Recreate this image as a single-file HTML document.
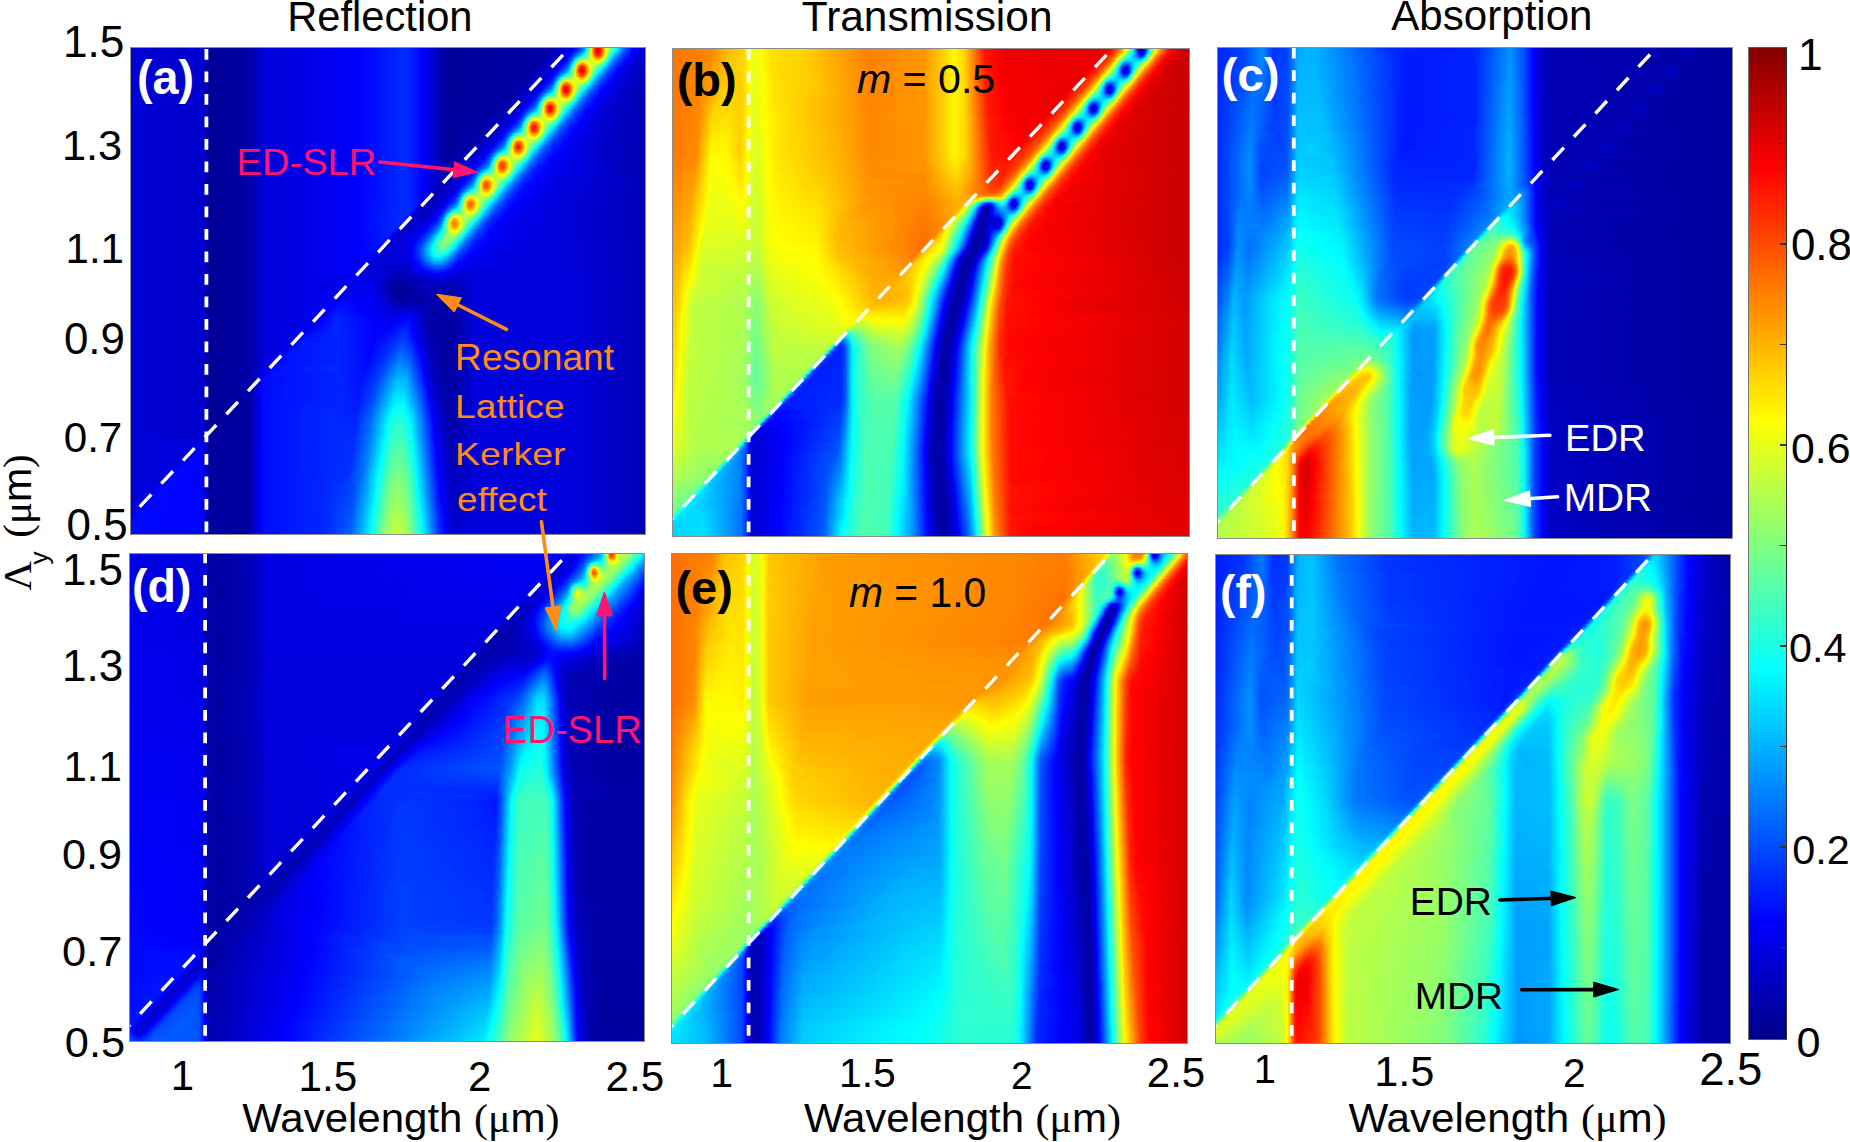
<!DOCTYPE html><html><head><meta charset="utf-8"><style>
html,body{margin:0;padding:0;background:#fff;width:1850px;height:1142px;overflow:hidden}
.p{position:absolute;border:1px solid #8c8c8c;overflow:hidden}
.q{position:absolute;left:0;top:-4px;width:100%;filter:url(#jet)}
.q i{position:absolute;left:0;width:100%;display:block}
svg{position:absolute;left:0;top:0}
text{font-family:"Liberation Sans",Arial,sans-serif}
</style></head><body>
<svg width="0" height="0" style="position:absolute"><filter id="jet" x="0" y="0" width="100%" height="100%" color-interpolation-filters="sRGB"><feGaussianBlur stdDeviation="0.4 1.2"/><feComponentTransfer><feFuncR type="table" tableValues="0 0 0 0 .5 1 1 1 .5"/><feFuncG type="table" tableValues="0 0 .5 1 1 1 .5 0 0"/><feFuncB type="table" tableValues=".5 1 1 1 .5 0 0 0 0"/></feComponentTransfer></filter></svg>
<div class="p" style="left:130px;top:47px;width:514px;height:486px"><div class="q" style="height:494px">
<i style="top:0px;height:5px;background:linear-gradient(90deg,#161616 0px,#141414 70px,#060606 80px,#0b0b0b 119px,#171717 134px,#1e1e1e 217px,#2b2b2b 275px,#242424 287px,#070707 316px,#0a0a0a 419px,#151515 436px,#242424 446px,#3a3a3a 452px,#505050 455px,#787878 458px,#c8c8c8 463px,#dcdcdc 465px,#e3e3e3 467px,#dbdbdb 469px,#969696 476px,#3c3c3c 493px,#232323 501px,#151515 513px)"></i>
<i style="top:5px;height:4px;background:linear-gradient(90deg,#161616 0px,#141414 70px,#060606 80px,#0b0b0b 119px,#171717 134px,#1e1e1e 217px,#2b2b2b 275px,#242424 287px,#070707 316px,#0a0a0a 417px,#151515 434px,#242424 444px,#3d3d3d 451px,#505050 454px,#717171 457px,#ccc 463px,#e0e0e0 465px,#e7e7e7 467px,#dfdfdf 469px,#949494 476px,#6a6a6a 482px,#393939 492px,#212121 501px,#141414 513px)"></i>
<i style="top:9px;height:4px;background:linear-gradient(90deg,#161616 0px,#141414 70px,#060606 80px,#0b0b0b 119px,#171717 134px,#1e1e1e 217px,#2b2b2b 275px,#242424 287px,#070707 316px,#0a0a0a 414px,#151515 431px,#232323 440px,#484848 448px,#6c6c6c 455px,#878787 458px,#ccc 464px,#d8d8d8 466px,#d7d7d7 468px,#c1c1c1 471px,#757575 478px,#525252 483px,#323232 491px,#1c1c1c 502px,#131313 513px)"></i>
<i style="top:13px;height:4px;background:linear-gradient(90deg,#161616 0px,#141414 70px,#060606 80px,#0b0b0b 119px,#171717 134px,#1e1e1e 217px,#2b2b2b 275px,#242424 287px,#070707 316px,#0a0a0a 411px,#161616 428px,#212121 436px,#363636 441px,#777 449px,#838383 452px,#8d8d8d 458px,#b4b4b4 465px,#b6b6b6 468px,#a4a4a4 471px,#5a5a5a 479px,#3e3e3e 484px,#252525 493px,#151515 507px,#121212 513px)"></i>
<i style="top:17px;height:4px;background:linear-gradient(90deg,#161616 0px,#141414 70px,#060606 80px,#0b0b0b 119px,#171717 134px,#1e1e1e 217px,#2b2b2b 275px,#242424 287px,#070707 316px,#0a0a0a 408px,#161616 425px,#232323 434px,#333 438px,#4c4c4c 441px,#a4a4a4 448px,#b1b1b1 450px,#b3b3b3 452px,#969696 459px,#949494 467px,#818181 471px,#484848 479px,#303030 485px,#1c1c1c 496px,#111 513px)"></i>
<i style="top:21px;height:4px;background:linear-gradient(90deg,#161616 0px,#141414 70px,#060606 80px,#0b0b0b 119px,#171717 134px,#1e1e1e 217px,#2b2b2b 275px,#242424 287px,#070707 316px,#0a0a0a 405px,#181818 424px,#292929 433px,#3b3b3b 437px,#565656 440px,#808080 443px,#bfbfbf 447px,#d4d4d4 449px,#dbdbdb 451px,#d4d4d4 453px,#9d9d9d 459px,#848484 464px,#636363 471px,#393939 479px,#222 488px,#141414 503px,#111 513px)"></i>
<i style="top:25px;height:4px;background:linear-gradient(90deg,#161616 0px,#141414 70px,#060606 80px,#0b0b0b 119px,#171717 134px,#1e1e1e 217px,#2b2b2b 275px,#242424 287px,#070707 316px,#0a0a0a 402px,#191919 422px,#2d2d2d 430px,#4c4c4c 437px,#666 440px,#9f9f9f 444px,#cbcbcb 447px,#dfdfdf 449px,#e7e7e7 451px,#dfdfdf 453px,#8a8a8a 461px,#626262 467px,#383838 476px,#212121 486px,#121212 503px,#101010 513px)"></i>
<i style="top:29px;height:4px;background:linear-gradient(90deg,#161616 0px,#141414 70px,#060606 80px,#0b0b0b 119px,#171717 134px,#1e1e1e 217px,#2b2b2b 275px,#242424 287px,#070707 316px,#0a0a0a 399px,#191919 419px,#292929 425px,#767676 440px,#9c9c9c 444px,#c6c6c6 448px,#d1d1d1 450px,#d1d1d1 452px,#bcbcbc 455px,#737373 462px,#505050 467px,#313131 475px,#1c1c1c 486px,#101010 507px,#0f0f0f 513px)"></i>
<i style="top:33px;height:4px;background:linear-gradient(90deg,#161616 0px,#141414 70px,#060606 80px,#0b0b0b 119px,#171717 134px,#1e1e1e 217px,#2b2b2b 275px,#242424 287px,#070707 316px,#0a0a0a 396px,#191919 416px,#292929 422px,#424242 426px,#7b7b7b 432px,#8b8b8b 435px,#8f8f8f 442px,#afafaf 450px,#a9a9a9 453px,#8c8c8c 457px,#575757 463px,#3d3d3d 468px,#252525 477px,#151515 492px,#0f0f0f 513px)"></i>
<i style="top:37px;height:4px;background:linear-gradient(90deg,#161616 0px,#141414 70px,#060606 80px,#0b0b0b 119px,#171717 134px,#1e1e1e 217px,#2b2b2b 275px,#242424 287px,#070707 316px,#0a0a0a 393px,#1a1a1a 413px,#2c2c2c 420px,#3d3d3d 423px,#5d5d5d 426px,#a3a3a3 431px,#b7b7b7 433px,#bebebe 435px,#b5b5b5 438px,#989898 443px,#8b8b8b 452px,#6d6d6d 457px,#464646 463px,#2d2d2d 470px,#1a1a1a 482px,#0f0f0f 507px,#0f0f0f 513px)"></i>
<i style="top:41px;height:4px;background:linear-gradient(90deg,#161616 0px,#141414 70px,#060606 80px,#0b0b0b 119px,#171717 134px,#1e1e1e 217px,#2b2b2b 275px,#242424 287px,#070707 316px,#0a0a0a 389px,#1b1b1b 410px,#333 419px,#454545 422px,#656565 425px,#c4c4c4 431px,#d9d9d9 433px,#e0e0e0 435px,#d9d9d9 437px,#979797 444px,#3c3c3c 462px,#242424 471px,#151515 487px,#0f0f0f 513px)"></i>
<i style="top:45px;height:4px;background:linear-gradient(90deg,#161616 0px,#141414 70px,#060606 80px,#0b0b0b 119px,#171717 134px,#1e1e1e 217px,#2b2b2b 275px,#242424 287px,#070707 316px,#0a0a0a 386px,#191919 406px,#303030 414px,#4f4f4f 421px,#686868 424px,#d4d4d4 432px,#e3e3e3 434px,#e2e2e2 436px,#d4d4d4 438px,#898989 445px,#5f5f5f 451px,#3a3a3a 459px,#222 469px,#141414 487px,#0e0e0e 513px)"></i>
<i style="top:49px;height:4px;background:linear-gradient(90deg,#161616 0px,#141414 70px,#060606 80px,#0b0b0b 119px,#171717 134px,#1e1e1e 217px,#2b2b2b 275px,#242424 287px,#070707 316px,#0b0b0b 384px,#1a1a1a 403px,#2c2c2c 409px,#656565 419px,#797979 424px,#9a9a9a 428px,#bfbfbf 432px,#cacaca 434px,#c9c9c9 436px,#b6b6b6 439px,#707070 446px,#4e4e4e 451px,#303030 459px,#1c1c1c 471px,#0f0f0f 499px,#0e0e0e 513px)"></i>
<i style="top:53px;height:4px;background:linear-gradient(90deg,#161616 0px,#141414 70px,#060606 80px,#0b0b0b 119px,#171717 134px,#1e1e1e 217px,#2b2b2b 275px,#242424 287px,#070707 316px,#0b0b0b 381px,#1a1a1a 400px,#2b2b2b 406px,#464646 410px,#858585 416px,#959595 419px,#929292 427px,#a7a7a7 434px,#a2a2a2 437px,#868686 441px,#555 447px,#383838 453px,#222 463px,#141414 481px,#0e0e0e 513px)"></i>
<i style="top:57px;height:4px;background:linear-gradient(90deg,#161616 0px,#141414 70px,#060606 80px,#0b0b0b 119px,#171717 134px,#1e1e1e 217px,#2b2b2b 275px,#242424 287px,#070707 316px,#0b0b0b 378px,#191919 396px,#2e2e2e 404px,#404040 407px,#606060 410px,#aaa 415px,#bebebe 417px,#c5c5c5 419px,#c1c1c1 421px,#999 427px,#848484 436px,#616161 442px,#3f3f3f 448px,#292929 456px,#181818 471px,#0e0e0e 509px,#0e0e0e 513px)"></i>
<i style="top:61px;height:4px;background:linear-gradient(90deg,#161616 0px,#141414 70px,#060606 80px,#0b0b0b 119px,#171717 134px,#1e1e1e 217px,#2b2b2b 275px,#242424 287px,#070707 316px,#0b0b0b 375px,#181818 392px,#313131 402px,#474747 406px,#676767 409px,#c4c4c4 415px,#dadada 417px,#e2e2e2 419px,#dadada 421px,#969696 428px,#565656 440px,#373737 447px,#222 457px,#141414 477px,#0e0e0e 513px)"></i>
<i style="top:65px;height:4px;background:linear-gradient(90deg,#161616 0px,#141414 70px,#060606 80px,#0b0b0b 119px,#171717 134px,#1e1e1e 217px,#2b2b2b 275px,#242424 287px,#070707 316px,#0b0b0b 372px,#191919 389px,#303030 397px,#595959 406px,#747474 409px,#cecece 416px,#dcdcdc 418px,#dcdcdc 420px,#cfcfcf 422px,#868686 429px,#5c5c5c 435px,#3a3a3a 443px,#232323 453px,#151515 472px,#0e0e0e 513px)"></i>
<i style="top:69px;height:4px;background:linear-gradient(90deg,#161616 0px,#141414 70px,#060606 80px,#0b0b0b 119px,#171717 134px,#1e1e1e 217px,#2b2b2b 275px,#242424 287px,#070707 316px,#0b0b0b 369px,#181818 385px,#2a2a2a 392px,#4f4f4f 398px,#6c6c6c 403px,#818181 409px,#bcbcbc 417px,#bfbfbf 420px,#aeaeae 423px,#656565 431px,#474747 436px,#2e2e2e 444px,#1c1c1c 457px,#0f0f0f 491px,#0e0e0e 513px)"></i>
<i style="top:73px;height:4px;background:linear-gradient(90deg,#161616 0px,#141414 70px,#060606 80px,#0b0b0b 119px,#171717 134px,#1e1e1e 217px,#2b2b2b 275px,#242424 287px,#070707 316px,#0c0c0c 366px,#191919 382px,#292929 389px,#414141 393px,#8c8c8c 400px,#9d9d9d 403px,#9b9b9b 406px,#929292 411px,#9f9f9f 418px,#999 421px,#7f7f7f 425px,#525252 431px,#383838 437px,#222 448px,#141414 471px,#0e0e0e 513px)"></i>
<i style="top:77px;height:4px;background:linear-gradient(90deg,#161616 0px,#141414 70px,#060606 80px,#0b0b0b 119px,#171717 134px,#1e1e1e 217px,#2b2b2b 275px,#242424 287px,#070707 316px,#0c0c0c 363px,#191919 379px,#2c2c2c 387px,#424242 391px,#636363 394px,#adadad 399px,#c2c2c2 401px,#cacaca 403px,#c5c5c5 405px,#9a9a9a 411px,#7a7a7a 421px,#424242 431px,#2b2b2b 439px,#1a1a1a 454px,#0e0e0e 498px,#0e0e0e 513px)"></i>
<i style="top:81px;height:4px;background:linear-gradient(90deg,#161616 0px,#141414 70px,#060606 80px,#0b0b0b 119px,#171717 134px,#1e1e1e 217px,#2b2b2b 275px,#242424 287px,#070707 316px,#0c0c0c 360px,#191919 375px,#313131 385px,#424242 389px,#5b5b5b 392px,#848484 395px,#c2c2c2 399px,#d7d7d7 401px,#dfdfdf 403px,#d8d8d8 405px,#959595 412px,#676767 420px,#3d3d3d 429px,#272727 438px,#181818 456px,#0e0e0e 508px,#0e0e0e 513px)"></i>
<i style="top:85px;height:4px;background:linear-gradient(90deg,#161616 0px,#141414 70px,#060606 80px,#0b0b0b 119px,#171717 134px,#1e1e1e 217px,#2b2b2b 275px,#242424 287px,#070707 316px,#0c0c0c 357px,#191919 372px,#2f2f2f 380px,#5c5c5c 390px,#747474 393px,#c6c6c6 400px,#d3d3d3 402px,#d3d3d3 404px,#bfbfbf 407px,#838383 413px,#5a5a5a 419px,#393939 427px,#232323 438px,#151515 463px,#0e0e0e 513px)"></i>
<i style="top:89px;height:4px;background:linear-gradient(90deg,#161616 0px,#141414 70px,#060606 80px,#0b0b0b 119px,#171717 134px,#1e1e1e 217px,#2b2b2b 275px,#242424 287px,#070707 316px,#0c0c0c 353px,#181818 368px,#292929 375px,#454545 380px,#6f6f6f 386px,#878787 394px,#b2b2b2 401px,#b5b5b5 404px,#a5a5a5 407px,#616161 415px,#424242 421px,#2a2a2a 430px,#1b1b1b 446px,#0e0e0e 497px,#0e0e0e 513px)"></i>
<i style="top:93px;height:4px;background:linear-gradient(90deg,#161616 0px,#141414 70px,#060606 80px,#0b0b0b 119px,#171717 134px,#1e1e1e 217px,#2b2b2b 275px,#242424 287px,#070707 316px,#0c0c0c 350px,#191919 365px,#2b2b2b 373px,#444 377px,#939393 384px,#a4a4a4 387px,#a1a1a1 390px,#929292 395px,#969696 403px,#868686 407px,#4f4f4f 415px,#373737 421px,#232323 432px,#151515 459px,#0e0e0e 513px)"></i>
<i style="top:97px;height:4px;background:linear-gradient(90deg,#161616 0px,#141414 70px,#060606 80px,#0b0b0b 119px,#171717 134px,#1e1e1e 217px,#2b2b2b 275px,#242424 287px,#070707 316px,#0d0d0d 347px,#181818 361px,#2e2e2e 371px,#444 375px,#646464 378px,#afafaf 383px,#c4c4c4 385px,#cdcdcd 387px,#c8c8c8 389px,#9a9a9a 395px,#707070 406px,#404040 415px,#2b2b2b 423px,#1c1c1c 439px,#0f0f0f 494px,#0e0e0e 513px)"></i>
<i style="top:101px;height:4px;background:linear-gradient(90deg,#161616 0px,#141414 70px,#060606 80px,#0b0b0b 119px,#171717 134px,#1e1e1e 217px,#2b2b2b 275px,#242424 287px,#070707 316px,#0d0d0d 344px,#191919 358px,#303030 368px,#454545 373px,#5c5c5c 376px,#828282 379px,#bebebe 383px,#d3d3d3 385px,#dbdbdb 387px,#d5d5d5 389px,#939393 396px,#646464 404px,#3b3b3b 413px,#272727 422px,#191919 443px,#0e0e0e 506px,#0e0e0e 513px)"></i>
<i style="top:105px;height:4px;background:linear-gradient(90deg,#161616 0px,#141414 70px,#060606 80px,#0b0b0b 119px,#171717 134px,#1e1e1e 217px,#2b2b2b 275px,#242424 287px,#070707 316px,#0e0e0e 341px,#1a1a1a 355px,#2a2a2a 362px,#656565 375px,#878787 379px,#bdbdbd 384px,#c9c9c9 386px,#cacaca 388px,#b7b7b7 391px,#787878 398px,#525252 404px,#353535 412px,#232323 423px,#131313 462px,#0e0e0e 513px)"></i>
<i style="top:109px;height:4px;background:linear-gradient(90deg,#161616 0px,#141414 70px,#060606 80px,#0b0b0b 119px,#171717 134px,#1e1e1e 217px,#2b2b2b 275px,#242424 287px,#070707 315px,#0e0e0e 338px,#1a1a1a 352px,#2b2b2b 359px,#424242 363px,#717171 369px,#7e7e7e 373px,#878787 378px,#a9a9a9 385px,#ababab 388px,#9d9d9d 391px,#585858 400px,#3c3c3c 406px,#272727 416px,#1a1a1a 438px,#0e0e0e 507px,#0e0e0e 513px)"></i>
<i style="top:113px;height:4px;background:linear-gradient(90deg,#161616 0px,#141414 70px,#060606 80px,#0b0b0b 119px,#171717 134px,#1e1e1e 217px,#2b2b2b 275px,#242424 287px,#080808 315px,#101010 339px,#242424 354px,#383838 359px,#515151 362px,#989898 368px,#a7a7a7 370px,#ababab 372px,#939393 379px,#8f8f8f 387px,#7f7f7f 391px,#484848 400px,#313131 407px,#202020 419px,#101010 482px,#0e0e0e 513px)"></i>
<i style="top:117px;height:4px;background:linear-gradient(90deg,#161616 0px,#141414 70px,#060606 80px,#0b0b0b 119px,#171717 134px,#1e1e1e 217px,#2b2b2b 275px,#242424 287px,#080808 315px,#111 337px,#272727 352px,#383838 357px,#4e4e4e 360px,#737373 363px,#afafaf 367px,#c5c5c5 369px,#cecece 371px,#c9c9c9 373px,#949494 380px,#6b6b6b 390px,#3e3e3e 399px,#292929 408px,#1d1d1d 424px,#0e0e0e 503px,#0e0e0e 513px)"></i>
<i style="top:121px;height:4px;background:linear-gradient(90deg,#161616 0px,#141414 70px,#060606 80px,#0b0b0b 119px,#171717 134px,#1e1e1e 217px,#2b2b2b 275px,#242424 287px,#090909 315px,#121212 335px,#272727 348px,#474747 357px,#5d5d5d 360px,#808080 363px,#c4c4c4 368px,#d2d2d2 370px,#d4d4d4 372px,#bfbfbf 375px,#919191 380px,#616161 388px,#3a3a3a 397px,#252525 407px,#1b1b1b 426px,#0e0e0e 507px,#0e0e0e 513px)"></i>
<i style="top:125px;height:4px;background:linear-gradient(90deg,#161616 0px,#141414 70px,#060606 80px,#0b0b0b 119px,#171717 134px,#1e1e1e 217px,#2b2b2b 275px,#242424 287px,#090909 315px,#121212 332px,#262626 344px,#454545 351px,#6e6e6e 360px,#8f8f8f 364px,#b4b4b4 368px,#c0c0c0 371px,#b6b6b6 374px,#676767 384px,#434343 391px,#2b2b2b 400px,#1e1e1e 414px,#0e0e0e 506px,#0e0e0e 513px)"></i>
<i style="top:129px;height:4px;background:linear-gradient(90deg,#161616 0px,#141414 70px,#060606 80px,#0b0b0b 119px,#171717 134px,#1e1e1e 217px,#2b2b2b 275px,#242424 287px,#0a0a0a 314px,#121212 329px,#262626 341px,#373737 345px,#777 353px,#838383 356px,#8a8a8a 363px,#a2a2a2 370px,#9e9e9e 373px,#878787 377px,#555 384px,#383838 391px,#252525 401px,#1b1b1b 421px,#0e0e0e 513px)"></i>
<i style="top:133px;height:4px;background:linear-gradient(90deg,#161616 0px,#141414 70px,#060606 80px,#0b0b0b 119px,#171717 134px,#1e1e1e 217px,#2b2b2b 275px,#232323 288px,#0b0b0b 314px,#141414 328px,#2b2b2b 340px,#404040 344px,#5e5e5e 347px,#9c9c9c 352px,#ababab 354px,#afafaf 356px,#919191 364px,#878787 372px,#676767 378px,#414141 385px,#2a2a2a 394px,#1d1d1d 409px,#0e0e0e 512px,#0e0e0e 513px)"></i>
<i style="top:137px;height:4px;background:linear-gradient(90deg,#161616 0px,#141414 70px,#060606 80px,#0b0b0b 119px,#171717 134px,#1e1e1e 217px,#2b2b2b 275px,#232323 288px,#0b0b0b 314px,#181818 328px,#323232 339px,#474747 343px,#666 346px,#bababa 352px,#cacaca 354px,#ccc 356px,#bababa 359px,#939393 364px,#5c5c5c 376px,#393939 384px,#252525 394px,#1b1b1b 413px,#0e0e0e 513px)"></i>
<i style="top:141px;height:4px;background:linear-gradient(90deg,#161616 0px,#141414 70px,#060606 80px,#0b0b0b 119px,#171717 134px,#1e1e1e 217px,#2b2b2b 275px,#232323 288px,#0c0c0c 311px,#171717 325px,#2f2f2f 334px,#4f4f4f 342px,#676767 345px,#bcbcbc 352px,#cbcbcb 354px,#ccc 356px,#bababa 359px,#878787 365px,#4f4f4f 375px,#333 383px,#222 394px,#1a1a1a 421px,#0e0e0e 513px)"></i>
<i style="top:145px;height:4px;background:linear-gradient(90deg,#161616 0px,#141414 70px,#060606 80px,#0b0b0b 119px,#171717 134px,#1e1e1e 217px,#2b2b2b 275px,#232323 288px,#0c0c0c 308px,#191919 323px,#292929 329px,#606060 340px,#757575 345px,#b1b1b1 353px,#b5b5b5 356px,#a7a7a7 359px,#646464 368px,#414141 375px,#2a2a2a 384px,#1d1d1d 398px,#0e0e0e 513px)"></i>
<i style="top:149px;height:4px;background:linear-gradient(90deg,#161616 0px,#141414 70px,#060606 80px,#0b0b0b 119px,#171717 134px,#1e1e1e 217px,#2b2b2b 275px,#232323 288px,#141414 299px,#0c0c0c 305px,#1b1b1b 321px,#2c2c2c 327px,#474747 331px,#7d7d7d 337px,#898989 340px,#8a8a8a 347px,#9b9b9b 354px,#969696 357px,#7a7a7a 362px,#4d4d4d 369px,#343434 376px,#222 387px,#1a1a1a 412px,#0e0e0e 513px)"></i>
<i style="top:153px;height:4px;background:linear-gradient(90deg,#161616 0px,#141414 70px,#060606 80px,#0b0b0b 119px,#171717 134px,#1e1e1e 217px,#2b2b2b 274px,#242424 287px,#181818 295px,#0d0d0d 300px,#171717 315px,#292929 324px,#404040 328px,#5f5f5f 331px,#9f9f9f 336px,#aeaeae 338px,#b2b2b2 340px,#919191 348px,#818181 356px,#5d5d5d 363px,#3c3c3c 370px,#262626 380px,#1b1b1b 397px,#0e0e0e 513px)"></i>
<i style="top:157px;height:4px;background:linear-gradient(90deg,#161616 0px,#141414 70px,#060606 80px,#0b0b0b 119px,#171717 134px,#1e1e1e 217px,#2b2b2b 274px,#252525 286px,#181818 292px,#0d0d0d 297px,#171717 312px,#2d2d2d 322px,#3f3f3f 326px,#595959 329px,#b7b7b7 336px,#c6c6c6 338px,#c9c9c9 340px,#b8b8b8 343px,#929292 348px,#3f3f3f 366px,#282828 375px,#1c1c1c 390px,#0e0e0e 513px)"></i>
<i style="top:161px;height:4px;background:linear-gradient(90deg,#161616 0px,#141414 70px,#060606 80px,#0b0b0b 119px,#171717 134px,#1e1e1e 217px,#2b2b2b 274px,#272727 284px,#0e0e0e 292px,#131313 305px,#212121 314px,#4b4b4b 325px,#666 329px,#b4b4b4 336px,#c2c2c2 338px,#c4c4c4 340px,#b3b3b3 343px,#7e7e7e 350px,#4d4d4d 359px,#323232 367px,#202020 379px,#191919 410px,#0e0e0e 513px)"></i>
<i style="top:165px;height:4px;background:linear-gradient(90deg,#161616 0px,#141414 70px,#060606 80px,#0b0b0b 119px,#171717 134px,#1e1e1e 217px,#2b2b2b 274px,#262626 282px,#101010 288px,#101010 297px,#1d1d1d 309px,#2e2e2e 314px,#616161 323px,#7b7b7b 330px,#a8a8a8 337px,#acacac 340px,#a0a0a0 343px,#5b5b5b 353px,#3c3c3c 360px,#262626 370px,#1b1b1b 387px,#0e0e0e 513px)"></i>
<i style="top:169px;height:4px;background:linear-gradient(90deg,#161616 0px,#141414 70px,#060606 80px,#0b0b0b 119px,#171717 134px,#1e1e1e 217px,#2b2b2b 274px,#262626 279px,#0f0f0f 285px,#151515 300px,#252525 309px,#383838 313px,#828282 321px,#8e8e8e 324px,#8c8c8c 332px,#949494 338px,#8c8c8c 342px,#474747 354px,#2e2e2e 362px,#1e1e1e 375px,#191919 418px,#0e0e0e 513px)"></i>
<i style="top:173px;height:4px;background:linear-gradient(90deg,#161616 0px,#141414 70px,#060606 80px,#0b0b0b 119px,#171717 134px,#1e1e1e 217px,#2b2b2b 272px,#242424 276px,#111 281px,#131313 293px,#222 305px,#333 310px,#494949 313px,#7a7a7a 317px,#a0a0a0 320px,#b0b0b0 322px,#b4b4b4 324px,#a8a8a8 327px,#909090 332px,#7d7d7d 340px,#3e3e3e 353px,#282828 362px,#1c1c1c 377px,#141414 458px,#0e0e0e 513px)"></i>
<i style="top:177px;height:4px;background:linear-gradient(90deg,#161616 0px,#141414 70px,#060606 80px,#0b0b0b 119px,#171717 134px,#1e1e1e 217px,#2a2a2a 269px,#212121 273px,#101010 278px,#191919 296px,#2c2c2c 306px,#3e3e3e 310px,#585858 313px,#b2b2b2 320px,#c1c1c1 322px,#c4c4c4 324px,#b4b4b4 327px,#909090 332px,#404040 349px,#292929 358px,#1c1c1c 373px,#141414 456px,#0e0e0e 513px)"></i>
<i style="top:181px;height:4px;background:linear-gradient(90deg,#161616 0px,#141414 70px,#060606 80px,#0b0b0b 119px,#171717 134px,#1e1e1e 217px,#2a2a2a 266px,#111 274px,#191919 292px,#2d2d2d 303px,#454545 309px,#636363 313px,#acacac 320px,#bbb 323px,#b3b3b3 326px,#6f6f6f 336px,#434343 345px,#2a2a2a 354px,#1d1d1d 368px,#141414 457px,#0e0e0e 513px)"></i>
<i style="top:185px;height:4px;background:linear-gradient(90deg,#161616 0px,#141414 70px,#060606 80px,#0b0b0b 119px,#171717 134px,#1e1e1e 217px,#282828 263px,#121212 270px,#171717 286px,#282828 298px,#434343 306px,#6d6d6d 313px,#9c9c9c 320px,#a3a3a3 323px,#9d9d9d 326px,#4e4e4e 339px,#323232 347px,#212121 358px,#191919 384px,#161616 447px,#0e0e0e 513px)"></i>
<i style="top:189px;height:4px;background:linear-gradient(90deg,#161616 0px,#141414 70px,#060606 80px,#0b0b0b 119px,#171717 134px,#1e1e1e 217px,#282828 259px,#121212 267px,#1c1c1c 287px,#2f2f2f 297px,#4e4e4e 305px,#808080 315px,#8f8f8f 321px,#898989 325px,#6a6a6a 331px,#454545 338px,#2b2b2b 347px,#1d1d1d 361px,#191919 417px,#0e0e0e 513px)"></i>
<i style="top:193px;height:4px;background:linear-gradient(90deg,#161616 0px,#141414 70px,#060606 80px,#0b0b0b 119px,#171717 134px,#1e1e1e 217px,#262626 256px,#121212 263px,#1b1b1b 283px,#2f2f2f 294px,#494949 301px,#7b7b7b 311px,#858585 317px,#7f7f7f 322px,#666 328px,#3f3f3f 336px,#292929 345px,#1c1c1c 360px,#151515 451px,#0e0e0e 513px)"></i>
<i style="top:197px;height:4px;background:linear-gradient(90deg,#161616 0px,#141414 70px,#060606 80px,#0b0b0b 119px,#171717 134px,#1e1e1e 217px,#252525 252px,#121212 260px,#1d1d1d 282px,#323232 292px,#555 301px,#7c7c7c 309px,#848484 314px,#787878 320px,#3b3b3b 334px,#252525 344px,#1b1b1b 361px,#161616 448px,#0e0e0e 513px)"></i>
<i style="top:201px;height:4px;background:linear-gradient(90deg,#161616 0px,#141414 70px,#060606 80px,#0b0b0b 119px,#171717 134px,#1e1e1e 217px,#232323 249px,#131313 256px,#1c1c1c 280px,#2e2e2e 289px,#7b7b7b 309px,#7e7e7e 314px,#6a6a6a 320px,#3c3c3c 330px,#282828 339px,#1b1b1b 355px,#161616 448px,#0e0e0e 513px)"></i>
<i style="top:205px;height:4px;background:linear-gradient(90deg,#161616 0px,#141414 70px,#060606 80px,#0b0b0b 119px,#171717 134px,#1e1e1e 217px,#232323 245px,#131313 253px,#1c1c1c 279px,#2d2d2d 288px,#686868 304px,#727272 311px,#6a6a6a 316px,#373737 328px,#252525 337px,#1a1a1a 356px,#161616 446px,#0e0e0e 513px)"></i>
<i style="top:209px;height:4px;background:linear-gradient(90deg,#161616 0px,#141414 70px,#060606 80px,#0b0b0b 119px,#171717 134px,#1e1e1e 217px,#212121 242px,#141414 249px,#1a1a1a 278px,#2a2a2a 287px,#616161 303px,#666 309px,#575757 316px,#2e2e2e 328px,#202020 338px,#181818 367px,#171717 444px,#0e0e0e 513px)"></i>
<i style="top:213px;height:4px;background:linear-gradient(90deg,#161616 0px,#141414 70px,#060606 80px,#0b0b0b 119px,#171717 134px,#1e1e1e 217px,#202020 238px,#151515 246px,#191919 277px,#272727 287px,#565656 303px,#585858 309px,#454545 317px,#282828 327px,#1d1d1d 338px,#181818 383px,#161616 445px,#0e0e0e 513px)"></i>
<i style="top:217px;height:4px;background:linear-gradient(90deg,#161616 0px,#141414 70px,#060606 80px,#0b0b0b 119px,#171717 134px,#1e1e1e 217px,#1f1f1f 235px,#151515 242px,#161616 276px,#252525 288px,#474747 303px,#474747 310px,#212121 327px,#1a1a1a 344px,#161616 446px,#0e0e0e 513px)"></i>
<i style="top:221px;height:4px;background:linear-gradient(90deg,#161616 0px,#141414 70px,#060606 80px,#0b0b0b 119px,#171717 134px,#1e1e1e 217px,#1e1e1e 231px,#161616 239px,#131313 274px,#232323 290px,#383838 304px,#343434 313px,#1b1b1b 328px,#161616 446px,#0e0e0e 513px)"></i>
<i style="top:225px;height:4px;background:linear-gradient(90deg,#161616 0px,#141414 70px,#060606 80px,#0b0b0b 119px,#171717 134px,#1e1e1e 217px,#1d1d1d 228px,#181818 236px,#151515 253px,#0f0f0f 271px,#212121 294px,#2a2a2a 307px,#171717 330px,#171717 442px,#0e0e0e 513px)"></i>
<i style="top:229px;height:4px;background:linear-gradient(90deg,#161616 0px,#141414 70px,#060606 80px,#0b0b0b 119px,#171717 134px,#1e1e1e 217px,#191919 235px,#151515 251px,#0c0c0c 268px,#1f1f1f 307px,#151515 330px,#181818 356px,#171717 443px,#0e0e0e 513px)"></i>
<i style="top:233px;height:4px;background:linear-gradient(90deg,#161616 0px,#141414 70px,#060606 80px,#0b0b0b 119px,#171717 134px,#1b1b1b 222px,#181818 247px,#090909 267px,#171717 304px,#131313 329px,#181818 348px,#171717 443px,#0e0e0e 513px)"></i>
<i style="top:237px;height:4px;background:linear-gradient(90deg,#161616 0px,#141414 70px,#060606 80px,#0b0b0b 119px,#171717 134px,#1c1c1c 241px,#060606 267px,#121212 299px,#111 328px,#181818 345px,#171717 443px,#0e0e0e 513px)"></i>
<i style="top:241px;height:7px;background:linear-gradient(90deg,#161616 0px,#141414 70px,#060606 80px,#0b0b0b 119px,#171717 134px,#1c1c1c 241px,#050505 266px,#0f0f0f 297px,#0e0e0e 327px,#181818 344px,#171717 442px,#0e0e0e 513px)"></i>
<i style="top:248px;height:6px;background:linear-gradient(90deg,#161616 0px,#141414 70px,#060606 80px,#0b0b0b 119px,#171717 134px,#1c1c1c 206px,#1e1e1e 239px,#060606 267px,#0d0d0d 297px,#0c0c0c 326px,#171717 343px,#171717 442px,#0e0e0e 513px)"></i>
<i style="top:254px;height:4px;background:linear-gradient(90deg,#161616 0px,#141414 70px,#060606 80px,#0b0b0b 119px,#171717 134px,#1c1c1c 201px,#212121 218px,#1b1b1b 245px,#090909 267px,#0b0b0b 299px,#0b0b0b 326px,#171717 343px,#171717 442px,#0e0e0e 513px)"></i>
<i style="top:258px;height:4px;background:linear-gradient(90deg,#161616 0px,#141414 70px,#060606 80px,#0b0b0b 119px,#171717 134px,#1c1c1c 198px,#232323 211px,#1c1c1c 246px,#0d0d0d 267px,#0c0c0c 294px,#0a0a0a 324px,#171717 343px,#171717 442px,#0e0e0e 513px)"></i>
<i style="top:262px;height:4px;background:linear-gradient(90deg,#161616 0px,#141414 70px,#060606 80px,#0b0b0b 119px,#171717 134px,#1c1c1c 194px,#252525 208px,#1b1b1b 249px,#121212 267px,#131313 282px,#080808 312px,#0d0d0d 328px,#171717 343px,#171717 442px,#0e0e0e 513px)"></i>
<i style="top:266px;height:4px;background:linear-gradient(90deg,#161616 0px,#141414 70px,#060606 80px,#0b0b0b 119px,#171717 134px,#1c1c1c 191px,#262626 207px,#191919 253px,#171717 267px,#1a1a1a 279px,#0a0a0a 300px,#0b0b0b 326px,#171717 343px,#171717 442px,#0e0e0e 513px)"></i>
<i style="top:270px;height:4px;background:linear-gradient(90deg,#161616 0px,#141414 70px,#060606 80px,#0b0b0b 119px,#171717 134px,#1c1c1c 187px,#282828 206px,#191919 264px,#1f1f1f 277px,#0b0b0b 298px,#0a0a0a 325px,#171717 343px,#171717 442px,#0e0e0e 513px)"></i>
<i style="top:274px;height:4px;background:linear-gradient(90deg,#161616 0px,#141414 70px,#060606 80px,#0b0b0b 119px,#171717 134px,#1b1b1b 183px,#292929 206px,#1c1c1c 262px,#232323 276px,#0b0b0b 297px,#080808 323px,#171717 343px,#171717 442px,#0e0e0e 513px)"></i>
<i style="top:278px;height:4px;background:linear-gradient(90deg,#161616 0px,#141414 70px,#060606 80px,#0b0b0b 119px,#171717 134px,#1b1b1b 179px,#292929 206px,#1d1d1d 258px,#262626 275px,#0c0c0c 297px,#080808 322px,#171717 343px,#171717 442px,#0e0e0e 513px)"></i>
<i style="top:282px;height:4px;background:linear-gradient(90deg,#161616 0px,#141414 70px,#060606 80px,#0b0b0b 119px,#171717 134px,#1b1b1b 175px,#2a2a2a 203px,#1e1e1e 254px,#292929 275px,#0c0c0c 297px,#080808 321px,#171717 343px,#171717 442px,#0e0e0e 513px)"></i>
<i style="top:286px;height:4px;background:linear-gradient(90deg,#161616 0px,#141414 70px,#060606 80px,#0b0b0b 119px,#171717 134px,#1b1b1b 171px,#232323 181px,#292929 207px,#1f1f1f 247px,#242424 262px,#2c2c2c 274px,#191919 287px,#090909 302px,#0a0a0a 326px,#171717 343px,#171717 442px,#0e0e0e 513px)"></i>
<i style="top:290px;height:4px;background:linear-gradient(90deg,#161616 0px,#141414 70px,#060606 80px,#0b0b0b 119px,#171717 134px,#1b1b1b 167px,#242424 176px,#292929 208px,#202020 246px,#262626 261px,#2e2e2e 273px,#202020 284px,#0c0c0c 298px,#080808 320px,#171717 344px,#171717 442px,#0e0e0e 513px)"></i>
<i style="top:294px;height:4px;background:linear-gradient(90deg,#161616 0px,#141414 70px,#060606 80px,#0b0b0b 119px,#171717 134px,#1b1b1b 163px,#242424 171px,#292929 208px,#202020 244px,#272727 260px,#303030 272px,#252525 282px,#0d0d0d 297px,#080808 315px,#0d0d0d 329px,#171717 343px,#171717 442px,#0e0e0e 513px)"></i>
<i style="top:298px;height:4px;background:linear-gradient(90deg,#161616 0px,#141414 70px,#060606 80px,#0b0b0b 119px,#171717 134px,#1b1b1b 159px,#252525 167px,#292929 208px,#212121 242px,#292929 259px,#333 272px,#272727 282px,#0d0d0d 298px,#080808 316px,#0d0d0d 329px,#171717 343px,#171717 442px,#0e0e0e 513px)"></i>
<i style="top:302px;height:4px;background:linear-gradient(90deg,#161616 0px,#141414 70px,#060606 80px,#0b0b0b 119px,#171717 134px,#1a1a1a 155px,#252525 163px,#292929 208px,#212121 241px,#2a2a2a 258px,#363636 271px,#2b2b2b 281px,#0f0f0f 297px,#080808 312px,#0b0b0b 327px,#171717 343px,#171717 442px,#0e0e0e 513px)"></i>
<i style="top:306px;height:4px;background:linear-gradient(90deg,#161616 0px,#141414 70px,#060606 80px,#0b0b0b 119px,#171717 134px,#1b1b1b 152px,#252525 160px,#292929 208px,#212121 239px,#2b2b2b 256px,#393939 270px,#323232 279px,#101010 297px,#080808 311px,#0b0b0b 327px,#171717 343px,#171717 442px,#0e0e0e 513px)"></i>
<i style="top:310px;height:4px;background:linear-gradient(90deg,#161616 0px,#141414 70px,#060606 80px,#0b0b0b 119px,#171717 134px,#1b1b1b 148px,#252525 156px,#292929 209px,#222 239px,#2c2c2c 255px,#3d3d3d 270px,#353535 279px,#101010 298px,#080808 312px,#0b0b0b 327px,#171717 343px,#171717 442px,#0e0e0e 513px)"></i>
<i style="top:314px;height:4px;background:linear-gradient(90deg,#161616 0px,#141414 70px,#060606 80px,#0b0b0b 119px,#171717 134px,#1c1c1c 145px,#242424 152px,#292929 209px,#222 238px,#2d2d2d 254px,#404040 269px,#393939 278px,#111 298px,#080808 312px,#0b0b0b 327px,#171717 343px,#171717 442px,#0e0e0e 513px)"></i>
<i style="top:318px;height:4px;background:linear-gradient(90deg,#161616 0px,#141414 70px,#060606 80px,#0b0b0b 119px,#171717 135px,#1d1d1d 142px,#242424 149px,#292929 209px,#222 236px,#2d2d2d 252px,#434343 269px,#3c3c3c 278px,#111 299px,#080808 313px,#0b0b0b 327px,#171717 343px,#171717 442px,#0e0e0e 513px)"></i>
<i style="top:322px;height:4px;background:linear-gradient(90deg,#161616 0px,#141414 70px,#060606 80px,#0b0b0b 119px,#1e1e1e 139px,#242424 147px,#2a2a2a 200px,#232323 236px,#2f2f2f 251px,#464646 268px,#414141 277px,#121212 299px,#090909 312px,#0b0b0b 327px,#171717 343px,#171717 442px,#0e0e0e 513px)"></i>
<i style="top:326px;height:4px;background:linear-gradient(90deg,#161616 0px,#141414 70px,#060606 80px,#0b0b0b 119px,#242424 141px,#292929 209px,#232323 234px,#2e2e2e 249px,#494949 267px,#464646 276px,#121212 300px,#090909 313px,#0b0b0b 327px,#171717 343px,#171717 442px,#0e0e0e 513px)"></i>
<i style="top:330px;height:4px;background:linear-gradient(90deg,#161616 0px,#141414 70px,#060606 80px,#0b0b0b 119px,#191919 130px,#232323 136px,#292929 209px,#242424 233px,#2f2f2f 248px,#4c4c4c 267px,#494949 276px,#131313 300px,#090909 313px,#0b0b0b 327px,#171717 343px,#171717 442px,#0e0e0e 513px)"></i>
<i style="top:334px;height:4px;background:linear-gradient(90deg,#161616 0px,#141414 70px,#060606 80px,#0b0b0b 119px,#171717 127px,#232323 133px,#292929 209px,#242424 231px,#2f2f2f 246px,#4f4f4f 266px,#4d4d4d 275px,#2f2f2f 288px,#111 302px,#080808 317px,#0d0d0d 329px,#171717 343px,#171717 442px,#0e0e0e 513px)"></i>
<i style="top:338px;height:5px;background:linear-gradient(90deg,#161616 0px,#141414 70px,#060606 80px,#0b0b0b 119px,#232323 132px,#292929 209px,#242424 230px,#303030 245px,#525252 266px,#505050 275px,#323232 288px,#121212 302px,#090909 317px,#0d0d0d 329px,#171717 343px,#171717 442px,#0e0e0e 513px)"></i>
<i style="top:343px;height:5px;background:linear-gradient(90deg,#161616 0px,#141414 70px,#060606 80px,#0b0b0b 119px,#232323 132px,#292929 209px,#252525 229px,#313131 244px,#555 265px,#545454 274px,#3d3d3d 285px,#161616 301px,#0a0a0a 314px,#0b0b0b 327px,#171717 343px,#171717 442px,#0e0e0e 513px)"></i>
<i style="top:348px;height:5px;background:linear-gradient(90deg,#161616 0px,#141414 70px,#060606 80px,#0a0a0a 119px,#232323 132px,#292929 209px,#262626 229px,#323232 243px,#585858 265px,#575757 274px,#404040 285px,#171717 301px,#0a0a0a 314px,#0c0c0c 327px,#171717 343px,#171717 442px,#0e0e0e 513px)"></i>
<i style="top:353px;height:5px;background:linear-gradient(90deg,#161616 0px,#141414 70px,#060606 80px,#0a0a0a 119px,#232323 132px,#292929 209px,#262626 228px,#333 242px,#5b5b5b 264px,#5b5b5b 273px,#454545 284px,#171717 302px,#0a0a0a 315px,#0c0c0c 327px,#171717 343px,#171717 442px,#0e0e0e 513px)"></i>
<i style="top:358px;height:5px;background:linear-gradient(90deg,#161616 0px,#141414 70px,#060606 80px,#0a0a0a 119px,#232323 132px,#292929 209px,#272727 227px,#363636 242px,#5e5e5e 264px,#5e5e5e 273px,#484848 284px,#191919 302px,#0b0b0b 315px,#0c0c0c 327px,#171717 343px,#171717 442px,#0e0e0e 513px)"></i>
<i style="top:363px;height:5px;background:linear-gradient(90deg,#161616 0px,#141414 70px,#060606 80px,#0a0a0a 119px,#232323 132px,#2a2a2a 200px,#272727 226px,#373737 241px,#616161 263px,#626262 272px,#505050 282px,#1b1b1b 302px,#0c0c0c 315px,#0c0c0c 327px,#171717 343px,#171717 442px,#0e0e0e 513px)"></i>
<i style="top:368px;height:5px;background:linear-gradient(90deg,#161616 0px,#141414 70px,#060606 80px,#0a0a0a 119px,#232323 132px,#2a2a2a 199px,#282828 225px,#383838 240px,#636363 262px,#666 271px,#565656 281px,#1b1b1b 303px,#0b0b0b 317px,#0d0d0d 328px,#171717 343px,#171717 442px,#0e0e0e 513px)"></i>
<i style="top:373px;height:7px;background:linear-gradient(90deg,#161616 0px,#141414 70px,#060606 80px,#0a0a0a 119px,#232323 132px,#2a2a2a 199px,#292929 225px,#3b3b3b 240px,#676767 262px,#6a6a6a 271px,#595959 281px,#1d1d1d 303px,#0d0d0d 316px,#0c0c0c 327px,#171717 343px,#171717 442px,#0e0e0e 513px)"></i>
<i style="top:380px;height:10px;background:linear-gradient(90deg,#161616 0px,#141414 70px,#060606 80px,#0a0a0a 119px,#232323 132px,#2a2a2a 199px,#2a2a2a 224px,#3c3c3c 239px,#6a6a6a 261px,#6e6e6e 270px,#5f5f5f 280px,#1d1d1d 304px,#0c0c0c 318px,#0e0e0e 329px,#171717 344px,#171717 442px,#0e0e0e 513px)"></i>
<i style="top:390px;height:4px;background:linear-gradient(90deg,#161616 0px,#141414 71px,#070707 82px,#0a0a0a 119px,#232323 132px,#2a2a2a 199px,#2b2b2b 224px,#3f3f3f 239px,#6c6c6c 261px,#707070 270px,#616161 280px,#1e1e1e 304px,#0d0d0d 318px,#0e0e0e 329px,#171717 344px,#171717 442px,#0e0e0e 513px)"></i>
<i style="top:394px;height:4px;background:linear-gradient(90deg,#161616 0px,#161616 73px,#070707 80px,#0a0a0a 119px,#232323 132px,#2a2a2a 199px,#2b2b2b 223px,#3e3e3e 238px,#6e6e6e 261px,#727272 270px,#636363 280px,#1f1f1f 304px,#0d0d0d 318px,#0f0f0f 329px,#171717 344px,#171717 442px,#0e0e0e 513px)"></i>
<i style="top:398px;height:4px;background:linear-gradient(90deg,#161616 0px,#181818 65px,#1e1e1e 70px,#080808 79px,#090909 118px,#232323 132px,#2a2a2a 198px,#2b2b2b 223px,#3f3f3f 238px,#6e6e6e 260px,#737373 270px,#646464 280px,#1e1e1e 305px,#0d0d0d 319px,#101010 330px,#171717 345px,#171717 442px,#0e0e0e 513px)"></i>
<i style="top:402px;height:4px;background:linear-gradient(90deg,#161616 0px,#181818 61px,#212121 68px,#181818 73px,#080808 79px,#090909 118px,#232323 132px,#2a2a2a 198px,#2c2c2c 223px,#404040 238px,#707070 260px,#757575 270px,#656565 280px,#1f1f1f 305px,#0d0d0d 319px,#101010 330px,#171717 345px,#171717 442px,#0e0e0e 513px)"></i>
<i style="top:406px;height:4px;background:linear-gradient(90deg,#161616 0px,#171717 57px,#222 66px,#1b1b1b 72px,#080808 79px,#090909 118px,#232323 132px,#2c2c2c 223px,#424242 238px,#717171 260px,#767676 270px,#676767 280px,#202020 305px,#0e0e0e 319px,#101010 330px,#171717 345px,#171717 442px,#0e0e0e 513px)"></i>
<i style="top:410px;height:4px;background:linear-gradient(90deg,#161616 0px,#181818 54px,#222 62px,#202020 70px,#080808 79px,#090909 118px,#232323 132px,#2c2c2c 222px,#414141 237px,#737373 260px,#787878 270px,#686868 280px,#212121 305px,#0e0e0e 319px,#101010 330px,#171717 345px,#171717 442px,#0e0e0e 513px)"></i>
<i style="top:414px;height:4px;background:linear-gradient(90deg,#161616 0px,#181818 50px,#222 58px,#202020 70px,#080808 79px,#090909 118px,#232323 132px,#2c2c2c 221px,#404040 236px,#757575 260px,#797979 270px,#6a6a6a 280px,#212121 305px,#0f0f0f 319px,#101010 330px,#171717 345px,#171717 442px,#0e0e0e 513px)"></i>
<i style="top:418px;height:4px;background:linear-gradient(90deg,#161616 0px,#181818 46px,#222 55px,#202020 70px,#080808 79px,#090909 118px,#232323 132px,#2c2c2c 220px,#3f3f3f 235px,#767676 260px,#7b7b7b 270px,#6b6b6b 280px,#222 305px,#0f0f0f 319px,#0f0f0f 329px,#171717 345px,#171717 442px,#0e0e0e 513px)"></i>
<i style="top:422px;height:4px;background:linear-gradient(90deg,#161616 0px,#171717 42px,#222 51px,#202020 70px,#080808 79px,#090909 118px,#232323 132px,#2c2c2c 219px,#3e3e3e 234px,#767676 259px,#7d7d7d 269px,#6f6f6f 279px,#212121 306px,#0f0f0f 320px,#111 331px,#171717 346px,#171717 442px,#0e0e0e 513px)"></i>
<i style="top:426px;height:4px;background:linear-gradient(90deg,#161616 0px,#181818 39px,#222 47px,#202020 70px,#080808 79px,#090909 118px,#232323 132px,#2c2c2c 218px,#3c3c3c 232px,#787878 259px,#7e7e7e 269px,#707070 279px,#222 306px,#0f0f0f 320px,#111 331px,#171717 346px,#171717 442px,#0e0e0e 513px)"></i>
<i style="top:430px;height:4px;background:linear-gradient(90deg,#161616 0px,#181818 35px,#222 43px,#202020 70px,#080808 79px,#090909 118px,#232323 132px,#2c2c2c 217px,#3b3b3b 231px,#797979 259px,#808080 269px,#727272 279px,#232323 306px,#0f0f0f 320px,#111 331px,#171717 346px,#171717 442px,#0e0e0e 513px)"></i>
<i style="top:434px;height:4px;background:linear-gradient(90deg,#161616 0px,#181818 31px,#222 40px,#202020 70px,#080808 79px,#090909 118px,#232323 132px,#2c2c2c 215px,#393939 229px,#616161 247px,#7e7e7e 261px,#818181 270px,#717171 280px,#242424 306px,#101010 320px,#121212 331px,#171717 346px,#171717 442px,#0e0e0e 513px)"></i>
<i style="top:438px;height:4px;background:linear-gradient(90deg,#161616 0px,#191919 28px,#222 36px,#202020 70px,#080808 79px,#090909 118px,#232323 132px,#2a2a2a 197px,#313131 222px,#4a4a4a 237px,#7b7b7b 258px,#838383 268px,#777 278px,#444 295px,#212121 308px,#0f0f0f 322px,#171717 347px,#171717 442px,#0e0e0e 513px)"></i>
<i style="top:442px;height:4px;background:linear-gradient(90deg,#161616 0px,#181818 24px,#222 32px,#202020 70px,#080808 79px,#090909 118px,#232323 132px,#2a2a2a 197px,#313131 222px,#4b4b4b 237px,#7c7c7c 258px,#848484 268px,#787878 278px,#494949 294px,#212121 308px,#0f0f0f 322px,#171717 348px,#171717 442px,#0e0e0e 513px)"></i>
<i style="top:446px;height:4px;background:linear-gradient(90deg,#161616 0px,#181818 20px,#222 28px,#202020 70px,#080808 79px,#090909 118px,#232323 132px,#2a2a2a 197px,#313131 221px,#4a4a4a 236px,#7e7e7e 258px,#858585 268px,#797979 278px,#4a4a4a 294px,#222 308px,#101010 322px,#171717 348px,#171717 442px,#0e0e0e 513px)"></i>
<i style="top:450px;height:4px;background:linear-gradient(90deg,#161616 0px,#191919 17px,#222 25px,#212121 69px,#080808 79px,#090909 118px,#232323 132px,#2a2a2a 196px,#323232 221px,#4b4b4b 236px,#7f7f7f 258px,#868686 268px,#7a7a7a 278px,#4b4b4b 294px,#232323 308px,#101010 322px,#181818 348px,#171717 442px,#0e0e0e 513px)"></i>
<i style="top:454px;height:4px;background:linear-gradient(90deg,#161616 0px,#191919 13px,#222 21px,#212121 69px,#080808 79px,#090909 118px,#232323 132px,#2a2a2a 196px,#333 221px,#4d4d4d 236px,#7f7f7f 257px,#888 267px,#7d7d7d 277px,#565656 291px,#262626 307px,#111 321px,#141414 333px,#181818 352px,#171717 442px,#0e0e0e 513px)"></i>
<i style="top:458px;height:4px;background:linear-gradient(90deg,#161616 0px,#1a1a1a 10px,#222 17px,#212121 69px,#080808 79px,#090909 118px,#232323 132px,#2a2a2a 196px,#333 221px,#4e4e4e 236px,#808080 257px,#898989 267px,#7f7f7f 277px,#575757 291px,#272727 307px,#121212 321px,#141414 333px,#181818 353px,#171717 442px,#0e0e0e 513px)"></i>
<i style="top:462px;height:4px;background:linear-gradient(90deg,#161616 0px,#1b1b1b 7px,#222 15px,#212121 69px,#080808 79px,#090909 118px,#232323 132px,#2a2a2a 196px,#343434 221px,#4f4f4f 236px,#818181 257px,#8a8a8a 267px,#808080 277px,#595959 291px,#282828 307px,#121212 321px,#141414 333px,#181818 353px,#171717 442px,#0e0e0e 513px)"></i>
<i style="top:466px;height:4px;background:linear-gradient(90deg,#171717 0px,#222 10px,#212121 69px,#080808 79px,#090909 118px,#232323 132px,#2a2a2a 196px,#353535 221px,#515151 236px,#838383 257px,#8b8b8b 267px,#818181 277px,#5a5a5a 291px,#292929 307px,#131313 321px,#141414 333px,#181818 354px,#171717 442px,#0e0e0e 513px)"></i>
<i style="top:470px;height:4px;background:linear-gradient(90deg,#1d1d1d 0px,#222 10px,#212121 69px,#080808 79px,#090909 118px,#232323 132px,#2a2a2a 195px,#363636 221px,#525252 236px,#848484 257px,#8d8d8d 267px,#828282 277px,#5b5b5b 291px,#282828 308px,#121212 322px,#181818 352px,#171717 443px,#0e0e0e 513px)"></i>
<i style="top:474px;height:10px;background:linear-gradient(90deg,#222 0px,#212121 69px,#080808 79px,#090909 118px,#232323 132px,#2a2a2a 195px,#363636 220px,#525252 235px,#858585 256px,#8f8f8f 266px,#868686 276px,#646464 289px,#2c2c2c 307px,#141414 321px,#151515 333px,#181818 357px,#171717 443px,#0e0e0e 513px)"></i>
<i style="top:484px;height:10px;background:linear-gradient(90deg,#222 0px,#212121 69px,#080808 79px,#090909 118px,#232323 132px,#2a2a2a 194px,#383838 220px,#575757 236px,#888 256px,#919191 266px,#898989 276px,#666 289px,#2c2c2c 308px,#141414 322px,#181818 337px,#171717 442px,#0e0e0e 513px)"></i>
</div></div>
<div class="p" style="left:672px;top:48px;width:516px;height:487px"><div class="q" style="height:495px">
<i style="top:0px;height:5px;background:linear-gradient(90deg,#c2c2c2 0px,#bebebe 38px,#b1b1b1 54px,#aaa 70px,#9a9a9a 81px,#a7a7a7 100px,#aaa 130px,#bfbfbf 195px,#b9b9b9 251px,#acacac 269px,#a1a1a1 281px,#a9a9a9 291px,#dadada 312px,#e3e3e3 334px,#e6e6e6 432px,#dadada 440px,#c0c0c0 448px,#9b9b9b 454px,#6f6f6f 459px,#191919 466px,#0e0e0e 468px,#121212 470px,#313131 473px,#6d6d6d 478px,#a0a0a0 484px,#c4c4c4 490px,#dfdfdf 498px,#ebebeb 508px,#ededed 515px)"></i>
<i style="top:5px;height:4px;background:linear-gradient(90deg,#c2c2c2 0px,#bebebe 38px,#b0b0b0 54px,#aaa 70px,#9a9a9a 81px,#a7a7a7 100px,#aaa 130px,#bfbfbf 195px,#b9b9b9 251px,#acacac 269px,#a1a1a1 281px,#a9a9a9 291px,#dadada 312px,#e3e3e3 334px,#e5e5e5 431px,#d5d5d5 440px,#bcbcbc 447px,#8e8e8e 454px,#5c5c5c 460px,#191919 466px,#0e0e0e 468px,#131313 470px,#272727 472px,#787878 478px,#9e9e9e 482px,#c3c3c3 488px,#ddd 496px,#ebebeb 507px,#ededed 515px)"></i>
<i style="top:9px;height:4px;background:linear-gradient(90deg,#c2c2c2 0px,#bebebe 37px,#b0b0b0 54px,#aaa 70px,#9a9a9a 81px,#a7a7a7 100px,#ababab 131px,#bfbfbf 195px,#b9b9b9 251px,#acacac 269px,#a1a1a1 281px,#a9a9a9 291px,#dadada 312px,#e3e3e3 333px,#e5e5e5 427px,#d6d6d6 436px,#bfbfbf 443px,#989898 449px,#6a6a6a 456px,#434343 463px,#292929 467px,#292929 469px,#363636 471px,#929292 478px,#b4b4b4 482px,#d0d0d0 488px,#e5e5e5 497px,#ededed 513px,#ededed 515px)"></i>
<i style="top:13px;height:4px;background:linear-gradient(90deg,#c2c2c2 0px,#bdbdbd 36px,#afafaf 54px,#aaa 70px,#9a9a9a 81px,#a7a7a7 100px,#ababab 132px,#bfbfbf 196px,#b9b9b9 251px,#acacac 269px,#a1a1a1 281px,#a9a9a9 291px,#d9d9d9 312px,#e3e3e3 332px,#e5e5e5 424px,#d3d3d3 434px,#bdbdbd 440px,#9b9b9b 445px,#666 451px,#595959 454px,#515151 467px,#5d5d5d 470px,#acacac 478px,#cacaca 483px,#e0e0e0 491px,#ebebeb 503px,#ededed 515px)"></i>
<i style="top:17px;height:4px;background:linear-gradient(90deg,#c2c2c2 0px,#bdbdbd 34px,#afafaf 54px,#aaa 70px,#9a9a9a 81px,#a7a7a7 100px,#ababab 133px,#bfbfbf 196px,#b9b9b9 251px,#acacac 269px,#a1a1a1 281px,#a9a9a9 291px,#d9d9d9 312px,#e2e2e2 331px,#e4e4e4 421px,#cfcfcf 432px,#b7b7b7 438px,#9a9a9a 442px,#434343 450px,#383838 452px,#3a3a3a 455px,#7a7a7a 468px,#bcbcbc 477px,#d5d5d5 483px,#e7e7e7 493px,#ededed 515px)"></i>
<i style="top:21px;height:4px;background:linear-gradient(90deg,#c2c2c2 0px,#bdbdbd 32px,#aeaeae 54px,#aaa 70px,#9a9a9a 81px,#a7a7a7 100px,#acacac 135px,#bebebe 196px,#b9b9b9 251px,#acacac 269px,#a1a1a1 281px,#a9a9a9 291px,#d9d9d9 312px,#e2e2e2 331px,#e4e4e4 417px,#d1d1d1 428px,#bababa 434px,#939393 440px,#6b6b6b 444px,#202020 450px,#151515 452px,#181818 454px,#343434 457px,#686868 462px,#acacac 471px,#cbcbcb 477px,#e1e1e1 485px,#ebebeb 498px,#ededed 515px)"></i>
<i style="top:25px;height:4px;background:linear-gradient(90deg,#c2c2c2 0px,#bebebe 30px,#adadad 54px,#ababab 69px,#9a9a9a 81px,#a7a7a7 100px,#acacac 136px,#bebebe 196px,#b9b9b9 251px,#acacac 269px,#a1a1a1 281px,#a9a9a9 291px,#d8d8d8 312px,#e2e2e2 330px,#e4e4e4 413px,#d2d2d2 424px,#bdbdbd 430px,#919191 437px,#5b5b5b 444px,#1c1c1c 450px,#111 452px,#161616 454px,#292929 456px,#7b7b7b 462px,#a1a1a1 466px,#c5c5c5 472px,#ddd 480px,#eaeaea 492px,#ededed 515px)"></i>
<i style="top:29px;height:4px;background:linear-gradient(90deg,#c2c2c2 0px,#bebebe 29px,#adadad 53px,#ababab 69px,#999 81px,#a7a7a7 100px,#acacac 138px,#bebebe 196px,#b9b9b9 251px,#acacac 269px,#a1a1a1 281px,#a9a9a9 291px,#d9d9d9 313px,#e2e2e2 333px,#e4e4e4 409px,#d1d1d1 421px,#bbb 427px,#939393 433px,#6b6b6b 439px,#474747 447px,#323232 451px,#333 453px,#3f3f3f 455px,#969696 462px,#b6b6b6 466px,#d1d1d1 472px,#e4e4e4 481px,#ececec 499px,#ededed 515px)"></i>
<i style="top:33px;height:4px;background:linear-gradient(90deg,#c2c2c2 0px,#bdbdbd 29px,#acacac 53px,#ababab 69px,#999 81px,#a6a6a6 100px,#adadad 141px,#bebebe 196px,#b9b9b9 251px,#acacac 269px,#a1a1a1 281px,#a8a8a8 291px,#d9d9d9 313px,#e2e2e2 332px,#e3e3e3 406px,#cdcdcd 419px,#b4b4b4 425px,#959595 429px,#656565 434px,#555 437px,#535353 441px,#585858 451px,#676767 454px,#b0b0b0 462px,#cbcbcb 467px,#e0e0e0 475px,#eaeaea 488px,#ededed 515px)"></i>
<i style="top:37px;height:4px;background:linear-gradient(90deg,#c2c2c2 0px,#bebebe 28px,#acacac 52px,#ababab 69px,#999 81px,#a6a6a6 101px,#aeaeae 145px,#bebebe 196px,#b9b9b9 251px,#acacac 269px,#a1a1a1 281px,#a8a8a8 291px,#d8d8d8 313px,#e1e1e1 331px,#e3e3e3 402px,#cfcfcf 415px,#b8b8b8 421px,#9e9e9e 425px,#757575 429px,#434343 433px,#333 435px,#2e2e2e 437px,#393939 440px,#636363 447px,#8e8e8e 454px,#bebebe 461px,#d8d8d8 468px,#e7e7e7 478px,#ededed 515px)"></i>
<i style="top:41px;height:4px;background:linear-gradient(90deg,#c2c2c2 0px,#bdbdbd 28px,#ababab 52px,#ababab 69px,#999 81px,#a6a6a6 101px,#afafaf 149px,#bebebe 196px,#b9b9b9 251px,#acacac 269px,#a1a1a1 281px,#a8a8a8 291px,#d8d8d8 313px,#e1e1e1 330px,#e4e4e4 398px,#cdcdcd 412px,#b7b7b7 418px,#8f8f8f 424px,#676767 428px,#1c1c1c 434px,#101010 436px,#141414 438px,#313131 441px,#6a6a6a 446px,#a2a2a2 453px,#c5c5c5 459px,#ddd 467px,#e9e9e9 479px,#ededed 515px)"></i>
<i style="top:45px;height:4px;background:linear-gradient(90deg,#c2c2c2 0px,#bebebe 27px,#aaa 51px,#ababab 69px,#999 81px,#a6a6a6 101px,#b0b0b0 153px,#bebebe 196px,#b9b9b9 251px,#acacac 269px,#a1a1a1 281px,#a8a8a8 291px,#d9d9d9 314px,#e1e1e1 333px,#e3e3e3 395px,#ccc 409px,#b4b4b4 415px,#626262 427px,#202020 434px,#161616 436px,#1b1b1b 438px,#2e2e2e 440px,#7f7f7f 446px,#a4a4a4 450px,#c6c6c6 456px,#ddd 464px,#e9e9e9 476px,#ededed 515px)"></i>
<i style="top:49px;height:4px;background:linear-gradient(90deg,#c2c2c2 0px,#bdbdbd 27px,#aaa 49px,#ababab 69px,#999 81px,#a6a6a6 101px,#b1b1b1 156px,#bebebe 196px,#b9b9b9 251px,#acacac 269px,#a1a1a1 281px,#a8a8a8 291px,#d9d9d9 314px,#e1e1e1 333px,#e4e4e4 391px,#cbcbcb 406px,#b1b1b1 412px,#707070 421px,#3b3b3b 435px,#3c3c3c 437px,#494949 439px,#9a9a9a 446px,#b9b9b9 450px,#d2d2d2 456px,#e4e4e4 466px,#ebebeb 493px,#ededed 515px)"></i>
<i style="top:53px;height:4px;background:linear-gradient(90deg,#c2c2c2 0px,#bdbdbd 27px,#aaa 47px,#ababab 69px,#989898 81px,#a6a6a6 101px,#b2b2b2 158px,#bebebe 196px,#b9b9b9 251px,#acacac 269px,#a1a1a1 281px,#a8a8a8 291px,#d8d8d8 314px,#e1e1e1 332px,#e3e3e3 388px,#cacaca 403px,#b0b0b0 409px,#8f8f8f 413px,#5d5d5d 418px,#4d4d4d 421px,#4f4f4f 425px,#5f5f5f 435px,#6f6f6f 438px,#b3b3b3 446px,#ccc 451px,#e1e1e1 460px,#eaeaea 476px,#ededed 515px)"></i>
<i style="top:57px;height:4px;background:linear-gradient(90deg,#c2c2c2 0px,#bebebe 26px,#ababab 44px,#aaa 58px,#ababab 69px,#989898 81px,#a6a6a6 101px,#b3b3b3 161px,#bebebe 196px,#b9b9b9 251px,#acacac 269px,#a1a1a1 281px,#a8a8a8 291px,#d9d9d9 315px,#e1e1e1 336px,#e4e4e4 384px,#cbcbcb 399px,#b4b4b4 405px,#9a9a9a 409px,#6f6f6f 413px,#3c3c3c 417px,#2a2a2a 419px,#252525 421px,#333 424px,#656565 431px,#c0c0c0 445px,#d8d8d8 452px,#e6e6e6 463px,#ededed 515px)"></i>
<i style="top:61px;height:4px;background:linear-gradient(90deg,#c2c2c2 0px,#bdbdbd 26px,#ababab 42px,#a9a9a9 56px,#acacac 68px,#989898 81px,#a0a0a0 91px,#a6a6a6 105px,#b5b5b5 168px,#bebebe 198px,#b9b9b9 251px,#acacac 269px,#a1a1a1 281px,#a8a8a8 291px,#d9d9d9 315px,#e1e1e1 336px,#e3e3e3 381px,#cacaca 396px,#b3b3b3 402px,#8b8b8b 408px,#646464 412px,#1a1a1a 418px,#0e0e0e 420px,#121212 422px,#303030 425px,#6d6d6d 430px,#9f9f9f 436px,#c2c2c2 442px,#dbdbdb 450px,#e7e7e7 462px,#ededed 515px)"></i>
<i style="top:65px;height:4px;background:linear-gradient(90deg,#c2c2c2 0px,#bdbdbd 26px,#aaa 41px,#a8a8a8 56px,#acacac 68px,#989898 81px,#a0a0a0 91px,#a6a6a6 105px,#b5b5b5 168px,#bebebe 198px,#b9b9b9 251px,#acacac 269px,#a1a1a1 281px,#a8a8a8 291px,#d9d9d9 315px,#e1e1e1 335px,#e3e3e3 377px,#ccc 392px,#b5b5b5 398px,#525252 413px,#252525 418px,#1c1c1c 420px,#212121 422px,#333 424px,#838383 430px,#a7a7a7 434px,#c7c7c7 440px,#ddd 448px,#e8e8e8 461px,#ededed 515px)"></i>
<i style="top:69px;height:4px;background:linear-gradient(90deg,#c2c2c2 0px,#bdbdbd 26px,#aaa 40px,#a7a7a7 55px,#acacac 68px,#989898 81px,#9f9f9f 91px,#a6a6a6 105px,#b5b5b5 168px,#bdbdbd 198px,#b9b9b9 251px,#acacac 269px,#a1a1a1 281px,#a9a9a9 292px,#d8d8d8 315px,#e0e0e0 334px,#e3e3e3 374px,#cbcbcb 389px,#b3b3b3 395px,#6a6a6a 405px,#595959 411px,#434343 419px,#4b4b4b 422px,#676767 425px,#9e9e9e 430px,#bbb 434px,#d5d5d5 441px,#e4e4e4 451px,#ededed 509px,#ededed 515px)"></i>
<i style="top:73px;height:4px;background:linear-gradient(90deg,#c2c2c2 0px,#bdbdbd 25px,#a9a9a9 40px,#a6a6a6 55px,#acacac 68px,#989898 81px,#9f9f9f 91px,#a6a6a6 105px,#b5b5b5 167px,#bdbdbd 198px,#b9b9b9 251px,#acacac 269px,#a1a1a1 281px,#a9a9a9 292px,#d9d9d9 316px,#e1e1e1 342px,#e3e3e3 370px,#cacaca 386px,#b2b2b2 392px,#939393 396px,#535353 402px,#444 405px,#474747 408px,#6a6a6a 420px,#8f8f8f 425px,#b6b6b6 430px,#d0d0d0 436px,#e3e3e3 446px,#e9e9e9 472px,#ededed 515px)"></i>
<i style="top:77px;height:4px;background:linear-gradient(90deg,#c2c2c2 0px,#bdbdbd 25px,#a8a8a8 39px,#a6a6a6 55px,#acacac 68px,#979797 81px,#9f9f9f 91px,#a6a6a6 105px,#b4b4b4 167px,#bdbdbd 198px,#bababa 250px,#acacac 269px,#a1a1a1 281px,#a9a9a9 292px,#d9d9d9 316px,#e1e1e1 341px,#e2e2e2 367px,#c9c9c9 383px,#b1b1b1 389px,#969696 393px,#6a6a6a 397px,#353535 401px,#222 403px,#1d1d1d 405px,#262626 407px,#616161 414px,#b8b8b8 427px,#d0d0d0 433px,#e3e3e3 443px,#e9e9e9 472px,#ededed 515px)"></i>
<i style="top:81px;height:4px;background:linear-gradient(90deg,#c2c2c2 0px,#bdbdbd 25px,#a7a7a7 39px,#a5a5a5 55px,#acacac 68px,#979797 81px,#9f9f9f 91px,#a6a6a6 105px,#b4b4b4 167px,#bdbdbd 198px,#bababa 250px,#acacac 269px,#a1a1a1 281px,#a9a9a9 292px,#d9d9d9 316px,#e1e1e1 340px,#e2e2e2 363px,#cacaca 379px,#b4b4b4 385px,#8e8e8e 391px,#626262 396px,#1a1a1a 402px,#0e0e0e 404px,#121212 406px,#242424 408px,#6f6f6f 414px,#9b9b9b 419px,#bfbfbf 425px,#d6d6d6 432px,#e5e5e5 443px,#ededed 515px)"></i>
<i style="top:85px;height:4px;background:linear-gradient(90deg,#c2c2c2 0px,#bdbdbd 25px,#a6a6a6 39px,#a5a5a5 55px,#acacac 68px,#979797 81px,#9f9f9f 91px,#a6a6a6 105px,#b4b4b4 167px,#bdbdbd 198px,#bababa 250px,#acacac 269px,#a1a1a1 281px,#a9a9a9 292px,#dadada 317px,#e3e3e3 356px,#d0d0d0 373px,#bbb 380px,#989898 386px,#434343 399px,#272727 403px,#252525 405px,#303030 407px,#626262 411px,#929292 415px,#b0b0b0 419px,#ccc 425px,#dfdfdf 434px,#e7e7e7 451px,#ededed 515px)"></i>
<i style="top:89px;height:4px;background:linear-gradient(90deg,#c2c2c2 0px,#bdbdbd 25px,#a6a6a6 38px,#a3a3a3 54px,#ababab 68px,#979797 81px,#9d9d9d 90px,#a5a5a5 103px,#b3b3b3 166px,#bdbdbd 197px,#bababa 250px,#acacac 269px,#a1a1a1 281px,#a9a9a9 292px,#d9d9d9 317px,#e2e2e2 353px,#cdcdcd 371px,#bababa 377px,#999 382px,#686868 388px,#5b5b5b 392px,#4b4b4b 403px,#555 406px,#7a7a7a 410px,#aaa 415px,#c5c5c5 420px,#dbdbdb 428px,#e6e6e6 441px,#ededed 515px)"></i>
<i style="top:93px;height:4px;background:linear-gradient(90deg,#c2c2c2 0px,#bcbcbc 25px,#a4a4a4 38px,#a3a3a3 54px,#ababab 68px,#979797 81px,#9d9d9d 90px,#a5a5a5 103px,#b3b3b3 166px,#bdbdbd 197px,#bababa 250px,#acacac 269px,#a1a1a1 281px,#a9a9a9 292px,#d9d9d9 317px,#e2e2e2 350px,#ccc 368px,#b9b9b9 374px,#a1a1a1 378px,#777 382px,#4a4a4a 386px,#3d3d3d 388px,#3d3d3d 391px,#717171 404px,#b8b8b8 414px,#d0d0d0 420px,#e2e2e2 430px,#e9e9e9 462px,#ededed 515px)"></i>
<i style="top:97px;height:4px;background:linear-gradient(90deg,#c2c2c2 0px,#bdbdbd 24px,#a3a3a3 38px,#a2a2a2 54px,#acacac 67px,#a0a0a0 75px,#969696 82px,#a5a5a5 101px,#b3b3b3 166px,#bdbdbd 197px,#bababa 250px,#acacac 269px,#a1a1a1 281px,#a9a9a9 292px,#dadada 318px,#e0e0e0 348px,#cdcdcd 364px,#b8b8b8 371px,#9a9a9a 376px,#737373 380px,#242424 386px,#171717 388px,#1a1a1a 390px,#333 393px,#626262 398px,#b5b5b5 410px,#d1d1d1 417px,#e2e2e2 427px,#e9e9e9 463px,#ededed 515px)"></i>
<i style="top:101px;height:4px;background:linear-gradient(90deg,#c2c2c2 0px,#bdbdbd 24px,#a2a2a2 38px,#a2a2a2 54px,#acacac 67px,#a0a0a0 75px,#969696 82px,#a5a5a5 101px,#b3b3b3 166px,#bdbdbd 197px,#bababa 250px,#acacac 269px,#a1a1a1 281px,#a9a9a9 292px,#dadada 318px,#dfdfdf 345px,#cdcdcd 361px,#b6b6b6 368px,#8b8b8b 375px,#606060 380px,#1c1c1c 386px,#101010 388px,#141414 390px,#262626 392px,#737373 398px,#9e9e9e 403px,#c0c0c0 409px,#d8d8d8 417px,#e5e5e5 429px,#ededed 515px)"></i>
<i style="top:105px;height:4px;background:linear-gradient(90deg,#c2c2c2 0px,#bdbdbd 24px,#a1a1a1 38px,#a2a2a2 55px,#acacac 67px,#9f9f9f 75px,#969696 82px,#a5a5a5 101px,#b3b3b3 166px,#bdbdbd 197px,#bababa 250px,#adadad 269px,#a2a2a2 281px,#a9a9a9 292px,#d9d9d9 318px,#dedede 341px,#cecece 357px,#b8b8b8 364px,#8c8c8c 371px,#636363 378px,#2f2f2f 387px,#2e2e2e 389px,#393939 391px,#959595 399px,#b3b3b3 403px,#ccc 409px,#e0e0e0 419px,#e7e7e7 440px,#ededed 515px)"></i>
<i style="top:109px;height:4px;background:linear-gradient(90deg,#c1c1c1 0px,#bcbcbc 24px,#a0a0a0 38px,#a1a1a1 55px,#ababab 67px,#9f9f9f 75px,#969696 82px,#a4a4a4 101px,#b2b2b2 165px,#bdbdbd 197px,#bababa 250px,#adadad 269px,#a2a2a2 281px,#a9a9a9 292px,#d9d9d9 318px,#ddd 338px,#cfcfcf 353px,#bcbcbc 360px,#a4a4a4 364px,#666 371px,#585858 374px,#525252 387px,#5e5e5e 390px,#adadad 399px,#c6c6c6 404px,#dcdcdc 413px,#e5e5e5 428px,#ededed 515px)"></i>
<i style="top:113px;height:4px;background:linear-gradient(90deg,#c1c1c1 0px,#bbb 24px,#9f9f9f 38px,#a1a1a1 55px,#aaa 67px,#9f9f9f 75px,#959595 82px,#a4a4a4 101px,#b2b2b2 164px,#bcbcbc 197px,#bababa 250px,#aeaeae 269px,#a3a3a3 282px,#adadad 294px,#d8d8d8 318px,#dbdbdb 336px,#d0d0d0 349px,#bbb 357px,#a4a4a4 361px,#898989 364px,#414141 370px,#343434 372px,#333 374px,#636363 384px,#838383 390px,#b5b5b5 397px,#cdcdcd 403px,#dfdfdf 413px,#e7e7e7 439px,#ededed 515px)"></i>
<i style="top:117px;height:4px;background:linear-gradient(90deg,#c1c1c1 0px,#bbb 23px,#9f9f9f 38px,#a0a0a0 55px,#a9a9a9 68px,#959595 81px,#9d9d9d 91px,#a5a5a5 106px,#b1b1b1 163px,#bcbcbc 198px,#bababa 251px,#adadad 270px,#a5a5a5 282px,#aeaeae 294px,#d7d7d7 318px,#dadada 335px,#cecece 347px,#b9b9b9 354px,#9e9e9e 359px,#7a7a7a 363px,#1f1f1f 370px,#121212 372px,#151515 374px,#303030 377px,#646464 382px,#acacac 392px,#c8c8c8 398px,#dcdcdc 407px,#e5e5e5 423px,#ededed 515px)"></i>
<i style="top:121px;height:4px;background:linear-gradient(90deg,#c0c0c0 0px,#bababa 23px,#9e9e9e 38px,#a0a0a0 55px,#a8a8a8 68px,#959595 82px,#a4a4a4 101px,#b0b0b0 160px,#bcbcbc 198px,#bbb 251px,#a6a6a6 283px,#b2b2b2 296px,#d7d7d7 318px,#d8d8d8 335px,#cbcbcb 345px,#b3b3b3 352px,#7f7f7f 360px,#555 365px,#1f1f1f 370px,#141414 372px,#181818 374px,#292929 376px,#767676 382px,#a1a1a1 387px,#c2c2c2 393px,#d8d8d8 401px,#e3e3e3 414px,#ededed 515px)"></i>
<i style="top:125px;height:4px;background:linear-gradient(90deg,#c0c0c0 0px,#b9b9b9 22px,#9e9e9e 38px,#a0a0a0 56px,#a8a8a8 68px,#959595 82px,#a3a3a3 101px,#afafaf 158px,#bcbcbc 198px,#bbb 251px,#a8a8a8 283px,#b4b4b4 297px,#d6d6d6 318px,#d7d7d7 333px,#c8c8c8 343px,#b0b0b0 349px,#737373 358px,#373737 371px,#373737 373px,#424242 375px,#999 383px,#bababa 388px,#d2d2d2 395px,#e1e1e1 406px,#ededed 515px)"></i>
<i style="top:129px;height:4px;background:linear-gradient(90deg,#bfbfbf 0px,#b8b8b8 22px,#9d9d9d 38px,#9f9f9f 56px,#a7a7a7 68px,#949494 82px,#a3a3a3 101px,#aeaeae 155px,#bcbcbc 198px,#bcbcbc 251px,#a9a9a9 283px,#b5b5b5 297px,#d4d4d4 318px,#d6d6d6 331px,#c7c7c7 340px,#b4b4b4 345px,#979797 349px,#5d5d5d 355px,#515151 358px,#595959 371px,#666 374px,#b0b0b0 383px,#cacaca 389px,#dedede 399px,#e5e5e5 422px,#ededed 515px)"></i>
<i style="top:133px;height:4px;background:linear-gradient(90deg,#bfbfbf 0px,#b8b8b8 21px,#9d9d9d 38px,#9f9f9f 56px,#a6a6a6 68px,#949494 82px,#a3a3a3 101px,#adadad 153px,#bbb 198px,#bcbcbc 251px,#ababab 283px,#b7b7b7 298px,#d1d1d1 317px,#d6d6d6 328px,#c7c7c7 337px,#aeaeae 343px,#8f8f8f 347px,#383838 354px,#2a2a2a 356px,#2a2a2a 358px,#606060 367px,#898989 374px,#b7b7b7 381px,#d1d1d1 388px,#e0e0e0 399px,#ededed 515px)"></i>
<i style="top:137px;height:4px;background:linear-gradient(90deg,#bebebe 0px,#b7b7b7 21px,#9c9c9c 38px,#9e9e9e 56px,#a5a5a5 68px,#949494 82px,#a3a3a3 101px,#acacac 152px,#bbb 198px,#bcbcbc 252px,#b0b0b0 273px,#adadad 287px,#d2d2d2 320px,#d2d2d2 328px,#bfbfbf 336px,#a1a1a1 342px,#818181 346px,#515151 350px,#1c1c1c 354px,#0f0f0f 356px,#121212 358px,#2e2e2e 361px,#666 366px,#a3a3a3 374px,#c2c2c2 380px,#d7d7d7 388px,#e2e2e2 401px,#ededed 515px)"></i>
<i style="top:141px;height:4px;background:linear-gradient(90deg,#bebebe 0px,#b7b7b7 20px,#9c9c9c 38px,#9e9e9e 57px,#a4a4a4 69px,#949494 81px,#a2a2a2 101px,#ababab 150px,#bbb 198px,#bdbdbd 252px,#aeaeae 284px,#bdbdbd 302px,#d1d1d1 321px,#ccc 328px,#bababa 334px,#919191 341px,#555 349px,#242424 354px,#1a1a1a 356px,#1d1d1d 358px,#2e2e2e 360px,#7a7a7a 366px,#9e9e9e 370px,#bfbfbf 376px,#d6d6d6 384px,#e2e2e2 396px,#ededed 515px)"></i>
<i style="top:145px;height:4px;background:linear-gradient(90deg,#bdbdbd 0px,#b6b6b6 20px,#9b9b9b 38px,#9e9e9e 57px,#a3a3a3 69px,#949494 81px,#a2a2a2 101px,#aaa 149px,#bbb 198px,#bdbdbd 252px,#afafaf 284px,#bfbfbf 303px,#cecece 319px,#c8c8c8 326px,#b8b8b8 331px,#979797 336px,#727272 341px,#5b5b5b 347px,#3f3f3f 355px,#444 358px,#5e5e5e 361px,#949494 366px,#b2b2b2 370px,#cbcbcb 376px,#ddd 386px,#e4e4e4 411px,#ededed 515px)"></i>
<i style="top:149px;height:4px;background:linear-gradient(90deg,#bdbdbd 0px,#b6b6b6 19px,#9b9b9b 38px,#9d9d9d 57px,#a2a2a2 69px,#939393 81px,#a2a2a2 101px,#aaa 149px,#bababa 198px,#bebebe 252px,#b1b1b1 284px,#bebebe 311px,#bababa 325px,#aeaeae 329px,#9a9a9a 332px,#545454 339px,#494949 342px,#5f5f5f 355px,#757575 359px,#adadad 366px,#c9c9c9 372px,#dbdbdb 381px,#e3e3e3 399px,#ededed 515px)"></i>
<i style="top:153px;height:4px;background:linear-gradient(90deg,#bdbdbd 0px,#b5b5b5 19px,#9b9b9b 37px,#9c9c9c 57px,#a1a1a1 69px,#939393 82px,#a1a1a1 100px,#a9a9a9 148px,#bababa 198px,#bebebe 252px,#b2b2b2 285px,#b6b6b6 296px,#a2a2a2 304px,#767676 314px,#737373 318px,#898989 327px,#838383 330px,#6c6c6c 333px,#2f2f2f 338px,#212121 340px,#222 342px,#626262 351px,#bababa 365px,#d1d1d1 372px,#e0e0e0 383px,#ededed 515px)"></i>
<i style="top:157px;height:4px;background:linear-gradient(90deg,#bcbcbc 0px,#b5b5b5 18px,#9a9a9a 37px,#9c9c9c 58px,#9f9f9f 70px,#939393 81px,#a1a1a1 101px,#a8a8a8 147px,#b9b9b9 193px,#bfbfbf 252px,#b4b4b4 285px,#b2b2b2 292px,#888 300px,#575757 306px,#2f2f2f 311px,#232323 314px,#252525 317px,#3b3b3b 321px,#5b5b5b 326px,#616161 329px,#575757 332px,#3c3c3c 335px,#121212 339px,#0d0d0d 341px,#181818 343px,#686868 350px,#999 356px,#bbb 362px,#d4d4d4 370px,#e1e1e1 382px,#ededed 515px)"></i>
<i style="top:161px;height:4px;background:linear-gradient(90deg,#bcbcbc 0px,#b4b4b4 18px,#9a9a9a 37px,#9c9c9c 58px,#9f9f9f 70px,#929292 81px,#a1a1a1 101px,#a7a7a7 147px,#b8b8b8 188px,#bfbfbf 252px,#b2b2b2 288px,#818181 297px,#595959 302px,#191919 309px,#0b0b0b 312px,#0a0a0a 315px,#1d1d1d 319px,#444 325px,#4f4f4f 329px,#484848 333px,#232323 339px,#202020 341px,#2a2a2a 343px,#888 351px,#aeaeae 356px,#c8c8c8 362px,#dbdbdb 371px,#e3e3e3 389px,#ededed 515px)"></i>
<i style="top:165px;height:4px;background:linear-gradient(90deg,#bbb 0px,#b4b4b4 18px,#9a9a9a 36px,#9b9b9b 58px,#9e9e9e 70px,#929292 82px,#a1a1a1 100px,#a7a7a7 147px,#b6b6b6 182px,#c0c0c0 252px,#b3b3b3 284px,#777 296px,#464646 302px,#161616 308px,#0a0a0a 311px,#0a0a0a 314px,#252525 320px,#3f3f3f 327px,#494949 333px,#444 340px,#535353 343px,#a1a1a1 351px,#bebebe 356px,#d5d5d5 364px,#e0e0e0 376px,#ededed 515px)"></i>
<i style="top:169px;height:4px;background:linear-gradient(90deg,#bbb 0px,#b4b4b4 17px,#9a9a9a 35px,#9a9a9a 58px,#9d9d9d 70px,#929292 82px,#a0a0a0 100px,#a6a6a6 146px,#b4b4b4 174px,#c0c0c0 251px,#b7b7b7 279px,#acacac 282px,#909090 287px,#797979 293px,#505050 299px,#191919 306px,#090909 310px,#0d0d0d 314px,#222 321px,#292929 326px,#525252 335px,#6b6b6b 341px,#afafaf 350px,#c9c9c9 356px,#dcdcdc 366px,#e3e3e3 391px,#ededed 515px)"></i>
<i style="top:173px;height:4px;background:linear-gradient(90deg,#bababa 0px,#b3b3b3 17px,#9a9a9a 34px,#999 57px,#9c9c9c 70px,#929292 82px,#a0a0a0 100px,#a6a6a6 146px,#b2b2b2 171px,#c1c1c1 251px,#b9b9b9 275px,#afafaf 278px,#929292 283px,#767676 291px,#505050 297px,#161616 305px,#090909 309px,#0d0d0d 313px,#1a1a1a 318px,#111 325px,#1f1f1f 328px,#636363 336px,#b1b1b1 347px,#cacaca 353px,#dcdcdc 363px,#e3e3e3 390px,#ededed 515px)"></i>
<i style="top:177px;height:4px;background:linear-gradient(90deg,#bababa 0px,#b2b2b2 17px,#9a9a9a 33px,#999 57px,#9b9b9b 70px,#929292 82px,#a0a0a0 100px,#a5a5a5 146px,#b1b1b1 168px,#c1c1c1 252px,#bbb 272px,#aeaeae 275px,#959595 279px,#737373 289px,#494949 296px,#191919 303px,#0a0a0a 307px,#0a0a0a 311px,#191919 318px,#0c0c0c 325px,#141414 327px,#313131 330px,#757575 336px,#a5a5a5 342px,#c4c4c4 348px,#d8d8d8 357px,#e1e1e1 373px,#ededed 515px)"></i>
<i style="top:181px;height:4px;background:linear-gradient(90deg,#b9b9b9 0px,#b2b2b2 17px,#9a9a9a 32px,#989898 56px,#9a9a9a 70px,#919191 82px,#9f9f9f 99px,#a4a4a4 145px,#b1b1b1 166px,#c2c2c2 252px,#bcbcbc 269px,#919191 278px,#6d6d6d 288px,#3d3d3d 296px,#121212 303px,#080808 307px,#0e0e0e 312px,#1e1e1e 319px,#1d1d1d 325px,#2f2f2f 328px,#8b8b8b 336px,#b1b1b1 341px,#cacaca 347px,#dbdbdb 356px,#e2e2e2 380px,#ededed 515px)"></i>
<i style="top:185px;height:4px;background:linear-gradient(90deg,#b9b9b9 0px,#b2b2b2 16px,#999 32px,#989898 58px,#999 71px,#919191 82px,#9f9f9f 99px,#a4a4a4 145px,#b0b0b0 165px,#c2c2c2 253px,#bebebe 265px,#646464 288px,#151515 301px,#090909 305px,#0d0d0d 311px,#393939 325px,#4f4f4f 328px,#989898 335px,#bababa 340px,#d1d1d1 347px,#dedede 358px,#ededed 515px)"></i>
<i style="top:189px;height:4px;background:linear-gradient(90deg,#b8b8b8 0px,#b1b1b1 16px,#989898 31px,#979797 58px,#989898 71px,#919191 82px,#9f9f9f 99px,#a3a3a3 145px,#b0b0b0 164px,#c3c3c3 253px,#bebebe 262px,#a6a6a6 269px,#929292 275px,#5b5b5b 288px,#131313 300px,#090909 304px,#0c0c0c 311px,#222 317px,#4b4b4b 324px,#aaa 335px,#c5c5c5 340px,#d8d8d8 348px,#e0e0e0 364px,#ededed 515px)"></i>
<i style="top:193px;height:4px;background:linear-gradient(90deg,#b8b8b8 0px,#b1b1b1 16px,#989898 30px,#969696 58px,#969696 72px,#919191 82px,#9f9f9f 99px,#a3a3a3 145px,#b0b0b0 163px,#c3c3c3 254px,#bcbcbc 259px,#aaa 264px,#9e9e9e 271px,#525252 288px,#161616 298px,#090909 302px,#0a0a0a 311px,#1a1a1a 315px,#4c4c4c 322px,#a4a4a4 332px,#c1c1c1 337px,#d6d6d6 344px,#dfdfdf 357px,#ededed 515px)"></i>
<i style="top:197px;height:4px;background:linear-gradient(90deg,#b8b8b8 0px,#b0b0b0 16px,#979797 30px,#979797 62px,#959595 73px,#919191 83px,#9e9e9e 99px,#a1a1a1 144px,#afafaf 163px,#c3c3c3 252px,#bababa 256px,#ababab 260px,#9d9d9d 270px,#4f4f4f 287px,#141414 297px,#080808 302px,#0b0b0b 311px,#181818 314px,#494949 320px,#a1a1a1 330px,#c5c5c5 336px,#d6d6d6 342px,#dfdfdf 355px,#ededed 515px)"></i>
<i style="top:201px;height:4px;background:linear-gradient(90deg,#b7b7b7 0px,#afafaf 16px,#979797 29px,#969696 62px,#939393 74px,#909090 83px,#9e9e9e 99px,#a1a1a1 144px,#afafaf 163px,#c3c3c3 249px,#aaa 257px,#9c9c9c 269px,#888 274px,#454545 287px,#1a1a1a 294px,#0a0a0a 299px,#0a0a0a 306px,#131313 311px,#2a2a2a 315px,#a4a4a4 329px,#c7c7c7 335px,#d8d8d8 341px,#dfdfdf 356px,#ededed 515px)"></i>
<i style="top:205px;height:4px;background:linear-gradient(90deg,#b7b7b7 0px,#adadad 16px,#969696 29px,#949494 72px,#8f8f8f 82px,#9d9d9d 99px,#a0a0a0 144px,#aeaeae 163px,#c1c1c1 246px,#ababab 253px,#9b9b9b 267px,#8a8a8a 272px,#424242 285px,#1b1b1b 291px,#0c0c0c 296px,#0a0a0a 303px,#171717 309px,#343434 314px,#adadad 329px,#ccc 335px,#dadada 341px,#e0e0e0 367px,#ededed 515px)"></i>
<i style="top:209px;height:4px;background:linear-gradient(90deg,#b6b6b6 0px,#acacac 16px,#959595 29px,#939393 72px,#8f8f8f 83px,#9d9d9d 99px,#a0a0a0 145px,#aeaeae 164px,#c0c0c0 242px,#aaa 250px,#969696 265px,#828282 271px,#2e2e2e 285px,#111 290px,#080808 296px,#0e0e0e 303px,#252525 309px,#797979 321px,#b5b5b5 329px,#d0d0d0 335px,#dcdcdc 342px,#ededed 515px)"></i>
<i style="top:213px;height:4px;background:linear-gradient(90deg,#b6b6b6 0px,#aaa 16px,#959595 29px,#939393 72px,#8e8e8e 83px,#9c9c9c 99px,#a0a0a0 145px,#adadad 167px,#bdbdbd 239px,#aaa 246px,#9a9a9a 259px,#828282 268px,#616161 274px,#101010 288px,#080808 293px,#0c0c0c 300px,#1d1d1d 305px,#7b7b7b 320px,#b6b6b6 328px,#d0d0d0 334px,#dcdcdc 341px,#ececec 515px)"></i>
<i style="top:217px;height:4px;background:linear-gradient(90deg,#b5b5b5 0px,#a9a9a9 15px,#949494 29px,#929292 72px,#8c8c8c 83px,#9b9b9b 99px,#a0a0a0 146px,#afafaf 175px,#bcbcbc 235px,#aaa 243px,#9d9d9d 255px,#808080 266px,#5d5d5d 273px,#1e1e1e 284px,#0b0b0b 289px,#090909 297px,#171717 302px,#737373 318px,#bbb 328px,#d2d2d2 334px,#ddd 342px,#ececec 515px)"></i>
<i style="top:221px;height:4px;background:linear-gradient(90deg,#b5b5b5 0px,#a7a7a7 15px,#939393 29px,#919191 72px,#8b8b8b 83px,#9a9a9a 99px,#9f9f9f 146px,#b2b2b2 186px,#b9b9b9 232px,#ababab 240px,#9d9d9d 253px,#7b7b7b 265px,#5a5a5a 272px,#272727 281px,#0c0c0c 288px,#080808 294px,#111 299px,#383838 307px,#7f7f7f 319px,#b8b8b8 327px,#d1d1d1 333px,#dcdcdc 340px,#ececec 515px)"></i>
<i style="top:225px;height:4px;background:linear-gradient(90deg,#b4b4b4 0px,#a6a6a6 14px,#939393 29px,#909090 72px,#8a8a8a 83px,#9a9a9a 99px,#9f9f9f 147px,#b5b5b5 198px,#b8b8b8 228px,#adadad 237px,#9d9d9d 251px,#7b7b7b 263px,#575757 271px,#212121 281px,#0b0b0b 288px,#0a0a0a 294px,#1a1a1a 300px,#656565 314px,#bbb 327px,#d2d2d2 333px,#ddd 341px,#ececec 515px)"></i>
<i style="top:229px;height:4px;background:linear-gradient(90deg,#b4b4b4 0px,#a6a6a6 13px,#939393 28px,#8f8f8f 72px,#898989 83px,#999 99px,#9e9e9e 148px,#b5b5b5 201px,#b6b6b6 225px,#aeaeae 234px,#a0a0a0 248px,#828282 259px,#545454 270px,#1f1f1f 280px,#0b0b0b 287px,#0a0a0a 293px,#1a1a1a 299px,#4d4d4d 309px,#919191 320px,#bebebe 327px,#d6d6d6 334px,#dedede 344px,#ececec 515px)"></i>
<i style="top:233px;height:4px;background:linear-gradient(90deg,#b3b3b3 0px,#a6a6a6 12px,#939393 27px,#8f8f8f 72px,#888 83px,#989898 99px,#9e9e9e 149px,#b5b5b5 202px,#b5b5b5 222px,#a7a7a7 242px,#909090 253px,#5a5a5a 267px,#1a1a1a 280px,#090909 287px,#0b0b0b 293px,#212121 300px,#575757 310px,#bbb 326px,#d4d4d4 333px,#ddd 342px,#ebebeb 515px)"></i>
<i style="top:237px;height:4px;background:linear-gradient(90deg,#b3b3b3 0px,#a6a6a6 11px,#939393 25px,#8e8e8e 72px,#868686 83px,#979797 99px,#9e9e9e 151px,#b4b4b4 203px,#b3b3b3 220px,#ababab 239px,#929292 251px,#5b5b5b 265px,#191919 279px,#090909 286px,#0b0b0b 292px,#202020 299px,#505050 308px,#bdbdbd 326px,#d5d5d5 333px,#dedede 343px,#ebebeb 515px)"></i>
<i style="top:241px;height:4px;background:linear-gradient(90deg,#b2b2b2 0px,#a6a6a6 10px,#949494 22px,#909090 52px,#8d8d8d 72px,#858585 83px,#969696 98px,#9e9e9e 154px,#b4b4b4 202px,#afafaf 235px,#9c9c9c 246px,#7a7a7a 256px,#181818 278px,#090909 285px,#0b0b0b 291px,#242424 299px,#4e4e4e 307px,#b6b6b6 324px,#d1d1d1 331px,#ddd 339px,#ebebeb 515px)"></i>
<i style="top:245px;height:4px;background:linear-gradient(90deg,#b2b2b2 0px,#a5a5a5 10px,#939393 21px,#8d8d8d 71px,#848484 83px,#959595 98px,#9d9d9d 157px,#b3b3b3 200px,#afafaf 235px,#9c9c9c 245px,#787878 255px,#171717 277px,#090909 284px,#0d0d0d 291px,#282828 299px,#535353 307px,#b4b4b4 323px,#d2d2d2 331px,#ddd 339px,#ebebeb 515px)"></i>
<i style="top:249px;height:4px;background:linear-gradient(90deg,#b1b1b1 0px,#a6a6a6 9px,#929292 20px,#8d8d8d 71px,#838383 83px,#959595 98px,#9d9d9d 159px,#b1b1b1 198px,#b3b3b3 225px,#acacac 237px,#8f8f8f 248px,#171717 276px,#090909 283px,#0d0d0d 290px,#272727 298px,#515151 306px,#aeaeae 321px,#cecece 329px,#dbdbdb 336px,#e8e8e8 466px,#ebebeb 515px)"></i>
<i style="top:253px;height:4px;background:linear-gradient(90deg,#b1b1b1 0px,#a5a5a5 9px,#929292 19px,#8c8c8c 71px,#828282 83px,#949494 98px,#9c9c9c 160px,#b0b0b0 197px,#b4b4b4 216px,#adadad 236px,#939393 246px,#606060 258px,#1a1a1a 274px,#0a0a0a 281px,#0b0b0b 288px,#232323 296px,#494949 304px,#a7a7a7 319px,#cacaca 327px,#dadada 334px,#e1e1e1 372px,#ebebeb 515px)"></i>
<i style="top:257px;height:4px;background:linear-gradient(90deg,#b0b0b0 0px,#a4a4a4 9px,#919191 19px,#8c8c8c 71px,#818181 83px,#949494 99px,#9c9c9c 161px,#b2b2b2 203px,#acacac 234px,#9d9d9d 242px,#787878 252px,#222 271px,#0b0b0b 279px,#0a0a0a 286px,#1e1e1e 294px,#474747 303px,#a5a5a5 318px,#c8c8c8 326px,#dbdbdb 334px,#e3e3e3 392px,#eaeaea 515px)"></i>
<i style="top:261px;height:4px;background:linear-gradient(90deg,#b0b0b0 0px,#a3a3a3 9px,#919191 19px,#8b8b8b 71px,#818181 83px,#939393 99px,#9b9b9b 161px,#adadad 198px,#a9a9a9 233px,#9c9c9c 241px,#797979 251px,#222 270px,#0b0b0b 278px,#0a0a0a 285px,#1b1b1b 292px,#464646 302px,#a8a8a8 318px,#cacaca 326px,#dbdbdb 334px,#e6e6e6 432px,#eaeaea 515px)"></i>
<i style="top:265px;height:4px;background:linear-gradient(90deg,#afafaf 0px,#a0a0a0 10px,#919191 19px,#8b8b8b 71px,#808080 83px,#939393 99px,#9a9a9a 161px,#a8a8a8 191px,#a7a7a7 231px,#9a9a9a 240px,#797979 250px,#1f1f1f 270px,#0a0a0a 278px,#0b0b0b 285px,#222 293px,#505050 303px,#a6a6a6 317px,#c8c8c8 325px,#dadada 333px,#e2e2e2 380px,#eaeaea 515px)"></i>
<i style="top:269px;height:4px;background:linear-gradient(90deg,#afafaf 0px,#9f9f9f 10px,#909090 19px,#8b8b8b 71px,#808080 83px,#929292 99px,#9a9a9a 162px,#a4a4a4 187px,#a2a2a2 195px,#a4a4a4 230px,#999 239px,#7a7a7a 249px,#1c1c1c 270px,#0a0a0a 277px,#0b0b0b 284px,#222 292px,#545454 303px,#a8a8a8 317px,#ccc 326px,#dcdcdc 334px,#eaeaea 515px)"></i>
<i style="top:273px;height:4px;background:linear-gradient(90deg,#aeaeae 0px,#9f9f9f 10px,#909090 19px,#8c8c8c 70px,#7f7f7f 82px,#929292 100px,#999 162px,#a2a2a2 182px,#989898 189px,#a1a1a1 209px,#9f9f9f 231px,#929292 240px,#717171 250px,#1c1c1c 269px,#0a0a0a 276px,#0b0b0b 283px,#212121 291px,#585858 303px,#ababab 317px,#cecece 326px,#dcdcdc 334px,#eaeaea 515px)"></i>
<i style="top:277px;height:4px;background:linear-gradient(90deg,#aeaeae 0px,#9c9c9c 11px,#909090 20px,#8c8c8c 70px,#7e7e7e 82px,#929292 100px,#999 163px,#9f9f9f 178px,#8f8f8f 185px,#9b9b9b 204px,#9c9c9c 230px,#8e8e8e 240px,#6d6d6d 250px,#1c1c1c 268px,#0a0a0a 275px,#0b0b0b 282px,#212121 290px,#5d5d5d 303px,#adadad 317px,#cfcfcf 326px,#dcdcdc 334px,#eaeaea 515px)"></i>
<i style="top:281px;height:4px;background:linear-gradient(90deg,#adadad 0px,#909090 19px,#8b8b8b 70px,#7e7e7e 82px,#919191 100px,#989898 163px,#9b9b9b 174px,#858585 180px,#8d8d8d 190px,#979797 205px,#999 229px,#8c8c8c 239px,#6d6d6d 249px,#191919 268px,#090909 275px,#0c0c0c 282px,#252525 290px,#616161 303px,#aaa 316px,#cdcdcd 325px,#dcdcdc 333px,#eaeaea 515px)"></i>
<i style="top:285px;height:4px;background:linear-gradient(90deg,#adadad 0px,#909090 19px,#8b8b8b 70px,#7d7d7d 82px,#878787 91px,#919191 101px,#979797 164px,#989898 170px,#888 173px,#747474 176px,#787878 180px,#909090 199px,#969696 228px,#888 239px,#696969 249px,#191919 267px,#090909 274px,#0c0c0c 281px,#252525 289px,#6a6a6a 304px,#acacac 316px,#d1d1d1 326px,#ddd 334px,#eaeaea 515px)"></i>
<i style="top:289px;height:4px;background:linear-gradient(90deg,#adadad 0px,#909090 18px,#8b8b8b 70px,#7d7d7d 82px,#878787 91px,#909090 101px,#959595 166px,#8c8c8c 168px,#5e5e5e 172px,#585858 174px,#737373 181px,#8b8b8b 199px,#929292 227px,#858585 238px,#686868 248px,#161616 267px,#080808 274px,#0e0e0e 281px,#2d2d2d 290px,#6e6e6e 304px,#afafaf 316px,#d2d2d2 326px,#ddd 334px,#eaeaea 515px)"></i>
<i style="top:293px;height:4px;background:linear-gradient(90deg,#acacac 0px,#909090 18px,#8b8b8b 70px,#7c7c7c 82px,#868686 91px,#909090 101px,#939393 162px,#8a8a8a 164px,#717171 166px,#515151 168px,#464646 169px,#3f3f3f 171px,#4a4a4a 174px,#696969 180px,#858585 197px,#8f8f8f 226px,#838383 237px,#676767 247px,#171717 266px,#080808 273px,#0e0e0e 280px,#282828 288px,#717171 304px,#b0b0b0 316px,#d6d6d6 327px,#dedede 336px,#eaeaea 515px)"></i>
<i style="top:297px;height:4px;background:linear-gradient(90deg,#acacac 0px,#909090 18px,#8b8b8b 70px,#7c7c7c 82px,#868686 91px,#909090 101px,#919191 158px,#8a8a8a 160px,#717171 162px,#3e3e3e 165px,#303030 167px,#303030 170px,#424242 174px,#5f5f5f 179px,#707070 186px,#838383 200px,#8c8c8c 226px,#7e7e7e 237px,#626262 247px,#171717 265px,#090909 272px,#0e0e0e 279px,#282828 287px,#7a7a7a 305px,#b6b6b6 317px,#d6d6d6 327px,#dedede 336px,#eaeaea 515px)"></i>
<i style="top:301px;height:4px;background:linear-gradient(90deg,#ababab 0px,#919191 17px,#8b8b8b 70px,#7b7b7b 82px,#858585 91px,#8f8f8f 101px,#909090 154px,#8a8a8a 156px,#818181 157px,#616161 159px,#3e3e3e 161px,#2c2c2c 163px,#282828 167px,#2e2e2e 171px,#616161 180px,#7c7c7c 195px,#8a8a8a 224px,#7f7f7f 235px,#626262 246px,#151515 265px,#080808 272px,#0f0f0f 279px,#2f2f2f 288px,#777 304px,#b3b3b3 316px,#d6d6d6 327px,#dedede 336px,#eaeaea 515px)"></i>
<i style="top:305px;height:4px;background:linear-gradient(90deg,#ababab 0px,#909090 17px,#8a8a8a 70px,#7b7b7b 82px,#848484 91px,#8f8f8f 101px,#8e8e8e 151px,#838383 153px,#656565 155px,#414141 157px,#2d2d2d 159px,#272727 163px,#2b2b2b 170px,#3d3d3d 174px,#5c5c5c 179px,#6d6d6d 186px,#808080 200px,#878787 226px,#767676 238px,#585858 248px,#171717 264px,#080808 271px,#0d0d0d 278px,#2c2c2c 287px,#787878 304px,#b4b4b4 316px,#d6d6d6 327px,#dedede 337px,#eaeaea 515px)"></i>
<i style="top:309px;height:4px;background:linear-gradient(90deg,#aaa 0px,#909090 17px,#8a8a8a 70px,#7a7a7a 82px,#848484 91px,#8e8e8e 101px,#8e8e8e 147px,#848484 149px,#696969 151px,#454545 153px,#2e2e2e 155px,#272727 158px,#292929 169px,#373737 173px,#5c5c5c 179px,#6d6d6d 186px,#7f7f7f 200px,#868686 225px,#767676 237px,#555 248px,#151515 264px,#080808 271px,#0e0e0e 278px,#2d2d2d 287px,#737373 303px,#b0b0b0 315px,#d3d3d3 326px,#ddd 335px,#eaeaea 515px)"></i>
<i style="top:313px;height:4px;background:linear-gradient(90deg,#aaa 0px,#919191 16px,#8a8a8a 70px,#7a7a7a 82px,#838383 91px,#8e8e8e 101px,#8e8e8e 143px,#868686 145px,#6d6d6d 147px,#3a3a3a 150px,#2b2b2b 152px,#272727 160px,#2b2b2b 170px,#3d3d3d 174px,#5c5c5c 179px,#6d6d6d 186px,#7e7e7e 200px,#848484 225px,#737373 237px,#525252 248px,#141414 264px,#080808 271px,#0f0f0f 278px,#323232 288px,#747474 303px,#b1b1b1 315px,#d0d0d0 325px,#ddd 334px,#eaeaea 515px)"></i>
<i style="top:317px;height:4px;background:linear-gradient(90deg,#a9a9a9 0px,#909090 16px,#8a8a8a 70px,#797979 82px,#828282 91px,#8d8d8d 101px,#8d8d8d 139px,#878787 141px,#717171 143px,#3d3d3d 146px,#2c2c2c 148px,#272727 153px,#292929 169px,#373737 173px,#5c5c5c 179px,#6d6d6d 186px,#7d7d7d 200px,#838383 224px,#737373 236px,#535353 247px,#151515 263px,#080808 270px,#0e0e0e 277px,#2b2b2b 286px,#6f6f6f 302px,#adadad 314px,#cecece 324px,#dcdcdc 333px,#eaeaea 515px)"></i>
<i style="top:321px;height:4px;background:linear-gradient(90deg,#a9a9a9 0px,#909090 16px,#8a8a8a 70px,#797979 82px,#828282 91px,#8d8d8d 101px,#8c8c8c 136px,#808080 138px,#646464 140px,#414141 142px,#2d2d2d 144px,#272727 148px,#292929 169px,#383838 173px,#5c5c5c 179px,#6d6d6d 186px,#7c7c7c 200px,#818181 224px,#707070 236px,#505050 247px,#141414 263px,#080808 270px,#0f0f0f 277px,#303030 287px,#707070 302px,#a9a9a9 313px,#c8c8c8 322px,#dbdbdb 332px,#e1e1e1 375px,#eaeaea 515px)"></i>
<i style="top:325px;height:4px;background:linear-gradient(90deg,#a8a8a8 0px,#909090 15px,#8a8a8a 70px,#787878 82px,#818181 91px,#8c8c8c 101px,#8c8c8c 132px,#828282 134px,#686868 136px,#444 138px,#2e2e2e 140px,#272727 143px,#2a2a2a 169px,#383838 173px,#5c5c5c 179px,#6c6c6c 186px,#7b7b7b 200px,#7f7f7f 224px,#6d6d6d 236px,#4e4e4e 247px,#121212 263px,#080808 270px,#0f0f0f 277px,#313131 287px,#6b6b6b 301px,#a5a5a5 312px,#c6c6c6 321px,#d9d9d9 331px,#dfdfdf 351px,#eaeaea 515px)"></i>
<i style="top:329px;height:4px;background:linear-gradient(90deg,#a8a8a8 0px,#909090 15px,#898989 70px,#787878 82px,#818181 91px,#8c8c8c 101px,#8b8b8b 128px,#848484 130px,#6c6c6c 132px,#3a3a3a 135px,#2b2b2b 137px,#272727 145px,#2a2a2a 169px,#383838 173px,#5c5c5c 179px,#6c6c6c 186px,#7a7a7a 200px,#7e7e7e 223px,#6d6d6d 235px,#4b4b4b 247px,#131313 262px,#080808 269px,#0e0e0e 276px,#2e2e2e 286px,#6b6b6b 301px,#a6a6a6 312px,#c6c6c6 321px,#dadada 332px,#e0e0e0 355px,#eaeaea 515px)"></i>
<i style="top:333px;height:4px;background:linear-gradient(90deg,#a7a7a7 0px,#909090 15px,#898989 70px,#787878 82px,#808080 91px,#8c8c8c 101px,#8b8b8b 124px,#858585 126px,#6f6f6f 128px,#3d3d3d 131px,#2c2c2c 133px,#272727 138px,#2a2a2a 169px,#383838 173px,#5c5c5c 179px,#6c6c6c 186px,#797979 200px,#7c7c7c 223px,#6b6b6b 235px,#484848 247px,#121212 262px,#080808 269px,#0f0f0f 276px,#333 287px,#6b6b6b 301px,#a2a2a2 311px,#c3c3c3 320px,#d9d9d9 332px,#dfdfdf 351px,#eaeaea 515px)"></i>
<i style="top:337px;height:4px;background:linear-gradient(90deg,#a7a7a7 0px,#909090 15px,#898989 70px,#797979 82px,#818181 91px,#8c8c8c 102px,#8a8a8a 121px,#7f7f7f 123px,#636363 125px,#404040 127px,#2d2d2d 129px,#272727 133px,#2a2a2a 169px,#383838 173px,#5c5c5c 179px,#6c6c6c 186px,#787878 200px,#7b7b7b 223px,#686868 235px,#454545 247px,#131313 261px,#080808 268px,#0e0e0e 275px,#2d2d2d 285px,#666 300px,#a2a2a2 311px,#c3c3c3 320px,#dadada 333px,#e0e0e0 356px,#eaeaea 515px)"></i>
<i style="top:341px;height:4px;background:linear-gradient(90deg,#a6a6a6 0px,#909090 15px,#8a8a8a 70px,#7a7a7a 82px,#838383 92px,#8c8c8c 103px,#8a8a8a 117px,#818181 119px,#676767 121px,#444 123px,#2e2e2e 125px,#272727 128px,#2a2a2a 169px,#383838 173px,#5c5c5c 179px,#6c6c6c 186px,#787878 200px,#7a7a7a 222px,#686868 234px,#434343 247px,#121212 261px,#080808 268px,#0e0e0e 275px,#313131 286px,#666 300px,#9e9e9e 310px,#c1c1c1 319px,#d8d8d8 332px,#dfdfdf 347px,#eaeaea 515px)"></i>
<i style="top:345px;height:4px;background:linear-gradient(90deg,#a5a5a5 0px,#909090 15px,#8a8a8a 70px,#7b7b7b 83px,#8c8c8c 102px,#8b8b8b 113px,#838383 115px,#6b6b6b 117px,#3a3a3a 120px,#2a2a2a 122px,#272727 130px,#2a2a2a 169px,#383838 173px,#5c5c5c 179px,#6c6c6c 186px,#777 200px,#787878 222px,#656565 234px,#404040 247px,#111 261px,#080808 268px,#0f0f0f 275px,#363636 287px,#666 300px,#9f9f9f 310px,#c1c1c1 319px,#dadada 334px,#e0e0e0 364px,#eaeaea 515px)"></i>
<i style="top:349px;height:4px;background:linear-gradient(90deg,#a4a4a4 0px,#8f8f8f 15px,#8a8a8a 70px,#7c7c7c 83px,#8c8c8c 103px,#898989 110px,#7c7c7c 112px,#5e5e5e 114px,#3c3c3c 116px,#2b2b2b 118px,#272727 123px,#2b2b2b 169px,#393939 173px,#5c5c5c 179px,#6b6b6b 186px,#757575 199px,#777 222px,#636363 234px,#3d3d3d 247px,#121212 260px,#080808 268px,#121212 276px,#616161 299px,#9f9f9f 310px,#c1c1c1 319px,#dbdbdb 335px,#e8e8e8 469px,#eaeaea 515px)"></i>
<i style="top:353px;height:4px;background:linear-gradient(90deg,#a3a3a3 0px,#8f8f8f 16px,#898989 71px,#7d7d7d 83px,#8c8c8c 103px,#868686 107px,#727272 109px,#3f3f3f 112px,#2b2b2b 114px,#262626 118px,#2b2b2b 169px,#393939 173px,#5c5c5c 179px,#6b6b6b 186px,#757575 199px,#757575 222px,#5e5e5e 235px,#343434 249px,#0f0f0f 261px,#080808 268px,#131313 276px,#616161 299px,#a0a0a0 310px,#c1c1c1 319px,#dcdcdc 336px,#eaeaea 515px)"></i>
<i style="top:357px;height:4px;background:linear-gradient(90deg,#a2a2a2 0px,#8f8f8f 16px,#898989 71px,#7e7e7e 83px,#8b8b8b 101px,#878787 103px,#757575 105px,#414141 108px,#343434 109px,#272727 111px,#2b2b2b 168px,#353535 172px,#5c5c5c 179px,#6b6b6b 186px,#757575 199px,#757575 222px,#5d5d5d 235px,#333 249px,#101010 260px,#080808 268px,#141414 276px,#616161 299px,#a0a0a0 310px,#c1c1c1 319px,#ddd 337px,#eaeaea 515px)"></i>
<i style="top:361px;height:4px;background:linear-gradient(90deg,#a1a1a1 0px,#8f8f8f 16px,#8a8a8a 71px,#808080 84px,#898989 98px,#828282 100px,#787878 101px,#353535 105px,#262626 107px,#252525 114px,#2c2c2c 168px,#373737 172px,#5d5d5d 179px,#6d6d6d 187px,#757575 201px,#747474 222px,#5c5c5c 235px,#323232 249px,#101010 260px,#080808 268px,#141414 276px,#626262 299px,#a0a0a0 310px,#c3c3c3 320px,#ddd 337px,#eaeaea 515px)"></i>
<i style="top:365px;height:4px;background:linear-gradient(90deg,#a0a0a0 0px,#8e8e8e 17px,#8a8a8a 71px,#818181 84px,#868686 95px,#7a7a7a 97px,#5a5a5a 99px,#373737 101px,#252525 103px,#212121 107px,#2e2e2e 168px,#3e3e3e 173px,#5d5d5d 179px,#6e6e6e 188px,#767676 205px,#747474 222px,#5c5c5c 235px,#2d2d2d 250px,#0d0d0d 261px,#080808 268px,#151515 276px,#626262 299px,#9c9c9c 309px,#c0c0c0 319px,#ddd 337px,#eaeaea 515px)"></i>
<i style="top:369px;height:4px;background:linear-gradient(90deg,#9f9f9f 0px,#8e8e8e 17px,#898989 72px,#828282 85px,#848484 91px,#7a7a7a 93px,#5d5d5d 95px,#393939 97px,#2c2c2c 98px,#212121 100px,#2e2e2e 167px,#3b3b3b 172px,#5e5e5e 179px,#6f6f6f 189px,#767676 212px,#717171 224px,#505050 239px,#111 259px,#080808 267px,#131313 275px,#626262 299px,#9c9c9c 309px,#c0c0c0 319px,#ddd 337px,#eaeaea 515px)"></i>
<i style="top:373px;height:4px;background:linear-gradient(90deg,#9e9e9e 0px,#8e8e8e 18px,#8a8a8a 72px,#808080 88px,#6f6f6f 90px,#2d2d2d 94px,#202020 96px,#222 109px,#2f2f2f 167px,#3d3d3d 172px,#5e5e5e 179px,#707070 190px,#757575 218px,#696969 228px,#434343 243px,#101010 259px,#080808 267px,#131313 275px,#636363 299px,#9c9c9c 309px,#c0c0c0 319px,#ddd 337px,#e9e9e9 515px)"></i>
<i style="top:377px;height:4px;background:linear-gradient(90deg,#9d9d9d 0px,#8e8e8e 18px,#898989 73px,#818181 84px,#717171 86px,#2f2f2f 90px,#1f1f1f 92px,#1d1d1d 98px,#2b2b2b 153px,#303030 167px,#3f3f3f 172px,#5e5e5e 179px,#717171 191px,#757575 219px,#656565 230px,#3f3f3f 244px,#121212 258px,#080808 266px,#111 274px,#636363 299px,#9c9c9c 309px,#c0c0c0 319px,#ddd 337px,#e9e9e9 515px)"></i>
<i style="top:381px;height:4px;background:linear-gradient(90deg,#9c9c9c 0px,#8d8d8d 19px,#898989 74px,#838383 80px,#747474 82px,#535353 84px,#303030 86px,#242424 87px,#1b1b1b 89px,#303030 166px,#414141 172px,#5f5f5f 179px,#727272 192px,#747474 219px,#646464 230px,#3e3e3e 244px,#111 258px,#080808 266px,#121212 274px,#636363 299px,#9c9c9c 309px,#c0c0c0 319px,#ddd 337px,#e9e9e9 510px,#e9e9e9 515px)"></i>
<i style="top:385px;height:4px;background:linear-gradient(90deg,#9b9b9b 0px,#8d8d8d 20px,#8a8a8a 74px,#828282 77px,#7a7a7a 78px,#595959 80px,#323232 82px,#242424 83px,#191919 85px,#313131 166px,#424242 172px,#5f5f5f 179px,#727272 193px,#747474 219px,#636363 230px,#3d3d3d 244px,#111 258px,#080808 266px,#121212 274px,#636363 299px,#9c9c9c 309px,#c0c0c0 319px,#ddd 337px,#e8e8e8 504px,#e9e9e9 515px)"></i>
<i style="top:389px;height:4px;background:linear-gradient(90deg,#9b9b9b 0px,#8d8d8d 21px,#8a8a8a 72px,#808080 74px,#757575 75px,#292929 79px,#1e1e1e 80px,#151515 82px,#2a2a2a 141px,#323232 166px,#444 172px,#606060 179px,#727272 193px,#737373 219px,#626262 230px,#3c3c3c 244px,#101010 258px,#080808 266px,#131313 274px,#646464 299px,#9c9c9c 309px,#c0c0c0 319px,#ddd 337px,#e8e8e8 499px,#e9e9e9 515px)"></i>
<i style="top:393px;height:4px;background:linear-gradient(90deg,#9a9a9a 0px,#8d8d8d 22px,#8b8b8b 68px,#858585 70px,#6f6f6f 72px,#3a3a3a 75px,#222 77px,#151515 80px,#2f2f2f 158px,#353535 167px,#606060 179px,#727272 193px,#737373 219px,#616161 230px,#3b3b3b 244px,#0f0f0f 258px,#080808 266px,#131313 274px,#646464 299px,#9c9c9c 309px,#bfbfbf 319px,#ddd 337px,#e8e8e8 494px,#e8e8e8 515px)"></i>
<i style="top:397px;height:4px;background:linear-gradient(90deg,#999 0px,#8c8c8c 23px,#8a8a8a 65px,#818181 67px,#696969 69px,#3e3e3e 72px,#282828 75px,#171717 79px,#161616 85px,#353535 166px,#4c4c4c 173px,#626262 180px,#737373 194px,#737373 219px,#616161 230px,#3a3a3a 244px,#111 257px,#080808 265px,#121212 273px,#646464 299px,#9c9c9c 309px,#bfbfbf 319px,#ddd 337px,#e8e8e8 490px,#e8e8e8 515px)"></i>
<i style="top:401px;height:4px;background:linear-gradient(90deg,#989898 0px,#8c8c8c 24px,#8b8b8b 61px,#838383 63px,#6f6f6f 65px,#4a4a4a 68px,#353535 72px,#171717 79px,#161616 85px,#343434 165px,#464646 171px,#616161 179px,#737373 194px,#727272 219px,#606060 230px,#393939 244px,#101010 257px,#080808 265px,#121212 273px,#646464 299px,#9c9c9c 309px,#bfbfbf 319px,#ddd 337px,#e7e7e7 487px,#e8e8e8 515px)"></i>
<i style="top:405px;height:4px;background:linear-gradient(90deg,#969696 0px,#8b8b8b 24px,#8a8a8a 57px,#848484 59px,#737373 61px,#515151 64px,#424242 67px,#2c2c2c 74px,#171717 79px,#161616 85px,#353535 165px,#4b4b4b 172px,#616161 179px,#737373 194px,#727272 219px,#5f5f5f 230px,#383838 244px,#101010 257px,#080808 265px,#121212 273px,#646464 299px,#9c9c9c 309px,#bfbfbf 319px,#dcdcdc 337px,#e7e7e7 485px,#e8e8e8 515px)"></i>
<i style="top:409px;height:4px;background:linear-gradient(90deg,#959595 0px,#8a8a8a 25px,#888 54px,#7f7f7f 56px,#545454 60px,#494949 62px,#383838 71px,#171717 79px,#161616 85px,#363636 164px,#454545 170px,#606060 178px,#737373 193px,#727272 218px,#616161 229px,#383838 244px,#111 257px,#080808 265px,#111 273px,#636363 299px,#9f9f9f 310px,#c1c1c1 320px,#dcdcdc 337px,#e7e7e7 485px,#e8e8e8 515px)"></i>
<i style="top:413px;height:4px;background:linear-gradient(90deg,#939393 0px,#898989 26px,#888 50px,#808080 52px,#4f4f4f 57px,#474747 60px,#3d3d3d 69px,#272727 75px,#171717 79px,#161616 85px,#373737 163px,#434343 169px,#606060 178px,#737373 193px,#727272 218px,#616161 229px,#393939 244px,#0f0f0f 258px,#080808 266px,#131313 274px,#616161 299px,#9e9e9e 310px,#c0c0c0 320px,#dcdcdc 337px,#e7e7e7 485px,#e8e8e8 515px)"></i>
<i style="top:417px;height:4px;background:linear-gradient(90deg,#919191 0px,#888 26px,#878787 46px,#818181 48px,#646464 51px,#525252 53px,#484848 56px,#3f3f3f 68px,#2c2c2c 74px,#171717 79px,#161616 85px,#353535 159px,#3f3f3f 167px,#636363 179px,#737373 194px,#717171 218px,#5e5e5e 230px,#393939 244px,#101010 258px,#080808 266px,#121212 274px,#606060 299px,#9d9d9d 310px,#c0c0c0 320px,#dcdcdc 337px,#e7e7e7 485px,#e8e8e8 515px)"></i>
<i style="top:421px;height:4px;background:linear-gradient(90deg,#909090 0px,#878787 27px,#848484 43px,#7b7b7b 45px,#555 49px,#4a4a4a 52px,#3f3f3f 68px,#2c2c2c 74px,#171717 79px,#161616 85px,#353535 157px,#414141 167px,#646464 179px,#737373 194px,#727272 217px,#606060 229px,#393939 244px,#101010 258px,#080808 266px,#111 274px,#5a5a5a 298px,#a0a0a0 311px,#c2c2c2 321px,#ddd 338px,#e7e7e7 498px,#e7e7e7 515px)"></i>
<i style="top:425px;height:4px;background:linear-gradient(90deg,#8e8e8e 0px,#868686 28px,#848484 39px,#7c7c7c 41px,#515151 46px,#4a4a4a 51px,#414141 67px,#303030 73px,#171717 79px,#161616 85px,#343434 155px,#434343 167px,#646464 179px,#737373 194px,#717171 217px,#5f5f5f 229px,#393939 244px,#101010 258px,#080808 266px,#101010 274px,#555 297px,#737373 303px,#9b9b9b 310px,#bfbfbf 320px,#dcdcdc 337px,#e7e7e7 485px,#e7e7e7 515px)"></i>
<i style="top:429px;height:4px;background:linear-gradient(90deg,#8c8c8c 0px,#858585 29px,#818181 36px,#6d6d6d 39px,#545454 42px,#4c4c4c 46px,#414141 67px,#303030 73px,#171717 79px,#161616 85px,#343434 154px,#444 167px,#656565 179px,#737373 194px,#717171 217px,#5d5d5d 230px,#363636 245px,#0f0f0f 259px,#080808 267px,#141414 276px,#5c5c5c 299px,#9e9e9e 311px,#c1c1c1 321px,#ddd 338px,#e7e7e7 499px,#e7e7e7 515px)"></i>
<i style="top:433px;height:4px;background:linear-gradient(90deg,#8b8b8b 0px,#818181 32px,#707070 35px,#575757 38px,#4e4e4e 42px,#404040 67px,#303030 73px,#171717 79px,#161616 85px,#343434 153px,#464646 167px,#656565 179px,#747474 194px,#717171 217px,#5b5b5b 231px,#333 246px,#0f0f0f 259px,#080808 267px,#131313 276px,#565656 298px,#9d9d9d 311px,#c0c0c0 321px,#ddd 338px,#e7e7e7 500px,#e7e7e7 515px)"></i>
<i style="top:437px;height:4px;background:linear-gradient(90deg,#898989 0px,#808080 28px,#727272 31px,#5a5a5a 34px,#515151 37px,#404040 67px,#303030 73px,#171717 79px,#161616 85px,#343434 153px,#4a4a4a 168px,#666 179px,#747474 194px,#717171 216px,#5c5c5c 230px,#373737 245px,#101010 259px,#080808 267px,#121212 276px,#545454 298px,#7c7c7c 305px,#a1a1a1 312px,#c0c0c0 321px,#dcdcdc 338px,#e7e7e7 500px,#e7e7e7 515px)"></i>
<i style="top:441px;height:4px;background:linear-gradient(90deg,#878787 0px,#7e7e7e 25px,#6c6c6c 28px,#585858 31px,#505050 38px,#404040 67px,#303030 73px,#171717 79px,#161616 85px,#343434 152px,#4c4c4c 168px,#686868 180px,#747474 195px,#717171 216px,#5a5a5a 231px,#343434 246px,#0e0e0e 260px,#080808 269px,#161616 278px,#535353 298px,#7a7a7a 305px,#a0a0a0 312px,#bfbfbf 321px,#dbdbdb 337px,#e6e6e6 484px,#e7e7e7 515px)"></i>
<i style="top:445px;height:4px;background:linear-gradient(90deg,#868686 0px,#7d7d7d 21px,#6e6e6e 24px,#5b5b5b 27px,#535353 33px,#404040 67px,#303030 73px,#171717 79px,#161616 85px,#343434 152px,#505050 169px,#686868 180px,#747474 195px,#717171 216px,#565656 233px,#2b2b2b 249px,#0d0d0d 261px,#090909 270px,#1a1a1a 280px,#565656 299px,#9a9a9a 311px,#bfbfbf 321px,#dbdbdb 337px,#e6e6e6 481px,#e7e7e7 515px)"></i>
<i style="top:449px;height:4px;background:linear-gradient(90deg,#848484 0px,#7d7d7d 17px,#6f6f6f 20px,#5c5c5c 23px,#565656 28px,#404040 67px,#303030 73px,#171717 79px,#161616 85px,#2d2d2d 139px,#363636 153px,#545454 170px,#6a6a6a 181px,#747474 195px,#717171 216px,#535353 234px,#0f0f0f 260px,#080808 269px,#141414 278px,#505050 298px,#777 305px,#9d9d9d 312px,#bebebe 321px,#dbdbdb 337px,#e5e5e5 462px,#e7e7e7 515px)"></i>
<i style="top:453px;height:4px;background:linear-gradient(90deg,#828282 0px,#7d7d7d 13px,#717171 16px,#5a5a5a 20px,#3f3f3f 67px,#303030 73px,#171717 79px,#161616 85px,#2d2d2d 137px,#353535 152px,#5b5b5b 172px,#6e6e6e 184px,#747474 200px,#6f6f6f 217px,#4a4a4a 238px,#0f0f0f 260px,#080808 269px,#131313 278px,#4f4f4f 298px,#757575 305px,#9c9c9c 312px,#bdbdbd 321px,#dbdbdb 337px,#e4e4e4 440px,#e7e7e7 515px)"></i>
<i style="top:457px;height:4px;background:linear-gradient(90deg,#818181 0px,#7b7b7b 10px,#5b5b5b 16px,#3f3f3f 67px,#303030 73px,#171717 79px,#161616 85px,#2d2d2d 136px,#363636 152px,#6b6b6b 181px,#747474 195px,#707070 216px,#4c4c4c 237px,#101010 260px,#080808 269px,#131313 278px,#494949 297px,#676767 303px,#969696 311px,#bdbdbd 321px,#dbdbdb 337px,#e3e3e3 416px,#e6e6e6 515px)"></i>
<i style="top:461px;height:4px;background:linear-gradient(90deg,#7f7f7f 0px,#7b7b7b 6px,#6d6d6d 9px,#5c5c5c 12px,#575757 18px,#525252 37px,#3e3e3e 68px,#2c2c2c 74px,#171717 79px,#161616 85px,#2d2d2d 135px,#353535 151px,#6c6c6c 181px,#747474 195px,#717171 215px,#4c4c4c 237px,#101010 260px,#080808 269px,#121212 278px,#444 296px,#5f5f5f 302px,#959595 311px,#bcbcbc 321px,#dbdbdb 337px,#e2e2e2 393px,#e6e6e6 515px)"></i>
<i style="top:465px;height:4px;background:linear-gradient(90deg,#7d7d7d 0px,#787878 3px,#5c5c5c 8px,#575757 13px,#555 33px,#3d3d3d 68px,#2c2c2c 74px,#171717 79px,#161616 85px,#2d2d2d 134px,#353535 151px,#6b6b6b 180px,#747474 194px,#717171 215px,#4a4a4a 238px,#0f0f0f 261px,#080808 270px,#151515 280px,#4a4a4a 298px,#6a6a6a 304px,#999 312px,#bebebe 322px,#dcdcdc 338px,#e6e6e6 497px,#e6e6e6 515px)"></i>
<i style="top:469px;height:4px;background:linear-gradient(90deg,#737373 0px,#595959 5px,#555 33px,#3d3d3d 68px,#2c2c2c 74px,#171717 79px,#161616 85px,#2d2d2d 133px,#363636 151px,#696969 178px,#747474 192px,#707070 215px,#474747 239px,#0f0f0f 261px,#080808 270px,#151515 280px,#454545 297px,#626262 303px,#979797 312px,#bdbdbd 322px,#dbdbdb 338px,#e6e6e6 496px,#e6e6e6 515px)"></i>
<i style="top:473px;height:4px;background:linear-gradient(90deg,#5b5b5b 0px,#565656 6px,#575757 31px,#3d3d3d 68px,#2b2b2b 74px,#171717 79px,#161616 85px,#2c2c2c 132px,#353535 150px,#666 175px,#747474 190px,#717171 214px,#474747 239px,#0f0f0f 261px,#080808 270px,#141414 280px,#444 297px,#606060 303px,#969696 312px,#bdbdbd 322px,#dbdbdb 338px,#e5e5e5 480px,#e6e6e6 515px)"></i>
<i style="top:477px;height:8px;background:linear-gradient(90deg,#555 0px,#585858 30px,#3d3d3d 68px,#2b2b2b 74px,#171717 79px,#161616 85px,#2d2d2d 131px,#353535 150px,#626262 171px,#747474 189px,#717171 214px,#454545 240px,#101010 261px,#080808 270px,#131313 280px,#3e3e3e 296px,#5e5e5e 303px,#949494 312px,#bcbcbc 322px,#dadada 337px,#dfdfdf 362px,#e6e6e6 515px)"></i>
<i style="top:485px;height:10px;background:linear-gradient(90deg,#555 0px,#595959 30px,#3d3d3d 68px,#2b2b2b 74px,#171717 79px,#161616 85px,#2c2c2c 129px,#363636 150px,#616161 169px,#757575 189px,#717171 214px,#454545 240px,#0f0f0f 262px,#080808 271px,#131313 281px,#3f3f3f 297px,#5b5b5b 303px,#929292 312px,#bababa 322px,#d9d9d9 337px,#dfdfdf 358px,#e6e6e6 515px)"></i>
</div></div>
<div class="p" style="left:1217px;top:47px;width:514px;height:490px"><div class="q" style="height:498px">
<i style="top:0px;height:10px;background:linear-gradient(90deg,#292929 0px,#303030 25px,#444 44px,#2d2d2d 55px,#303030 69px,#4b4b4b 80px,#4d4d4d 97px,#292929 176px,#262626 234px,#2a2a2a 259px,#454545 292px,#353535 305px,#171717 320px,#0d0d0d 331px,#0b0b0b 461px,#121212 468px,#090909 479px,#080808 513px)"></i>
<i style="top:10px;height:4px;background:linear-gradient(90deg,#292929 0px,#303030 25px,#434343 44px,#2d2d2d 55px,#303030 69px,#4b4b4b 80px,#4d4d4d 97px,#262626 188px,#292929 257px,#454545 292px,#353535 305px,#171717 320px,#0d0d0d 331px,#0c0c0c 462px,#0e0e0e 470px,#080808 484px,#080808 513px)"></i>
<i style="top:14px;height:5px;background:linear-gradient(90deg,#292929 0px,#313131 25px,#434343 44px,#2d2d2d 55px,#303030 69px,#4c4c4c 80px,#4d4d4d 98px,#262626 188px,#292929 257px,#454545 292px,#353535 305px,#171717 320px,#0d0d0d 331px,#080808 513px)"></i>
<i style="top:19px;height:4px;background:linear-gradient(90deg,#292929 0px,#313131 25px,#424242 44px,#2e2e2e 55px,#303030 69px,#4c4c4c 80px,#4e4e4e 98px,#262626 188px,#292929 257px,#464646 292px,#353535 305px,#171717 320px,#0d0d0d 331px,#0c0c0c 446px,#0e0e0e 454px,#090909 471px,#080808 513px)"></i>
<i style="top:23px;height:7px;background:linear-gradient(90deg,#292929 0px,#323232 25px,#414141 44px,#2e2e2e 55px,#323232 70px,#4d4d4d 80px,#4e4e4e 98px,#262626 188px,#292929 257px,#464646 292px,#353535 305px,#151515 321px,#0d0d0d 332px,#0c0c0c 445px,#121212 452px,#090909 463px,#080808 513px)"></i>
<i style="top:30px;height:4px;background:linear-gradient(90deg,#292929 0px,#333 25px,#404040 43px,#373737 49px,#2d2d2d 56px,#323232 70px,#4d4d4d 80px,#4e4e4e 98px,#262626 188px,#292929 257px,#464646 292px,#353535 305px,#151515 321px,#0d0d0d 332px,#0c0c0c 447px,#0d0d0d 455px,#080808 490px,#080808 513px)"></i>
<i style="top:34px;height:5px;background:linear-gradient(90deg,#292929 0px,#333 25px,#3f3f3f 42px,#393939 48px,#2e2e2e 55px,#323232 70px,#4d4d4d 80px,#4e4e4e 99px,#262626 188px,#292929 257px,#474747 292px,#353535 305px,#161616 321px,#0d0d0d 332px,#080808 513px)"></i>
<i style="top:39px;height:4px;background:linear-gradient(90deg,#292929 0px,#343434 25px,#3c3c3c 37px,#3d3d3d 46px,#2e2e2e 55px,#333 70px,#4e4e4e 80px,#4f4f4f 99px,#262626 188px,#292929 257px,#474747 291px,#393939 303px,#161616 321px,#0d0d0d 332px,#0c0c0c 430px,#0f0f0f 438px,#0a0a0a 452px,#080808 513px)"></i>
<i style="top:43px;height:6px;background:linear-gradient(90deg,#292929 0px,#343434 25px,#3c3c3c 36px,#3c3c3c 46px,#2e2e2e 55px,#333 70px,#4e4e4e 80px,#4f4f4f 99px,#262626 187px,#292929 257px,#484848 291px,#393939 303px,#141414 322px,#0d0d0d 333px,#0c0c0c 429px,#131313 436px,#0a0a0a 447px,#080808 513px)"></i>
<i style="top:49px;height:4px;background:linear-gradient(90deg,#2a2a2a 0px,#353535 25px,#3d3d3d 35px,#393939 47px,#2e2e2e 56px,#333 70px,#4e4e4e 80px,#4f4f4f 100px,#262626 187px,#292929 257px,#484848 291px,#393939 303px,#141414 322px,#0d0d0d 333px,#0d0d0d 431px,#0d0d0d 439px,#090909 473px,#080808 513px)"></i>
<i style="top:53px;height:5px;background:linear-gradient(90deg,#2a2a2a 0px,#373737 26px,#3d3d3d 35px,#393939 47px,#2e2e2e 56px,#333 70px,#4f4f4f 80px,#4f4f4f 100px,#262626 187px,#292929 257px,#484848 291px,#393939 303px,#141414 322px,#0d0d0d 333px,#080808 513px)"></i>
<i style="top:58px;height:4px;background:linear-gradient(90deg,#2a2a2a 0px,#373737 26px,#3d3d3d 35px,#373737 48px,#2e2e2e 57px,#343434 70px,#4f4f4f 80px,#4f4f4f 101px,#262626 187px,#292929 257px,#494949 291px,#393939 303px,#141414 322px,#0d0d0d 333px,#0d0d0d 414px,#0f0f0f 422px,#0a0a0a 436px,#080808 513px)"></i>
<i style="top:62px;height:7px;background:linear-gradient(90deg,#2a2a2a 0px,#383838 26px,#3e3e3e 34px,#353535 49px,#2f2f2f 58px,#343434 70px,#4f4f4f 80px,#505050 101px,#262626 187px,#292929 257px,#494949 291px,#393939 303px,#141414 322px,#0d0d0d 333px,#0c0c0c 413px,#121212 421px,#0a0a0a 432px,#080808 513px)"></i>
<i style="top:69px;height:4px;background:linear-gradient(90deg,#2a2a2a 0px,#393939 26px,#3e3e3e 34px,#2f2f2f 58px,#343434 70px,#505050 80px,#505050 102px,#262626 187px,#282828 256px,#494949 291px,#393939 303px,#131313 323px,#0d0d0d 335px,#0c0c0c 424px,#080808 513px)"></i>
<i style="top:73px;height:4px;background:linear-gradient(90deg,#2a2a2a 0px,#393939 26px,#3e3e3e 34px,#2f2f2f 58px,#343434 70px,#505050 80px,#505050 103px,#262626 187px,#282828 256px,#4a4a4a 291px,#3a3a3a 303px,#131313 323px,#0d0d0d 335px,#080808 513px)"></i>
<i style="top:77px;height:4px;background:linear-gradient(90deg,#2a2a2a 0px,#3a3a3a 26px,#3f3f3f 34px,#2f2f2f 57px,#343434 70px,#515151 80px,#505050 104px,#262626 186px,#282828 256px,#4a4a4a 291px,#3a3a3a 303px,#131313 323px,#0d0d0d 335px,#0d0d0d 398px,#0f0f0f 406px,#0a0a0a 421px,#080808 513px)"></i>
<i style="top:81px;height:7px;background:linear-gradient(90deg,#2a2a2a 0px,#3a3a3a 26px,#404040 33px,#2f2f2f 54px,#333 69px,#515151 80px,#505050 105px,#262626 186px,#292929 256px,#4a4a4a 291px,#3a3a3a 303px,#131313 323px,#0d0d0d 335px,#0d0d0d 397px,#121212 405px,#0a0a0a 416px,#080808 513px)"></i>
<i style="top:88px;height:4px;background:linear-gradient(90deg,#2a2a2a 0px,#3b3b3b 26px,#404040 33px,#363636 44px,#303030 60px,#353535 70px,#515151 80px,#515151 106px,#262626 186px,#292929 256px,#4b4b4b 291px,#3a3a3a 303px,#131313 323px,#0d0d0d 335px,#0d0d0d 408px,#080808 513px)"></i>
<i style="top:92px;height:4px;background:linear-gradient(90deg,#2a2a2a 0px,#3c3c3c 26px,#414141 33px,#353535 44px,#303030 61px,#353535 70px,#525252 80px,#515151 108px,#262626 186px,#292929 256px,#4b4b4b 291px,#3c3c3c 302px,#131313 323px,#0d0d0d 335px,#080808 513px)"></i>
<i style="top:96px;height:4px;background:linear-gradient(90deg,#2a2a2a 0px,#3d3d3d 27px,#414141 33px,#343434 43px,#303030 62px,#353535 70px,#525252 80px,#515151 109px,#262626 185px,#292929 256px,#4b4b4b 291px,#3c3c3c 302px,#121212 324px,#0c0c0c 338px,#0e0e0e 383px,#101010 390px,#0b0b0b 406px,#080808 513px)"></i>
<i style="top:100px;height:7px;background:linear-gradient(90deg,#2a2a2a 0px,#3e3e3e 27px,#414141 33px,#333 43px,#313131 64px,#383838 71px,#515151 79px,#545454 93px,#4c4c4c 120px,#262626 184px,#292929 256px,#4c4c4c 291px,#3c3c3c 302px,#121212 324px,#0c0c0c 338px,#0e0e0e 382px,#131313 389px,#0b0b0b 400px,#080808 513px)"></i>
<i style="top:107px;height:4px;background:linear-gradient(90deg,#2a2a2a 0px,#434343 32px,#323232 43px,#323232 67px,#3e3e3e 73px,#515151 79px,#555 93px,#4d4d4d 119px,#272727 183px,#292929 256px,#4c4c4c 291px,#3c3c3c 302px,#121212 324px,#0c0c0c 338px,#0e0e0e 384px,#080808 513px)"></i>
<i style="top:111px;height:4px;background:linear-gradient(90deg,#2a2a2a 0px,#434343 32px,#323232 43px,#333 68px,#424242 74px,#535353 80px,#515151 113px,#272727 182px,#292929 256px,#4d4d4d 291px,#3c3c3c 302px,#121212 324px,#0c0c0c 338px,#080808 513px)"></i>
<i style="top:115px;height:4px;background:linear-gradient(90deg,#2a2a2a 0px,#444 32px,#313131 43px,#333 68px,#424242 74px,#535353 80px,#525252 113px,#272727 181px,#292929 256px,#4d4d4d 291px,#3c3c3c 302px,#121212 324px,#0d0d0d 338px,#0f0f0f 367px,#0f0f0f 375px,#0b0b0b 401px,#080808 513px)"></i>
<i style="top:119px;height:7px;background:linear-gradient(90deg,#2a2a2a 0px,#444 32px,#303030 43px,#353535 69px,#545454 80px,#525252 114px,#282828 179px,#292929 256px,#4d4d4d 291px,#3c3c3c 302px,#121212 324px,#0c0c0c 341px,#0f0f0f 366px,#131313 373px,#0b0b0b 384px,#080808 513px)"></i>
<i style="top:126px;height:4px;background:linear-gradient(90deg,#2a2a2a 0px,#444 32px,#303030 43px,#363636 69px,#555 80px,#525252 115px,#292929 178px,#292929 255px,#4d4d4d 291px,#3c3c3c 302px,#141414 324px,#0d0d0d 336px,#0d0d0d 376px,#080808 513px)"></i>
<i style="top:130px;height:5px;background:linear-gradient(90deg,#2a2a2a 0px,#444 32px,#313131 43px,#373737 69px,#555 80px,#535353 115px,#292929 178px,#292929 254px,#4c4c4c 291px,#3b3b3b 303px,#121212 326px,#0c0c0c 340px,#080808 513px)"></i>
<i style="top:135px;height:5px;background:linear-gradient(90deg,#2a2a2a 0px,#434343 32px,#323232 43px,#393939 69px,#565656 80px,#545454 115px,#292929 179px,#2a2a2a 253px,#4c4c4c 291px,#373737 305px,#121212 326px,#0c0c0c 340px,#111 358px,#0c0c0c 371px,#080808 513px)"></i>
<i style="top:140px;height:4px;background:linear-gradient(90deg,#2a2a2a 0px,#434343 32px,#333 43px,#3b3b3b 69px,#575757 80px,#545454 116px,#2a2a2a 179px,#2b2b2b 249px,#3a3a3a 270px,#4b4b4b 291px,#2e2e2e 312px,#191919 321px,#0d0d0d 333px,#0f0f0f 350px,#131313 357px,#0c0c0c 368px,#080808 513px)"></i>
<i style="top:144px;height:4px;background:linear-gradient(90deg,#2a2a2a 0px,#434343 31px,#343434 44px,#3c3c3c 69px,#585858 80px,#555 116px,#2a2a2a 179px,#2b2b2b 243px,#323232 261px,#4a4a4a 291px,#3c3c3c 306px,#333 311px,#1c1c1c 319px,#0d0d0d 332px,#0f0f0f 352px,#0e0e0e 361px,#080808 513px)"></i>
<i style="top:148px;height:4px;background:linear-gradient(90deg,#2a2a2a 0px,#414141 29px,#3d3d3d 36px,#353535 44px,#3e3e3e 69px,#595959 80px,#555 117px,#2b2b2b 179px,#2b2b2b 239px,#333 261px,#494949 291px,#404040 307px,#1c1c1c 319px,#0d0d0d 332px,#080808 513px)"></i>
<i style="top:152px;height:4px;background:linear-gradient(90deg,#2a2a2a 0px,#373737 15px,#414141 30px,#363636 45px,#404040 70px,#5a5a5a 80px,#565656 117px,#2c2c2c 179px,#2c2c2c 236px,#343434 261px,#494949 292px,#494949 303px,#1c1c1c 319px,#0e0e0e 331px,#0f0f0f 343px,#080808 513px)"></i>
<i style="top:156px;height:4px;background:linear-gradient(90deg,#2a2a2a 0px,#363636 14px,#3e3e3e 23px,#3f3f3f 35px,#373737 44px,#424242 70px,#5b5b5b 80px,#565656 118px,#2c2c2c 179px,#2c2c2c 234px,#363636 262px,#4e4e4e 295px,#4f4f4f 300px,#3a3a3a 309px,#1c1c1c 319px,#0e0e0e 331px,#131313 341px,#0c0c0c 352px,#080808 513px)"></i>
<i style="top:160px;height:4px;background:linear-gradient(90deg,#2a2a2a 0px,#363636 14px,#3f3f3f 23px,#3f3f3f 35px,#383838 45px,#434343 70px,#5b5b5b 80px,#575757 118px,#2d2d2d 178px,#2c2c2c 232px,#383838 264px,#4a4a4a 289px,#565656 295px,#434343 306px,#1c1c1c 319px,#0e0e0e 331px,#131313 341px,#0c0c0c 353px,#080808 513px)"></i>
<i style="top:164px;height:4px;background:linear-gradient(90deg,#2a2a2a 0px,#353535 13px,#3f3f3f 22px,#3e3e3e 36px,#3a3a3a 46px,#454545 70px,#5c5c5c 80px,#585858 119px,#2d2d2d 178px,#2c2c2c 231px,#3a3a3a 266px,#484848 285px,#5a5a5a 291px,#4e4e4e 301px,#333 311px,#1c1c1c 319px,#0e0e0e 332px,#0f0f0f 343px,#080808 512px,#080808 513px)"></i>
<i style="top:168px;height:4px;background:linear-gradient(90deg,#2a2a2a 0px,#353535 13px,#404040 21px,#3c3c3c 48px,#464646 70px,#5d5d5d 80px,#585858 120px,#2e2e2e 177px,#2d2d2d 230px,#3d3d3d 271px,#464646 281px,#5d5d5d 287px,#555 297px,#3d3d3d 308px,#1e1e1e 318px,#0d0d0d 332px,#080808 513px)"></i>
<i style="top:172px;height:4px;background:linear-gradient(90deg,#2a2a2a 0px,#333 12px,#404040 21px,#3d3d3d 48px,#484848 70px,#5e5e5e 80px,#595959 120px,#2f2f2f 177px,#2d2d2d 229px,#404040 274px,#484848 278px,#616161 283px,#606060 289px,#4d4d4d 302px,#1d1d1d 319px,#0d0d0d 334px,#080808 513px)"></i>
<i style="top:176px;height:4px;background:linear-gradient(90deg,#2a2a2a 0px,#333 12px,#414141 21px,#3d3d3d 47px,#494949 70px,#5f5f5f 80px,#595959 121px,#2f2f2f 176px,#2d2d2d 228px,#414141 272px,#4c4c4c 275px,#646464 279px,#676767 283px,#555 299px,#383838 310px,#1f1f1f 318px,#0d0d0d 334px,#080808 513px)"></i>
<i style="top:180px;height:4px;background:linear-gradient(90deg,#2a2a2a 0px,#333 12px,#414141 20px,#3f3f3f 47px,#4a4a4a 70px,#5f5f5f 80px,#5a5a5a 121px,#303030 176px,#2e2e2e 228px,#404040 268px,#4a4a4a 271px,#666 275px,#6d6d6d 278px,#5b5b5b 297px,#404040 308px,#202020 318px,#0d0d0d 334px,#080808 513px)"></i>
<i style="top:184px;height:4px;background:linear-gradient(90deg,#2a2a2a 0px,#333 12px,#424242 20px,#3d3d3d 40px,#4c4c4c 70px,#606060 80px,#5b5b5b 122px,#303030 176px,#2e2e2e 228px,#414141 265px,#505050 268px,#6c6c6c 272px,#717171 276px,#626262 296px,#454545 307px,#1f1f1f 319px,#0d0d0d 333px,#080808 513px)"></i>
<i style="top:188px;height:4px;background:linear-gradient(90deg,#2a2a2a 0px,#333 12px,#424242 20px,#3e3e3e 33px,#4b4b4b 68px,#626262 81px,#5b5b5b 123px,#313131 176px,#2f2f2f 227px,#404040 261px,#4e4e4e 264px,#6e6e6e 268px,#747474 271px,#6e6e6e 294px,#5d5d5d 301px,#363636 312px,#1c1c1c 321px,#0e0e0e 332px,#080808 513px)"></i>
<i style="top:192px;height:4px;background:linear-gradient(90deg,#2a2a2a 0px,#313131 11px,#434343 20px,#3d3d3d 32px,#4f4f4f 70px,#626262 80px,#5c5c5c 123px,#313131 175px,#2f2f2f 227px,#3f3f3f 257px,#4c4c4c 260px,#6e6e6e 264px,#777 267px,#7c7c7c 283px,#848484 292px,#7b7b7b 297px,#606060 302px,#414141 307px,#141414 326px,#0d0d0d 337px,#080808 513px)"></i>
<i style="top:196px;height:4px;background:linear-gradient(90deg,#2a2a2a 0px,#313131 11px,#434343 20px,#3d3d3d 32px,#505050 70px,#636363 80px,#5c5c5c 124px,#323232 175px,#2f2f2f 226px,#404040 254px,#515151 257px,#747474 261px,#7a7a7a 265px,#7d7d7d 278px,#9e9e9e 291px,#9b9b9b 295px,#888 299px,#464646 306px,#3b3b3b 309px,#323232 315px,#151515 326px,#0d0d0d 336px,#080808 513px)"></i>
<i style="top:200px;height:4px;background:linear-gradient(90deg,#2a2a2a 0px,#313131 11px,#444 20px,#3c3c3c 31px,#515151 70px,#636363 80px,#5d5d5d 124px,#323232 175px,#303030 226px,#3e3e3e 250px,#4d4d4d 253px,#727272 257px,#7b7b7b 260px,#7e7e7e 275px,#8d8d8d 281px,#afafaf 289px,#b2b2b2 294px,#a4a4a4 298px,#8a8a8a 301px,#545454 306px,#464646 309px,#323232 316px,#161616 326px,#0d0d0d 336px,#080808 513px)"></i>
<i style="top:204px;height:4px;background:linear-gradient(90deg,#2a2a2a 0px,#323232 11px,#454545 20px,#3c3c3c 31px,#545454 71px,#646464 80px,#5e5e5e 124px,#333 175px,#303030 226px,#3c3c3c 246px,#494949 249px,#6f6f6f 253px,#7b7b7b 256px,#818181 275px,#8f8f8f 280px,#b4b4b4 288px,#bababa 293px,#b2b2b2 297px,#a0a0a0 300px,#606060 307px,#313131 317px,#151515 327px,#0d0d0d 338px,#080808 513px)"></i>
<i style="top:208px;height:4px;background:linear-gradient(90deg,#2b2b2b 0px,#333 11px,#454545 19px,#3d3d3d 31px,#555 71px,#656565 80px,#5e5e5e 125px,#333 174px,#303030 226px,#3b3b3b 243px,#4d4d4d 246px,#717171 250px,#7b7b7b 254px,#828282 274px,#909090 279px,#b5b5b5 287px,#bcbcbc 292px,#b3b3b3 297px,#9a9a9a 301px,#626262 308px,#323232 317px,#171717 326px,#0e0e0e 335px,#080808 513px)"></i>
<i style="top:212px;height:4px;background:linear-gradient(90deg,#2b2b2b 0px,#343434 11px,#454545 19px,#3e3e3e 31px,#565656 71px,#666 80px,#5f5f5f 125px,#333 174px,#303030 227px,#383838 239px,#484848 242px,#6e6e6e 246px,#787878 249px,#7f7f7f 264px,#838383 273px,#929292 278px,#bababa 286px,#c2c2c2 291px,#bababa 296px,#a3a3a3 300px,#5c5c5c 309px,#323232 317px,#171717 326px,#0e0e0e 335px,#080808 513px)"></i>
<i style="top:216px;height:4px;background:linear-gradient(90deg,#2c2c2c 0px,#363636 11px,#464646 19px,#3f3f3f 31px,#575757 71px,#676767 81px,#5f5f5f 126px,#464646 152px,#323232 176px,#303030 227px,#373737 236px,#4d4d4d 239px,#6a6a6a 242px,#757575 245px,#808080 263px,#858585 272px,#979797 277px,#c3c3c3 285px,#ccc 290px,#c5c5c5 295px,#afafaf 299px,#616161 308px,#343434 316px,#191919 325px,#0e0e0e 334px,#080808 513px)"></i>
<i style="top:220px;height:4px;background:linear-gradient(90deg,#2d2d2d 0px,#383838 11px,#474747 19px,#404040 31px,#585858 71px,#686868 81px,#606060 126px,#4c4c4c 148px,#353535 170px,#2e2e2e 219px,#353535 232px,#484848 235px,#666 238px,#727272 241px,#818181 264px,#878787 271px,#9b9b9b 276px,#c8c8c8 283px,#d5d5d5 288px,#d1d1d1 294px,#bebebe 298px,#8f8f8f 303px,#606060 308px,#373737 315px,#1d1d1d 323px,#0f0f0f 332px,#080808 513px)"></i>
<i style="top:224px;height:4px;background:linear-gradient(90deg,#2e2e2e 0px,#373737 10px,#474747 18px,#414141 31px,#595959 71px,#696969 81px,#616161 126px,#4e4e4e 147px,#383838 166px,#303030 190px,#313131 227px,#3b3b3b 230px,#696969 235px,#727272 238px,#878787 270px,#969696 274px,#ccc 282px,#d9d9d9 286px,#d9d9d9 293px,#cbcbcb 297px,#b2b2b2 300px,#686868 307px,#454545 312px,#262626 319px,#101010 330px,#0b0b0b 402px,#080808 513px)"></i>
<i style="top:228px;height:4px;background:linear-gradient(90deg,#2f2f2f 0px,#393939 10px,#484848 18px,#424242 30px,#5a5a5a 71px,#6a6a6a 81px,#616161 127px,#505050 146px,#3a3a3a 163px,#303030 186px,#303030 224px,#3f3f3f 227px,#656565 231px,#707070 234px,#888 269px,#9b9b9b 274px,#d0d0d0 282px,#dbdbdb 287px,#d9d9d9 293px,#c9c9c9 297px,#a5a5a5 301px,#656565 307px,#434343 312px,#252525 319px,#101010 330px,#0a0a0a 432px,#080808 513px)"></i>
<i style="top:232px;height:4px;background:linear-gradient(90deg,#303030 0px,#3a3a3a 10px,#494949 18px,#434343 30px,#5b5b5b 71px,#6a6a6a 81px,#616161 128px,#535353 145px,#3b3b3b 162px,#303030 186px,#2f2f2f 220px,#3b3b3b 223px,#606060 227px,#6d6d6d 230px,#888 268px,#9a9a9a 273px,#cecece 281px,#dadada 285px,#d9d9d9 291px,#cdcdcd 295px,#afafaf 299px,#686868 306px,#414141 312px,#242424 319px,#101010 330px,#090909 477px,#080808 513px)"></i>
<i style="top:236px;height:4px;background:linear-gradient(90deg,#313131 0px,#3c3c3c 10px,#494949 17px,#444 30px,#545454 58px,#5e5e5e 72px,#6b6b6b 81px,#626262 128px,#555 144px,#3b3b3b 161px,#2f2f2f 186px,#303030 217px,#3f3f3f 220px,#626262 224px,#6b6b6b 228px,#898989 267px,#9a9a9a 272px,#d0d0d0 281px,#dadada 286px,#d6d6d6 291px,#c3c3c3 295px,#8d8d8d 301px,#626262 306px,#363636 314px,#1f1f1f 321px,#0e0e0e 332px,#080808 513px)"></i>
<i style="top:240px;height:4px;background:linear-gradient(90deg,#323232 0px,#3d3d3d 10px,#4b4b4b 17px,#444 29px,#555 56px,#5f5f5f 72px,#6c6c6c 81px,#626262 130px,#565656 144px,#3c3c3c 160px,#2f2f2f 186px,#303030 213px,#3c3c3c 216px,#5c5c5c 220px,#676767 224px,#898989 266px,#9b9b9b 271px,#cfcfcf 280px,#d9d9d9 285px,#d4d4d4 290px,#bfbfbf 294px,#6b6b6b 304px,#3e3e3e 312px,#232323 319px,#0f0f0f 331px,#080808 513px)"></i>
<i style="top:244px;height:4px;background:linear-gradient(90deg,#333 0px,#3f3f3f 10px,#4c4c4c 17px,#454545 28px,#555 54px,#5e5e5e 71px,#6d6d6d 81px,#626262 131px,#575757 144px,#3c3c3c 160px,#2f2f2f 187px,#313131 210px,#404040 213px,#5b5b5b 217px,#666 225px,#888 264px,#989898 269px,#ccc 278px,#d8d8d8 283px,#d5d5d5 288px,#c5c5c5 292px,#6c6c6c 303px,#383838 313px,#202020 320px,#0e0e0e 332px,#080808 513px)"></i>
<i style="top:248px;height:4px;background:linear-gradient(90deg,#343434 0px,#404040 10px,#4d4d4d 17px,#464646 28px,#565656 52px,#5f5f5f 71px,#6e6e6e 81px,#636363 133px,#595959 144px,#3d3d3d 159px,#2e2e2e 186px,#303030 206px,#3c3c3c 209px,#575757 213px,#636363 223px,#797979 248px,#898989 263px,#9c9c9c 268px,#c9c9c9 276px,#d5d5d5 281px,#d4d4d4 287px,#c5c5c5 291px,#6f6f6f 302px,#373737 313px,#202020 320px,#0e0e0e 332px,#080808 513px)"></i>
<i style="top:252px;height:4px;background:linear-gradient(90deg,#353535 0px,#3f3f3f 9px,#4e4e4e 16px,#464646 27px,#575757 51px,#606060 71px,#6e6e6e 81px,#636363 135px,#585858 145px,#3d3d3d 159px,#2f2f2f 187px,#323232 203px,#414141 206px,#535353 209px,#5a5a5a 214px,#777 246px,#878787 261px,#999 266px,#c8c8c8 274px,#d3d3d3 279px,#d2d2d2 287px,#c2c2c2 291px,#717171 301px,#373737 313px,#202020 320px,#0e0e0e 332px,#080808 513px)"></i>
<i style="top:256px;height:4px;background:linear-gradient(90deg,#353535 0px,#404040 9px,#4f4f4f 16px,#474747 27px,#575757 51px,#616161 71px,#6f6f6f 81px,#636363 137px,#555 147px,#3f3f3f 159px,#323232 187px,#343434 199px,#3f3f3f 202px,#535353 206px,#616161 224px,#767676 243px,#878787 260px,#9a9a9a 265px,#c7c7c7 272px,#d1d1d1 276px,#d0d0d0 287px,#c5c5c5 290px,#a6a6a6 294px,#757575 300px,#444 310px,#252525 318px,#0f0f0f 331px,#080808 513px)"></i>
<i style="top:260px;height:4px;background:linear-gradient(90deg,#363636 0px,#444 10px,#4f4f4f 16px,#474747 27px,#585858 51px,#616161 71px,#6f6f6f 81px,#646464 139px,#4e4e4e 152px,#404040 163px,#363636 189px,#393939 196px,#525252 203px,#5a5a5a 220px,#757575 242px,#868686 259px,#999 264px,#c5c5c5 271px,#d0d0d0 275px,#d0d0d0 286px,#c2c2c2 290px,#787878 299px,#505050 307px,#272727 317px,#101010 330px,#0b0b0b 407px,#080808 513px)"></i>
<i style="top:264px;height:4px;background:linear-gradient(90deg,#373737 0px,#454545 10px,#505050 16px,#474747 27px,#585858 52px,#616161 71px,#707070 81px,#656565 140px,#474747 160px,#3c3c3c 189px,#414141 194px,#505050 199px,#555 218px,#757575 241px,#868686 258px,#969696 263px,#c6c6c6 271px,#d0d0d0 276px,#cecece 285px,#c0c0c0 289px,#7a7a7a 298px,#505050 307px,#252525 318px,#0e0e0e 332px,#080808 513px)"></i>
<i style="top:268px;height:4px;background:linear-gradient(90deg,#383838 0px,#464646 10px,#505050 16px,#474747 27px,#585858 52px,#626262 71px,#707070 81px,#666 141px,#4b4b4b 160px,#414141 187px,#4f4f4f 197px,#525252 217px,#757575 241px,#858585 257px,#999 263px,#c5c5c5 271px,#cecece 276px,#c8c8c8 284px,#b9b9b9 288px,#7b7b7b 297px,#272727 317px,#0f0f0f 331px,#080808 513px)"></i>
<i style="top:272px;height:4px;background:linear-gradient(90deg,#393939 0px,#515151 16px,#484848 27px,#595959 53px,#626262 71px,#717171 81px,#676767 142px,#4f4f4f 161px,#484848 185px,#4f4f4f 192px,#4f4f4f 216px,#757575 241px,#858585 256px,#999 262px,#c2c2c2 270px,#c9c9c9 275px,#c2c2c2 282px,#afafaf 287px,#7a7a7a 296px,#252525 318px,#0e0e0e 332px,#080808 513px)"></i>
<i style="top:276px;height:4px;background:linear-gradient(90deg,#3a3a3a 0px,#515151 16px,#484848 27px,#5a5a5a 54px,#626262 71px,#717171 81px,#686868 143px,#545454 161px,#4f4f4f 182px,#525252 188px,#4a4a4a 199px,#4d4d4d 217px,#757575 240px,#858585 255px,#999 261px,#c1c1c1 269px,#c5c5c5 274px,#b3b3b3 283px,#747474 297px,#252525 318px,#0e0e0e 332px,#080808 513px)"></i>
<i style="top:280px;height:4px;background:linear-gradient(90deg,#3a3a3a 0px,#525252 16px,#484848 27px,#5a5a5a 54px,#626262 71px,#717171 81px,#6b6b6b 143px,#585858 162px,#555 179px,#565656 185px,#484848 196px,#4a4a4a 216px,#757575 240px,#858585 254px,#9b9b9b 260px,#bebebe 267px,#c4c4c4 271px,#b1b1b1 280px,#979797 288px,#6d6d6d 299px,#252525 318px,#0e0e0e 332px,#080808 513px)"></i>
<i style="top:284px;height:4px;background:linear-gradient(90deg,#3b3b3b 0px,#525252 16px,#494949 27px,#5a5a5a 55px,#626262 71px,#727272 81px,#6c6c6c 144px,#5c5c5c 163px,#5c5c5c 176px,#5b5b5b 182px,#474747 195px,#484848 216px,#767676 240px,#858585 253px,#9d9d9d 259px,#bfbfbf 266px,#c4c4c4 270px,#b4b4b4 277px,#909090 289px,#434343 310px,#252525 318px,#0e0e0e 332px,#080808 513px)"></i>
<i style="top:288px;height:4px;background:linear-gradient(90deg,#3c3c3c 0px,#535353 15px,#494949 28px,#5a5a5a 54px,#636363 71px,#727272 81px,#6e6e6e 145px,#616161 165px,#626262 177px,#464646 195px,#484848 216px,#767676 240px,#848484 251px,#9b9b9b 257px,#bdbdbd 264px,#c3c3c3 269px,#b4b4b4 276px,#8a8a8a 290px,#484848 309px,#252525 318px,#0e0e0e 332px,#080808 513px)"></i>
<i style="top:292px;height:4px;background:linear-gradient(90deg,#3d3d3d 0px,#535353 15px,#494949 28px,#5b5b5b 55px,#636363 71px,#727272 81px,#707070 146px,#666 166px,#676767 174px,#464646 195px,#484848 216px,#777 240px,#848484 250px,#999 255px,#b9b9b9 261px,#c1c1c1 266px,#b7b7b7 274px,#848484 291px,#4c4c4c 308px,#252525 318px,#0e0e0e 332px,#080808 513px)"></i>
<i style="top:296px;height:4px;background:linear-gradient(90deg,#3e3e3e 0px,#545454 15px,#494949 28px,#5b5b5b 55px,#636363 71px,#737373 81px,#727272 147px,#6c6c6c 165px,#6a6a6a 173px,#464646 195px,#484848 216px,#787878 240px,#858585 249px,#9a9a9a 254px,#bababa 260px,#bfbfbf 265px,#b4b4b4 274px,#626262 302px,#252525 318px,#0e0e0e 332px,#080808 513px)"></i>
<i style="top:300px;height:4px;background:linear-gradient(90deg,#3f3f3f 0px,#555 15px,#4a4a4a 28px,#5b5b5b 55px,#636363 71px,#737373 81px,#747474 149px,#6b6b6b 172px,#464646 195px,#484848 216px,#787878 240px,#878787 249px,#9f9f9f 254px,#bababa 259px,#bfbfbf 264px,#b2b2b2 274px,#585858 305px,#252525 318px,#0e0e0e 332px,#080808 513px)"></i>
<i style="top:304px;height:4px;background:linear-gradient(90deg,#3f3f3f 0px,#555 14px,#4a4a4a 28px,#5c5c5c 56px,#636363 71px,#747474 81px,#777 134px,#757575 155px,#6c6c6c 172px,#464646 195px,#484848 216px,#7a7a7a 241px,#888 249px,#a6a6a6 255px,#b9b9b9 259px,#bebebe 264px,#b5b5b5 272px,#585858 305px,#252525 318px,#0e0e0e 332px,#080808 513px)"></i>
<i style="top:308px;height:4px;background:linear-gradient(90deg,#404040 0px,#565656 14px,#4a4a4a 28px,#5c5c5c 56px,#646464 71px,#747474 81px,#777 132px,#797979 153px,#6d6d6d 172px,#464646 195px,#484848 216px,#7b7b7b 241px,#8a8a8a 249px,#b8b8b8 259px,#bcbcbc 265px,#b0b0b0 272px,#999 281px,#626262 302px,#252525 318px,#0e0e0e 332px,#080808 513px)"></i>
<i style="top:312px;height:4px;background:linear-gradient(90deg,#414141 0px,#575757 14px,#4b4b4b 29px,#5c5c5c 56px,#646464 71px,#747474 81px,#797979 131px,#7d7d7d 153px,#6d6d6d 172px,#474747 194px,#484848 216px,#686868 231px,#7d7d7d 241px,#8d8d8d 249px,#b6b6b6 258px,#bcbcbc 263px,#b3b3b3 269px,#9a9a9a 278px,#888 288px,#585858 305px,#252525 318px,#0e0e0e 332px,#080808 513px)"></i>
<i style="top:316px;height:4px;background:linear-gradient(90deg,#424242 0px,#575757 14px,#4b4b4b 29px,#5c5c5c 56px,#646464 71px,#757575 81px,#7b7b7b 132px,#828282 145px,#878787 151px,#6c6c6c 173px,#474747 194px,#474747 215px,#636363 229px,#7c7c7c 240px,#8e8e8e 248px,#b6b6b6 257px,#bcbcbc 262px,#b2b2b2 268px,#9b9b9b 275px,#8c8c8c 286px,#585858 305px,#252525 318px,#0e0e0e 332px,#080808 513px)"></i>
<i style="top:320px;height:4px;background:linear-gradient(90deg,#434343 0px,#585858 14px,#4b4b4b 29px,#5d5d5d 58px,#646464 71px,#757575 81px,#7d7d7d 135px,#848484 141px,#969696 147px,#8f8f8f 155px,#474747 194px,#474747 215px,#636363 229px,#7f7f7f 241px,#939393 248px,#b6b6b6 256px,#bcbcbc 261px,#b4b4b4 266px,#9a9a9a 274px,#8e8e8e 285px,#585858 305px,#252525 318px,#0e0e0e 332px,#080808 513px)"></i>
<i style="top:324px;height:4px;background:linear-gradient(90deg,#434343 0px,#585858 14px,#4c4c4c 29px,#5d5d5d 59px,#646464 71px,#767676 81px,#808080 135px,#8d8d8d 139px,#9e9e9e 143px,#a3a3a3 150px,#929292 158px,#5d5d5d 181px,#464646 195px,#484848 216px,#676767 230px,#8f8f8f 246px,#b7b7b7 255px,#bcbcbc 260px,#b4b4b4 265px,#999 273px,#8f8f8f 284px,#5c5c5c 304px,#252525 318px,#0e0e0e 332px,#080808 513px)"></i>
<i style="top:328px;height:4px;background:linear-gradient(90deg,#444 0px,#585858 14px,#4d4d4d 30px,#5e5e5e 60px,#646464 71px,#777 81px,#828282 132px,#a5a5a5 140px,#adadad 150px,#a0a0a0 156px,#7b7b7b 168px,#4a4a4a 191px,#454545 202px,#484848 216px,#686868 230px,#909090 245px,#b7b7b7 254px,#bbb 260px,#b0b0b0 265px,#989898 272px,#8f8f8f 284px,#5c5c5c 304px,#252525 318px,#0e0e0e 332px,#080808 513px)"></i>
<i style="top:332px;height:4px;background:linear-gradient(90deg,#454545 0px,#595959 14px,#4d4d4d 31px,#5e5e5e 60px,#646464 71px,#777 81px,#838383 128px,#8e8e8e 131px,#a5a5a5 135px,#afafaf 143px,#adadad 151px,#969696 159px,#666 177px,#474747 194px,#474747 215px,#636363 228px,#929292 244px,#b4b4b4 252px,#bababa 258px,#b3b3b3 263px,#979797 271px,#909090 283px,#5d5d5d 304px,#252525 318px,#0e0e0e 332px,#080808 513px)"></i>
<i style="top:336px;height:4px;background:linear-gradient(90deg,#454545 0px,#595959 14px,#4d4d4d 31px,#5e5e5e 61px,#646464 71px,#787878 81px,#848484 124px,#8e8e8e 127px,#a7a7a7 131px,#b0b0b0 137px,#aeaeae 147px,#8f8f8f 160px,#4f4f4f 188px,#454545 197px,#494949 216px,#6a6a6a 230px,#909090 242px,#aeaeae 249px,#b6b6b6 257px,#b1b1b1 262px,#969696 270px,#909090 283px,#5d5d5d 304px,#262626 318px,#0e0e0e 332px,#080808 513px)"></i>
<i style="top:340px;height:4px;background:linear-gradient(90deg,#464646 0px,#5a5a5a 14px,#4e4e4e 32px,#5e5e5e 62px,#676767 72px,#797979 81px,#878787 121px,#959595 124px,#adadad 128px,#b3b3b3 139px,#a9a9a9 147px,#838383 163px,#474747 193px,#474747 214px,#5d5d5d 225px,#8d8d8d 240px,#acacac 247px,#b2b2b2 257px,#aeaeae 262px,#949494 270px,#919191 282px,#616161 303px,#262626 318px,#0f0f0f 332px,#080808 513px)"></i>
<i style="top:344px;height:4px;background:linear-gradient(90deg,#474747 0px,#5a5a5a 14px,#4e4e4e 32px,#5e5e5e 62px,#656565 71px,#797979 81px,#878787 117px,#969696 120px,#aeaeae 124px,#b4b4b4 133px,#aeaeae 142px,#878787 158px,#6f6f6f 173px,#474747 193px,#474747 214px,#5b5b5b 224px,#8c8c8c 239px,#acacac 246px,#b0b0b0 255px,#adadad 261px,#939393 269px,#909090 282px,#626262 303px,#272727 318px,#0f0f0f 332px,#080808 513px)"></i>
<i style="top:348px;height:4px;background:linear-gradient(90deg,#474747 0px,#5a5a5a 14px,#4f4f4f 33px,#5e5e5e 62px,#656565 71px,#7a7a7a 81px,#888 113px,#959595 116px,#b0b0b0 120px,#b5b5b5 126px,#b0b0b0 138px,#858585 156px,#737373 171px,#484848 193px,#474747 213px,#575757 222px,#8a8a8a 238px,#ababab 246px,#afafaf 257px,#a6a6a6 262px,#939393 268px,#909090 282px,#626262 303px,#272727 318px,#0f0f0f 332px,#080808 513px)"></i>
<i style="top:352px;height:4px;background:linear-gradient(90deg,#484848 0px,#5b5b5b 14px,#4f4f4f 33px,#5f5f5f 62px,#656565 71px,#7b7b7b 81px,#888 109px,#959595 112px,#b2b2b2 116px,#b7b7b7 120px,#b0b0b0 135px,#9a9a9a 145px,#848484 154px,#757575 170px,#484848 193px,#474747 213px,#585858 222px,#8f8f8f 239px,#aaa 246px,#aeaeae 254px,#a6a6a6 260px,#919191 267px,#919191 281px,#636363 303px,#282828 318px,#0f0f0f 332px,#080808 513px)"></i>
<i style="top:356px;height:4px;background:linear-gradient(90deg,#494949 0px,#5b5b5b 14px,#505050 34px,#5f5f5f 62px,#656565 71px,#7b7b7b 81px,#898989 106px,#9b9b9b 109px,#b2b2b2 112px,#b9b9b9 115px,#b1b1b1 132px,#9b9b9b 143px,#848484 153px,#747474 170px,#484848 193px,#474747 213px,#565656 221px,#8d8d8d 238px,#aaa 246px,#adadad 253px,#9e9e9e 260px,#8f8f8f 267px,#919191 280px,#676767 302px,#282828 318px,#0f0f0f 332px,#080808 513px)"></i>
<i style="top:360px;height:4px;background:linear-gradient(90deg,#4a4a4a 0px,#5c5c5c 15px,#515151 34px,#606060 63px,#686868 72px,#7b7b7b 81px,#878787 102px,#989898 105px,#b2b2b2 108px,#bababa 111px,#b1b1b1 130px,#989898 143px,#838383 153px,#767676 169px,#484848 193px,#474747 212px,#545454 220px,#898989 236px,#a9a9a9 245px,#acacac 252px,#8e8e8e 265px,#919191 280px,#676767 302px,#292929 318px,#101010 332px,#080808 513px)"></i>
<i style="top:364px;height:4px;background:linear-gradient(90deg,#4c4c4c 0px,#5c5c5c 15px,#525252 34px,#616161 65px,#6b6b6b 73px,#7b7b7b 81px,#858585 98px,#959595 101px,#b1b1b1 104px,#bbb 107px,#b2b2b2 128px,#969696 143px,#828282 153px,#767676 169px,#484848 193px,#484848 212px,#555 220px,#848484 234px,#a6a6a6 243px,#acacac 249px,#a4a4a4 255px,#8f8f8f 263px,#8f8f8f 271px,#909090 280px,#686868 302px,#444 311px,#292929 318px,#101010 332px,#080808 513px)"></i>
<i style="top:368px;height:4px;background:linear-gradient(90deg,#4d4d4d 0px,#5c5c5c 15px,#535353 34px,#676767 71px,#7c7c7c 81px,#838383 94px,#939393 97px,#b7b7b7 101px,#bdbdbd 104px,#b4b4b4 126px,#959595 143px,#828282 153px,#767676 169px,#484848 193px,#474747 211px,#545454 219px,#7f7f7f 232px,#a2a2a2 241px,#aaa 248px,#a3a3a3 254px,#8f8f8f 262px,#8f8f8f 271px,#909090 280px,#696969 302px,#444 311px,#2a2a2a 318px,#101010 332px,#080808 513px)"></i>
<i style="top:372px;height:4px;background:linear-gradient(90deg,#4e4e4e 0px,#5d5d5d 15px,#545454 34px,#676767 71px,#7c7c7c 81px,#848484 91px,#909090 93px,#b8b8b8 97px,#bfbfbf 100px,#b7b7b7 124px,#939393 144px,#828282 154px,#767676 169px,#484848 193px,#484848 211px,#555 219px,#7e7e7e 231px,#9c9c9c 238px,#a4a4a4 245px,#a4a4a4 252px,#8e8e8e 262px,#909090 272px,#909090 280px,#6a6a6a 302px,#454545 311px,#2a2a2a 318px,#101010 332px,#080808 513px)"></i>
<i style="top:376px;height:4px;background:linear-gradient(90deg,#4f4f4f 0px,#5d5d5d 15px,#565656 35px,#676767 71px,#7c7c7c 81px,#828282 87px,#8d8d8d 89px,#b9b9b9 93px,#c1c1c1 95px,#bdbdbd 108px,#bbb 121px,#979797 142px,#838383 153px,#767676 169px,#484848 193px,#484848 210px,#545454 218px,#7d7d7d 230px,#9c9c9c 237px,#a1a1a1 250px,#999 256px,#8d8d8d 263px,#909090 279px,#767676 296px,#676767 303px,#2e2e2e 317px,#111 332px,#080808 513px)"></i>
<i style="top:380px;height:4px;background:linear-gradient(90deg,#505050 0px,#5d5d5d 16px,#575757 35px,#686868 71px,#848484 84px,#949494 86px,#b8b8b8 89px,#c3c3c3 91px,#bebebe 103px,#c0c0c0 117px,#ababab 132px,#838383 153px,#767676 169px,#484848 193px,#484848 209px,#525252 217px,#7b7b7b 229px,#9a9a9a 236px,#9e9e9e 242px,#9d9d9d 253px,#8d8d8d 262px,#909090 279px,#777 295px,#6b6b6b 302px,#464646 311px,#2c2c2c 318px,#111 332px,#080808 513px)"></i>
<i style="top:384px;height:4px;background:linear-gradient(90deg,#525252 0px,#5e5e5e 16px,#585858 35px,#686868 71px,#808080 80px,#8f8f8f 82px,#b5b5b5 85px,#c3c3c3 87px,#c0c0c0 100px,#c5c5c5 114px,#b3b3b3 128px,#838383 153px,#767676 169px,#484848 193px,#494949 209px,#545454 217px,#818181 230px,#999 236px,#9d9d9d 244px,#9b9b9b 253px,#8d8d8d 262px,#909090 279px,#787878 295px,#6c6c6c 302px,#464646 311px,#2c2c2c 318px,#111 332px,#080808 513px)"></i>
<i style="top:388px;height:4px;background:linear-gradient(90deg,#535353 0px,#5e5e5e 16px,#595959 36px,#696969 71px,#787878 76px,#878787 78px,#b9b9b9 82px,#c3c3c3 84px,#c2c2c2 96px,#c9c9c9 110px,#bababa 124px,#848484 153px,#767676 169px,#484848 193px,#494949 208px,#535353 216px,#868686 231px,#9a9a9a 237px,#9c9c9c 249px,#8c8c8c 263px,#8d8d8d 279px,#777 296px,#696969 303px,#2f2f2f 317px,#111 332px,#080808 513px)"></i>
<i style="top:392px;height:4px;background:linear-gradient(90deg,#545454 0px,#5e5e5e 17px,#5a5a5a 36px,#686868 70px,#737373 73px,#868686 75px,#afafaf 78px,#bebebe 80px,#c0c0c0 86px,#cecece 106px,#bfbfbf 121px,#848484 153px,#757575 170px,#484848 193px,#494949 208px,#545454 216px,#979797 236px,#9c9c9c 244px,#898989 266px,#868686 281px,#717171 300px,#555 308px,#323232 316px,#111 332px,#080808 513px)"></i>
<i style="top:396px;height:4px;background:linear-gradient(90deg,#555 0px,#5f5f5f 17px,#5c5c5c 37px,#686868 68px,#717171 70px,#878787 72px,#aeaeae 75px,#bababa 77px,#d2d2d2 100px,#c9c9c9 114px,#a1a1a1 138px,#848484 153px,#757575 170px,#484848 193px,#494949 208px,#545454 216px,#898989 231px,#9a9a9a 237px,#9a9a9a 246px,#878787 268px,#757575 298px,#626262 305px,#323232 316px,#111 332px,#080808 513px)"></i>
<i style="top:400px;height:4px;background:linear-gradient(90deg,#575757 0px,#5f5f5f 18px,#5d5d5d 38px,#686868 65px,#727272 67px,#acacac 72px,#b9b9b9 75px,#cacaca 87px,#d7d7d7 96px,#cecece 110px,#a9a9a9 134px,#848484 153px,#757575 170px,#494949 193px,#494949 208px,#565656 217px,#808080 229px,#989898 236px,#9b9b9b 244px,#838383 272px,#747474 299px,#5a5a5a 307px,#323232 316px,#111 332px,#080808 513px)"></i>
<i style="top:404px;height:4px;background:linear-gradient(90deg,#585858 0px,#606060 18px,#5e5e5e 39px,#676767 61px,#6e6e6e 63px,#8b8b8b 66px,#a7a7a7 69px,#bababa 75px,#dbdbdb 92px,#d7d7d7 102px,#b0b0b0 130px,#848484 153px,#757575 170px,#494949 193px,#4a4a4a 209px,#555 217px,#7d7d7d 229px,#969696 236px,#9a9a9a 243px,#808080 278px,#747474 299px,#5f5f5f 306px,#323232 316px,#111 332px,#080808 513px)"></i>
<i style="top:408px;height:4px;background:linear-gradient(90deg,#595959 0px,#606060 19px,#606060 41px,#686868 58px,#7a7a7a 61px,#9e9e9e 65px,#dbdbdb 87px,#e1e1e1 94px,#b4b4b4 128px,#848484 153px,#757575 170px,#494949 193px,#4a4a4a 210px,#555 218px,#7e7e7e 231px,#929292 238px,#929292 247px,#747474 299px,#5f5f5f 306px,#323232 316px,#111 332px,#080808 513px)"></i>
<i style="top:412px;height:4px;background:linear-gradient(90deg,#5a5a5a 0px,#606060 21px,#636363 47px,#676767 54px,#767676 57px,#999 61px,#a3a3a3 65px,#b1b1b1 72px,#dbdbdb 83px,#e5e5e5 91px,#bdbdbd 122px,#949494 144px,#838383 154px,#757575 170px,#494949 193px,#4a4a4a 211px,#555 219px,#898989 238px,#8d8d8d 252px,#747474 299px,#5f5f5f 306px,#323232 316px,#111 332px,#080808 513px)"></i>
<i style="top:416px;height:4px;background:linear-gradient(90deg,#5c5c5c 0px,#606060 23px,#656565 49px,#6c6c6c 52px,#959595 57px,#9f9f9f 60px,#aaa 70px,#c3c3c3 76px,#dedede 82px,#e8e8e8 88px,#e0e0e0 97px,#a9a9a9 134px,#858585 152px,#757575 170px,#494949 194px,#4b4b4b 214px,#676767 227px,#848484 239px,#8c8c8c 255px,#747474 299px,#5f5f5f 306px,#323232 316px,#111 332px,#080808 513px)"></i>
<i style="top:420px;height:4px;background:linear-gradient(90deg,#5d5d5d 0px,#616161 28px,#676767 47px,#787878 50px,#979797 54px,#9f9f9f 59px,#a7a7a7 69px,#b9b9b9 74px,#e2e2e2 82px,#eaeaea 88px,#dbdbdb 100px,#a9a9a9 134px,#858585 152px,#757575 170px,#494949 194px,#4b4b4b 215px,#6c6c6c 230px,#828282 240px,#8b8b8b 255px,#757575 299px,#606060 306px,#323232 316px,#111 332px,#080808 513px)"></i>
<i style="top:424px;height:4px;background:linear-gradient(90deg,#5e5e5e 0px,#666 43px,#747474 46px,#949494 50px,#9c9c9c 54px,#a7a7a7 69px,#bababa 74px,#e3e3e3 82px,#eaeaea 88px,#d8d8d8 102px,#a9a9a9 134px,#858585 152px,#757575 170px,#494949 194px,#4b4b4b 215px,#6a6a6a 230px,#828282 241px,#8b8b8b 255px,#757575 299px,#606060 306px,#323232 316px,#111 332px,#080808 513px)"></i>
<i style="top:428px;height:4px;background:linear-gradient(90deg,#5f5f5f 0px,#666 39px,#727272 42px,#919191 46px,#9a9a9a 50px,#a5a5a5 68px,#b5b5b5 73px,#e3e3e3 82px,#eaeaea 88px,#b6b6b6 127px,#848484 153px,#757575 170px,#4a4a4a 194px,#4a4a4a 215px,#686868 230px,#818181 241px,#8a8a8a 255px,#757575 299px,#606060 306px,#323232 316px,#111 332px,#080808 513px)"></i>
<i style="top:432px;height:4px;background:linear-gradient(90deg,#616161 0px,#676767 36px,#777 39px,#939393 43px,#999 49px,#a5a5a5 68px,#b5b5b5 73px,#e3e3e3 82px,#eaeaea 88px,#b3b3b3 129px,#858585 152px,#757575 170px,#4a4a4a 194px,#4b4b4b 216px,#6a6a6a 231px,#818181 241px,#8a8a8a 255px,#757575 299px,#606060 306px,#323232 316px,#111 332px,#080808 513px)"></i>
<i style="top:436px;height:4px;background:linear-gradient(90deg,#626262 0px,#676767 32px,#757575 35px,#919191 39px,#989898 44px,#a4a4a4 67px,#b5b5b5 73px,#dfdfdf 81px,#e9e9e9 86px,#e2e2e2 95px,#aaa 134px,#858585 152px,#757575 170px,#4a4a4a 194px,#4b4b4b 216px,#6a6a6a 231px,#818181 242px,#8a8a8a 256px,#757575 299px,#616161 306px,#323232 316px,#111 332px,#080808 513px)"></i>
<i style="top:440px;height:4px;background:linear-gradient(90deg,#636363 0px,#676767 28px,#737373 31px,#8e8e8e 35px,#969696 39px,#a2a2a2 66px,#b1b1b1 72px,#e2e2e2 82px,#e9e9e9 88px,#aeaeae 132px,#858585 152px,#757575 170px,#4a4a4a 194px,#4b4b4b 216px,#696969 231px,#818181 242px,#8a8a8a 256px,#767676 299px,#616161 306px,#323232 316px,#111 332px,#080808 513px)"></i>
<i style="top:444px;height:4px;background:linear-gradient(90deg,#646464 0px,#696969 25px,#777 28px,#909090 32px,#969696 41px,#a2a2a2 66px,#b1b1b1 72px,#dfdfdf 81px,#e8e8e8 86px,#e0e0e0 96px,#aaa 134px,#858585 152px,#757575 170px,#4b4b4b 194px,#4c4c4c 216px,#696969 231px,#818181 242px,#8a8a8a 256px,#777 298px,#656565 305px,#323232 316px,#111 332px,#080808 513px)"></i>
<i style="top:448px;height:4px;background:linear-gradient(90deg,#656565 0px,#696969 21px,#757575 24px,#8e8e8e 28px,#949494 34px,#a0a0a0 64px,#aeaeae 71px,#e2e2e2 82px,#e8e8e8 88px,#acacac 133px,#858585 152px,#757575 170px,#4b4b4b 194px,#4c4c4c 216px,#6c6c6c 232px,#828282 243px,#8a8a8a 257px,#787878 298px,#656565 305px,#323232 316px,#121212 331px,#0d0d0d 390px,#080808 513px)"></i>
<i style="top:452px;height:4px;background:linear-gradient(90deg,#676767 0px,#696969 17px,#747474 20px,#8c8c8c 24px,#939393 29px,#9f9f9f 63px,#aaa 70px,#c6c6c6 76px,#e2e2e2 82px,#e7e7e7 88px,#acacac 133px,#858585 152px,#757575 170px,#4b4b4b 194px,#4c4c4c 216px,#6c6c6c 232px,#828282 243px,#8a8a8a 257px,#787878 298px,#656565 305px,#323232 316px,#121212 331px,#0d0d0d 390px,#080808 513px)"></i>
<i style="top:456px;height:4px;background:linear-gradient(90deg,#686868 0px,#6b6b6b 14px,#787878 17px,#8e8e8e 21px,#949494 37px,#9f9f9f 64px,#aeaeae 71px,#dfdfdf 81px,#e7e7e7 86px,#ddd 97px,#ababab 134px,#858585 152px,#757575 170px,#4b4b4b 194px,#4c4c4c 216px,#6c6c6c 232px,#828282 243px,#8a8a8a 257px,#787878 298px,#666 305px,#323232 316px,#121212 331px,#0d0d0d 390px,#080808 513px)"></i>
<i style="top:460px;height:4px;background:linear-gradient(90deg,#696969 0px,#6b6b6b 10px,#777 13px,#8c8c8c 17px,#929292 27px,#9d9d9d 62px,#a8a8a8 69px,#c1c1c1 75px,#dfdfdf 81px,#e6e6e6 86px,#ddd 97px,#ababab 134px,#858585 152px,#757575 170px,#4c4c4c 194px,#4d4d4d 216px,#6c6c6c 232px,#838383 244px,#8a8a8a 258px,#787878 298px,#666 305px,#323232 316px,#121212 331px,#0d0d0d 390px,#080808 513px)"></i>
<i style="top:464px;height:4px;background:linear-gradient(90deg,#6a6a6a 0px,#6e6e6e 7px,#8d8d8d 14px,#9d9d9d 62px,#a8a8a8 69px,#c1c1c1 75px,#dfdfdf 81px,#e6e6e6 86px,#dbdbdb 98px,#ababab 134px,#858585 152px,#757575 170px,#4c4c4c 194px,#4d4d4d 216px,#6b6b6b 232px,#828282 244px,#8a8a8a 258px,#787878 298px,#666 305px,#323232 316px,#121212 331px,#0d0d0d 390px,#080808 513px)"></i>
<i style="top:468px;height:4px;background:linear-gradient(90deg,#6b6b6b 0px,#707070 4px,#8c8c8c 10px,#9c9c9c 61px,#a8a8a8 69px,#c1c1c1 75px,#dedede 81px,#e6e6e6 86px,#d9d9d9 99px,#ababab 134px,#858585 152px,#757575 170px,#4c4c4c 194px,#4d4d4d 216px,#6e6e6e 233px,#838383 245px,#8a8a8a 258px,#797979 298px,#666 305px,#323232 316px,#121212 331px,#0d0d0d 390px,#080808 513px)"></i>
<i style="top:472px;height:4px;background:linear-gradient(90deg,#717171 0px,#8a8a8a 6px,#919191 27px,#9b9b9b 60px,#a5a5a5 68px,#bcbcbc 74px,#dedede 81px,#e5e5e5 86px,#d9d9d9 99px,#adadad 133px,#858585 152px,#757575 170px,#4d4d4d 194px,#4d4d4d 216px,#6e6e6e 233px,#838383 245px,#8a8a8a 259px,#797979 298px,#676767 305px,#323232 316px,#121212 331px,#0d0d0d 390px,#080808 513px)"></i>
<i style="top:476px;height:4px;background:linear-gradient(90deg,#848484 0px,#8d8d8d 5px,#9a9a9a 58px,#a5a5a5 68px,#bcbcbc 74px,#dedede 81px,#e5e5e5 86px,#d7d7d7 100px,#adadad 133px,#858585 152px,#757575 170px,#4d4d4d 194px,#4e4e4e 216px,#6d6d6d 233px,#838383 245px,#8a8a8a 259px,#7a7a7a 297px,#6a6a6a 304px,#4a4a4a 311px,#2f2f2f 317px,#111 332px,#080808 513px)"></i>
<i style="top:480px;height:10px;background:linear-gradient(90deg,#8c8c8c 0px,#989898 57px,#a3a3a3 67px,#bdbdbd 74px,#dedede 81px,#e4e4e4 86px,#d4d4d4 102px,#aeaeae 133px,#858585 152px,#747474 171px,#4d4d4d 194px,#4e4e4e 216px,#707070 234px,#848484 246px,#8b8b8b 259px,#7b7b7b 297px,#6b6b6b 304px,#4a4a4a 311px,#2f2f2f 317px,#111 332px,#080808 513px)"></i>
<i style="top:490px;height:8px;background:linear-gradient(90deg,#8d8d8d 0px,#989898 57px,#a3a3a3 67px,#bdbdbd 74px,#dedede 81px,#e3e3e3 87px,#b0b0b0 132px,#858585 152px,#747474 171px,#4e4e4e 194px,#4f4f4f 216px,#717171 235px,#858585 247px,#8b8b8b 260px,#7c7c7c 296px,#6e6e6e 303px,#505050 310px,#323232 316px,#121212 331px,#0d0d0d 390px,#080808 513px)"></i>
</div></div>
<div class="p" style="left:129px;top:553px;width:514px;height:487px"><div class="q" style="height:495px">
<i style="top:0px;height:5px;background:linear-gradient(90deg,#1a1a1a 0px,#171717 71px,#090909 82px,#0e0e0e 118px,#191919 137px,#202020 428px,#1e1e1e 435px,#161616 440px,#313131 460px,#474747 470px,#5a5a5a 473px,#747474 475px,#c2c2c2 479px,#d0d0d0 480px,#d7d7d7 481px,#d7d7d7 482px,#d1d1d1 483px,#9c9c9c 487px,#8e8e8e 489px,#8b8b8b 494px,#838383 501px,#5c5c5c 513px)"></i>
<i style="top:5px;height:4px;background:linear-gradient(90deg,#1a1a1a 0px,#171717 71px,#090909 82px,#0e0e0e 118px,#191919 137px,#1e1e1e 432px,#151515 439px,#292929 454px,#4b4b4b 470px,#5e5e5e 473px,#757575 475px,#bababa 479px,#c6c6c6 480px,#cdcdcd 481px,#cecece 482px,#bebebe 484px,#9c9c9c 487px,#8e8e8e 490px,#838383 499px,#565656 513px)"></i>
<i style="top:9px;height:4px;background:linear-gradient(90deg,#1a1a1a 0px,#171717 71px,#090909 82px,#0e0e0e 118px,#191919 137px,#1e1e1e 428px,#131313 435px,#1d1d1d 446px,#373737 457px,#515151 464px,#5b5b5b 471px,#6b6b6b 474px,#a4a4a4 480px,#ababab 482px,#909090 489px,#797979 499px,#4c4c4c 513px)"></i>
<i style="top:13px;height:4px;background:linear-gradient(90deg,#1a1a1a 0px,#171717 71px,#090909 82px,#0d0d0d 118px,#191919 137px,#1d1d1d 425px,#121212 432px,#1c1c1c 444px,#363636 454px,#4e4e4e 458px,#797979 463px,#7d7d7d 465px,#6d6d6d 470px,#6f6f6f 473px,#919191 481px,#909090 486px,#737373 497px,#444 512px,#434343 513px)"></i>
<i style="top:17px;height:4px;background:linear-gradient(90deg,#1a1a1a 0px,#171717 71px,#090909 82px,#0d0d0d 118px,#191919 137px,#1d1d1d 421px,#111 428px,#1c1c1c 441px,#363636 452px,#464646 455px,#595959 457px,#888 460px,#aaa 462px,#b5b5b5 463px,#b9b9b9 464px,#b8b8b8 465px,#a5a5a5 467px,#868686 470px,#7e7e7e 472px,#858585 477px,#8c8c8c 483px,#7e7e7e 490px,#464646 508px,#3a3a3a 513px)"></i>
<i style="top:21px;height:4px;background:linear-gradient(90deg,#1a1a1a 0px,#171717 71px,#090909 82px,#0d0d0d 118px,#191919 137px,#1e1e1e 417px,#111 425px,#1d1d1d 438px,#3a3a3a 451px,#4f4f4f 455px,#656565 457px,#878787 459px,#c0c0c0 462px,#ccc 463px,#d1d1d1 464px,#cecece 465px,#b9b9b9 467px,#949494 470px,#8a8a8a 472px,#878787 482px,#6b6b6b 492px,#3b3b3b 509px,#333 513px)"></i>
<i style="top:25px;height:4px;background:linear-gradient(90deg,#1a1a1a 0px,#171717 71px,#090909 82px,#0d0d0d 118px,#191919 137px,#1c1c1c 414px,#121212 421px,#1c1c1c 434px,#404040 450px,#565656 455px,#737373 458px,#a8a8a8 462px,#b5b5b5 464px,#b0b0b0 466px,#959595 470px,#8b8b8b 475px,#7c7c7c 483px,#4c4c4c 499px,#2d2d2d 513px)"></i>
<i style="top:29px;height:4px;background:linear-gradient(90deg,#1a1a1a 0px,#171717 71px,#090909 82px,#0d0d0d 118px,#191919 137px,#1d1d1d 410px,#121212 417px,#1b1b1b 430px,#313131 440px,#4d4d4d 449px,#5f5f5f 455px,#929292 463px,#969696 466px,#7d7d7d 479px,#4a4a4a 496px,#272727 513px)"></i>
<i style="top:33px;height:4px;background:linear-gradient(90deg,#1a1a1a 0px,#171717 71px,#090909 82px,#0d0d0d 118px,#191919 137px,#1d1d1d 406px,#121212 414px,#1b1b1b 427px,#313131 437px,#4b4b4b 442px,#636363 446px,#6a6a6a 454px,#8a8a8a 463px,#8c8c8c 468px,#787878 477px,#4b4b4b 492px,#222 513px)"></i>
<i style="top:37px;height:4px;background:linear-gradient(90deg,#1a1a1a 0px,#171717 71px,#090909 82px,#0d0d0d 118px,#191919 137px,#1c1c1c 403px,#121212 410px,#1b1b1b 423px,#333 435px,#464646 439px,#636363 442px,#868686 445px,#8f8f8f 447px,#7b7b7b 452px,#7e7e7e 456px,#8a8a8a 463px,#848484 469px,#4a4a4a 489px,#1e1e1e 513px)"></i>
<i style="top:41px;height:4px;background:linear-gradient(90deg,#1a1a1a 0px,#181818 71px,#090909 82px,#0d0d0d 118px,#191919 137px,#1c1c1c 399px,#121212 406px,#1a1a1a 419px,#363636 433px,#4b4b4b 438px,#656565 441px,#989898 445px,#9f9f9f 446px,#9f9f9f 448px,#8a8a8a 452px,#898989 457px,#868686 464px,#474747 487px,#1b1b1b 513px)"></i>
<i style="top:45px;height:4px;background:linear-gradient(90deg,#1a1a1a 0px,#181818 71px,#090909 82px,#0d0d0d 118px,#191919 137px,#1c1c1c 395px,#111 403px,#1b1b1b 416px,#393939 431px,#555 438px,#929292 446px,#939393 449px,#828282 462px,#4a4a4a 482px,#252525 504px,#181818 513px)"></i>
<i style="top:49px;height:4px;background:linear-gradient(90deg,#1a1a1a 0px,#191919 70px,#090909 82px,#0d0d0d 118px,#191919 137px,#1c1c1c 391px,#111 399px,#1b1b1b 412px,#3d3d3d 429px,#5c5c5c 437px,#898989 446px,#8d8d8d 451px,#808080 459px,#484848 479px,#2c2c2c 496px,#161616 513px)"></i>
<i style="top:53px;height:4px;background:linear-gradient(90deg,#1b1b1b 0px,#191919 70px,#090909 82px,#0d0d0d 118px,#191919 138px,#1a1a1a 388px,#101010 395px,#191919 408px,#434343 428px,#636363 436px,#838383 443px,#8b8b8b 448px,#818181 455px,#494949 475px,#2c2c2c 492px,#141414 513px)"></i>
<i style="top:57px;height:4px;background:linear-gradient(90deg,#1b1b1b 0px,#191919 70px,#090909 82px,#0d0d0d 118px,#191919 138px,#1a1a1a 384px,#0f0f0f 392px,#191919 405px,#4b4b4b 428px,#6e6e6e 437px,#868686 443px,#878787 448px,#676767 460px,#3e3e3e 477px,#272727 493px,#121212 513px)"></i>
<i style="top:61px;height:4px;background:linear-gradient(90deg,#1b1b1b 0px,#191919 70px,#090909 82px,#0d0d0d 118px,#191919 138px,#1a1a1a 380px,#0e0e0e 388px,#161616 401px,#373737 417px,#6a6a6a 436px,#7e7e7e 443px,#7e7e7e 448px,#444 470px,#292929 487px,#111 513px)"></i>
<i style="top:65px;height:4px;background:linear-gradient(90deg,#1b1b1b 0px,#191919 70px,#090909 82px,#0d0d0d 118px,#191919 138px,#1a1a1a 376px,#0d0d0d 384px,#131313 397px,#2e2e2e 412px,#646464 434px,#737373 444px,#6b6b6b 451px,#3b3b3b 471px,#252525 487px,#141414 509px,#101010 513px)"></i>
<i style="top:69px;height:4px;background:linear-gradient(90deg,#1b1b1b 0px,#191919 70px,#090909 82px,#0d0d0d 118px,#191919 138px,#1a1a1a 372px,#0c0c0c 381px,#121212 395px,#2b2b2b 410px,#616161 431px,#696969 442px,#5f5f5f 451px,#313131 473px,#202020 490px,#141414 508px,#0f0f0f 513px)"></i>
<i style="top:73px;height:4px;background:linear-gradient(90deg,#1b1b1b 0px,#191919 70px,#090909 82px,#0d0d0d 118px,#191919 138px,#191919 369px,#0c0c0c 377px,#101010 392px,#272727 408px,#5f5f5f 431px,#656565 440px,#565656 451px,#2d2d2d 472px,#1e1e1e 490px,#141414 507px,#0f0f0f 513px)"></i>
<i style="top:77px;height:4px;background:linear-gradient(90deg,#1b1b1b 0px,#191919 70px,#090909 82px,#0d0d0d 118px,#191919 138px,#191919 365px,#0b0b0b 373px,#0f0f0f 390px,#242424 407px,#5b5b5b 431px,#5f5f5f 440px,#4b4b4b 452px,#2a2a2a 470px,#1c1c1c 489px,#141414 506px,#0e0e0e 513px)"></i>
<i style="top:81px;height:4px;background:linear-gradient(90deg,#1b1b1b 0px,#191919 70px,#090909 82px,#0d0d0d 118px,#191919 138px,#191919 361px,#0b0b0b 369px,#0e0e0e 387px,#1e1e1e 405px,#545454 431px,#575757 440px,#464646 451px,#292929 467px,#1b1b1b 487px,#141414 505px,#0e0e0e 513px)"></i>
<i style="top:85px;height:4px;background:linear-gradient(90deg,#1b1b1b 0px,#191919 70px,#090909 82px,#0d0d0d 118px,#191919 138px,#191919 357px,#0a0a0a 366px,#0e0e0e 387px,#1c1c1c 405px,#4a4a4a 431px,#4c4c4c 441px,#242424 467px,#191919 491px,#111 507px,#0d0d0d 513px)"></i>
<i style="top:89px;height:4px;background:linear-gradient(90deg,#1b1b1b 0px,#191919 70px,#090909 82px,#0d0d0d 118px,#191919 138px,#181818 354px,#0a0a0a 362px,#0e0e0e 386px,#191919 405px,#404040 431px,#404040 442px,#202020 467px,#171717 495px,#0d0d0d 513px)"></i>
<i style="top:93px;height:4px;background:linear-gradient(90deg,#1b1b1b 0px,#191919 70px,#090909 82px,#0d0d0d 118px,#191919 138px,#191919 350px,#0b0b0b 358px,#0d0d0d 379px,#151515 404px,#333 428px,#353535 441px,#1a1a1a 469px,#0f0f0f 508px,#0c0c0c 513px)"></i>
<i style="top:97px;height:4px;background:linear-gradient(90deg,#1b1b1b 0px,#1a1a1a 70px,#090909 82px,#0d0d0d 118px,#181818 138px,#191919 346px,#0b0b0b 355px,#0d0d0d 374px,#131313 405px,#292929 424px,#2b2b2b 441px,#151515 473px,#0c0c0c 511px,#0c0c0c 513px)"></i>
<i style="top:101px;height:4px;background:linear-gradient(90deg,#1c1c1c 0px,#1a1a1a 70px,#090909 82px,#0d0d0d 118px,#181818 138px,#181818 343px,#0b0b0b 351px,#0c0c0c 368px,#0f0f0f 390px,#131313 406px,#242424 421px,#202020 445px,#101010 479px,#0b0b0b 513px)"></i>
<i style="top:105px;height:4px;background:linear-gradient(90deg,#1c1c1c 0px,#1a1a1a 70px,#090909 82px,#0d0d0d 118px,#181818 139px,#181818 339px,#0b0b0b 348px,#0d0d0d 364px,#121212 384px,#121212 403px,#232323 418px,#0d0d0d 484px,#0b0b0b 513px)"></i>
<i style="top:109px;height:4px;background:linear-gradient(90deg,#1c1c1c 0px,#1a1a1a 70px,#090909 82px,#0d0d0d 118px,#181818 139px,#191919 335px,#0b0b0b 344px,#0c0c0c 359px,#141414 379px,#151515 402px,#262626 417px,#181818 434px,#0b0b0b 487px,#0a0a0a 513px)"></i>
<i style="top:113px;height:4px;background:linear-gradient(90deg,#1c1c1c 0px,#1a1a1a 70px,#090909 82px,#0d0d0d 118px,#181818 139px,#181818 332px,#0b0b0b 341px,#0d0d0d 356px,#161616 377px,#191919 401px,#2c2c2c 416px,#161616 432px,#0a0a0a 486px,#0a0a0a 513px)"></i>
<i style="top:117px;height:4px;background:linear-gradient(90deg,#1c1c1c 0px,#1a1a1a 70px,#090909 82px,#0d0d0d 118px,#181818 139px,#181818 328px,#0b0b0b 338px,#0d0d0d 352px,#181818 374px,#1d1d1d 399px,#333 415px,#151515 431px,#0a0a0a 470px,#0a0a0a 513px)"></i>
<i style="top:121px;height:4px;background:linear-gradient(90deg,#1c1c1c 0px,#1a1a1a 70px,#090909 82px,#0d0d0d 118px,#181818 139px,#171717 325px,#0c0c0c 334px,#0e0e0e 348px,#1a1a1a 371px,#212121 397px,#393939 414px,#313131 419px,#161616 430px,#0d0d0d 445px,#0a0a0a 510px,#0a0a0a 513px)"></i>
<i style="top:125px;height:4px;background:linear-gradient(90deg,#1c1c1c 0px,#1a1a1a 70px,#090909 82px,#0d0d0d 118px,#181818 139px,#181818 321px,#0c0c0c 331px,#0e0e0e 344px,#1b1b1b 366px,#242424 395px,#3f3f3f 414px,#353535 419px,#171717 430px,#0d0d0d 441px,#0a0a0a 501px,#0a0a0a 513px)"></i>
<i style="top:129px;height:4px;background:linear-gradient(90deg,#1c1c1c 0px,#1a1a1a 70px,#090909 82px,#0d0d0d 118px,#181818 139px,#181818 317px,#0b0b0b 329px,#101010 342px,#1c1c1c 363px,#272727 394px,#444 413px,#3c3c3c 418px,#1a1a1a 429px,#0e0e0e 438px,#090909 493px,#0a0a0a 513px)"></i>
<i style="top:133px;height:4px;background:linear-gradient(90deg,#1c1c1c 0px,#1a1a1a 70px,#090909 82px,#0e0e0e 119px,#181818 139px,#171717 314px,#0b0b0b 326px,#101010 338px,#1c1c1c 358px,#2a2a2a 393px,#494949 412px,#434343 417px,#1b1b1b 429px,#0e0e0e 437px,#090909 488px,#0a0a0a 513px)"></i>
<i style="top:137px;height:4px;background:linear-gradient(90deg,#1c1c1c 0px,#1a1a1a 70px,#090909 82px,#0e0e0e 119px,#181818 139px,#171717 310px,#0b0b0b 322px,#101010 334px,#1d1d1d 353px,#2c2c2c 392px,#4c4c4c 410px,#4c4c4c 415px,#181818 431px,#0e0e0e 439px,#090909 490px,#0a0a0a 513px)"></i>
<i style="top:141px;height:4px;background:linear-gradient(90deg,#1c1c1c 0px,#1a1a1a 70px,#090909 82px,#0e0e0e 119px,#181818 140px,#181818 306px,#0c0c0c 318px,#101010 330px,#1d1d1d 348px,#2d2d2d 389px,#414141 400px,#515151 410px,#505050 415px,#191919 431px,#0e0e0e 438px,#090909 486px,#0a0a0a 513px)"></i>
<i style="top:145px;height:4px;background:linear-gradient(90deg,#1c1c1c 0px,#1a1a1a 70px,#090909 82px,#0e0e0e 119px,#181818 140px,#181818 302px,#0c0c0c 313px,#0e0e0e 325px,#1e1e1e 344px,#2e2e2e 386px,#3a3a3a 395px,#545454 407px,#565656 414px,#424242 420px,#181818 432px,#0e0e0e 439px,#090909 486px,#0a0a0a 513px)"></i>
<i style="top:149px;height:4px;background:linear-gradient(90deg,#1d1d1d 0px,#1b1b1b 70px,#090909 82px,#0e0e0e 119px,#181818 140px,#171717 299px,#0c0c0c 309px,#0e0e0e 321px,#1f1f1f 341px,#2d2d2d 381px,#393939 393px,#575757 407px,#585858 414px,#444 420px,#191919 432px,#0f0f0f 439px,#090909 485px,#0a0a0a 513px)"></i>
<i style="top:153px;height:4px;background:linear-gradient(90deg,#1d1d1d 0px,#1b1b1b 70px,#090909 82px,#0e0e0e 119px,#181818 140px,#171717 295px,#0c0c0c 306px,#0f0f0f 318px,#1f1f1f 338px,#2d2d2d 378px,#3c3c3c 393px,#595959 407px,#5a5a5a 414px,#414141 421px,#161616 433px,#0e0e0e 441px,#090909 486px,#0a0a0a 513px)"></i>
<i style="top:157px;height:4px;background:linear-gradient(90deg,#1d1d1d 0px,#1b1b1b 70px,#090909 82px,#0e0e0e 119px,#181818 140px,#171717 292px,#0b0b0b 304px,#111 316px,#202020 336px,#2d2d2d 377px,#404040 394px,#5a5a5a 407px,#5a5a5a 414px,#414141 421px,#141414 434px,#0d0d0d 444px,#090909 487px,#0a0a0a 513px)"></i>
<i style="top:161px;height:4px;background:linear-gradient(90deg,#1d1d1d 0px,#1b1b1b 70px,#090909 82px,#0e0e0e 119px,#181818 140px,#171717 289px,#0b0b0b 302px,#151515 316px,#222 340px,#2d2d2d 376px,#434343 394px,#5b5b5b 407px,#5b5b5b 414px,#3e3e3e 422px,#141414 434px,#0d0d0d 444px,#090909 487px,#0a0a0a 513px)"></i>
<i style="top:165px;height:4px;background:linear-gradient(90deg,#1d1d1d 0px,#1b1b1b 70px,#090909 82px,#0e0e0e 119px,#181818 140px,#171717 285px,#0b0b0b 299px,#202020 330px,#2e2e2e 375px,#474747 395px,#5c5c5c 407px,#5c5c5c 414px,#151515 434px,#0e0e0e 443px,#090909 486px,#0a0a0a 513px)"></i>
<i style="top:169px;height:4px;background:linear-gradient(90deg,#1d1d1d 0px,#1b1b1b 70px,#090909 82px,#0e0e0e 119px,#181818 140px,#171717 282px,#0b0b0b 296px,#1f1f1f 325px,#2f2f2f 375px,#4e4e4e 397px,#5e5e5e 408px,#5c5c5c 414px,#151515 434px,#0e0e0e 443px,#090909 486px,#0a0a0a 513px)"></i>
<i style="top:173px;height:4px;background:linear-gradient(90deg,#1d1d1d 0px,#1b1b1b 70px,#090909 82px,#0e0e0e 119px,#181818 140px,#161616 280px,#0c0c0c 293px,#1f1f1f 319px,#2f2f2f 374px,#5f5f5f 408px,#5d5d5d 414px,#151515 434px,#0e0e0e 443px,#090909 486px,#0a0a0a 513px)"></i>
<i style="top:177px;height:4px;background:linear-gradient(90deg,#1d1d1d 0px,#1b1b1b 70px,#090909 82px,#0d0d0d 119px,#181818 140px,#171717 277px,#0c0c0c 289px,#1f1f1f 315px,#303030 374px,#606060 408px,#5d5d5d 414px,#151515 434px,#0e0e0e 442px,#090909 486px,#0a0a0a 513px)"></i>
<i style="top:181px;height:4px;background:linear-gradient(90deg,#1d1d1d 0px,#1b1b1b 70px,#090909 82px,#0d0d0d 119px,#181818 140px,#171717 274px,#0d0d0d 285px,#202020 311px,#303030 373px,#606060 407px,#5e5e5e 414px,#161616 434px,#0e0e0e 442px,#090909 486px,#0a0a0a 513px)"></i>
<i style="top:185px;height:4px;background:linear-gradient(90deg,#1d1d1d 0px,#1b1b1b 70px,#090909 82px,#0d0d0d 119px,#181818 140px,#181818 270px,#0d0d0d 282px,#202020 305px,#313131 373px,#606060 405px,#606060 413px,#494949 420px,#161616 434px,#0e0e0e 442px,#090909 486px,#0a0a0a 513px)"></i>
<i style="top:189px;height:4px;background:linear-gradient(90deg,#1d1d1d 0px,#1b1b1b 70px,#090909 82px,#0d0d0d 119px,#181818 141px,#181818 267px,#0e0e0e 278px,#212121 299px,#313131 372px,#454545 385px,#5f5f5f 403px,#626262 412px,#525252 418px,#161616 434px,#0e0e0e 442px,#090909 486px,#0a0a0a 513px)"></i>
<i style="top:193px;height:4px;background:linear-gradient(90deg,#1d1d1d 0px,#1b1b1b 70px,#090909 82px,#0d0d0d 119px,#181818 141px,#191919 263px,#0e0e0e 274px,#222 295px,#313131 372px,#454545 384px,#5a5a5a 397px,#646464 410px,#5d5d5d 415px,#161616 434px,#0e0e0e 441px,#080808 485px,#0a0a0a 513px)"></i>
<i style="top:197px;height:4px;background:linear-gradient(90deg,#1e1e1e 0px,#1b1b1b 70px,#090909 82px,#0d0d0d 119px,#181818 141px,#1b1b1b 255px,#181818 261px,#0e0e0e 270px,#242424 291px,#323232 372px,#454545 383px,#5a5a5a 394px,#656565 410px,#5e5e5e 415px,#161616 434px,#0e0e0e 441px,#080808 485px,#0a0a0a 513px)"></i>
<i style="top:201px;height:4px;background:linear-gradient(90deg,#1e1e1e 0px,#1c1c1c 70px,#090909 82px,#0d0d0d 119px,#171717 141px,#1b1b1b 251px,#191919 257px,#0f0f0f 266px,#1a1a1a 276px,#262626 288px,#323232 371px,#424242 381px,#5b5b5b 393px,#666 410px,#5e5e5e 415px,#141414 435px,#0d0d0d 445px,#090909 487px,#0a0a0a 513px)"></i>
<i style="top:205px;height:4px;background:linear-gradient(90deg,#1e1e1e 0px,#1c1c1c 70px,#090909 82px,#0d0d0d 119px,#171717 141px,#1b1b1b 247px,#1b1b1b 253px,#0f0f0f 262px,#181818 271px,#272727 283px,#333 371px,#444 381px,#5d5d5d 392px,#676767 410px,#5b5b5b 416px,#141414 435px,#0d0d0d 445px,#090909 487px,#0a0a0a 513px)"></i>
<i style="top:209px;height:4px;background:linear-gradient(90deg,#1e1e1e 0px,#1c1c1c 70px,#090909 82px,#0d0d0d 119px,#171717 141px,#1b1b1b 243px,#1c1c1c 249px,#0f0f0f 259px,#1c1c1c 269px,#292929 281px,#333 370px,#434343 380px,#5f5f5f 392px,#676767 411px,#585858 417px,#141414 435px,#0d0d0d 444px,#090909 486px,#0a0a0a 513px)"></i>
<i style="top:213px;height:4px;background:linear-gradient(90deg,#1e1e1e 0px,#1c1c1c 70px,#090909 82px,#0d0d0d 119px,#171717 141px,#1b1b1b 239px,#1d1d1d 245px,#101010 255px,#1b1b1b 264px,#2a2a2a 275px,#353535 371px,#444 380px,#616161 391px,#686868 410px,#5c5c5c 416px,#151515 435px,#0d0d0d 444px,#090909 486px,#0a0a0a 513px)"></i>
<i style="top:217px;height:4px;background:linear-gradient(90deg,#1e1e1e 0px,#1c1c1c 70px,#090909 82px,#0d0d0d 119px,#171717 141px,#1a1a1a 235px,#1e1e1e 241px,#101010 251px,#191919 259px,#2b2b2b 271px,#343434 370px,#464646 380px,#636363 391px,#696969 411px,#5a5a5a 417px,#151515 435px,#0d0d0d 444px,#090909 487px,#0a0a0a 513px)"></i>
<i style="top:221px;height:4px;background:linear-gradient(90deg,#1e1e1e 0px,#1c1c1c 70px,#090909 82px,#0d0d0d 119px,#171717 141px,#1a1a1a 231px,#1e1e1e 237px,#101010 247px,#181818 255px,#2b2b2b 267px,#333 369px,#464646 379px,#656565 391px,#6a6a6a 411px,#5c5c5c 417px,#161616 435px,#0d0d0d 444px,#090909 489px,#0a0a0a 513px)"></i>
<i style="top:225px;height:4px;background:linear-gradient(90deg,#1e1e1e 0px,#1c1c1c 70px,#090909 82px,#0d0d0d 119px,#171717 141px,#1a1a1a 228px,#1d1d1d 234px,#101010 244px,#1c1c1c 253px,#2b2b2b 264px,#313131 368px,#484848 379px,#656565 390px,#6c6c6c 410px,#626262 416px,#383838 427px,#181818 435px,#0d0d0d 444px,#090909 492px,#0a0a0a 513px)"></i>
<i style="top:229px;height:4px;background:linear-gradient(90deg,#1e1e1e 0px,#1c1c1c 70px,#090909 82px,#0d0d0d 119px,#171717 141px,#1a1a1a 224px,#1d1d1d 230px,#101010 240px,#191919 248px,#2b2b2b 260px,#2f2f2f 368px,#4e4e4e 380px,#676767 390px,#6c6c6c 411px,#5f5f5f 418px,#3b3b3b 427px,#191919 435px,#0d0d0d 444px,#0a0a0a 497px,#0a0a0a 513px)"></i>
<i style="top:233px;height:4px;background:linear-gradient(90deg,#1e1e1e 0px,#1c1c1c 70px,#090909 82px,#0d0d0d 119px,#171717 141px,#1a1a1a 221px,#1b1b1b 227px,#101010 236px,#181818 244px,#2b2b2b 256px,#2d2d2d 318px,#2c2c2c 367px,#444 376px,#666 388px,#6d6d6d 399px,#6c6c6c 413px,#5c5c5c 420px,#2f2f2f 430px,#181818 436px,#0c0c0c 446px,#0a0a0a 513px)"></i>
<i style="top:237px;height:4px;background:linear-gradient(90deg,#1e1e1e 0px,#1c1c1c 70px,#090909 82px,#0d0d0d 119px,#171717 142px,#1a1a1a 217px,#1b1b1b 223px,#0f0f0f 233px,#1b1b1b 242px,#2b2b2b 254px,#2a2a2a 354px,#2b2b2b 367px,#424242 375px,#646464 386px,#6d6d6d 394px,#6d6d6d 414px,#5d5d5d 421px,#202020 434px,#0e0e0e 443px,#0a0a0a 499px,#0a0a0a 513px)"></i>
<i style="top:241px;height:4px;background:linear-gradient(90deg,#1e1e1e 0px,#1c1c1c 70px,#090909 82px,#0e0e0e 120px,#171717 142px,#1a1a1a 214px,#191919 220px,#0f0f0f 229px,#1a1a1a 238px,#2b2b2b 250px,#2d2d2d 292px,#292929 354px,#292929 367px,#3f3f3f 374px,#626262 384px,#6e6e6e 392px,#6e6e6e 415px,#5d5d5d 422px,#222 434px,#0e0e0e 443px,#0a0a0a 491px,#0a0a0a 513px)"></i>
<i style="top:245px;height:4px;background:linear-gradient(90deg,#1f1f1f 0px,#1c1c1c 70px,#090909 82px,#0e0e0e 120px,#171717 142px,#181818 216px,#0f0f0f 226px,#1e1e1e 237px,#2b2b2b 249px,#2c2c2c 340px,#262626 366px,#333 371px,#5f5f5f 382px,#6e6e6e 390px,#6f6f6f 416px,#606060 422px,#232323 434px,#0e0e0e 443px,#0a0a0a 472px,#0a0a0a 513px)"></i>
<i style="top:249px;height:4px;background:linear-gradient(90deg,#1f1f1f 0px,#1c1c1c 70px,#090909 82px,#0e0e0e 120px,#171717 142px,#181818 212px,#0e0e0e 222px,#1b1b1b 232px,#2a2a2a 245px,#2d2d2d 285px,#282828 350px,#252525 366px,#333 371px,#5e5e5e 381px,#6f6f6f 389px,#717171 416px,#636363 422px,#242424 434px,#0e0e0e 443px,#0a0a0a 464px,#0a0a0a 513px)"></i>
<i style="top:253px;height:4px;background:linear-gradient(90deg,#1f1f1f 0px,#1c1c1c 70px,#090909 81px,#0d0d0d 119px,#171717 142px,#181818 208px,#0e0e0e 219px,#292929 240px,#2e2e2e 275px,#282828 350px,#252525 366px,#343434 371px,#5f5f5f 381px,#6f6f6f 389px,#717171 416px,#646464 422px,#252525 434px,#0e0e0e 443px,#0a0a0a 461px,#0a0a0a 513px)"></i>
<i style="top:257px;height:4px;background:linear-gradient(90deg,#1f1f1f 0px,#1d1d1d 70px,#090909 81px,#0d0d0d 119px,#171717 142px,#181818 204px,#0e0e0e 215px,#282828 236px,#2e2e2e 273px,#292929 350px,#262626 366px,#353535 371px,#5f5f5f 381px,#707070 389px,#727272 416px,#646464 422px,#262626 434px,#0e0e0e 443px,#0a0a0a 460px,#0a0a0a 513px)"></i>
<i style="top:261px;height:4px;background:linear-gradient(90deg,#1f1f1f 0px,#1d1d1d 70px,#090909 81px,#0d0d0d 119px,#171717 142px,#161616 201px,#0e0e0e 211px,#282828 233px,#2e2e2e 273px,#292929 350px,#262626 366px,#353535 371px,#606060 381px,#707070 389px,#727272 416px,#646464 422px,#262626 434px,#0f0f0f 443px,#0a0a0a 459px,#0a0a0a 513px)"></i>
<i style="top:265px;height:4px;background:linear-gradient(90deg,#1f1f1f 0px,#1d1d1d 70px,#090909 81px,#0d0d0d 119px,#171717 142px,#161616 197px,#0e0e0e 208px,#272727 229px,#2e2e2e 272px,#292929 350px,#262626 365px,#323232 370px,#606060 381px,#707070 389px,#727272 416px,#656565 422px,#272727 434px,#0f0f0f 443px,#0a0a0a 458px,#0a0a0a 513px)"></i>
<i style="top:269px;height:4px;background:linear-gradient(90deg,#1f1f1f 0px,#1d1d1d 70px,#090909 81px,#0d0d0d 119px,#171717 142px,#161616 193px,#0e0e0e 204px,#262626 226px,#2e2e2e 273px,#292929 350px,#262626 365px,#333 370px,#5e5e5e 380px,#6f6f6f 388px,#737373 416px,#656565 422px,#232323 435px,#0e0e0e 444px,#0a0a0a 474px,#0a0a0a 513px)"></i>
<i style="top:273px;height:4px;background:linear-gradient(90deg,#1f1f1f 0px,#1d1d1d 70px,#090909 81px,#0d0d0d 119px,#171717 142px,#161616 189px,#0d0d0d 200px,#262626 222px,#2e2e2e 272px,#292929 350px,#272727 365px,#333 370px,#5e5e5e 380px,#6f6f6f 388px,#737373 416px,#656565 422px,#242424 435px,#0f0f0f 443px,#0a0a0a 457px,#0a0a0a 513px)"></i>
<i style="top:277px;height:4px;background:linear-gradient(90deg,#1f1f1f 0px,#1d1d1d 70px,#090909 81px,#0d0d0d 119px,#171717 142px,#161616 185px,#0d0d0d 197px,#252525 218px,#2e2e2e 272px,#292929 351px,#282828 365px,#343434 370px,#5f5f5f 380px,#707070 388px,#737373 416px,#666 422px,#242424 435px,#0f0f0f 443px,#0a0a0a 457px,#0a0a0a 513px)"></i>
<i style="top:281px;height:4px;background:linear-gradient(90deg,#1f1f1f 0px,#1d1d1d 70px,#090909 81px,#0d0d0d 119px,#171717 142px,#151515 182px,#0d0d0d 193px,#242424 215px,#2e2e2e 272px,#2a2a2a 351px,#282828 365px,#353535 370px,#5f5f5f 380px,#707070 388px,#747474 416px,#666 422px,#252525 435px,#101010 443px,#0a0a0a 456px,#0a0a0a 513px)"></i>
<i style="top:285px;height:4px;background:linear-gradient(90deg,#1f1f1f 0px,#1d1d1d 70px,#090909 81px,#0d0d0d 119px,#171717 142px,#151515 178px,#0d0d0d 189px,#242424 212px,#2e2e2e 272px,#2a2a2a 351px,#292929 365px,#353535 370px,#5f5f5f 380px,#717171 389px,#747474 416px,#666 422px,#434343 429px,#212121 436px,#0f0f0f 444px,#0a0a0a 462px,#0a0a0a 513px)"></i>
<i style="top:289px;height:4px;background:linear-gradient(90deg,#1f1f1f 0px,#1d1d1d 70px,#090909 81px,#0d0d0d 119px,#171717 142px,#151515 174px,#0d0d0d 186px,#232323 208px,#2e2e2e 272px,#2a2a2a 351px,#282828 364px,#323232 369px,#606060 380px,#717171 389px,#747474 416px,#676767 422px,#444 429px,#222 436px,#0f0f0f 444px,#0a0a0a 461px,#0a0a0a 513px)"></i>
<i style="top:293px;height:4px;background:linear-gradient(90deg,#202020 0px,#1d1d1d 70px,#090909 81px,#0d0d0d 119px,#171717 142px,#151515 170px,#0d0d0d 182px,#222 204px,#2f2f2f 271px,#2a2a2a 351px,#292929 364px,#333 369px,#5d5d5d 379px,#717171 388px,#757575 416px,#636363 423px,#222 436px,#0f0f0f 444px,#0a0a0a 460px,#0a0a0a 513px)"></i>
<i style="top:297px;height:4px;background:linear-gradient(90deg,#202020 0px,#1d1d1d 70px,#090909 81px,#0d0d0d 119px,#171717 142px,#141414 166px,#0d0d0d 178px,#222 201px,#2f2f2f 272px,#2a2a2a 351px,#292929 364px,#343434 369px,#5e5e5e 379px,#717171 388px,#757575 416px,#636363 423px,#232323 436px,#0f0f0f 444px,#0a0a0a 459px,#0a0a0a 513px)"></i>
<i style="top:301px;height:4px;background:linear-gradient(90deg,#202020 0px,#1d1d1d 70px,#090909 81px,#0d0d0d 119px,#171717 142px,#141414 162px,#0d0d0d 175px,#212121 197px,#2f2f2f 271px,#2b2b2b 351px,#292929 363px,#343434 369px,#5e5e5e 379px,#717171 388px,#757575 416px,#646464 423px,#232323 436px,#0f0f0f 444px,#0a0a0a 458px,#0a0a0a 513px)"></i>
<i style="top:305px;height:4px;background:linear-gradient(90deg,#202020 0px,#1d1d1d 70px,#090909 81px,#0d0d0d 119px,#171717 142px,#131313 159px,#0c0c0c 171px,#212121 194px,#2f2f2f 271px,#2a2a2a 352px,#292929 363px,#353535 369px,#5f5f5f 379px,#717171 388px,#777 415px,#686868 422px,#464646 429px,#232323 436px,#101010 444px,#0a0a0a 458px,#0a0a0a 513px)"></i>
<i style="top:309px;height:4px;background:linear-gradient(90deg,#202020 0px,#1e1e1e 70px,#090909 81px,#0d0d0d 119px,#171717 142px,#121212 156px,#0c0c0c 168px,#202020 190px,#2f2f2f 271px,#2b2b2b 352px,#2a2a2a 363px,#363636 369px,#606060 379px,#727272 388px,#777 415px,#686868 422px,#474747 429px,#242424 436px,#101010 444px,#0a0a0a 457px,#0a0a0a 513px)"></i>
<i style="top:313px;height:4px;background:linear-gradient(90deg,#202020 0px,#1e1e1e 70px,#090909 81px,#0d0d0d 119px,#171717 142px,#0c0c0c 164px,#202020 187px,#2f2f2f 271px,#2b2b2b 352px,#2a2a2a 363px,#363636 369px,#606060 379px,#727272 388px,#777 415px,#686868 422px,#484848 429px,#202020 437px,#0f0f0f 445px,#0a0a0a 461px,#0a0a0a 513px)"></i>
<i style="top:317px;height:4px;background:linear-gradient(90deg,#202020 0px,#1e1e1e 70px,#090909 81px,#0d0d0d 119px,#171717 141px,#0c0c0c 160px,#1f1f1f 184px,#2f2f2f 271px,#2b2b2b 352px,#2a2a2a 363px,#373737 369px,#5e5e5e 378px,#727272 388px,#787878 415px,#696969 422px,#484848 429px,#212121 437px,#0f0f0f 445px,#0a0a0a 460px,#0a0a0a 513px)"></i>
<i style="top:321px;height:4px;background:linear-gradient(90deg,#202020 0px,#1e1e1e 70px,#090909 81px,#0d0d0d 119px,#161616 139px,#0c0c0c 156px,#1e1e1e 180px,#2f2f2f 271px,#2b2b2b 352px,#2b2b2b 363px,#383838 369px,#5e5e5e 378px,#727272 388px,#787878 415px,#696969 422px,#494949 429px,#212121 437px,#0f0f0f 445px,#0a0a0a 459px,#0a0a0a 513px)"></i>
<i style="top:325px;height:4px;background:linear-gradient(90deg,#202020 0px,#1e1e1e 70px,#090909 81px,#0d0d0d 119px,#151515 136px,#0b0b0b 152px,#1e1e1e 177px,#2f2f2f 271px,#2c2c2c 352px,#2a2a2a 362px,#353535 368px,#5f5f5f 378px,#727272 388px,#787878 415px,#696969 422px,#494949 429px,#212121 437px,#0f0f0f 445px,#0a0a0a 459px,#0a0a0a 513px)"></i>
<i style="top:329px;height:4px;background:linear-gradient(90deg,#202020 0px,#1e1e1e 70px,#090909 81px,#0d0d0d 119px,#131313 134px,#0b0b0b 149px,#1d1d1d 174px,#2f2f2f 271px,#2c2c2c 352px,#2b2b2b 362px,#363636 368px,#5f5f5f 378px,#737373 388px,#797979 415px,#6a6a6a 422px,#4a4a4a 429px,#222 437px,#101010 445px,#0a0a0a 458px,#0a0a0a 513px)"></i>
<i style="top:333px;height:4px;background:linear-gradient(90deg,#202020 0px,#1e1e1e 70px,#090909 81px,#0d0d0d 119px,#111 131px,#0c0c0c 146px,#1d1d1d 170px,#303030 271px,#2c2c2c 352px,#2b2b2b 362px,#363636 368px,#606060 378px,#737373 388px,#797979 415px,#6a6a6a 422px,#4b4b4b 429px,#222 437px,#101010 445px,#0a0a0a 458px,#0a0a0a 513px)"></i>
<i style="top:337px;height:4px;background:linear-gradient(90deg,#202020 0px,#1e1e1e 70px,#090909 81px,#0d0d0d 119px,#0f0f0f 130px,#0c0c0c 144px,#1c1c1c 166px,#303030 271px,#2c2c2c 352px,#2b2b2b 362px,#3a3a3a 369px,#616161 378px,#737373 388px,#797979 415px,#6a6a6a 422px,#4b4b4b 429px,#222 437px,#101010 445px,#0a0a0a 457px,#0a0a0a 513px)"></i>
<i style="top:341px;height:5px;background:linear-gradient(90deg,#212121 0px,#1e1e1e 70px,#090909 81px,#0d0d0d 119px,#0d0d0d 141px,#1b1b1b 163px,#303030 271px,#2d2d2d 352px,#2c2c2c 362px,#3b3b3b 369px,#5e5e5e 377px,#727272 387px,#7a7a7a 415px,#676767 423px,#464646 430px,#232323 437px,#101010 445px,#0a0a0a 457px,#0a0a0a 513px)"></i>
<i style="top:346px;height:5px;background:linear-gradient(90deg,#212121 0px,#1e1e1e 70px,#090909 81px,#0b0b0b 126px,#0f0f0f 139px,#1b1b1b 161px,#303030 271px,#2d2d2d 352px,#2b2b2b 361px,#383838 368px,#5f5f5f 377px,#747474 388px,#7a7a7a 415px,#686868 423px,#474747 430px,#232323 437px,#111 445px,#0a0a0a 456px,#0a0a0a 513px)"></i>
<i style="top:351px;height:5px;background:linear-gradient(90deg,#212121 0px,#1e1e1e 70px,#090909 81px,#0d0d0d 133px,#1a1a1a 156px,#303030 271px,#2d2d2d 352px,#2c2c2c 361px,#393939 368px,#606060 377px,#747474 388px,#7b7b7b 415px,#686868 423px,#484848 430px,#202020 438px,#0e0e0e 447px,#0a0a0a 465px,#0a0a0a 513px)"></i>
<i style="top:356px;height:6px;background:linear-gradient(90deg,#212121 0px,#1e1e1e 70px,#090909 81px,#0d0d0d 128px,#191919 152px,#303030 271px,#2d2d2d 353px,#2d2d2d 362px,#3e3e3e 369px,#616161 377px,#747474 388px,#7b7b7b 415px,#696969 423px,#494949 430px,#202020 438px,#0d0d0d 448px,#0a0a0a 490px,#0a0a0a 513px)"></i>
<i style="top:362px;height:7px;background:linear-gradient(90deg,#212121 0px,#1f1f1f 70px,#090909 81px,#0d0d0d 123px,#191919 150px,#303030 271px,#2d2d2d 353px,#2d2d2d 361px,#3b3b3b 368px,#626262 377px,#757575 388px,#7c7c7c 415px,#696969 423px,#4a4a4a 430px,#212121 438px,#0d0d0d 448px,#0a0a0a 480px,#0a0a0a 513px)"></i>
<i style="top:369px;height:8px;background:linear-gradient(90deg,#212121 0px,#1f1f1f 70px,#090909 81px,#0c0c0c 117px,#1a1a1a 152px,#303030 272px,#2e2e2e 353px,#2d2d2d 361px,#3d3d3d 368px,#636363 377px,#767676 389px,#7c7c7c 415px,#676767 424px,#454545 431px,#222 438px,#0e0e0e 448px,#0a0a0a 473px,#0a0a0a 513px)"></i>
<i style="top:377px;height:8px;background:linear-gradient(90deg,#212121 0px,#1f1f1f 70px,#090909 81px,#0c0c0c 111px,#1d1d1d 164px,#313131 273px,#303030 361px,#434343 369px,#656565 377px,#777 389px,#7f7f7f 414px,#6f6f6f 422px,#535353 429px,#242424 438px,#0f0f0f 448px,#0a0a0a 468px,#0a0a0a 513px)"></i>
<i style="top:385px;height:8px;background:linear-gradient(90deg,#222 0px,#1f1f1f 70px,#090909 81px,#0d0d0d 106px,#272727 206px,#333 280px,#343434 361px,#474747 369px,#676767 377px,#797979 389px,#808080 414px,#717171 422px,#565656 429px,#282828 438px,#111 447px,#0a0a0a 460px,#0a0a0a 513px)"></i>
<i style="top:393px;height:6px;background:linear-gradient(90deg,#222 0px,#1f1f1f 71px,#090909 79px,#0d0d0d 102px,#323232 258px,#353535 355px,#3a3a3a 363px,#4e4e4e 370px,#696969 377px,#7b7b7b 390px,#828282 414px,#707070 423px,#535353 430px,#282828 439px,#111 448px,#0a0a0a 465px,#0a0a0a 513px)"></i>
<i style="top:399px;height:4px;background:linear-gradient(90deg,#222 0px,#222 70px,#0b0b0b 77px,#0a0a0a 92px,#2c2c2c 227px,#373737 304px,#383838 360px,#494949 368px,#6a6a6a 377px,#7c7c7c 390px,#838383 413px,#767676 421px,#5f5f5f 428px,#2a2a2a 439px,#121212 448px,#0a0a0a 464px,#0a0a0a 513px)"></i>
<i style="top:403px;height:4px;background:linear-gradient(90deg,#222 0px,#242424 63px,#222 68px,#0b0b0b 76px,#0a0a0a 90px,#333 256px,#3a3a3a 360px,#4e4e4e 369px,#6b6b6b 377px,#7c7c7c 390px,#848484 413px,#757575 422px,#5c5c5c 429px,#282828 440px,#111 449px,#0a0a0a 467px,#0a0a0a 513px)"></i>
<i style="top:407px;height:4px;background:linear-gradient(90deg,#222 0px,#232323 64px,#0a0a0a 76px,#0d0d0d 96px,#363636 276px,#3c3c3c 360px,#4f4f4f 369px,#6c6c6c 377px,#7d7d7d 390px,#858585 412px,#7a7a7a 420px,#626262 428px,#2a2a2a 440px,#131313 448px,#0a0a0a 464px,#090909 513px)"></i>
<i style="top:411px;height:4px;background:linear-gradient(90deg,#222 0px,#242424 60px,#101010 71px,#090909 83px,#363636 267px,#3e3e3e 360px,#515151 369px,#6d6d6d 377px,#7f7f7f 391px,#868686 412px,#7b7b7b 420px,#636363 428px,#282828 441px,#121212 449px,#090909 466px,#090909 513px)"></i>
<i style="top:415px;height:4px;background:linear-gradient(90deg,#222 0px,#242424 56px,#121212 66px,#0e0e0e 76px,#0a0a0a 85px,#373737 275px,#404040 360px,#535353 369px,#6e6e6e 377px,#7f7f7f 391px,#878787 412px,#7a7a7a 421px,#606060 429px,#252525 442px,#131313 449px,#090909 465px,#090909 513px)"></i>
<i style="top:419px;height:4px;background:linear-gradient(90deg,#222 0px,#232323 53px,#121212 62px,#171717 73px,#0a0a0a 80px,#3a3a3a 288px,#424242 360px,#555 369px,#6f6f6f 377px,#818181 392px,#888 411px,#7d7d7d 420px,#666 428px,#232323 443px,#121212 450px,#090909 466px,#090909 513px)"></i>
<i style="top:423px;height:4px;background:linear-gradient(90deg,#222 0px,#242424 49px,#121212 59px,#191919 66px,#202020 71px,#0b0b0b 80px,#3b3b3b 294px,#434343 360px,#565656 369px,#707070 377px,#828282 392px,#898989 411px,#7e7e7e 420px,#676767 428px,#212121 444px,#111 451px,#090909 467px,#090909 513px)"></i>
<i style="top:427px;height:4px;background:linear-gradient(90deg,#222 0px,#252525 41px,#232323 46px,#121212 55px,#181818 62px,#272727 70px,#1c1c1c 74px,#0c0c0c 79px,#3d3d3d 302px,#454545 360px,#5b5b5b 370px,#737373 378px,#848484 394px,#8a8a8a 411px,#7f7f7f 420px,#696969 428px,#1e1e1e 445px,#101010 453px,#090909 468px,#090909 513px)"></i>
<i style="top:431px;height:4px;background:linear-gradient(90deg,#222 0px,#252525 37px,#232323 42px,#121212 51px,#181818 58px,#2c2c2c 68px,#272727 72px,#0e0e0e 78px,#0c0c0c 87px,#3d3d3d 292px,#474747 360px,#5d5d5d 370px,#747474 378px,#858585 395px,#8b8b8b 411px,#7e7e7e 421px,#666 429px,#1f1f1f 445px,#101010 453px,#090909 468px,#090909 513px)"></i>
<i style="top:435px;height:4px;background:linear-gradient(90deg,#232323 0px,#262626 34px,#222 39px,#121212 48px,#191919 55px,#303030 66px,#2f2f2f 70px,#0e0e0e 78px,#0b0b0b 86px,#3e3e3e 296px,#484848 359px,#5c5c5c 369px,#757575 378px,#878787 396px,#8c8c8c 411px,#7f7f7f 421px,#686868 429px,#1d1d1d 446px,#0d0d0d 456px,#090909 474px,#090909 513px)"></i>
<i style="top:439px;height:4px;background:linear-gradient(90deg,#232323 0px,#252525 30px,#232323 35px,#121212 44px,#191919 51px,#313131 63px,#323232 69px,#252525 73px,#0e0e0e 78px,#0c0c0c 86px,#404040 300px,#4a4a4a 359px,#5d5d5d 369px,#767676 378px,#898989 398px,#8d8d8d 411px,#7e7e7e 422px,#656565 430px,#1e1e1e 446px,#0f0f0f 455px,#090909 469px,#090909 513px)"></i>
<i style="top:443px;height:4px;background:linear-gradient(90deg,#232323 0px,#252525 26px,#232323 31px,#121212 40px,#181818 47px,#313131 59px,#343434 68px,#2a2a2a 72px,#0e0e0e 78px,#0c0c0c 86px,#414141 302px,#4b4b4b 359px,#626262 370px,#777 378px,#8b8b8b 399px,#8e8e8e 411px,#7f7f7f 422px,#666 430px,#1e1e1e 446px,#0f0f0f 455px,#090909 468px,#090909 513px)"></i>
<i style="top:447px;height:4px;background:linear-gradient(90deg,#232323 0px,#262626 23px,#222 28px,#131313 36px,#161616 42px,#323232 56px,#353535 68px,#2a2a2a 72px,#0e0e0e 78px,#0c0c0c 86px,#434343 305px,#4c4c4c 358px,#616161 369px,#787878 378px,#8e8e8e 402px,#8e8e8e 412px,#7b7b7b 424px,#606060 432px,#1f1f1f 446px,#0f0f0f 455px,#090909 468px,#090909 513px)"></i>
<i style="top:451px;height:4px;background:linear-gradient(90deg,#232323 0px,#252525 23px,#121212 33px,#191919 40px,#323232 52px,#353535 68px,#2b2b2b 72px,#0e0e0e 78px,#0c0c0c 86px,#444 308px,#4e4e4e 358px,#636363 369px,#797979 378px,#909090 404px,#8d8d8d 414px,#777 426px,#4b4b4b 437px,#202020 446px,#0f0f0f 455px,#090909 467px,#090909 513px)"></i>
<i style="top:455px;height:4px;background:linear-gradient(90deg,#232323 0px,#252525 19px,#121212 29px,#191919 36px,#323232 48px,#363636 66px,#2f2f2f 71px,#0f0f0f 78px,#0c0c0c 86px,#454545 310px,#4f4f4f 357px,#626262 368px,#7a7a7a 378px,#929292 405px,#8d8d8d 415px,#767676 427px,#484848 438px,#212121 446px,#101010 455px,#080808 467px,#080808 513px)"></i>
<i style="top:459px;height:4px;background:linear-gradient(90deg,#232323 0px,#262626 15px,#131313 25px,#161616 31px,#313131 44px,#373737 62px,#323232 70px,#0f0f0f 78px,#0c0c0c 86px,#474747 314px,#515151 357px,#666 369px,#7c7c7c 379px,#939393 407px,#888 419px,#747474 428px,#454545 439px,#212121 446px,#101010 455px,#080808 466px,#080808 513px)"></i>
<i style="top:463px;height:4px;background:linear-gradient(90deg,#232323 0px,#262626 11px,#121212 22px,#1a1a1a 29px,#323232 41px,#373737 63px,#323232 70px,#0f0f0f 78px,#0c0c0c 86px,#494949 317px,#525252 356px,#636363 367px,#7d7d7d 379px,#949494 408px,#858585 421px,#727272 429px,#474747 439px,#222 446px,#101010 455px,#080808 466px,#080808 513px)"></i>
<i style="top:467px;height:4px;background:linear-gradient(90deg,#242424 0px,#252525 8px,#121212 18px,#191919 25px,#323232 37px,#373737 57px,#353535 69px,#262626 73px,#0f0f0f 78px,#0c0c0c 86px,#4a4a4a 321px,#535353 356px,#676767 368px,#7e7e7e 379px,#959595 408px,#858585 422px,#707070 430px,#484848 439px,#232323 446px,#101010 455px,#080808 466px,#080808 513px)"></i>
<i style="top:471px;height:4px;background:linear-gradient(90deg,#272727 0px,#242424 5px,#131313 14px,#171717 20px,#323232 33px,#373737 51px,#353535 69px,#262626 73px,#0f0f0f 78px,#0d0d0d 86px,#4c4c4c 324px,#545454 355px,#676767 367px,#7f7f7f 379px,#969696 408px,#848484 423px,#6a6a6a 432px,#4a4a4a 439px,#242424 446px,#111 455px,#080808 465px,#080808 513px)"></i>
<i style="top:475px;height:4px;background:linear-gradient(90deg,#282828 0px,#131313 10px,#161616 16px,#323232 29px,#373737 46px,#353535 69px,#262626 73px,#0f0f0f 78px,#0d0d0d 86px,#4e4e4e 328px,#565656 355px,#696969 367px,#808080 379px,#979797 408px,#838383 424px,#686868 433px,#464646 440px,#252525 446px,#111 455px,#080808 465px,#080808 513px)"></i>
<i style="top:479px;height:4px;background:linear-gradient(90deg,#272727 0px,#131313 8px,#1a1a1a 14px,#333 26px,#383838 47px,#353535 69px,#262626 73px,#0f0f0f 78px,#0d0d0d 86px,#4f4f4f 329px,#585858 355px,#6d6d6d 368px,#828282 380px,#989898 408px,#828282 425px,#626262 435px,#3b3b3b 442px,#222 447px,#0a0a0a 460px,#080808 513px)"></i>
<i style="top:483px;height:4px;background:linear-gradient(90deg,#2b2b2b 0px,#1b1b1b 8px,#232323 14px,#353535 24px,#373737 67px,#303030 71px,#0f0f0f 78px,#0d0d0d 86px,#505050 330px,#585858 354px,#6c6c6c 367px,#828282 379px,#999 408px,#838383 425px,#646464 435px,#434343 441px,#262626 446px,#131313 454px,#080808 464px,#080808 513px)"></i>
<i style="top:487px;height:4px;background:linear-gradient(90deg,#313131 0px,#282828 9px,#373737 25px,#353535 69px,#272727 73px,#0f0f0f 78px,#0d0d0d 86px,#525252 331px,#5a5a5a 354px,#6e6e6e 367px,#848484 380px,#9a9a9a 408px,#828282 426px,#616161 436px,#272727 446px,#131313 454px,#080808 464px,#080808 513px)"></i>
<i style="top:491px;height:4px;background:linear-gradient(90deg,#323232 0px,#2c2c2c 10px,#383838 27px,#353535 69px,#272727 73px,#0f0f0f 78px,#0d0d0d 86px,#525252 331px,#5a5a5a 354px,#6e6e6e 367px,#848484 380px,#9a9a9a 408px,#828282 426px,#626262 436px,#272727 446px,#141414 454px,#080808 464px,#080808 513px)"></i>
</div></div>
<div class="p" style="left:671px;top:553px;width:515px;height:489px"><div class="q" style="height:497px">
<i style="top:0px;height:5px;background:linear-gradient(90deg,#c4c4c4 0px,#bebebe 40px,#aeaeae 53px,#aaa 71px,#959595 81px,#9a9a9a 88px,#adadad 97px,#b8b8b8 158px,#bdbdbd 353px,#c0c0c0 392px,#a8a8a8 434px,#999 437px,#868686 440px,#878787 444px,#9d9d9d 453px,#c1c1c1 462px,#c4c4c4 467px,#b9b9b9 471px,#a8a8a8 473px,#8a8a8a 475px,#343434 479px,#222 480px,#151515 481px,#0e0e0e 482px,#0e0e0e 483px,#1a1a1a 485px,#434343 489px,#545454 492px,#6a6a6a 500px,#909090 506px,#bfbfbf 513px,#c3c3c3 514px)"></i>
<i style="top:5px;height:4px;background:linear-gradient(90deg,#c4c4c4 0px,#bebebe 40px,#aeaeae 53px,#aaa 71px,#959595 81px,#9a9a9a 88px,#adadad 97px,#b8b8b8 158px,#bebebe 353px,#c0c0c0 392px,#aaa 431px,#9e9e9e 434px,#848484 438px,#818181 441px,#999 452px,#bcbcbc 461px,#c0c0c0 466px,#b7b7b7 470px,#a1a1a1 473px,#858585 475px,#393939 479px,#1e1e1e 481px,#181818 482px,#1a1a1a 484px,#4c4c4c 490px,#737373 500px,#bebebe 511px,#cbcbcb 514px)"></i>
<i style="top:9px;height:4px;background:linear-gradient(90deg,#c4c4c4 0px,#bdbdbd 40px,#adadad 53px,#aaa 71px,#959595 81px,#9a9a9a 88px,#adadad 97px,#b8b8b8 157px,#bebebe 352px,#c0c0c0 392px,#adadad 427px,#a0a0a0 430px,#808080 434px,#797979 437px,#949494 451px,#aeaeae 459px,#adadad 465px,#a3a3a3 470px,#919191 473px,#656565 477px,#444 480px,#393939 482px,#3b3b3b 485px,#757575 497px,#c0c0c0 508px,#d7d7d7 514px)"></i>
<i style="top:13px;height:4px;background:linear-gradient(90deg,#c4c4c4 0px,#bdbdbd 39px,#adadad 53px,#aaa 71px,#959595 81px,#9a9a9a 88px,#adadad 97px,#b8b8b8 156px,#bebebe 351px,#c0c0c0 392px,#b0b0b0 423px,#a4a4a4 426px,#777 431px,#727272 434px,#8f8f8f 450px,#9f9f9f 456px,#9b9b9b 459px,#7d7d7d 464px,#797979 467px,#7e7e7e 471px,#757575 474px,#565656 480px,#515151 484px,#5d5d5d 489px,#7e7e7e 495px,#bcbcbc 504px,#d8d8d8 511px,#dfdfdf 514px)"></i>
<i style="top:17px;height:4px;background:linear-gradient(90deg,#c4c4c4 0px,#bcbcbc 39px,#acacac 53px,#a9a9a9 71px,#959595 81px,#9a9a9a 88px,#adadad 97px,#b8b8b8 156px,#bebebe 350px,#c0c0c0 393px,#b2b2b2 420px,#a2a2a2 423px,#787878 427px,#6e6e6e 429px,#707070 434px,#8e8e8e 450px,#979797 455px,#909090 457px,#7c7c7c 459px,#404040 463px,#363636 464px,#323232 465px,#373737 467px,#585858 471px,#606060 474px,#5b5b5b 483px,#696969 488px,#8f8f8f 494px,#bebebe 501px,#d9d9d9 508px,#e4e4e4 514px)"></i>
<i style="top:21px;height:4px;background:linear-gradient(90deg,#c4c4c4 0px,#bdbdbd 37px,#acacac 54px,#a9a9a9 71px,#959595 81px,#9a9a9a 88px,#adadad 97px,#b8b8b8 155px,#bebebe 350px,#c1c1c1 393px,#b5b5b5 416px,#a8a8a8 419px,#777 424px,#6b6b6b 427px,#6f6f6f 434px,#949494 454px,#8f8f8f 456px,#7b7b7b 458px,#454545 461px,#232323 463px,#181818 464px,#131313 465px,#1b1b1b 467px,#4b4b4b 472px,#585858 475px,#646464 483px,#7d7d7d 488px,#bababa 497px,#d6d6d6 504px,#e6e6e6 513px,#e7e7e7 514px)"></i>
<i style="top:25px;height:4px;background:linear-gradient(90deg,#c4c4c4 0px,#bdbdbd 33px,#b4b4b4 44px,#ababab 54px,#a9a9a9 71px,#949494 81px,#9a9a9a 88px,#acacac 96px,#b8b8b8 150px,#bebebe 349px,#c1c1c1 393px,#b6b6b6 413px,#a7a7a7 416px,#7a7a7a 421px,#6c6c6c 425px,#6b6b6b 431px,#898989 449px,#929292 454px,#8d8d8d 456px,#7d7d7d 458px,#3c3c3c 463px,#2f2f2f 465px,#313131 467px,#525252 473px,#696969 481px,#8d8d8d 487px,#bbb 494px,#d6d6d6 501px,#e7e7e7 511px,#e8e8e8 514px)"></i>
<i style="top:29px;height:4px;background:linear-gradient(90deg,#c4c4c4 0px,#bebebe 29px,#b4b4b4 44px,#ababab 55px,#a9a9a9 71px,#949494 81px,#9a9a9a 88px,#acacac 96px,#b7b7b7 149px,#bebebe 349px,#c1c1c1 393px,#b7b7b7 410px,#a7a7a7 413px,#868686 417px,#727272 422px,#696969 428px,#7d7d7d 448px,#8a8a8a 454px,#838383 457px,#525252 464px,#4c4c4c 467px,#626262 476px,#7b7b7b 481px,#bdbdbd 491px,#d7d7d7 498px,#e7e7e7 509px,#e9e9e9 514px)"></i>
<i style="top:33px;height:4px;background:linear-gradient(90deg,#c4c4c4 0px,#bebebe 28px,#b3b3b3 44px,#aaa 55px,#a9a9a9 71px,#949494 81px,#999 88px,#acacac 96px,#b7b7b7 148px,#bebebe 348px,#c2c2c2 393px,#bababa 406px,#afafaf 409px,#898989 415px,#6d6d6d 424px,#6b6b6b 430px,#737373 439px,#595959 447px,#616161 450px,#757575 454px,#747474 457px,#5b5b5b 464px,#5a5a5a 469px,#686868 474px,#8b8b8b 480px,#bebebe 488px,#d7d7d7 495px,#e6e6e6 506px,#eaeaea 514px)"></i>
<i style="top:37px;height:4px;background:linear-gradient(90deg,#c4c4c4 0px,#bebebe 27px,#b1b1b1 45px,#aaa 56px,#a8a8a8 71px,#949494 81px,#979797 87px,#adadad 97px,#b8b8b8 152px,#bebebe 347px,#c2c2c2 393px,#bbb 403px,#a5a5a5 408px,#7d7d7d 418px,#6c6c6c 425px,#6e6e6e 432px,#737373 437px,#696969 440px,#4b4b4b 443px,#2a2a2a 446px,#252525 448px,#323232 450px,#595959 454px,#626262 457px,#5d5d5d 466px,#6a6a6a 471px,#8e8e8e 477px,#bbb 484px,#d4d4d4 491px,#e4e4e4 502px,#eaeaea 514px)"></i>
<i style="top:41px;height:4px;background:linear-gradient(90deg,#c4c4c4 0px,#bebebe 26px,#afafaf 46px,#aaa 58px,#a8a8a8 71px,#949494 81px,#979797 87px,#acacac 96px,#b7b7b7 147px,#bebebe 347px,#c2c2c2 393px,#bcbcbc 400px,#999 410px,#6f6f6f 423px,#6d6d6d 429px,#767676 437px,#6f6f6f 439px,#5e5e5e 441px,#252525 445px,#151515 447px,#141414 448px,#212121 450px,#4a4a4a 454px,#585858 457px,#646464 466px,#7c7c7c 471px,#b7b7b7 480px,#d2d2d2 487px,#e2e2e2 497px,#eaeaea 514px)"></i>
<i style="top:45px;height:4px;background:linear-gradient(90deg,#c4c4c4 0px,#bebebe 26px,#adadad 47px,#aaa 61px,#a8a8a8 71px,#949494 81px,#979797 87px,#acacac 96px,#b7b7b7 146px,#bebebe 347px,#c3c3c3 393px,#bababa 398px,#888 415px,#707070 423px,#707070 429px,#777 436px,#6e6e6e 439px,#565656 442px,#323232 446px,#2d2d2d 448px,#393939 451px,#535353 456px,#696969 464px,#8c8c8c 470px,#bdbdbd 478px,#d4d4d4 485px,#e3e3e3 497px,#eaeaea 514px)"></i>
<i style="top:49px;height:4px;background:linear-gradient(90deg,#c4c4c4 0px,#bfbfbf 25px,#a9a9a9 55px,#a8a8a8 71px,#949494 81px,#979797 87px,#acacac 96px,#b7b7b7 146px,#bebebe 346px,#c3c3c3 391px,#969696 411px,#737373 422px,#6c6c6c 433px,#555 438px,#393939 443px,#333 447px,#434343 452px,#737373 463px,#b9b9b9 474px,#d2d2d2 481px,#e1e1e1 492px,#eaeaea 514px)"></i>
<i style="top:53px;height:4px;background:linear-gradient(90deg,#c4c4c4 0px,#bebebe 25px,#a8a8a8 55px,#a8a8a8 71px,#939393 81px,#979797 87px,#acacac 96px,#b7b7b7 145px,#bebebe 346px,#c3c3c3 388px,#9c9c9c 409px,#757575 422px,#686868 429px,#515151 433px,#202020 439px,#171717 442px,#202020 446px,#7f7f7f 462px,#b4b4b4 470px,#cfcfcf 477px,#dfdfdf 488px,#eaeaea 514px)"></i>
<i style="top:57px;height:4px;background:linear-gradient(90deg,#c4c4c4 0px,#bebebe 25px,#a8a8a8 54px,#a8a8a8 71px,#939393 81px,#979797 87px,#acacac 96px,#b7b7b7 144px,#bebebe 345px,#c3c3c3 385px,#b5b5b5 395px,#a1a1a1 407px,#676767 427px,#4b4b4b 431px,#1b1b1b 436px,#0b0b0b 439px,#0c0c0c 442px,#1e1e1e 446px,#adadad 466px,#c9c9c9 472px,#dbdbdb 481px,#e9e9e9 513px,#eaeaea 514px)"></i>
<i style="top:61px;height:4px;background:linear-gradient(90deg,#c4c4c4 0px,#bfbfbf 24px,#a8a8a8 53px,#a7a7a7 71px,#939393 81px,#979797 87px,#acacac 96px,#b7b7b7 144px,#bebebe 345px,#c2c2c2 382px,#b7b7b7 392px,#acacac 402px,#909090 413px,#686868 425px,#4a4a4a 429px,#1c1c1c 434px,#0c0c0c 437px,#0a0a0a 440px,#1b1b1b 444px,#949494 460px,#c3c3c3 468px,#d6d6d6 475px,#e2e2e2 491px,#eaeaea 514px)"></i>
<i style="top:65px;height:4px;background:linear-gradient(90deg,#c4c4c4 0px,#bebebe 24px,#b1b1b1 39px,#a7a7a7 55px,#a7a7a7 71px,#939393 81px,#969696 87px,#acacac 96px,#b7b7b7 143px,#bebebe 344px,#c2c2c2 379px,#b8b8b8 391px,#aeaeae 401px,#909090 413px,#6f6f6f 422px,#535353 426px,#1c1c1c 432px,#0c0c0c 435px,#090909 438px,#171717 442px,#454545 448px,#868686 456px,#c6c6c6 467px,#d6d6d6 473px,#e3e3e3 493px,#eaeaea 514px)"></i>
<i style="top:69px;height:4px;background:linear-gradient(90deg,#c4c4c4 0px,#bebebe 24px,#b1b1b1 38px,#a7a7a7 56px,#a7a7a7 71px,#939393 81px,#969696 87px,#acacac 96px,#b7b7b7 143px,#bebebe 344px,#c2c2c2 375px,#b2b2b2 399px,#969696 411px,#767676 419px,#515151 424px,#1d1d1d 430px,#0d0d0d 433px,#090909 436px,#151515 440px,#3a3a3a 445px,#747474 452px,#c6c6c6 466px,#d6d6d6 471px,#e3e3e3 494px,#eaeaea 514px)"></i>
<i style="top:73px;height:4px;background:linear-gradient(90deg,#c4c4c4 0px,#bebebe 24px,#b0b0b0 37px,#a6a6a6 56px,#a7a7a7 71px,#939393 81px,#969696 87px,#acacac 96px,#b7b7b7 142px,#bfbfbf 344px,#c1c1c1 372px,#b1b1b1 399px,#939393 411px,#777 417px,#464646 423px,#1d1d1d 428px,#0b0b0b 432px,#0b0b0b 436px,#1f1f1f 440px,#696969 449px,#cacaca 466px,#d8d8d8 471px,#eaeaea 514px)"></i>
<i style="top:77px;height:4px;background:linear-gradient(90deg,#c4c4c4 0px,#bdbdbd 24px,#afafaf 37px,#a6a6a6 56px,#a7a7a7 71px,#939393 81px,#969696 87px,#acacac 96px,#b7b7b7 142px,#bebebe 343px,#c0c0c0 368px,#aaa 400px,#919191 410px,#787878 415px,#232323 425px,#0e0e0e 429px,#090909 433px,#171717 437px,#474747 443px,#6b6b6b 448px,#a6a6a6 459px,#d0d0d0 467px,#dbdbdb 473px,#eaeaea 514px)"></i>
<i style="top:81px;height:4px;background:linear-gradient(90deg,#c4c4c4 0px,#bebebe 23px,#afafaf 36px,#a6a6a6 57px,#a7a7a7 71px,#929292 81px,#969696 87px,#acacac 96px,#b7b7b7 141px,#bfbfbf 343px,#c0c0c0 364px,#a7a7a7 392px,#9f9f9f 401px,#8c8c8c 409px,#727272 414px,#232323 423px,#0e0e0e 427px,#090909 431px,#161616 435px,#626262 445px,#8d8d8d 454px,#cacaca 465px,#d9d9d9 470px,#eaeaea 514px)"></i>
<i style="top:85px;height:4px;background:linear-gradient(90deg,#c4c4c4 0px,#bebebe 23px,#aeaeae 36px,#a5a5a5 57px,#a6a6a6 71px,#929292 81px,#969696 87px,#acacac 96px,#b7b7b7 141px,#bebebe 342px,#c0c0c0 360px,#9c9c9c 391px,#969696 401px,#818181 409px,#646464 414px,#191919 423px,#0a0a0a 427px,#0d0d0d 431px,#222 435px,#5f5f5f 443px,#8c8c8c 453px,#c4c4c4 463px,#d8d8d8 469px,#eaeaea 514px)"></i>
<i style="top:89px;height:4px;background:linear-gradient(90deg,#c4c4c4 0px,#bebebe 23px,#adadad 36px,#a5a5a5 57px,#a6a6a6 71px,#929292 81px,#969696 87px,#acacac 96px,#b7b7b7 140px,#bfbfbf 342px,#bfbfbf 357px,#aaa 375px,#929292 390px,#8d8d8d 400px,#7b7b7b 407px,#616161 412px,#161616 422px,#090909 426px,#101010 430px,#303030 435px,#5c5c5c 441px,#767676 447px,#919191 453px,#c2c2c2 462px,#d7d7d7 468px,#e1e1e1 485px,#eaeaea 514px)"></i>
<i style="top:93px;height:4px;background:linear-gradient(90deg,#c4c4c4 0px,#bebebe 23px,#acacac 36px,#a4a4a4 57px,#a6a6a6 71px,#929292 81px,#969696 87px,#acacac 96px,#b7b7b7 140px,#bfbfbf 342px,#bdbdbd 354px,#adadad 371px,#888 389px,#818181 400px,#6c6c6c 407px,#474747 413px,#161616 420px,#090909 424px,#0f0f0f 428px,#2c2c2c 433px,#636363 441px,#919191 452px,#c1c1c1 461px,#d8d8d8 468px,#e4e4e4 495px,#eaeaea 514px)"></i>
<i style="top:97px;height:4px;background:linear-gradient(90deg,#c4c4c4 0px,#bdbdbd 23px,#ababab 35px,#a4a4a4 58px,#a6a6a6 71px,#929292 81px,#969696 87px,#acacac 96px,#b7b7b7 140px,#bdbdbd 350px,#adadad 369px,#7e7e7e 389px,#757575 400px,#606060 406px,#161616 418px,#090909 422px,#0d0d0d 426px,#272727 431px,#686868 441px,#979797 452px,#c1c1c1 460px,#d9d9d9 468px,#eaeaea 514px)"></i>
<i style="top:101px;height:4px;background:linear-gradient(90deg,#c4c4c4 0px,#bdbdbd 23px,#ababab 35px,#a4a4a4 58px,#a6a6a6 71px,#929292 81px,#959595 87px,#acacac 96px,#b7b7b7 139px,#bdbdbd 346px,#afafaf 366px,#8c8c8c 380px,#737373 389px,#6b6b6b 399px,#575757 405px,#121212 417px,#090909 421px,#0e0e0e 425px,#2c2c2c 431px,#737373 442px,#a3a3a3 453px,#c5c5c5 460px,#dadada 468px,#eaeaea 514px)"></i>
<i style="top:105px;height:4px;background:linear-gradient(90deg,#c4c4c4 0px,#bdbdbd 23px,#aaa 35px,#a3a3a3 58px,#a5a5a5 71px,#929292 81px,#959595 87px,#acacac 96px,#b7b7b7 139px,#bcbcbc 343px,#b1b1b1 363px,#9e9e9e 372px,#6a6a6a 388px,#606060 399px,#4b4b4b 405px,#101010 416px,#080808 420px,#111 425px,#363636 432px,#787878 442px,#c8c8c8 460px,#dcdcdc 469px,#eaeaea 514px)"></i>
<i style="top:109px;height:4px;background:linear-gradient(90deg,#c4c4c4 0px,#bebebe 22px,#a9a9a9 35px,#a3a3a3 58px,#a5a5a5 71px,#919191 81px,#959595 87px,#acacac 96px,#b7b7b7 139px,#bbb 340px,#b2b2b2 361px,#a1a1a1 370px,#606060 388px,#515151 400px,#353535 407px,#0f0f0f 415px,#090909 420px,#151515 425px,#414141 433px,#7e7e7e 442px,#c9c9c9 459px,#ddd 469px,#eaeaea 514px)"></i>
<i style="top:113px;height:4px;background:linear-gradient(90deg,#c4c4c4 0px,#bebebe 22px,#a8a8a8 35px,#a3a3a3 59px,#a5a5a5 71px,#919191 81px,#959595 87px,#acacac 96px,#b7b7b7 138px,#bbb 337px,#b2b2b2 360px,#a0a0a0 369px,#6d6d6d 382px,#555 388px,#464646 400px,#262626 408px,#0b0b0b 415px,#0a0a0a 420px,#1f1f1f 426px,#535353 435px,#8a8a8a 443px,#cacaca 458px,#ddd 468px,#eaeaea 514px)"></i>
<i style="top:117px;height:4px;background:linear-gradient(90deg,#c4c4c4 0px,#bebebe 22px,#a7a7a7 35px,#a3a3a3 59px,#a5a5a5 71px,#919191 81px,#959595 87px,#acacac 96px,#b7b7b7 138px,#bababa 335px,#b2b2b2 359px,#a1a1a1 368px,#6f6f6f 380px,#4b4b4b 388px,#3b3b3b 400px,#0b0b0b 414px,#0a0a0a 419px,#1f1f1f 425px,#515151 434px,#909090 443px,#cfcfcf 458px,#dedede 469px,#eaeaea 514px)"></i>
<i style="top:121px;height:4px;background:linear-gradient(90deg,#c4c4c4 0px,#bdbdbd 22px,#a6a6a6 35px,#a2a2a2 59px,#a5a5a5 71px,#919191 81px,#959595 87px,#acacac 96px,#b7b7b7 138px,#bababa 334px,#b1b1b1 359px,#9e9e9e 368px,#686868 380px,#404040 388px,#2e2e2e 401px,#0a0a0a 413px,#0b0b0b 418px,#1f1f1f 424px,#555 434px,#969696 443px,#d0d0d0 457px,#ddd 466px,#eaeaea 514px)"></i>
<i style="top:125px;height:4px;background:linear-gradient(90deg,#c4c4c4 0px,#bdbdbd 22px,#a5a5a5 35px,#a2a2a2 60px,#a5a5a5 71px,#919191 81px,#959595 87px,#acacac 96px,#b7b7b7 138px,#bababa 333px,#afafaf 359px,#9b9b9b 368px,#676767 379px,#3a3a3a 387px,#2f2f2f 392px,#252525 401px,#090909 412px,#0b0b0b 417px,#1f1f1f 423px,#595959 434px,#9b9b9b 443px,#cfcfcf 455px,#dbdbdb 461px,#eaeaea 514px)"></i>
<i style="top:129px;height:4px;background:linear-gradient(90deg,#c4c4c4 0px,#bdbdbd 22px,#a5a5a5 34px,#a1a1a1 59px,#a4a4a4 71px,#919191 81px,#959595 87px,#acacac 96px,#b7b7b7 137px,#bababa 330px,#afafaf 358px,#9b9b9b 367px,#6c6c6c 377px,#333 387px,#282828 392px,#1f1f1f 401px,#090909 412px,#0c0c0c 417px,#262626 424px,#5b5b5b 434px,#9e9e9e 443px,#cfcfcf 454px,#ddd 460px,#eaeaea 514px)"></i>
<i style="top:133px;height:4px;background:linear-gradient(90deg,#c4c4c4 0px,#bdbdbd 22px,#a4a4a4 34px,#a1a1a1 60px,#a4a4a4 71px,#919191 81px,#959595 87px,#acacac 96px,#b7b7b7 137px,#b9b9b9 326px,#ababab 358px,#939393 368px,#585858 380px,#303030 387px,#262626 392px,#1d1d1d 401px,#080808 412px,#0d0d0d 417px,#272727 424px,#5c5c5c 434px,#9f9f9f 443px,#cdcdcd 453px,#dcdcdc 459px,#eaeaea 514px)"></i>
<i style="top:137px;height:4px;background:linear-gradient(90deg,#c4c4c4 0px,#bdbdbd 22px,#a3a3a3 34px,#a1a1a1 60px,#a4a4a4 71px,#909090 81px,#949494 87px,#acacac 96px,#b7b7b7 137px,#b9b9b9 316px,#ababab 355px,#9b9b9b 364px,#7d7d7d 372px,#2b2b2b 388px,#232323 395px,#131313 405px,#080808 412px,#0d0d0d 417px,#282828 424px,#5d5d5d 434px,#a0a0a0 443px,#cdcdcd 453px,#ddd 459px,#eaeaea 514px)"></i>
<i style="top:141px;height:4px;background:linear-gradient(90deg,#c4c4c4 0px,#bcbcbc 22px,#a2a2a2 34px,#a1a1a1 60px,#a4a4a4 71px,#909090 81px,#949494 87px,#acacac 96px,#b8b8b8 137px,#b9b9b9 308px,#aaa 353px,#9b9b9b 362px,#7d7d7d 371px,#2a2a2a 388px,#222 395px,#080808 412px,#111 418px,#3d3d3d 428px,#656565 435px,#a0a0a0 443px,#cdcdcd 453px,#ddd 459px,#eaeaea 514px)"></i>
<i style="top:145px;height:4px;background:linear-gradient(90deg,#c4c4c4 0px,#bcbcbc 22px,#a1a1a1 34px,#a1a1a1 61px,#a4a4a4 71px,#909090 81px,#949494 87px,#acacac 96px,#b8b8b8 137px,#b9b9b9 303px,#b2b2b2 311px,#adadad 343px,#a1a1a1 358px,#848484 368px,#4a4a4a 381px,#292929 388px,#161616 403px,#080808 412px,#111 418px,#484848 430px,#6d6d6d 436px,#a0a0a0 443px,#d1d1d1 454px,#dedede 460px,#eaeaea 514px)"></i>
<i style="top:149px;height:4px;background:linear-gradient(90deg,#c4c4c4 0px,#bbb 22px,#a0a0a0 34px,#a0a0a0 61px,#a3a3a3 71px,#909090 81px,#949494 87px,#acacac 96px,#b7b7b7 136px,#b9b9b9 299px,#aeaeae 306px,#afafaf 329px,#a3a3a3 354px,#939393 362px,#5f5f5f 376px,#282828 388px,#151515 403px,#080808 411px,#0f0f0f 417px,#353535 426px,#5f5f5f 434px,#a0a0a0 443px,#d2d2d2 454px,#dedede 460px,#eaeaea 514px)"></i>
<i style="top:153px;height:4px;background:linear-gradient(90deg,#c4c4c4 0px,#bababa 22px,#a0a0a0 34px,#a0a0a0 61px,#a3a3a3 71px,#909090 81px,#949494 87px,#ababab 96px,#b7b7b7 135px,#b8b8b8 295px,#a9a9a9 302px,#adadad 325px,#a3a3a3 351px,#959595 360px,#5b5b5b 376px,#272727 388px,#141414 403px,#080808 411px,#101010 417px,#363636 426px,#606060 434px,#a1a1a1 443px,#d2d2d2 454px,#dedede 460px,#eaeaea 514px)"></i>
<i style="top:157px;height:4px;background:linear-gradient(90deg,#c3c3c3 0px,#b9b9b9 22px,#a0a0a0 34px,#a0a0a0 61px,#a2a2a2 71px,#909090 81px,#939393 87px,#aaa 96px,#b6b6b6 134px,#b8b8b8 291px,#a5a5a5 298px,#ababab 323px,#a2a2a2 348px,#939393 359px,#4b4b4b 379px,#262626 388px,#131313 403px,#080808 411px,#111 417px,#414141 428px,#676767 435px,#a1a1a1 443px,#d2d2d2 454px,#dedede 460px,#eaeaea 514px)"></i>
<i style="top:161px;height:4px;background:linear-gradient(90deg,#c3c3c3 0px,#b8b8b8 22px,#9f9f9f 34px,#a0a0a0 62px,#a1a1a1 71px,#8f8f8f 81px,#959595 88px,#aaa 97px,#b6b6b6 135px,#b7b7b7 287px,#a0a0a0 294px,#a5a5a5 308px,#a8a8a8 328px,#9e9e9e 350px,#8d8d8d 360px,#3c3c3c 382px,#232323 389px,#121212 403px,#080808 411px,#111 417px,#4b4b4b 430px,#6f6f6f 436px,#a1a1a1 443px,#d3d3d3 454px,#dedede 460px,#eaeaea 514px)"></i>
<i style="top:165px;height:4px;background:linear-gradient(90deg,#c3c3c3 0px,#b6b6b6 22px,#9f9f9f 34px,#9f9f9f 62px,#9f9f9f 72px,#8f8f8f 81px,#959595 88px,#a9a9a9 97px,#b5b5b5 134px,#b7b7b7 283px,#a8a8a8 287px,#9a9a9a 291px,#a6a6a6 320px,#9f9f9f 345px,#8f8f8f 358px,#313131 384px,#202020 390px,#111 403px,#080808 411px,#121212 417px,#505050 431px,#777 437px,#a7a7a7 444px,#d3d3d3 454px,#dedede 460px,#eaeaea 514px)"></i>
<i style="top:169px;height:4px;background:linear-gradient(90deg,#c2c2c2 0px,#b3b3b3 23px,#9f9f9f 34px,#9f9f9f 62px,#9f9f9f 72px,#8f8f8f 81px,#949494 88px,#a8a8a8 97px,#b5b5b5 133px,#b6b6b6 279px,#acacac 282px,#979797 286px,#949494 291px,#a4a4a4 318px,#9d9d9d 344px,#8d8d8d 357px,#212121 389px,#0f0f0f 404px,#080808 411px,#131313 417px,#565656 432px,#a7a7a7 444px,#d3d3d3 454px,#dedede 460px,#eaeaea 514px)"></i>
<i style="top:173px;height:4px;background:linear-gradient(90deg,#c2c2c2 0px,#b2b2b2 23px,#9d9d9d 35px,#9f9f9f 64px,#9e9e9e 72px,#8e8e8e 81px,#949494 88px,#a7a7a7 97px,#b4b4b4 132px,#b6b6b6 275px,#ababab 278px,#929292 282px,#8d8d8d 286px,#a1a1a1 318px,#9c9c9c 343px,#8c8c8c 356px,#767676 363px,#4f4f4f 374px,#202020 389px,#0e0e0e 404px,#080808 411px,#141414 417px,#5d5d5d 433px,#a2a2a2 443px,#d4d4d4 454px,#dedede 460px,#eaeaea 514px)"></i>
<i style="top:177px;height:4px;background:linear-gradient(90deg,#c2c2c2 0px,#b1b1b1 23px,#9d9d9d 35px,#9f9f9f 64px,#9d9d9d 72px,#8e8e8e 81px,#949494 88px,#a6a6a6 97px,#b4b4b4 131px,#b6b6b6 271px,#aaa 274px,#8d8d8d 278px,#868686 281px,#9f9f9f 318px,#9a9a9a 342px,#8b8b8b 355px,#767676 362px,#535353 371px,#1f1f1f 389px,#080808 410px,#111 416px,#4e4e4e 430px,#717171 436px,#a2a2a2 443px,#d4d4d4 454px,#dedede 460px,#eaeaea 514px)"></i>
<i style="top:181px;height:4px;background:linear-gradient(90deg,#c1c1c1 0px,#b0b0b0 23px,#9d9d9d 35px,#9e9e9e 65px,#9b9b9b 73px,#8e8e8e 81px,#939393 88px,#a5a5a5 97px,#b3b3b3 130px,#b5b5b5 267px,#a9a9a9 270px,#878787 274px,#7e7e7e 277px,#9c9c9c 317px,#989898 342px,#878787 355px,#717171 362px,#4f4f4f 371px,#1c1c1c 390px,#080808 410px,#121212 416px,#535353 431px,#797979 437px,#a7a7a7 444px,#d5d5d5 454px,#dedede 460px,#eaeaea 514px)"></i>
<i style="top:185px;height:4px;background:linear-gradient(90deg,#c1c1c1 0px,#adadad 24px,#9d9d9d 35px,#9e9e9e 66px,#9a9a9a 73px,#8e8e8e 81px,#939393 88px,#a5a5a5 98px,#b3b3b3 130px,#b5b5b5 263px,#a9a9a9 266px,#7f7f7f 270px,#747474 272px,#777 277px,#999 316px,#969696 341px,#868686 354px,#727272 361px,#4d4d4d 370px,#1b1b1b 390px,#080808 410px,#131313 416px,#595959 432px,#a8a8a8 444px,#d5d5d5 454px,#dedede 460px,#eaeaea 514px)"></i>
<i style="top:189px;height:4px;background:linear-gradient(90deg,#c1c1c1 0px,#ababab 24px,#9c9c9c 35px,#9b9b9b 72px,#8d8d8d 81px,#959595 89px,#a4a4a4 98px,#b2b2b2 129px,#b5b5b5 259px,#a9a9a9 262px,#868686 265px,#6f6f6f 267px,#656565 269px,#6c6c6c 274px,#7b7b7b 284px,#979797 317px,#949494 341px,#838383 354px,#6e6e6e 361px,#4b4b4b 369px,#1a1a1a 390px,#080808 409px,#111 415px,#3e3e3e 426px,#656565 434px,#a8a8a8 444px,#d5d5d5 454px,#dfdfdf 460px,#eaeaea 514px)"></i>
<i style="top:193px;height:4px;background:linear-gradient(90deg,#c1c1c1 0px,#aaa 24px,#9c9c9c 36px,#9b9b9b 72px,#8d8d8d 81px,#949494 89px,#a4a4a4 99px,#b1b1b1 129px,#b5b5b5 255px,#aaa 258px,#949494 260px,#6a6a6a 263px,#5c5c5c 265px,#5a5a5a 268px,#747474 281px,#949494 316px,#919191 341px,#808080 354px,#6a6a6a 361px,#464646 369px,#181818 391px,#080808 409px,#111 415px,#505050 430px,#737373 436px,#a8a8a8 444px,#d6d6d6 454px,#dfdfdf 460px,#eaeaea 514px)"></i>
<i style="top:197px;height:4px;background:linear-gradient(90deg,#c0c0c0 0px,#a8a8a8 25px,#9b9b9b 36px,#9a9a9a 72px,#8d8d8d 81px,#949494 89px,#a3a3a3 99px,#b1b1b1 128px,#b5b5b5 251px,#ababab 254px,#959595 256px,#686868 259px,#555 261px,#4f4f4f 264px,#5a5a5a 271px,#707070 281px,#919191 316px,#909090 340px,#7f7f7f 353px,#6a6a6a 360px,#414141 369px,#171717 391px,#080808 409px,#121212 415px,#555 431px,#828282 438px,#adadad 445px,#d6d6d6 454px,#dfdfdf 460px,#eaeaea 514px)"></i>
<i style="top:201px;height:4px;background:linear-gradient(90deg,#c0c0c0 0px,#a5a5a5 26px,#9b9b9b 37px,#999 72px,#8d8d8d 81px,#939393 89px,#a2a2a2 100px,#b0b0b0 127px,#b5b5b5 246px,#b1b1b1 249px,#a3a3a3 251px,#878787 253px,#595959 256px,#4b4b4b 258px,#484848 263px,#555 271px,#6a6a6a 280px,#8f8f8f 316px,#8d8d8d 340px,#7c7c7c 353px,#666 360px,#404040 368px,#171717 391px,#080808 409px,#131313 415px,#5b5b5b 432px,#a8a8a8 444px,#d6d6d6 454px,#dfdfdf 460px,#eaeaea 514px)"></i>
<i style="top:205px;height:4px;background:linear-gradient(90deg,#c0c0c0 0px,#a1a1a1 28px,#9a9a9a 40px,#999 72px,#8c8c8c 81px,#959595 90px,#a2a2a2 101px,#afafaf 127px,#b5b5b5 242px,#b1b1b1 245px,#a5a5a5 247px,#898989 249px,#565656 252px,#444 254px,#3f3f3f 258px,#484848 268px,#666 280px,#8c8c8c 316px,#8b8b8b 340px,#7b7b7b 352px,#636363 360px,#3b3b3b 368px,#181818 389px,#080808 408px,#101010 414px,#3d3d3d 425px,#676767 434px,#a8a8a8 444px,#d7d7d7 454px,#dfdfdf 460px,#eaeaea 514px)"></i>
<i style="top:209px;height:4px;background:linear-gradient(90deg,#bfbfbf 0px,#9a9a9a 36px,#989898 72px,#8c8c8c 81px,#949494 90px,#a2a2a2 103px,#afafaf 127px,#b4b4b4 238px,#aeaeae 242px,#9c9c9c 244px,#565656 248px,#414141 250px,#3a3a3a 253px,#434343 267px,#646464 280px,#8a8a8a 316px,#898989 340px,#797979 352px,#606060 360px,#383838 368px,#252525 380px,#131313 395px,#080808 409px,#131313 415px,#5b5b5b 432px,#a8a8a8 444px,#d7d7d7 454px,#dfdfdf 460px,#eaeaea 514px)"></i>
<i style="top:213px;height:4px;background:linear-gradient(90deg,#bfbfbf 0px,#9a9a9a 35px,#979797 72px,#8c8c8c 81px,#959595 91px,#a8a8a8 112px,#b0b0b0 141px,#b4b4b4 235px,#afafaf 238px,#9f9f9f 240px,#7e7e7e 242px,#585858 244px,#404040 246px,#383838 248px,#414141 266px,#636363 280px,#898989 316px,#888 340px,#787878 352px,#5f5f5f 360px,#373737 368px,#262626 379px,#131313 395px,#080808 409px,#131313 415px,#5b5b5b 432px,#a8a8a8 444px,#d6d6d6 454px,#dfdfdf 460px,#eaeaea 514px)"></i>
<i style="top:217px;height:4px;background:linear-gradient(90deg,#bfbfbf 0px,#9a9a9a 34px,#979797 72px,#8c8c8c 81px,#949494 91px,#ababab 117px,#b4b4b4 215px,#b2b2b2 233px,#aaa 235px,#949494 237px,#4d4d4d 241px,#3b3b3b 243px,#363636 247px,#424242 267px,#636363 280px,#888 316px,#888 339px,#777 352px,#5f5f5f 360px,#373737 368px,#262626 379px,#131313 396px,#080808 409px,#121212 415px,#555 431px,#acacac 445px,#d5d5d5 454px,#dedede 460px,#eaeaea 514px)"></i>
<i style="top:221px;height:4px;background:linear-gradient(90deg,#bebebe 0px,#9c9c9c 31px,#969696 72px,#8b8b8b 81px,#959595 92px,#acacac 122px,#b4b4b4 222px,#b0b0b0 230px,#a4a4a4 232px,#878787 234px,#505050 237px,#3c3c3c 239px,#353535 242px,#434343 267px,#636363 280px,#888 316px,#888 339px,#777 352px,#5f5f5f 360px,#373737 368px,#272727 378px,#131313 396px,#080808 409px,#121212 415px,#4c4c4c 429px,#6c6c6c 435px,#a6a6a6 444px,#d5d5d5 454px,#dedede 460px,#eaeaea 514px)"></i>
<i style="top:225px;height:4px;background:linear-gradient(90deg,#bebebe 0px,#9d9d9d 28px,#989898 58px,#959595 72px,#8b8b8b 81px,#979797 94px,#acacac 123px,#b4b4b4 221px,#b1b1b1 226px,#a6a6a6 228px,#8c8c8c 230px,#545454 233px,#3d3d3d 235px,#343434 238px,#434343 267px,#636363 280px,#878787 316px,#878787 339px,#747474 353px,#5e5e5e 360px,#363636 368px,#272727 378px,#090909 406px,#0c0c0c 413px,#232323 420px,#5f5f5f 433px,#a6a6a6 444px,#d4d4d4 454px,#dfdfdf 461px,#eaeaea 514px)"></i>
<i style="top:229px;height:4px;background:linear-gradient(90deg,#bebebe 0px,#9e9e9e 26px,#979797 53px,#959595 72px,#8b8b8b 81px,#ababab 122px,#b3b3b3 218px,#aeaeae 223px,#9f9f9f 225px,#7f7f7f 227px,#585858 229px,#3e3e3e 231px,#353535 233px,#3f3f3f 263px,#4a4a4a 270px,#636363 280px,#878787 316px,#878787 338px,#757575 352px,#626262 359px,#363636 368px,#272727 378px,#080808 407px,#0e0e0e 414px,#2b2b2b 422px,#656565 434px,#a5a5a5 444px,#d3d3d3 454px,#dfdfdf 461px,#eaeaea 514px)"></i>
<i style="top:233px;height:4px;background:linear-gradient(90deg,#bdbdbd 0px,#9d9d9d 25px,#979797 58px,#939393 73px,#8b8b8b 82px,#ababab 122px,#b3b3b3 215px,#afafaf 219px,#a2a2a2 221px,#848484 223px,#4d4d4d 226px,#393939 228px,#333 231px,#444 267px,#636363 280px,#868686 316px,#868686 338px,#737373 353px,#5e5e5e 360px,#363636 368px,#272727 378px,#080808 408px,#0e0e0e 414px,#2b2b2b 422px,#646464 434px,#a5a5a5 444px,#d3d3d3 454px,#dedede 461px,#eaeaea 514px)"></i>
<i style="top:237px;height:4px;background:linear-gradient(90deg,#bdbdbd 0px,#9c9c9c 25px,#939393 72px,#8a8a8a 81px,#aaa 122px,#b3b3b3 212px,#acacac 216px,#999 218px,#525252 222px,#3c3c3c 224px,#333 227px,#444 267px,#636363 280px,#858585 316px,#858585 338px,#727272 353px,#5e5e5e 360px,#363636 368px,#272727 378px,#080808 408px,#0d0d0d 414px,#2a2a2a 422px,#646464 434px,#a4a4a4 444px,#d2d2d2 454px,#dedede 461px,#eaeaea 514px)"></i>
<i style="top:241px;height:4px;background:linear-gradient(90deg,#bdbdbd 0px,#9b9b9b 24px,#939393 72px,#8a8a8a 82px,#aaa 122px,#b2b2b2 209px,#adadad 212px,#9d9d9d 214px,#7c7c7c 216px,#575757 218px,#3f3f3f 220px,#343434 223px,#444 267px,#636363 280px,#858585 316px,#858585 337px,#727272 353px,#5d5d5d 360px,#363636 368px,#272727 378px,#080808 409px,#0f0f0f 415px,#323232 424px,#636363 434px,#a3a3a3 444px,#d1d1d1 454px,#dedede 461px,#eaeaea 514px)"></i>
<i style="top:245px;height:4px;background:linear-gradient(90deg,#bdbdbd 0px,#9a9a9a 24px,#929292 72px,#8a8a8a 82px,#a9a9a9 122px,#b2b2b2 205px,#aeaeae 208px,#a0a0a0 210px,#828282 212px,#4d4d4d 215px,#3b3b3b 217px,#343434 221px,#444 267px,#646464 281px,#848484 316px,#858585 337px,#717171 353px,#5d5d5d 360px,#363636 368px,#272727 378px,#080808 410px,#111 416px,#404040 427px,#696969 435px,#a3a3a3 444px,#d1d1d1 454px,#dedede 461px,#eaeaea 514px)"></i>
<i style="top:249px;height:4px;background:linear-gradient(90deg,#bcbcbc 0px,#a3a3a3 16px,#999 25px,#929292 72px,#8a8a8a 82px,#a9a9a9 123px,#b1b1b1 202px,#aaa 205px,#979797 207px,#515151 211px,#3d3d3d 213px,#363636 216px,#424242 263px,#4b4b4b 270px,#636363 280px,#838383 316px,#848484 337px,#707070 353px,#5d5d5d 360px,#353535 368px,#282828 377px,#080808 410px,#111 416px,#3a3a3a 426px,#636363 434px,#a2a2a2 444px,#d0d0d0 454px,#dedede 461px,#eaeaea 514px)"></i>
<i style="top:253px;height:4px;background:linear-gradient(90deg,#bbb 0px,#a3a3a3 16px,#999 25px,#919191 72px,#8a8a8a 82px,#a8a8a8 123px,#b0b0b0 199px,#ababab 201px,#9a9a9a 203px,#565656 207px,#404040 209px,#373737 212px,#404040 256px,#474747 268px,#636363 280px,#838383 316px,#848484 336px,#707070 353px,#5d5d5d 360px,#353535 368px,#282828 377px,#080808 410px,#101010 416px,#353535 425px,#626262 434px,#a1a1a1 444px,#d3d3d3 455px,#dedede 462px,#eaeaea 514px)"></i>
<i style="top:257px;height:4px;background:linear-gradient(90deg,#bababa 0px,#999 23px,#919191 72px,#8a8a8a 82px,#a7a7a7 123px,#afafaf 195px,#a6a6a6 198px,#8f8f8f 200px,#5b5b5b 203px,#434343 205px,#383838 208px,#3f3f3f 253px,#474747 268px,#636363 280px,#828282 316px,#838383 336px,#6e6e6e 354px,#5c5c5c 360px,#353535 368px,#282828 377px,#080808 410px,#101010 416px,#343434 425px,#626262 434px,#a6a6a6 445px,#d2d2d2 455px,#dedede 462px,#eaeaea 514px)"></i>
<i style="top:261px;height:4px;background:linear-gradient(90deg,#b9b9b9 0px,#989898 24px,#919191 72px,#8a8a8a 82px,#a6a6a6 123px,#adadad 192px,#a6a6a6 194px,#939393 196px,#515151 200px,#3f3f3f 202px,#383838 206px,#444 265px,#505050 272px,#646464 281px,#828282 317px,#838383 336px,#6d6d6d 354px,#5c5c5c 360px,#353535 368px,#282828 377px,#080808 411px,#121212 417px,#464646 429px,#6e6e6e 436px,#a5a5a5 445px,#d2d2d2 455px,#dedede 462px,#eaeaea 514px)"></i>
<i style="top:265px;height:4px;background:linear-gradient(90deg,#b9b9b9 0px,#989898 24px,#909090 72px,#898989 82px,#a5a5a5 123px,#acacac 188px,#a7a7a7 190px,#969696 192px,#555 196px,#414141 198px,#393939 201px,#444 265px,#505050 272px,#646464 281px,#818181 317px,#828282 336px,#6b6b6b 355px,#575757 361px,#353535 368px,#282828 377px,#080808 411px,#121212 417px,#414141 428px,#6d6d6d 436px,#a5a5a5 445px,#d1d1d1 455px,#dedede 462px,#eaeaea 514px)"></i>
<i style="top:269px;height:4px;background:linear-gradient(90deg,#b8b8b8 0px,#989898 24px,#8f8f8f 73px,#898989 82px,#a5a5a5 123px,#a9a9a9 185px,#a1a1a1 187px,#8b8b8b 189px,#595959 192px,#434343 194px,#3a3a3a 197px,#444 265px,#505050 272px,#646464 281px,#808080 317px,#828282 335px,#6a6a6a 355px,#575757 361px,#353535 368px,#282828 377px,#080808 411px,#111 417px,#3c3c3c 427px,#666 435px,#a4a4a4 445px,#d3d3d3 456px,#dfdfdf 463px,#eaeaea 514px)"></i>
<i style="top:273px;height:4px;background:linear-gradient(90deg,#b7b7b7 0px,#989898 24px,#8f8f8f 73px,#898989 82px,#a4a4a4 123px,#a8a8a8 181px,#a2a2a2 183px,#8e8e8e 185px,#505050 189px,#404040 191px,#3a3a3a 195px,#464646 267px,#646464 281px,#808080 317px,#818181 335px,#6a6a6a 355px,#575757 361px,#343434 368px,#282828 377px,#080808 411px,#111 417px,#363636 426px,#666 435px,#a3a3a3 445px,#d3d3d3 456px,#dfdfdf 463px,#eaeaea 514px)"></i>
<i style="top:277px;height:4px;background:linear-gradient(90deg,#b6b6b6 0px,#979797 24px,#8f8f8f 73px,#898989 82px,#a3a3a3 123px,#a7a7a7 177px,#a2a2a2 179px,#919191 181px,#535353 185px,#424242 187px,#3b3b3b 191px,#474747 267px,#646464 281px,#7f7f7f 317px,#818181 335px,#676767 356px,#575757 361px,#343434 368px,#292929 377px,#080808 411px,#101010 417px,#353535 426px,#656565 435px,#a3a3a3 445px,#d2d2d2 456px,#dfdfdf 463px,#eaeaea 514px)"></i>
<i style="top:281px;height:4px;background:linear-gradient(90deg,#b5b5b5 0px,#979797 24px,#8f8f8f 73px,#898989 83px,#a2a2a2 122px,#a5a5a5 174px,#9c9c9c 176px,#868686 178px,#575757 181px,#444 183px,#3c3c3c 186px,#474747 267px,#646464 281px,#7e7e7e 316px,#818181 334px,#676767 356px,#565656 361px,#343434 368px,#292929 377px,#080808 412px,#131313 418px,#434343 429px,#727272 437px,#a7a7a7 446px,#d5d5d5 457px,#dfdfdf 464px,#eaeaea 514px)"></i>
<i style="top:285px;height:4px;background:linear-gradient(90deg,#b4b4b4 0px,#979797 24px,#8e8e8e 73px,#898989 83px,#a1a1a1 122px,#a4a4a4 170px,#9d9d9d 172px,#898989 174px,#4f4f4f 178px,#414141 180px,#3d3d3d 186px,#474747 267px,#646464 281px,#7e7e7e 316px,#808080 334px,#666 356px,#565656 361px,#343434 368px,#292929 377px,#080808 412px,#121212 418px,#3e3e3e 428px,#6b6b6b 436px,#a6a6a6 446px,#d5d5d5 457px,#dfdfdf 464px,#eaeaea 514px)"></i>
<i style="top:289px;height:4px;background:linear-gradient(90deg,#b3b3b3 0px,#979797 24px,#8e8e8e 73px,#898989 83px,#a0a0a0 122px,#a3a3a3 166px,#9d9d9d 168px,#8c8c8c 170px,#525252 174px,#424242 176px,#3d3d3d 180px,#494949 268px,#646464 281px,#7c7c7c 315px,#7f7f7f 334px,#646464 357px,#515151 362px,#343434 368px,#292929 377px,#080808 412px,#121212 418px,#3d3d3d 428px,#717171 437px,#a6a6a6 446px,#d4d4d4 457px,#dedede 463px,#eaeaea 514px)"></i>
<i style="top:293px;height:4px;background:linear-gradient(90deg,#b2b2b2 0px,#969696 24px,#8e8e8e 73px,#898989 83px,#9f9f9f 121px,#a0a0a0 163px,#979797 165px,#818181 167px,#555 170px,#444 172px,#3d3d3d 176px,#494949 268px,#646464 281px,#7b7b7b 314px,#7f7f7f 334px,#646464 357px,#515151 362px,#343434 368px,#292929 376px,#080808 412px,#111 418px,#373737 427px,#696969 436px,#a5a5a5 446px,#d4d4d4 457px,#dedede 463px,#eaeaea 514px)"></i>
<i style="top:297px;height:4px;background:linear-gradient(90deg,#b1b1b1 0px,#969696 24px,#8e8e8e 73px,#898989 83px,#9e9e9e 120px,#9f9f9f 159px,#989898 161px,#848484 163px,#585858 166px,#454545 168px,#3e3e3e 171px,#494949 268px,#646464 281px,#7a7a7a 313px,#7f7f7f 333px,#636363 357px,#505050 362px,#333 368px,#292929 376px,#080808 412px,#111 418px,#373737 427px,#696969 436px,#a4a4a4 446px,#d6d6d6 458px,#dfdfdf 465px,#eaeaea 514px)"></i>
<i style="top:301px;height:4px;background:linear-gradient(90deg,#b0b0b0 0px,#969696 24px,#8d8d8d 73px,#898989 83px,#9d9d9d 118px,#9e9e9e 155px,#989898 157px,#878787 159px,#505050 163px,#424242 165px,#3e3e3e 170px,#474747 252px,#494949 268px,#646464 281px,#797979 312px,#7e7e7e 333px,#636363 357px,#505050 362px,#333 368px,#292929 376px,#080808 413px,#131313 419px,#454545 430px,#a4a4a4 446px,#d6d6d6 458px,#dfdfdf 465px,#eaeaea 514px)"></i>
<i style="top:305px;height:4px;background:linear-gradient(90deg,#afafaf 0px,#969696 24px,#8c8c8c 74px,#898989 83px,#9c9c9c 116px,#9d9d9d 151px,#929292 154px,#7c7c7c 156px,#525252 159px,#434343 161px,#3e3e3e 165px,#484848 245px,#4a4a4a 268px,#646464 281px,#787878 311px,#7e7e7e 333px,#606060 358px,#454545 364px,#303030 369px,#080808 413px,#131313 419px,#3f3f3f 429px,#a3a3a3 446px,#d6d6d6 458px,#dfdfdf 464px,#eaeaea 514px)"></i>
<i style="top:309px;height:4px;background:linear-gradient(90deg,#afafaf 0px,#959595 24px,#8c8c8c 74px,#898989 84px,#9a9a9a 113px,#9b9b9b 148px,#939393 150px,#7f7f7f 152px,#555 155px,#444 157px,#3e3e3e 161px,#494949 242px,#4a4a4a 268px,#636363 281px,#787878 311px,#7d7d7d 333px,#606060 358px,#454545 364px,#303030 369px,#0b0b0b 408px,#090909 415px,#191919 421px,#545454 433px,#9d9d9d 445px,#d5d5d5 458px,#dfdfdf 464px,#eaeaea 514px)"></i>
<i style="top:313px;height:4px;background:linear-gradient(90deg,#aeaeae 0px,#959595 24px,#8c8c8c 74px,#898989 84px,#999 111px,#9b9b9b 144px,#949494 146px,#828282 148px,#4d4d4d 152px,#414141 154px,#3e3e3e 161px,#494949 240px,#4a4a4a 268px,#646464 281px,#777 310px,#7d7d7d 333px,#5f5f5f 358px,#444 364px,#303030 369px,#0b0b0b 408px,#090909 415px,#181818 421px,#545454 433px,#9c9c9c 445px,#d5d5d5 458px,#dedede 464px,#eaeaea 514px)"></i>
<i style="top:317px;height:4px;background:linear-gradient(90deg,#adadad 0px,#959595 24px,#8c8c8c 74px,#898989 84px,#989898 109px,#9a9a9a 140px,#8e8e8e 143px,#777 145px,#4f4f4f 148px,#424242 150px,#3e3e3e 155px,#4a4a4a 239px,#4b4b4b 268px,#646464 281px,#777 310px,#7c7c7c 333px,#5f5f5f 358px,#444 364px,#303030 369px,#0d0d0d 407px,#080808 414px,#141414 420px,#484848 431px,#a1a1a1 446px,#d4d4d4 458px,#dedede 464px,#eaeaea 514px)"></i>
<i style="top:321px;height:4px;background:linear-gradient(90deg,#acacac 0px,#959595 24px,#8b8b8b 74px,#898989 84px,#979797 108px,#999 136px,#8f8f8f 139px,#7a7a7a 141px,#525252 144px,#434343 146px,#3d3d3d 150px,#4a4a4a 239px,#4c4c4c 268px,#646464 281px,#777 311px,#7c7c7c 333px,#5e5e5e 358px,#434343 364px,#303030 369px,#0d0d0d 407px,#090909 415px,#181818 421px,#535353 433px,#a0a0a0 446px,#d3d3d3 458px,#ddd 464px,#eaeaea 514px)"></i>
<i style="top:325px;height:4px;background:linear-gradient(90deg,#ababab 0px,#949494 24px,#8b8b8b 74px,#898989 84px,#969696 106px,#979797 133px,#909090 135px,#7d7d7d 137px,#555 140px,#444 142px,#3d3d3d 146px,#4b4b4b 236px,#4c4c4c 268px,#646464 281px,#767676 311px,#7c7c7c 333px,#5f5f5f 357px,#4d4d4d 362px,#323232 368px,#282828 377px,#0d0d0d 407px,#090909 415px,#171717 421px,#525252 433px,#9f9f9f 446px,#d2d2d2 458px,#ddd 465px,#eaeaea 514px)"></i>
<i style="top:329px;height:4px;background:linear-gradient(90deg,#aaa 0px,#949494 24px,#8a8a8a 75px,#8a8a8a 85px,#969696 106px,#969696 129px,#8a8a8a 132px,#656565 135px,#4d4d4d 137px,#404040 139px,#3d3d3d 145px,#4c4c4c 234px,#4d4d4d 268px,#646464 281px,#767676 312px,#7b7b7b 333px,#5f5f5f 357px,#4c4c4c 362px,#313131 368px,#282828 378px,#0d0d0d 407px,#090909 415px,#171717 421px,#525252 433px,#9e9e9e 446px,#d2d2d2 458px,#ddd 465px,#eaeaea 514px)"></i>
<i style="top:333px;height:4px;background:linear-gradient(90deg,#a9a9a9 0px,#949494 24px,#8a8a8a 75px,#8a8a8a 85px,#959595 105px,#969696 125px,#8b8b8b 128px,#767676 130px,#4f4f4f 133px,#414141 135px,#3c3c3c 140px,#4c4c4c 232px,#4d4d4d 268px,#646464 281px,#767676 312px,#7b7b7b 333px,#5e5e5e 357px,#474747 363px,#313131 368px,#272727 378px,#0f0f0f 406px,#080808 414px,#131313 420px,#414141 430px,#a2a2a2 447px,#d1d1d1 458px,#dcdcdc 465px,#eaeaea 514px)"></i>
<i style="top:337px;height:4px;background:linear-gradient(90deg,#a8a8a8 0px,#949494 23px,#8a8a8a 75px,#8a8a8a 85px,#959595 105px,#949494 122px,#8c8c8c 124px,#797979 126px,#515151 129px,#424242 131px,#3c3c3c 135px,#4d4d4d 231px,#4e4e4e 268px,#656565 282px,#777 314px,#7a7a7a 334px,#5f5f5f 356px,#505050 361px,#313131 368px,#272727 379px,#0f0f0f 406px,#080808 414px,#131313 420px,#404040 430px,#a1a1a1 447px,#d0d0d0 458px,#dbdbdb 465px,#eaeaea 514px)"></i>
<i style="top:341px;height:4px;background:linear-gradient(90deg,#a7a7a7 0px,#949494 23px,#8a8a8a 75px,#8a8a8a 85px,#949494 104px,#939393 118px,#8d8d8d 120px,#7c7c7c 122px,#4a4a4a 126px,#3f3f3f 128px,#3d3d3d 137px,#4d4d4d 230px,#4f4f4f 268px,#666 282px,#777 315px,#797979 334px,#5e5e5e 356px,#4a4a4a 362px,#313131 368px,#272727 379px,#101010 406px,#080808 414px,#121212 420px,#404040 430px,#a5a5a5 448px,#d2d2d2 459px,#dedede 469px,#eaeaea 514px)"></i>
<i style="top:345px;height:4px;background:linear-gradient(90deg,#a6a6a6 0px,#949494 22px,#898989 76px,#8a8a8a 86px,#949494 104px,#919191 115px,#878787 117px,#646464 120px,#4c4c4c 122px,#3f3f3f 124px,#3c3c3c 130px,#4e4e4e 227px,#4f4f4f 268px,#666 282px,#767676 315px,#797979 334px,#606060 355px,#4e4e4e 361px,#303030 368px,#262626 380px,#101010 406px,#080808 414px,#121212 420px,#3a3a3a 429px,#a5a5a5 448px,#d1d1d1 459px,#ddd 469px,#eaeaea 514px)"></i>
<i style="top:349px;height:4px;background:linear-gradient(90deg,#a5a5a5 0px,#949494 22px,#898989 76px,#8b8b8b 87px,#949494 104px,#919191 111px,#888 113px,#747474 115px,#4d4d4d 118px,#3f3f3f 120px,#3b3b3b 125px,#4d4d4d 220px,#505050 268px,#666 282px,#767676 316px,#797979 334px,#616161 354px,#525252 360px,#303030 368px,#252525 381px,#101010 406px,#080808 414px,#121212 420px,#393939 429px,#a4a4a4 448px,#d1d1d1 459px,#ddd 469px,#eaeaea 514px)"></i>
<i style="top:353px;height:4px;background:linear-gradient(90deg,#a4a4a4 0px,#939393 22px,#888 76px,#8b8b8b 87px,#939393 104px,#8e8e8e 108px,#818181 110px,#4d4d4d 114px,#3e3e3e 116px,#393939 120px,#4c4c4c 208px,#515151 268px,#666 282px,#767676 317px,#787878 334px,#626262 353px,#515151 360px,#303030 368px,#252525 382px,#111 406px,#080808 415px,#141414 421px,#494949 432px,#a3a3a3 448px,#d0d0d0 459px,#ddd 470px,#eaeaea 514px)"></i>
<i style="top:357px;height:4px;background:linear-gradient(90deg,#a3a3a3 0px,#939393 22px,#888 76px,#8a8a8a 87px,#929292 102px,#8a8a8a 105px,#787878 107px,#434343 111px,#383838 113px,#4c4c4c 204px,#515151 268px,#666 282px,#767676 318px,#777 335px,#616161 353px,#505050 360px,#2f2f2f 368px,#242424 383px,#111 406px,#080808 415px,#141414 421px,#484848 432px,#a7a7a7 449px,#cfcfcf 459px,#ddd 470px,#eaeaea 514px)"></i>
<i style="top:361px;height:4px;background:linear-gradient(90deg,#a2a2a2 0px,#929292 23px,#878787 77px,#8c8c8c 90px,#909090 99px,#8a8a8a 101px,#797979 103px,#424242 107px,#353535 109px,#353535 114px,#404040 136px,#505050 230px,#525252 268px,#666 282px,#767676 319px,#777 335px,#626262 352px,#4f4f4f 360px,#2f2f2f 368px,#111 406px,#080808 415px,#141414 421px,#424242 431px,#a6a6a6 449px,#cecece 459px,#ddd 470px,#eaeaea 514px)"></i>
<i style="top:365px;height:4px;background:linear-gradient(90deg,#a1a1a1 0px,#919191 23px,#878787 77px,#8d8d8d 91px,#8d8d8d 96px,#848484 98px,#6d6d6d 100px,#404040 103px,#313131 105px,#2f2f2f 109px,#3e3e3e 126px,#4f4f4f 219px,#535353 268px,#666 282px,#767676 320px,#767676 335px,#636363 351px,#4f4f4f 360px,#2f2f2f 368px,#111 406px,#080808 415px,#131313 421px,#424242 431px,#a6a6a6 449px,#cdcdcd 459px,#ddd 471px,#eaeaea 514px)"></i>
<i style="top:369px;height:4px;background:linear-gradient(90deg,#a0a0a0 0px,#909090 24px,#878787 77px,#8a8a8a 92px,#838383 94px,#6e6e6e 96px,#3f3f3f 99px,#2d2d2d 101px,#292929 104px,#3d3d3d 122px,#4e4e4e 208px,#535353 268px,#676767 282px,#767676 322px,#757575 336px,#636363 351px,#4e4e4e 360px,#2f2f2f 368px,#121212 406px,#080808 415px,#131313 421px,#414141 431px,#aaa 450px,#cdcdcd 459px,#ddd 471px,#eaeaea 514px)"></i>
<i style="top:373px;height:4px;background:linear-gradient(90deg,#9f9f9f 0px,#909090 24px,#878787 84px,#868686 89px,#7a7a7a 91px,#5f5f5f 93px,#313131 96px,#242424 98px,#252525 102px,#3b3b3b 119px,#4c4c4c 186px,#545454 268px,#676767 282px,#767676 323px,#747474 337px,#636363 351px,#4d4d4d 360px,#2e2e2e 368px,#121212 406px,#080808 415px,#131313 421px,#414141 431px,#a9a9a9 450px,#ccc 459px,#ddd 471px,#eaeaea 514px)"></i>
<i style="top:377px;height:4px;background:linear-gradient(90deg,#9e9e9e 0px,#8f8f8f 25px,#858585 84px,#808080 86px,#6f6f6f 88px,#2f2f2f 92px,#1e1e1e 94px,#1c1c1c 97px,#393939 116px,#444 142px,#515151 235px,#555 268px,#676767 282px,#767676 325px,#727272 339px,#5e5e5e 353px,#484848 361px,#2e2e2e 368px,#121212 406px,#080808 415px,#121212 421px,#3b3b3b 430px,#a8a8a8 450px,#cbcbcb 459px,#dedede 472px,#eaeaea 514px)"></i>
<i style="top:381px;height:4px;background:linear-gradient(90deg,#9d9d9d 0px,#8e8e8e 26px,#858585 78px,#808080 82px,#707070 84px,#2f2f2f 88px,#1a1a1a 90px,#151515 93px,#393939 115px,#444 138px,#525252 232px,#555 268px,#686868 283px,#777 328px,#6d6d6d 344px,#525252 358px,#2e2e2e 368px,#131313 406px,#080808 415px,#121212 421px,#3a3a3a 430px,#a7a7a7 450px,#cacaca 459px,#ddd 472px,#eaeaea 514px)"></i>
<i style="top:385px;height:4px;background:linear-gradient(90deg,#9c9c9c 0px,#8d8d8d 26px,#868686 75px,#818181 78px,#727272 80px,#545454 82px,#313131 84px,#1a1a1a 86px,#111 88px,#161616 94px,#373737 113px,#434343 133px,#525252 230px,#565656 268px,#686868 283px,#767676 329px,#6c6c6c 345px,#4e4e4e 359px,#2d2d2d 368px,#131313 406px,#080808 415px,#111 421px,#3a3a3a 430px,#ababab 451px,#ccc 460px,#e0e0e0 475px,#eaeaea 514px)"></i>
<i style="top:389px;height:4px;background:linear-gradient(90deg,#9b9b9b 0px,#8d8d8d 27px,#868686 73px,#7f7f7f 75px,#6a6a6a 77px,#262626 81px,#141414 83px,#0e0e0e 87px,#1e1e1e 98px,#393939 114px,#444 135px,#535353 231px,#565656 268px,#686868 283px,#767676 330px,#6b6b6b 345px,#4d4d4d 359px,#2d2d2d 368px,#131313 406px,#080808 415px,#111 421px,#393939 430px,#ababab 451px,#cbcbcb 460px,#dfdfdf 475px,#eaeaea 514px)"></i>
<i style="top:393px;height:4px;background:linear-gradient(90deg,#9a9a9a 0px,#8c8c8c 28px,#868686 70px,#7d7d7d 72px,#656565 74px,#2e2e2e 77px,#171717 79px,#0d0d0d 82px,#151515 93px,#383838 113px,#454545 133px,#535353 230px,#575757 268px,#686868 283px,#757575 330px,#6b6b6b 345px,#4d4d4d 359px,#2d2d2d 368px,#141414 406px,#080808 415px,#111 421px,#393939 430px,#aaa 451px,#cacaca 460px,#dfdfdf 475px,#eaeaea 514px)"></i>
<i style="top:397px;height:4px;background:linear-gradient(90deg,#999 0px,#8b8b8b 28px,#878787 66px,#808080 68px,#6f6f6f 70px,#252525 75px,#151515 77px,#0d0d0d 80px,#131313 92px,#393939 113px,#454545 133px,#545454 230px,#585858 268px,#686868 283px,#757575 331px,#696969 346px,#4c4c4c 359px,#2d2d2d 368px,#141414 406px,#080808 415px,#101010 421px,#333 429px,#a9a9a9 451px,#cacaca 460px,#dfdfdf 475px,#eaeaea 514px)"></i>
<i style="top:401px;height:4px;background:linear-gradient(90deg,#989898 0px,#8b8b8b 29px,#878787 62px,#7c7c7c 65px,#5b5b5b 68px,#383838 71px,#171717 76px,#0d0d0d 80px,#131313 92px,#383838 112px,#464646 132px,#545454 229px,#585858 268px,#686868 283px,#747474 332px,#696969 346px,#4b4b4b 359px,#2c2c2c 368px,#141414 406px,#080808 415px,#101010 421px,#333 429px,#adadad 452px,#cbcbcb 461px,#e0e0e0 476px,#eaeaea 514px)"></i>
<i style="top:405px;height:4px;background:linear-gradient(90deg,#979797 0px,#8a8a8a 30px,#868686 59px,#7e7e7e 61px,#606060 64px,#404040 67px,#101010 78px,#0d0d0d 85px,#191919 95px,#393939 112px,#464646 132px,#555 230px,#595959 268px,#686868 283px,#747474 332px,#696969 346px,#4a4a4a 359px,#2c2c2c 368px,#141414 406px,#080808 416px,#131313 422px,#424242 432px,#acacac 452px,#cbcbcb 461px,#e0e0e0 476px,#eaeaea 514px)"></i>
<i style="top:409px;height:4px;background:linear-gradient(90deg,#959595 0px,#8a8a8a 31px,#868686 55px,#797979 58px,#454545 63px,#383838 66px,#2c2c2c 72px,#101010 78px,#0d0d0d 85px,#171717 94px,#393939 112px,#474747 132px,#555 230px,#5a5a5a 268px,#696969 284px,#737373 333px,#686868 346px,#494949 359px,#2c2c2c 368px,#151515 406px,#080808 416px,#121212 422px,#414141 432px,#ababab 452px,#cacaca 461px,#dfdfdf 475px,#eaeaea 514px)"></i>
<i style="top:413px;height:4px;background:linear-gradient(90deg,#949494 0px,#898989 32px,#858585 52px,#7c7c7c 54px,#494949 59px,#3b3b3b 62px,#2f2f2f 71px,#101010 78px,#0d0d0d 85px,#171717 94px,#383838 111px,#484848 131px,#565656 229px,#5a5a5a 268px,#696969 284px,#727272 334px,#686868 346px,#454545 360px,#2b2b2b 368px,#151515 406px,#080808 416px,#121212 422px,#414141 432px,#ababab 452px,#c9c9c9 461px,#dfdfdf 475px,#eaeaea 514px)"></i>
<i style="top:417px;height:4px;background:linear-gradient(90deg,#939393 0px,#888 33px,#858585 48px,#767676 51px,#4d4d4d 55px,#3e3e3e 58px,#323232 70px,#101010 78px,#0d0d0d 85px,#171717 94px,#393939 111px,#484848 131px,#565656 229px,#5b5b5b 268px,#696969 284px,#727272 334px,#686868 346px,#444 360px,#2b2b2b 368px,#151515 406px,#080808 416px,#121212 422px,#3b3b3b 431px,#aaa 452px,#c8c8c8 461px,#dfdfdf 475px,#eaeaea 514px)"></i>
<i style="top:421px;height:4px;background:linear-gradient(90deg,#929292 0px,#888 34px,#868686 44px,#797979 47px,#4a4a4a 52px,#3f3f3f 55px,#323232 70px,#101010 78px,#0d0d0d 85px,#171717 94px,#393939 111px,#494949 131px,#565656 229px,#5c5c5c 268px,#696969 284px,#717171 335px,#686868 346px,#444 360px,#2b2b2b 368px,#161616 406px,#080808 416px,#111 422px,#3a3a3a 431px,#a9a9a9 452px,#c8c8c8 461px,#dfdfdf 475px,#eaeaea 514px)"></i>
<i style="top:425px;height:4px;background:linear-gradient(90deg,#919191 0px,#848484 41px,#747474 44px,#4e4e4e 48px,#424242 51px,#323232 70px,#101010 78px,#0d0d0d 85px,#181818 94px,#3a3a3a 111px,#4a4a4a 131px,#575757 229px,#5c5c5c 268px,#696969 284px,#717171 335px,#676767 346px,#434343 360px,#2c2c2c 367px,#1c1c1c 399px,#111 409px,#080808 417px,#141414 423px,#595959 437px,#a9a9a9 452px,#c7c7c7 461px,#dfdfdf 475px,#eaeaea 514px)"></i>
<i style="top:429px;height:4px;background:linear-gradient(90deg,#909090 0px,#848484 37px,#767676 40px,#525252 44px,#454545 47px,#323232 70px,#101010 78px,#0d0d0d 85px,#181818 94px,#3b3b3b 111px,#4a4a4a 131px,#575757 229px,#5d5d5d 268px,#6a6a6a 285px,#707070 336px,#676767 346px,#424242 360px,#2c2c2c 367px,#161616 406px,#080808 416px,#111 422px,#393939 431px,#a8a8a8 452px,#c8c8c8 462px,#dfdfdf 475px,#eaeaea 514px)"></i>
<i style="top:433px;height:4px;background:linear-gradient(90deg,#8f8f8f 0px,#858585 33px,#797979 36px,#4f4f4f 41px,#454545 45px,#323232 70px,#101010 78px,#0d0d0d 85px,#181818 94px,#3b3b3b 111px,#4b4b4b 131px,#585858 229px,#5d5d5d 268px,#6a6a6a 285px,#707070 336px,#676767 346px,#414141 360px,#2c2c2c 367px,#171717 406px,#080808 416px,#101010 422px,#333 430px,#a7a7a7 452px,#c8c8c8 462px,#dedede 475px,#eaeaea 514px)"></i>
<i style="top:437px;height:4px;background:linear-gradient(90deg,#8e8e8e 0px,#838383 30px,#747474 33px,#535353 37px,#484848 41px,#323232 70px,#101010 78px,#0d0d0d 85px,#181818 94px,#3a3a3a 110px,#4c4c4c 131px,#585858 230px,#5e5e5e 268px,#6a6a6a 285px,#6f6f6f 337px,#656565 347px,#3d3d3d 361px,#2a2a2a 368px,#171717 406px,#080808 416px,#101010 422px,#333 430px,#ababab 453px,#c9c9c9 463px,#dedede 475px,#eaeaea 514px)"></i>
<i style="top:441px;height:4px;background:linear-gradient(90deg,#8d8d8d 0px,#848484 26px,#777 29px,#575757 33px,#4c4c4c 36px,#323232 70px,#101010 78px,#0d0d0d 85px,#181818 94px,#3b3b3b 110px,#4c4c4c 131px,#595959 230px,#5f5f5f 268px,#6a6a6a 285px,#6f6f6f 337px,#646464 347px,#393939 362px,#292929 368px,#171717 406px,#080808 416px,#101010 422px,#323232 430px,#aaa 453px,#c9c9c9 463px,#dedede 475px,#eaeaea 514px)"></i>
<i style="top:445px;height:4px;background:linear-gradient(90deg,#8c8c8c 0px,#848484 22px,#797979 25px,#555 30px,#4c4c4c 35px,#323232 70px,#101010 78px,#0d0d0d 85px,#181818 94px,#3b3b3b 110px,#4d4d4d 131px,#595959 230px,#5f5f5f 268px,#6a6a6a 286px,#6e6e6e 338px,#646464 347px,#383838 362px,#292929 368px,#181818 406px,#080808 417px,#0f0f0f 422px,#323232 430px,#a9a9a9 453px,#cacaca 464px,#dedede 475px,#eaeaea 514px)"></i>
<i style="top:449px;height:4px;background:linear-gradient(90deg,#8b8b8b 0px,#838383 19px,#757575 22px,#585858 26px,#4f4f4f 31px,#323232 70px,#101010 78px,#0d0d0d 85px,#181818 94px,#3c3c3c 110px,#4e4e4e 131px,#5a5a5a 230px,#606060 268px,#6a6a6a 286px,#6e6e6e 338px,#646464 347px,#2a2a2a 367px,#181818 406px,#080808 417px,#0f0f0f 422px,#313131 430px,#868686 446px,#acacac 454px,#cecece 466px,#dfdfdf 476px,#eaeaea 514px)"></i>
<i style="top:453px;height:4px;background:linear-gradient(90deg,#8a8a8a 0px,#848484 15px,#777 18px,#5b5b5b 22px,#525252 26px,#323232 70px,#101010 78px,#0d0d0d 85px,#181818 94px,#3d3d3d 110px,#4e4e4e 131px,#5a5a5a 231px,#616161 268px,#6b6b6b 287px,#6d6d6d 339px,#616161 348px,#2a2a2a 367px,#181818 406px,#080808 417px,#0f0f0f 422px,#313131 430px,#858585 446px,#acacac 454px,#cecece 466px,#dfdfdf 476px,#eaeaea 514px)"></i>
<i style="top:457px;height:4px;background:linear-gradient(90deg,#898989 0px,#848484 11px,#797979 14px,#595959 19px,#525252 26px,#323232 70px,#101010 78px,#0d0d0d 85px,#161616 93px,#3d3d3d 110px,#4f4f4f 131px,#5b5b5b 231px,#616161 268px,#6b6b6b 287px,#6d6d6d 340px,#616161 348px,#2b2b2b 366px,#212121 388px,#191919 406px,#080808 417px,#0e0e0e 422px,#2b2b2b 429px,#a7a7a7 453px,#cbcbcb 465px,#dedede 475px,#eaeaea 514px)"></i>
<i style="top:461px;height:4px;background:linear-gradient(90deg,#888 0px,#838383 8px,#747474 11px,#5b5b5b 15px,#545454 20px,#393939 64px,#2f2f2f 71px,#101010 78px,#0d0d0d 85px,#161616 93px,#3e3e3e 110px,#505050 131px,#5b5b5b 231px,#616161 267px,#6b6b6b 287px,#6c6c6c 340px,#606060 348px,#2b2b2b 366px,#191919 406px,#080808 417px,#0e0e0e 422px,#2b2b2b 429px,#a6a6a6 453px,#cdcdcd 466px,#dfdfdf 476px,#eaeaea 514px)"></i>
<i style="top:465px;height:4px;background:linear-gradient(90deg,#868686 0px,#818181 5px,#5d5d5d 11px,#555 16px,#484848 42px,#323232 70px,#101010 78px,#0d0d0d 85px,#171717 93px,#3e3e3e 110px,#505050 131px,#5c5c5c 232px,#626262 267px,#6b6b6b 288px,#6c6c6c 341px,#5d5d5d 349px,#2a2a2a 366px,#191919 406px,#080808 417px,#0e0e0e 422px,#2a2a2a 429px,#a6a6a6 453px,#ccc 466px,#dedede 476px,#eaeaea 514px)"></i>
<i style="top:469px;height:4px;background:linear-gradient(90deg,#838383 0px,#787878 3px,#5f5f5f 7px,#575757 11px,#4b4b4b 38px,#323232 70px,#101010 78px,#0d0d0d 85px,#171717 93px,#3d3d3d 109px,#515151 131px,#626262 265px,#6b6b6b 288px,#6b6b6b 341px,#5d5d5d 349px,#2a2a2a 366px,#1a1a1a 406px,#080808 417px,#0d0d0d 422px,#2a2a2a 429px,#7c7c7c 445px,#a5a5a5 453px,#cecece 467px,#dedede 476px,#eaeaea 514px)"></i>
<i style="top:473px;height:4px;background:linear-gradient(90deg,#717171 0px,#5a5a5a 5px,#4b4b4b 39px,#323232 70px,#101010 78px,#0d0d0d 85px,#171717 93px,#3e3e3e 109px,#525252 131px,#626262 264px,#6b6b6b 288px,#6b6b6b 341px,#5d5d5d 349px,#2b2b2b 365px,#232323 379px,#1a1a1a 406px,#080808 417px,#0d0d0d 422px,#292929 429px,#757575 444px,#a0a0a0 452px,#c9c9c9 465px,#ddd 475px,#eaeaea 514px)"></i>
<i style="top:477px;height:4px;background:linear-gradient(90deg,#5c5c5c 0px,#4c4c4c 38px,#323232 70px,#101010 78px,#0d0d0d 85px,#171717 93px,#3e3e3e 109px,#525252 131px,#636363 264px,#6b6b6b 288px,#6a6a6a 342px,#595959 350px,#2b2b2b 365px,#232323 381px,#1a1a1a 406px,#080808 418px,#0f0f0f 423px,#333 431px,#747474 444px,#9f9f9f 452px,#cbcbcb 466px,#ddd 475px,#eaeaea 514px)"></i>
<i style="top:481px;height:10px;background:linear-gradient(90deg,#595959 0px,#4f4f4f 34px,#323232 70px,#101010 78px,#0d0d0d 85px,#171717 93px,#3f3f3f 109px,#535353 131px,#636363 263px,#6b6b6b 289px,#6a6a6a 342px,#595959 350px,#2a2a2a 365px,#1e1e1e 396px,#191919 407px,#080808 418px,#0f0f0f 423px,#323232 431px,#727272 444px,#9e9e9e 452px,#cfcfcf 468px,#dedede 476px,#eaeaea 514px)"></i>
<i style="top:491px;height:6px;background:linear-gradient(90deg,#595959 0px,#505050 33px,#323232 70px,#101010 78px,#0d0d0d 85px,#171717 93px,#404040 109px,#545454 131px,#646464 263px,#6b6b6b 289px,#696969 342px,#585858 350px,#2b2b2b 364px,#242424 375px,#1b1b1b 406px,#080808 418px,#0e0e0e 423px,#313131 431px,#717171 444px,#9d9d9d 452px,#d1d1d1 469px,#dfdfdf 477px,#eaeaea 514px)"></i>
</div></div>
<div class="p" style="left:1215px;top:554px;width:514px;height:488px"><div class="q" style="height:496px">
<i style="top:0px;height:5px;background:linear-gradient(90deg,#272727 0px,#2d2d2d 27px,#3f3f3f 46px,#2b2b2b 57px,#2d2d2d 71px,#424242 78px,#4f4f4f 84px,#515151 96px,#3d3d3d 121px,#2d2d2d 172px,#242424 347px,#272727 397px,#333 430px,#3d3d3d 434px,#545454 438px,#535353 442px,#242424 470px,#0d0d0d 498px,#0b0b0b 513px)"></i>
<i style="top:5px;height:4px;background:linear-gradient(90deg,#272727 0px,#2d2d2d 27px,#3f3f3f 46px,#2b2b2b 57px,#2e2e2e 71px,#424242 78px,#4f4f4f 84px,#515151 96px,#3d3d3d 121px,#2d2d2d 172px,#242424 345px,#272727 397px,#323232 428px,#3e3e3e 432px,#545454 436px,#575757 440px,#242424 470px,#0d0d0d 498px,#0b0b0b 513px)"></i>
<i style="top:9px;height:4px;background:linear-gradient(90deg,#272727 0px,#2d2d2d 27px,#3f3f3f 46px,#2b2b2b 57px,#2e2e2e 71px,#424242 78px,#4f4f4f 84px,#515151 96px,#3d3d3d 122px,#2d2d2d 172px,#252525 342px,#272727 397px,#303030 425px,#3b3b3b 428px,#595959 433px,#5c5c5c 437px,#212121 472px,#0d0d0d 499px,#0b0b0b 513px)"></i>
<i style="top:13px;height:4px;background:linear-gradient(90deg,#272727 0px,#2e2e2e 27px,#3f3f3f 46px,#2b2b2b 57px,#2e2e2e 71px,#4e4e4e 83px,#515151 96px,#3d3d3d 122px,#2d2d2d 172px,#252525 338px,#272727 397px,#303030 422px,#3e3e3e 425px,#5b5b5b 429px,#616161 433px,#525252 444px,#292929 466px,#131313 487px,#0b0b0b 509px,#0b0b0b 513px)"></i>
<i style="top:17px;height:4px;background:linear-gradient(90deg,#272727 0px,#2e2e2e 27px,#3e3e3e 46px,#2c2c2c 57px,#2f2f2f 71px,#4d4d4d 82px,#525252 95px,#3d3d3d 123px,#2d2d2d 172px,#252525 335px,#272727 397px,#2e2e2e 418px,#3b3b3b 421px,#5c5c5c 425px,#656565 428px,#595959 441px,#292929 466px,#131313 487px,#0b0b0b 510px,#0b0b0b 513px)"></i>
<i style="top:21px;height:4px;background:linear-gradient(90deg,#272727 0px,#2f2f2f 27px,#3e3e3e 46px,#2c2c2c 57px,#2f2f2f 71px,#4d4d4d 82px,#525252 95px,#3e3e3e 123px,#2e2e2e 172px,#252525 332px,#272727 398px,#2c2c2c 414px,#393939 417px,#626262 422px,#686868 425px,#5a5a5a 441px,#2a2a2a 465px,#151515 485px,#0b0b0b 507px,#0b0b0b 513px)"></i>
<i style="top:25px;height:4px;background:linear-gradient(90deg,#272727 0px,#2f2f2f 27px,#3e3e3e 46px,#2c2c2c 57px,#2f2f2f 71px,#4e4e4e 82px,#525252 95px,#3e3e3e 124px,#2e2e2e 172px,#252525 329px,#272727 398px,#2d2d2d 411px,#3e3e3e 414px,#626262 418px,#6a6a6a 421px,#5f5f5f 439px,#292929 466px,#121212 488px,#0b0b0b 513px)"></i>
<i style="top:29px;height:4px;background:linear-gradient(90deg,#272727 0px,#303030 27px,#3d3d3d 46px,#2c2c2c 57px,#303030 71px,#4e4e4e 82px,#525252 95px,#3d3d3d 125px,#2e2e2e 172px,#252525 327px,#272727 398px,#2b2b2b 407px,#3b3b3b 410px,#616161 414px,#6c6c6c 417px,#676767 433px,#585858 444px,#2f2f2f 462px,#171717 481px,#0c0c0c 504px,#0b0b0b 513px)"></i>
<i style="top:33px;height:4px;background:linear-gradient(90deg,#272727 0px,#303030 27px,#3d3d3d 46px,#2d2d2d 57px,#303030 71px,#4e4e4e 82px,#525252 95px,#3e3e3e 125px,#2e2e2e 172px,#252525 324px,#272727 398px,#2c2c2c 404px,#414141 407px,#5f5f5f 410px,#6d6d6d 413px,#6e6e6e 432px,#5d5d5d 443px,#333 460px,#1a1a1a 478px,#0c0c0c 502px,#0b0b0b 513px)"></i>
<i style="top:37px;height:4px;background:linear-gradient(90deg,#272727 0px,#313131 27px,#3d3d3d 46px,#2d2d2d 57px,#303030 71px,#4e4e4e 82px,#525252 95px,#3e3e3e 126px,#2e2e2e 172px,#252525 322px,#272727 397px,#2f2f2f 401px,#484848 404px,#646464 407px,#6e6e6e 410px,#7a7a7a 432px,#6a6a6a 440px,#3d3d3d 455px,#212121 471px,#0e0e0e 496px,#0b0b0b 513px)"></i>
<i style="top:41px;height:4px;background:linear-gradient(90deg,#272727 0px,#323232 28px,#3c3c3c 46px,#2d2d2d 57px,#313131 71px,#4f4f4f 82px,#525252 95px,#3e3e3e 127px,#2e2e2e 172px,#252525 320px,#262626 394px,#2d2d2d 397px,#454545 400px,#626262 403px,#6d6d6d 406px,#797979 421px,#8c8c8c 430px,#878787 435px,#454545 452px,#262626 467px,#111 490px,#0b0b0b 513px)"></i>
<i style="top:45px;height:4px;background:linear-gradient(90deg,#282828 0px,#333 28px,#3c3c3c 46px,#2e2e2e 57px,#313131 71px,#4f4f4f 82px,#525252 95px,#3d3d3d 129px,#2e2e2e 172px,#252525 318px,#262626 391px,#303030 394px,#5f5f5f 399px,#6c6c6c 402px,#797979 419px,#9a9a9a 430px,#979797 434px,#777 441px,#4d4d4d 450px,#2c2c2c 463px,#151515 483px,#0b0b0b 511px,#0b0b0b 513px)"></i>
<i style="top:49px;height:4px;background:linear-gradient(90deg,#282828 0px,#333 28px,#3c3c3c 45px,#2e2e2e 58px,#333 72px,#4f4f4f 82px,#525252 96px,#3d3d3d 130px,#2e2e2e 172px,#252525 316px,#252525 387px,#2d2d2d 390px,#484848 393px,#636363 396px,#6c6c6c 399px,#797979 418px,#9e9e9e 430px,#9a9a9a 434px,#4e4e4e 450px,#2c2c2c 463px,#141414 484px,#0b0b0b 513px)"></i>
<i style="top:53px;height:4px;background:linear-gradient(90deg,#282828 0px,#343434 28px,#3b3b3b 43px,#363636 50px,#2e2e2e 58px,#333 72px,#4f4f4f 82px,#525252 96px,#3d3d3d 131px,#2f2f2f 172px,#252525 314px,#262626 384px,#313131 387px,#606060 392px,#6b6b6b 395px,#7b7b7b 417px,#9f9f9f 429px,#9d9d9d 433px,#838383 439px,#4e4e4e 450px,#2c2c2c 463px,#141414 484px,#0b0b0b 513px)"></i>
<i style="top:57px;height:4px;background:linear-gradient(90deg,#282828 0px,#343434 28px,#3a3a3a 39px,#393939 48px,#2e2e2e 58px,#343434 72px,#505050 82px,#525252 96px,#3c3c3c 134px,#2f2f2f 172px,#252525 313px,#252525 380px,#2f2f2f 383px,#5d5d5d 388px,#696969 391px,#7b7b7b 415px,#939393 423px,#a3a3a3 429px,#a0a0a0 433px,#7f7f7f 440px,#4b4b4b 451px,#2a2a2a 464px,#131313 486px,#0b0b0b 513px)"></i>
<i style="top:61px;height:4px;background:linear-gradient(90deg,#282828 0px,#353535 28px,#3a3a3a 38px,#383838 49px,#2f2f2f 58px,#343434 72px,#505050 82px,#525252 96px,#3a3a3a 137px,#2f2f2f 173px,#252525 311px,#262626 377px,#343434 380px,#595959 384px,#676767 387px,#7a7a7a 412px,#8c8c8c 419px,#a8a8a8 427px,#a8a8a8 432px,#949494 437px,#505050 450px,#2e2e2e 462px,#161616 481px,#0b0b0b 512px,#0b0b0b 513px)"></i>
<i style="top:65px;height:4px;background:linear-gradient(90deg,#282828 0px,#353535 28px,#3a3a3a 38px,#383838 49px,#2f2f2f 58px,#343434 72px,#505050 82px,#525252 96px,#393939 141px,#2f2f2f 175px,#252525 311px,#262626 373px,#313131 376px,#5e5e5e 381px,#686868 385px,#787878 409px,#898989 416px,#adadad 425px,#b2b2b2 430px,#a5a5a5 435px,#525252 450px,#323232 460px,#1f1f1f 472px,#0f0f0f 493px,#0b0b0b 513px)"></i>
<i style="top:69px;height:4px;background:linear-gradient(90deg,#282828 0px,#363636 28px,#3b3b3b 37px,#373737 49px,#2f2f2f 59px,#353535 72px,#515151 82px,#525252 96px,#373737 146px,#2e2e2e 180px,#252525 311px,#252525 369px,#303030 372px,#5c5c5c 377px,#666 380px,#787878 408px,#8b8b8b 415px,#b3b3b3 424px,#b9b9b9 429px,#b0b0b0 434px,#888 441px,#535353 450px,#323232 460px,#202020 471px,#101010 492px,#0b0b0b 513px)"></i>
<i style="top:73px;height:4px;background:linear-gradient(90deg,#282828 0px,#373737 28px,#3b3b3b 37px,#363636 50px,#303030 60px,#353535 72px,#515151 82px,#515151 97px,#333 156px,#262626 292px,#272727 366px,#353535 369px,#5a5a5a 373px,#656565 376px,#767676 405px,#878787 413px,#b6b6b6 424px,#bbb 429px,#b1b1b1 434px,#898989 441px,#545454 450px,#353535 459px,#222 469px,#111 490px,#0b0b0b 513px)"></i>
<i style="top:77px;height:4px;background:linear-gradient(90deg,#282828 0px,#373737 28px,#3c3c3c 37px,#353535 51px,#303030 62px,#353535 72px,#515151 82px,#525252 97px,#313131 160px,#252525 298px,#262626 362px,#333 365px,#5e5e5e 370px,#666 374px,#6d6d6d 394px,#7c7c7c 408px,#929292 415px,#b4b4b4 423px,#bababa 428px,#b1b1b1 433px,#868686 441px,#4f4f4f 451px,#2d2d2d 462px,#171717 479px,#0c0c0c 508px,#0b0b0b 513px)"></i>
<i style="top:81px;height:4px;background:linear-gradient(90deg,#292929 0px,#383838 28px,#3c3c3c 36px,#313131 61px,#363636 72px,#515151 82px,#525252 97px,#313131 163px,#252525 301px,#262626 358px,#313131 361px,#5d5d5d 366px,#666 369px,#6c6c6c 391px,#7b7b7b 406px,#929292 414px,#b5b5b5 423px,#b9b9b9 428px,#acacac 433px,#4b4b4b 452px,#292929 464px,#121212 487px,#0b0b0b 513px)"></i>
<i style="top:85px;height:4px;background:linear-gradient(90deg,#292929 0px,#383838 28px,#3d3d3d 36px,#313131 61px,#363636 72px,#525252 82px,#525252 97px,#303030 165px,#252525 301px,#262626 354px,#303030 357px,#5d5d5d 362px,#666 365px,#6a6a6a 389px,#7b7b7b 405px,#959595 413px,#b5b5b5 422px,#b8b8b8 427px,#adadad 432px,#484848 453px,#282828 464px,#111 487px,#0b0b0b 513px)"></i>
<i style="top:89px;height:4px;background:linear-gradient(90deg,#292929 0px,#393939 28px,#3d3d3d 36px,#313131 60px,#363636 72px,#525252 82px,#515151 98px,#303030 167px,#252525 301px,#262626 350px,#303030 353px,#5f5f5f 358px,#696969 361px,#686868 386px,#7a7a7a 403px,#8f8f8f 410px,#b2b2b2 419px,#b9b9b9 426px,#b0b0b0 431px,#484848 453px,#282828 464px,#111 487px,#0b0b0b 513px)"></i>
<i style="top:93px;height:4px;background:linear-gradient(90deg,#292929 0px,#393939 28px,#3d3d3d 36px,#313131 60px,#373737 72px,#525252 82px,#515151 98px,#303030 167px,#252525 300px,#262626 346px,#303030 349px,#646464 354px,#6e6e6e 356px,#676767 382px,#767676 400px,#888 407px,#b1b1b1 417px,#bababa 424px,#b3b3b3 430px,#9a9a9a 436px,#494949 453px,#282828 464px,#111 487px,#0b0b0b 513px)"></i>
<i style="top:97px;height:4px;background:linear-gradient(90deg,#292929 0px,#3a3a3a 28px,#3e3e3e 36px,#323232 60px,#373737 72px,#525252 82px,#515151 99px,#313131 167px,#252525 299px,#262626 342px,#313131 345px,#464646 347px,#6c6c6c 350px,#787878 352px,#787878 356px,#686868 370px,#696969 387px,#7a7a7a 401px,#919191 408px,#b2b2b2 416px,#bababa 423px,#b3b3b3 430px,#949494 437px,#454545 454px,#262626 465px,#111 487px,#0b0b0b 513px)"></i>
<i style="top:101px;height:4px;background:linear-gradient(90deg,#292929 0px,#3a3a3a 28px,#3f3f3f 35px,#323232 59px,#373737 72px,#535353 82px,#515151 99px,#313131 167px,#252525 298px,#272727 339px,#303030 341px,#464646 343px,#737373 346px,#838383 348px,#868686 351px,#6c6c6c 366px,#676767 383px,#767676 398px,#8d8d8d 406px,#b1b1b1 415px,#b9b9b9 422px,#b2b2b2 429px,#959595 436px,#414141 455px,#252525 465px,#111 487px,#0b0b0b 513px)"></i>
<i style="top:105px;height:4px;background:linear-gradient(90deg,#292929 0px,#3b3b3b 28px,#3f3f3f 35px,#323232 56px,#363636 71px,#535353 82px,#505050 100px,#313131 168px,#252525 298px,#272727 335px,#2e2e2e 337px,#424242 339px,#737373 342px,#888 344px,#8f8f8f 347px,#6d6d6d 366px,#686868 383px,#777 397px,#8e8e8e 405px,#b0b0b0 414px,#b7b7b7 421px,#adadad 428px,#616161 447px,#393939 457px,#242424 466px,#101010 488px,#0b0b0b 513px)"></i>
<i style="top:109px;height:4px;background:linear-gradient(90deg,#292929 0px,#3b3b3b 28px,#404040 35px,#363636 49px,#343434 67px,#3d3d3d 74px,#525252 81px,#535353 94px,#313131 168px,#252525 297px,#262626 331px,#2c2c2c 333px,#3e3e3e 335px,#7c7c7c 339px,#8c8c8c 341px,#919191 345px,#7e7e7e 356px,#6b6b6b 368px,#696969 385px,#7b7b7b 397px,#b0b0b0 413px,#b5b5b5 419px,#a9a9a9 426px,#646464 446px,#383838 457px,#232323 466px,#101010 488px,#0b0b0b 513px)"></i>
<i style="top:113px;height:4px;background:linear-gradient(90deg,#292929 0px,#3c3c3c 28px,#404040 35px,#363636 47px,#343434 66px,#3b3b3b 73px,#525252 81px,#535353 94px,#313131 168px,#252525 296px,#272727 328px,#303030 330px,#474747 332px,#777 335px,#8a8a8a 337px,#909090 340px,#848484 351px,#6c6c6c 366px,#696969 383px,#767676 393px,#aeaeae 411px,#b3b3b3 417px,#a5a5a5 424px,#7b7b7b 438px,#626262 446px,#373737 457px,#232323 466px,#101010 488px,#0b0b0b 513px)"></i>
<i style="top:117px;height:4px;background:linear-gradient(90deg,#292929 0px,#3c3c3c 28px,#414141 35px,#363636 46px,#353535 67px,#3e3e3e 74px,#535353 81px,#535353 94px,#313131 168px,#262626 295px,#272727 324px,#2e2e2e 326px,#434343 328px,#727272 331px,#878787 333px,#8f8f8f 336px,#848484 347px,#6c6c6c 365px,#696969 383px,#787878 392px,#a8a8a8 406px,#b2b2b2 414px,#aaa 420px,#808080 434px,#696969 444px,#333 458px,#212121 467px,#101010 488px,#0b0b0b 513px)"></i>
<i style="top:121px;height:4px;background:linear-gradient(90deg,#2a2a2a 0px,#3d3d3d 28px,#414141 35px,#363636 46px,#353535 68px,#3e3e3e 74px,#535353 81px,#535353 94px,#313131 168px,#262626 294px,#272727 320px,#2d2d2d 322px,#3f3f3f 324px,#7b7b7b 328px,#8a8a8a 330px,#8e8e8e 334px,#6c6c6c 362px,#6a6a6a 382px,#767676 390px,#a7a7a7 403px,#b0b0b0 412px,#ababab 418px,#818181 432px,#6e6e6e 442px,#323232 458px,#212121 467px,#101010 488px,#0b0b0b 513px)"></i>
<i style="top:125px;height:4px;background:linear-gradient(90deg,#2a2a2a 0px,#3d3d3d 28px,#424242 35px,#363636 45px,#363636 69px,#414141 75px,#535353 81px,#545454 94px,#313131 168px,#262626 294px,#282828 317px,#323232 319px,#494949 321px,#777 324px,#888 326px,#8e8e8e 329px,#6c6c6c 359px,#6a6a6a 382px,#777 389px,#a7a7a7 401px,#aeaeae 408px,#ababab 416px,#818181 431px,#707070 441px,#313131 458px,#1f1f1f 468px,#0f0f0f 489px,#0b0b0b 513px)"></i>
<i style="top:129px;height:4px;background:linear-gradient(90deg,#2a2a2a 0px,#3e3e3e 28px,#424242 35px,#363636 45px,#373737 70px,#454545 76px,#555 82px,#4d4d4d 109px,#313131 168px,#262626 293px,#272727 313px,#2f2f2f 315px,#454545 317px,#747474 320px,#878787 322px,#8d8d8d 325px,#6c6c6c 354px,#6a6a6a 379px,#747474 387px,#939393 395px,#a9a9a9 401px,#aeaeae 410px,#a6a6a6 417px,#828282 429px,#707070 441px,#303030 458px,#1f1f1f 468px,#0f0f0f 489px,#0b0b0b 513px)"></i>
<i style="top:133px;height:4px;background:linear-gradient(90deg,#2a2a2a 0px,#3e3e3e 28px,#424242 35px,#353535 45px,#383838 70px,#464646 76px,#555 82px,#4b4b4b 113px,#323232 168px,#262626 292px,#272727 309px,#2e2e2e 311px,#414141 313px,#7c7c7c 317px,#8a8a8a 319px,#8c8c8c 323px,#737373 340px,#696969 363px,#6d6d6d 382px,#7d7d7d 389px,#a7a7a7 400px,#acacac 408px,#a4a4a4 416px,#828282 428px,#727272 440px,#2f2f2f 458px,#1f1f1f 468px,#0f0f0f 489px,#0b0b0b 513px)"></i>
<i style="top:137px;height:4px;background:linear-gradient(90deg,#2a2a2a 0px,#3f3f3f 28px,#444 34px,#353535 45px,#393939 71px,#555 82px,#4a4a4a 117px,#323232 168px,#262626 292px,#292929 306px,#333 308px,#4b4b4b 310px,#797979 313px,#898989 315px,#8c8c8c 319px,#6e6e6e 337px,#696969 369px,#6f6f6f 382px,#818181 389px,#a5a5a5 399px,#aaa 406px,#9f9f9f 415px,#828282 427px,#757575 439px,#2d2d2d 458px,#1d1d1d 469px,#0f0f0f 489px,#0b0b0b 513px)"></i>
<i style="top:141px;height:4px;background:linear-gradient(90deg,#2a2a2a 0px,#3f3f3f 28px,#444 34px,#353535 45px,#393939 71px,#565656 82px,#474747 122px,#323232 169px,#262626 291px,#282828 302px,#313131 304px,#484848 306px,#767676 309px,#878787 311px,#8d8d8d 314px,#7b7b7b 325px,#696969 335px,#6b6b6b 376px,#777 384px,#a3a3a3 397px,#a8a8a8 403px,#969696 415px,#818181 427px,#757575 439px,#2c2c2c 458px,#1d1d1d 469px,#0f0f0f 489px,#0b0b0b 513px)"></i>
<i style="top:145px;height:4px;background:linear-gradient(90deg,#2a2a2a 0px,#404040 28px,#454545 34px,#353535 45px,#3a3a3a 71px,#565656 82px,#464646 126px,#323232 169px,#262626 291px,#282828 298px,#303030 300px,#454545 302px,#757575 305px,#888 307px,#8f8f8f 310px,#7b7b7b 321px,#636363 333px,#6d6d6d 376px,#7b7b7b 383px,#a0a0a0 394px,#a7a7a7 401px,#818181 425px,#777 438px,#595959 446px,#2c2c2c 458px,#1c1c1c 470px,#0f0f0f 489px,#0b0b0b 513px)"></i>
<i style="top:149px;height:4px;background:linear-gradient(90deg,#2a2a2a 0px,#414141 29px,#444 35px,#353535 45px,#3a3a3a 71px,#565656 82px,#454545 127px,#323232 169px,#262626 290px,#2a2a2a 295px,#373737 297px,#535353 299px,#838383 302px,#929292 304px,#939393 308px,#626262 329px,#5f5f5f 336px,#686868 350px,#6e6e6e 374px,#7d7d7d 381px,#9f9f9f 391px,#a6a6a6 399px,#979797 408px,#828282 423px,#777 438px,#545454 447px,#2b2b2b 458px,#1c1c1c 470px,#0e0e0e 489px,#0b0b0b 513px)"></i>
<i style="top:153px;height:4px;background:linear-gradient(90deg,#2b2b2b 0px,#434343 30px,#424242 36px,#353535 45px,#3b3b3b 71px,#575757 82px,#464646 126px,#323232 169px,#272727 288px,#2e2e2e 292px,#404040 294px,#828282 298px,#949494 300px,#9b9b9b 303px,#939393 308px,#6a6a6a 321px,#5a5a5a 331px,#616161 340px,#696969 354px,#727272 374px,#858585 381px,#9e9e9e 388px,#a4a4a4 397px,#9c9c9c 404px,#888 415px,#767676 438px,#4c4c4c 449px,#292929 459px,#101010 483px,#0b0b0b 513px)"></i>
<i style="top:157px;height:4px;background:linear-gradient(90deg,#2b2b2b 0px,#454545 34px,#363636 45px,#3c3c3c 71px,#575757 82px,#474747 124px,#323232 169px,#272727 285px,#2d2d2d 288px,#3e3e3e 290px,#7f7f7f 294px,#939393 296px,#9c9c9c 299px,#979797 305px,#666 319px,#575757 330px,#5d5d5d 338px,#686868 349px,#727272 372px,#828282 379px,#9f9f9f 387px,#a4a4a4 396px,#9c9c9c 403px,#898989 413px,#787878 437px,#616161 444px,#2c2c2c 458px,#1c1c1c 470px,#0e0e0e 489px,#0b0b0b 513px)"></i>
<i style="top:161px;height:4px;background:linear-gradient(90deg,#2b2b2b 0px,#444 34px,#363636 45px,#3d3d3d 71px,#585858 82px,#484848 123px,#333 169px,#292929 282px,#323232 285px,#494949 287px,#7c7c7c 290px,#929292 292px,#9c9c9c 295px,#979797 301px,#616161 318px,#545454 330px,#5e5e5e 339px,#696969 350px,#757575 372px,#868686 379px,#9f9f9f 387px,#a2a2a2 397px,#898989 412px,#787878 437px,#5d5d5d 445px,#2c2c2c 458px,#1c1c1c 469px,#0e0e0e 489px,#0b0b0b 513px)"></i>
<i style="top:165px;height:4px;background:linear-gradient(90deg,#2b2b2b 0px,#444 34px,#373737 45px,#3e3e3e 71px,#585858 82px,#494949 121px,#333 169px,#292929 278px,#313131 281px,#454545 283px,#878787 287px,#979797 289px,#9d9d9d 293px,#919191 300px,#646464 313px,#555 324px,#555 334px,#676767 347px,#767676 371px,#898989 379px,#9f9f9f 387px,#9f9f9f 396px,#888 411px,#797979 436px,#656565 443px,#2d2d2d 458px,#1c1c1c 469px,#0e0e0e 489px,#0b0b0b 513px)"></i>
<i style="top:169px;height:4px;background:linear-gradient(90deg,#2c2c2c 0px,#444 34px,#383838 46px,#3f3f3f 71px,#595959 82px,#4a4a4a 120px,#333 168px,#2a2a2a 275px,#303030 277px,#434343 279px,#848484 283px,#969696 285px,#9d9d9d 288px,#989898 294px,#636363 310px,#545454 321px,#535353 333px,#686868 348px,#797979 371px,#9f9f9f 387px,#9b9b9b 395px,#888 408px,#7b7b7b 435px,#686868 442px,#2d2d2d 458px,#1c1c1c 469px,#0e0e0e 489px,#0b0b0b 513px)"></i>
<i style="top:173px;height:4px;background:linear-gradient(90deg,#2c2c2c 0px,#444 34px,#383838 46px,#404040 71px,#595959 82px,#4a4a4a 119px,#333 168px,#2a2a2a 271px,#2f2f2f 273px,#404040 275px,#818181 279px,#969696 281px,#9e9e9e 284px,#979797 291px,#636363 306px,#545454 317px,#515151 332px,#696969 348px,#7a7a7a 369px,#9e9e9e 385px,#9b9b9b 392px,#888 405px,#7c7c7c 434px,#6c6c6c 441px,#2d2d2d 458px,#1d1d1d 468px,#0e0e0e 489px,#0b0b0b 513px)"></i>
<i style="top:177px;height:4px;background:linear-gradient(90deg,#2c2c2c 0px,#444 33px,#393939 46px,#414141 71px,#5a5a5a 82px,#4b4b4b 118px,#343434 166px,#2b2b2b 267px,#343434 270px,#4b4b4b 272px,#7e7e7e 275px,#959595 277px,#9e9e9e 280px,#999 287px,#616161 303px,#535353 314px,#515151 332px,#696969 348px,#7a7a7a 367px,#9c9c9c 382px,#9c9c9c 389px,#888 402px,#7e7e7e 432px,#6e6e6e 440px,#2e2e2e 458px,#1d1d1d 468px,#0e0e0e 489px,#0b0b0b 513px)"></i>
<i style="top:181px;height:4px;background:linear-gradient(90deg,#2c2c2c 0px,#3f3f3f 24px,#434343 35px,#393939 46px,#414141 71px,#5a5a5a 82px,#4c4c4c 117px,#353535 163px,#2c2c2c 264px,#333 266px,#474747 268px,#898989 272px,#9a9a9a 274px,#9f9f9f 278px,#969696 285px,#606060 300px,#535353 310px,#515151 332px,#696969 348px,#7c7c7c 366px,#999 378px,#9c9c9c 387px,#888 401px,#818181 428px,#767676 437px,#494949 450px,#272727 461px,#0f0f0f 484px,#0b0b0b 513px)"></i>
<i style="top:185px;height:4px;background:linear-gradient(90deg,#2d2d2d 0px,#3f3f3f 23px,#424242 36px,#3a3a3a 47px,#424242 71px,#5b5b5b 82px,#4d4d4d 116px,#363636 160px,#2c2c2c 260px,#323232 262px,#444 264px,#868686 268px,#999 270px,#a0a0a0 274px,#989898 281px,#5c5c5c 299px,#515151 310px,#505050 332px,#6b6b6b 349px,#7d7d7d 365px,#999 376px,#9a9a9a 388px,#888 400px,#828282 426px,#787878 436px,#585858 446px,#2c2c2c 459px,#1b1b1b 470px,#0d0d0d 490px,#0b0b0b 513px)"></i>
<i style="top:189px;height:4px;background:linear-gradient(90deg,#2d2d2d 0px,#3f3f3f 22px,#424242 36px,#3b3b3b 47px,#434343 71px,#5c5c5c 82px,#4d4d4d 116px,#373737 156px,#2d2d2d 234px,#2e2e2e 257px,#373737 259px,#4f4f4f 261px,#828282 264px,#979797 266px,#a0a0a0 269px,#9c9c9c 276px,#7d7d7d 286px,#595959 298px,#505050 309px,#505050 332px,#6b6b6b 349px,#7f7f7f 365px,#9a9a9a 376px,#999 388px,#888 400px,#838383 425px,#787878 436px,#545454 447px,#2a2a2a 460px,#191919 472px,#0d0d0d 490px,#0b0b0b 513px)"></i>
<i style="top:193px;height:4px;background:linear-gradient(90deg,#2d2d2d 0px,#404040 22px,#424242 36px,#3b3b3b 47px,#434343 70px,#5c5c5c 82px,#4e4e4e 115px,#393939 152px,#303030 210px,#2e2e2e 253px,#363636 255px,#4b4b4b 257px,#7e7e7e 260px,#959595 262px,#a0a0a0 265px,#9d9d9d 272px,#858585 281px,#5b5b5b 295px,#505050 304px,#505050 332px,#6c6c6c 349px,#808080 365px,#999 376px,#989898 387px,#898989 399px,#838383 424px,#7a7a7a 435px,#585858 446px,#2d2d2d 459px,#1c1c1c 469px,#0d0d0d 490px,#0b0b0b 513px)"></i>
<i style="top:197px;height:4px;background:linear-gradient(90deg,#2e2e2e 0px,#404040 22px,#414141 37px,#3c3c3c 49px,#444 70px,#5d5d5d 82px,#4f4f4f 114px,#3b3b3b 149px,#303030 204px,#2f2f2f 249px,#353535 251px,#484848 253px,#898989 257px,#9a9a9a 259px,#a1a1a1 263px,#989898 271px,#5d5d5d 293px,#4f4f4f 302px,#4f4f4f 332px,#6d6d6d 350px,#848484 366px,#999 376px,#979797 385px,#8a8a8a 399px,#848484 424px,#7a7a7a 435px,#545454 447px,#2a2a2a 460px,#1a1a1a 471px,#0d0d0d 490px,#0b0b0b 513px)"></i>
<i style="top:201px;height:4px;background:linear-gradient(90deg,#2e2e2e 0px,#414141 21px,#414141 37px,#3d3d3d 50px,#454545 70px,#5d5d5d 82px,#4f4f4f 114px,#3b3b3b 147px,#313131 200px,#313131 246px,#3a3a3a 248px,#535353 250px,#858585 253px,#999 255px,#a0a0a0 258px,#9b9b9b 266px,#585858 294px,#4e4e4e 303px,#4f4f4f 332px,#6e6e6e 350px,#858585 366px,#989898 376px,#959595 385px,#8b8b8b 398px,#848484 423px,#7a7a7a 435px,#4d4d4d 449px,#262626 462px,#0f0f0f 483px,#0b0b0b 513px)"></i>
<i style="top:205px;height:4px;background:linear-gradient(90deg,#2e2e2e 0px,#424242 21px,#404040 38px,#3e3e3e 53px,#474747 71px,#5e5e5e 82px,#505050 113px,#3c3c3c 145px,#313131 198px,#313131 242px,#393939 244px,#4f4f4f 246px,#828282 249px,#979797 251px,#a0a0a0 254px,#9c9c9c 262px,#555 295px,#4d4d4d 305px,#505050 333px,#6e6e6e 350px,#888 366px,#989898 375px,#959595 384px,#8b8b8b 398px,#858585 422px,#7c7c7c 434px,#545454 447px,#282828 461px,#181818 473px,#0c0c0c 491px,#0b0b0b 513px)"></i>
<i style="top:209px;height:4px;background:linear-gradient(90deg,#2e2e2e 0px,#424242 21px,#3f3f3f 55px,#484848 71px,#5e5e5e 82px,#505050 113px,#3d3d3d 144px,#313131 198px,#313131 238px,#383838 240px,#4c4c4c 242px,#8c8c8c 246px,#9b9b9b 248px,#a1a1a1 252px,#979797 261px,#515151 297px,#4d4d4d 310px,#505050 333px,#969696 373px,#959595 383px,#8a8a8a 397px,#858585 421px,#7b7b7b 434px,#505050 448px,#262626 462px,#111 481px,#0b0b0b 505px,#0b0b0b 513px)"></i>
<i style="top:213px;height:4px;background:linear-gradient(90deg,#2f2f2f 0px,#434343 21px,#404040 54px,#484848 71px,#5f5f5f 82px,#525252 112px,#3d3d3d 143px,#313131 198px,#313131 234px,#373737 236px,#484848 238px,#898989 242px,#9a9a9a 244px,#a1a1a1 248px,#989898 257px,#515151 297px,#4d4d4d 311px,#505050 333px,#6f6f6f 351px,#888 364px,#949494 371px,#929292 384px,#888 395px,#868686 419px,#7a7a7a 434px,#4c4c4c 449px,#242424 463px,#0d0d0d 488px,#0b0b0b 513px)"></i>
<i style="top:217px;height:4px;background:linear-gradient(90deg,#2f2f2f 0px,#434343 20px,#404040 54px,#494949 71px,#5f5f5f 82px,#525252 112px,#3d3d3d 142px,#323232 198px,#333 231px,#3c3c3c 233px,#535353 235px,#858585 238px,#999 240px,#a1a1a1 243px,#9d9d9d 251px,#7e7e7e 269px,#4e4e4e 300px,#4e4e4e 332px,#7f7f7f 360px,#939393 369px,#929292 383px,#858585 394px,#858585 419px,#7b7b7b 433px,#565656 446px,#262626 462px,#121212 480px,#0c0c0c 498px,#0b0b0b 513px)"></i>
<i style="top:221px;height:4px;background:linear-gradient(90deg,#2f2f2f 0px,#444 20px,#414141 53px,#494949 70px,#606060 82px,#535353 111px,#3e3e3e 141px,#323232 197px,#333 227px,#3a3a3a 229px,#4f4f4f 231px,#818181 234px,#979797 236px,#a1a1a1 239px,#9d9d9d 247px,#808080 265px,#6f6f6f 279px,#4e4e4e 300px,#4e4e4e 332px,#7f7f7f 360px,#939393 369px,#929292 382px,#828282 393px,#848484 419px,#7a7a7a 433px,#535353 447px,#242424 463px,#0d0d0d 488px,#0b0b0b 513px)"></i>
<i style="top:225px;height:4px;background:linear-gradient(90deg,#2f2f2f 0px,#454545 20px,#414141 51px,#4a4a4a 70px,#606060 82px,#535353 111px,#3e3e3e 141px,#323232 198px,#333 223px,#393939 225px,#4c4c4c 227px,#8b8b8b 231px,#9b9b9b 233px,#a2a2a2 237px,#999 246px,#808080 262px,#707070 278px,#4e4e4e 300px,#4e4e4e 332px,#7c7c7c 359px,#929292 369px,#919191 381px,#7f7f7f 392px,#838383 419px,#797979 433px,#525252 447px,#242424 463px,#0d0d0d 488px,#0b0b0b 513px)"></i>
<i style="top:229px;height:4px;background:linear-gradient(90deg,#303030 0px,#454545 20px,#414141 45px,#4a4a4a 69px,#616161 82px,#545454 110px,#3e3e3e 140px,#323232 197px,#343434 220px,#3e3e3e 222px,#575757 224px,#888 227px,#9a9a9a 229px,#a2a2a2 233px,#9a9a9a 242px,#838383 257px,#727272 277px,#4e4e4e 300px,#4e4e4e 332px,#7b7b7b 359px,#919191 369px,#929292 379px,#7b7b7b 392px,#828282 418px,#787878 433px,#525252 447px,#242424 463px,#0d0d0d 488px,#0b0b0b 513px)"></i>
<i style="top:233px;height:4px;background:linear-gradient(90deg,#303030 0px,#464646 20px,#424242 37px,#484848 67px,#575757 76px,#626262 83px,#545454 111px,#3e3e3e 140px,#323232 197px,#343434 216px,#3d3d3d 218px,#535353 220px,#858585 223px,#999 225px,#a1a1a1 228px,#9c9c9c 237px,#848484 253px,#747474 276px,#4e4e4e 300px,#4f4f4f 333px,#797979 358px,#909090 368px,#929292 378px,#787878 391px,#7b7b7b 403px,#828282 417px,#797979 432px,#555 446px,#242424 463px,#0d0d0d 488px,#0b0b0b 513px)"></i>
<i style="top:237px;height:4px;background:linear-gradient(90deg,#303030 0px,#474747 20px,#424242 35px,#494949 67px,#585858 76px,#626262 83px,#545454 111px,#3e3e3e 140px,#333 197px,#343434 212px,#3b3b3b 214px,#505050 216px,#818181 219px,#989898 221px,#a1a1a1 224px,#9d9d9d 233px,#858585 249px,#767676 275px,#4e4e4e 300px,#4f4f4f 333px,#767676 357px,#919191 368px,#919191 378px,#757575 391px,#787878 402px,#818181 416px,#787878 432px,#545454 446px,#242424 463px,#0d0d0d 488px,#0b0b0b 513px)"></i>
<i style="top:241px;height:4px;background:linear-gradient(90deg,#303030 0px,#474747 19px,#424242 35px,#4a4a4a 67px,#5b5b5b 77px,#636363 84px,#535353 112px,#3e3e3e 139px,#333 197px,#363636 209px,#414141 211px,#5b5b5b 213px,#8c8c8c 216px,#9c9c9c 218px,#a3a3a3 222px,#9b9b9b 231px,#858585 245px,#767676 275px,#4e4e4e 300px,#4f4f4f 333px,#767676 357px,#919191 368px,#919191 378px,#737373 390px,#737373 400px,#808080 416px,#777 432px,#515151 447px,#222 464px,#0d0d0d 488px,#0b0b0b 513px)"></i>
<i style="top:245px;height:4px;background:linear-gradient(90deg,#313131 0px,#484848 19px,#414141 34px,#4b4b4b 67px,#636363 82px,#565656 109px,#3f3f3f 139px,#333 197px,#363636 205px,#3f3f3f 207px,#575757 209px,#888 212px,#9b9b9b 214px,#a3a3a3 218px,#9a9a9a 228px,#848484 243px,#787878 274px,#4e4e4e 300px,#4f4f4f 333px,#737373 356px,#919191 367px,#929292 377px,#808080 384px,#707070 390px,#707070 399px,#7f7f7f 416px,#787878 431px,#545454 446px,#222 464px,#0d0d0d 488px,#0b0b0b 513px)"></i>
<i style="top:249px;height:4px;background:linear-gradient(90deg,#313131 0px,#494949 19px,#414141 34px,#4b4b4b 67px,#636363 82px,#575757 109px,#3f3f3f 139px,#343434 197px,#393939 202px,#474747 204px,#646464 206px,#858585 208px,#9a9a9a 210px,#a2a2a2 213px,#9f9f9f 222px,#838383 241px,#787878 274px,#4e4e4e 300px,#4f4f4f 333px,#737373 356px,#919191 367px,#919191 377px,#7f7f7f 384px,#6e6e6e 390px,#6e6e6e 399px,#7e7e7e 416px,#787878 431px,#535353 446px,#222 464px,#0d0d0d 488px,#0b0b0b 513px)"></i>
<i style="top:253px;height:4px;background:linear-gradient(90deg,#313131 0px,#494949 19px,#414141 33px,#4c4c4c 67px,#646464 82px,#565656 110px,#404040 139px,#363636 195px,#393939 198px,#454545 200px,#606060 202px,#8e8e8e 205px,#9d9d9d 207px,#a3a3a3 212px,#989898 223px,#838383 240px,#797979 273px,#4e4e4e 300px,#4f4f4f 333px,#737373 356px,#8f8f8f 367px,#909090 376px,#808080 383px,#6d6d6d 390px,#6e6e6e 400px,#7e7e7e 416px,#777 431px,#535353 446px,#222 464px,#0d0d0d 488px,#0b0b0b 513px)"></i>
<i style="top:257px;height:4px;background:linear-gradient(90deg,#323232 0px,#4a4a4a 19px,#414141 33px,#4d4d4d 67px,#646464 82px,#575757 110px,#424242 139px,#383838 192px,#3e3e3e 195px,#4e4e4e 197px,#8b8b8b 201px,#9c9c9c 203px,#a3a3a3 207px,#9b9b9b 218px,#838383 238px,#787878 273px,#4d4d4d 300px,#4f4f4f 333px,#727272 356px,#8f8f8f 368px,#8d8d8d 376px,#6d6d6d 390px,#6e6e6e 400px,#7e7e7e 416px,#777 431px,#535353 446px,#222 464px,#0d0d0d 488px,#0a0a0a 513px)"></i>
<i style="top:261px;height:4px;background:linear-gradient(90deg,#323232 0px,#4a4a4a 18px,#414141 33px,#4d4d4d 67px,#646464 82px,#575757 111px,#434343 140px,#3a3a3a 189px,#444 192px,#595959 194px,#888 197px,#9b9b9b 199px,#a3a3a3 203px,#9b9b9b 214px,#828282 237px,#787878 273px,#4d4d4d 300px,#4f4f4f 333px,#747474 357px,#8e8e8e 368px,#8c8c8c 376px,#6c6c6c 390px,#6e6e6e 400px,#7e7e7e 416px,#777 431px,#535353 446px,#222 464px,#0d0d0d 488px,#0a0a0a 513px)"></i>
<i style="top:265px;height:4px;background:linear-gradient(90deg,#323232 0px,#4a4a4a 18px,#414141 33px,#4e4e4e 67px,#646464 82px,#575757 111px,#444 140px,#3d3d3d 186px,#444 188px,#575757 190px,#919191 194px,#9e9e9e 196px,#a3a3a3 202px,#828282 237px,#797979 272px,#4d4d4d 300px,#4e4e4e 333px,#747474 357px,#8d8d8d 368px,#8b8b8b 376px,#6c6c6c 390px,#6e6e6e 400px,#7e7e7e 416px,#777 431px,#535353 446px,#222 464px,#0c0c0c 488px,#0a0a0a 513px)"></i>
<i style="top:269px;height:4px;background:linear-gradient(90deg,#323232 0px,#4b4b4b 18px,#414141 33px,#4f4f4f 67px,#656565 82px,#575757 112px,#464646 141px,#3f3f3f 182px,#444 184px,#555 186px,#8e8e8e 190px,#9d9d9d 192px,#a3a3a3 197px,#818181 238px,#797979 272px,#4d4d4d 300px,#4e4e4e 333px,#737373 357px,#8d8d8d 368px,#8a8a8a 376px,#6c6c6c 390px,#6e6e6e 400px,#7d7d7d 416px,#777 431px,#535353 446px,#222 464px,#0c0c0c 488px,#0a0a0a 513px)"></i>
<i style="top:273px;height:4px;background:linear-gradient(90deg,#333 0px,#4b4b4b 18px,#414141 33px,#4f4f4f 67px,#656565 82px,#575757 112px,#474747 141px,#424242 179px,#4a4a4a 181px,#5f5f5f 183px,#8b8b8b 186px,#9c9c9c 188px,#a3a3a3 192px,#9b9b9b 203px,#878787 228px,#7f7f7f 250px,#767676 274px,#4d4d4d 300px,#4e4e4e 333px,#737373 357px,#8c8c8c 368px,#8a8a8a 376px,#6b6b6b 390px,#6e6e6e 400px,#7d7d7d 416px,#777 431px,#535353 446px,#222 464px,#0c0c0c 488px,#0a0a0a 513px)"></i>
<i style="top:277px;height:4px;background:linear-gradient(90deg,#333 0px,#4c4c4c 17px,#424242 33px,#505050 67px,#656565 82px,#575757 113px,#484848 142px,#444 175px,#4b4b4b 177px,#5d5d5d 179px,#888 182px,#9b9b9b 184px,#a3a3a3 188px,#9c9c9c 199px,#8d8d8d 216px,#7f7f7f 246px,#777 273px,#4d4d4d 300px,#4e4e4e 333px,#737373 357px,#8c8c8c 368px,#898989 376px,#6b6b6b 390px,#6d6d6d 400px,#7d7d7d 416px,#777 431px,#535353 446px,#222 464px,#0c0c0c 488px,#0a0a0a 513px)"></i>
<i style="top:281px;height:4px;background:linear-gradient(90deg,#333 0px,#4c4c4c 17px,#424242 33px,#505050 67px,#656565 82px,#575757 114px,#494949 143px,#464646 171px,#4b4b4b 173px,#5b5b5b 175px,#919191 179px,#9e9e9e 181px,#a3a3a3 187px,#8e8e8e 211px,#7f7f7f 248px,#777 273px,#4c4c4c 300px,#4e4e4e 333px,#737373 357px,#8c8c8c 369px,#878787 377px,#6b6b6b 390px,#6d6d6d 400px,#7d7d7d 416px,#777 431px,#535353 446px,#222 464px,#0c0c0c 488px,#0a0a0a 513px)"></i>
<i style="top:285px;height:4px;background:linear-gradient(90deg,#343434 0px,#4d4d4d 17px,#424242 32px,#515151 67px,#666 82px,#575757 116px,#4b4b4b 145px,#494949 168px,#515151 170px,#666 172px,#8e8e8e 175px,#9d9d9d 177px,#a3a3a3 182px,#8e8e8e 208px,#7f7f7f 250px,#767676 274px,#4c4c4c 300px,#4e4e4e 333px,#727272 357px,#8c8c8c 369px,#878787 377px,#6b6b6b 390px,#6d6d6d 400px,#7d7d7d 416px,#777 431px,#535353 446px,#222 464px,#0c0c0c 488px,#0a0a0a 513px)"></i>
<i style="top:289px;height:4px;background:linear-gradient(90deg,#343434 0px,#4d4d4d 17px,#424242 32px,#525252 67px,#666 82px,#565656 119px,#4b4b4b 149px,#4b4b4b 164px,#525252 166px,#646464 168px,#8c8c8c 171px,#9c9c9c 173px,#a3a3a3 177px,#9c9c9c 188px,#8e8e8e 204px,#7e7e7e 252px,#757575 274px,#4c4c4c 300px,#4d4d4d 333px,#757575 358px,#8b8b8b 369px,#858585 378px,#6b6b6b 390px,#6d6d6d 400px,#7d7d7d 416px,#777 431px,#535353 446px,#222 464px,#0c0c0c 488px,#0a0a0a 513px)"></i>
<i style="top:293px;height:4px;background:linear-gradient(90deg,#343434 0px,#4d4d4d 16px,#424242 32px,#525252 67px,#666 82px,#535353 125px,#4d4d4d 160px,#595959 163px,#939393 168px,#9f9f9f 170px,#a3a3a3 176px,#8e8e8e 200px,#7e7e7e 255px,#747474 275px,#4c4c4c 300px,#4d4d4d 333px,#747474 358px,#8b8b8b 369px,#848484 378px,#6b6b6b 390px,#6d6d6d 400px,#7c7c7c 416px,#777 431px,#565656 445px,#222 464px,#0c0c0c 488px,#0a0a0a 513px)"></i>
<i style="top:297px;height:4px;background:linear-gradient(90deg,#343434 0px,#4e4e4e 16px,#424242 32px,#535353 67px,#666 82px,#4f4f4f 145px,#505050 157px,#585858 159px,#6c6c6c 161px,#919191 164px,#9e9e9e 166px,#a3a3a3 172px,#8e8e8e 196px,#7a7a7a 266px,#707070 277px,#4c4c4c 300px,#4c4c4c 332px,#747474 358px,#8a8a8a 369px,#848484 378px,#6a6a6a 390px,#6d6d6d 400px,#7c7c7c 416px,#767676 431px,#565656 445px,#222 464px,#0c0c0c 488px,#0a0a0a 513px)"></i>
<i style="top:301px;height:4px;background:linear-gradient(90deg,#353535 0px,#4f4f4f 16px,#424242 32px,#535353 67px,#676767 82px,#505050 145px,#515151 153px,#585858 155px,#6a6a6a 157px,#8f8f8f 160px,#9d9d9d 162px,#a3a3a3 167px,#959595 182px,#8c8c8c 203px,#858585 229px,#767676 273px,#4c4c4c 300px,#4c4c4c 332px,#656565 349px,#767676 359px,#8a8a8a 369px,#838383 378px,#6a6a6a 390px,#6d6d6d 401px,#7c7c7c 416px,#767676 431px,#565656 445px,#222 464px,#0c0c0c 488px,#0a0a0a 513px)"></i>
<i style="top:305px;height:4px;background:linear-gradient(90deg,#353535 0px,#4f4f4f 16px,#424242 32px,#545454 67px,#676767 82px,#525252 145px,#555 150px,#5f5f5f 152px,#959595 157px,#a1a1a1 160px,#a1a1a1 169px,#8f8f8f 188px,#868686 227px,#767676 273px,#4b4b4b 300px,#4c4c4c 332px,#656565 349px,#767676 359px,#898989 369px,#838383 378px,#6a6a6a 390px,#6d6d6d 401px,#7c7c7c 416px,#767676 431px,#565656 445px,#222 464px,#0c0c0c 488px,#0a0a0a 513px)"></i>
<i style="top:309px;height:4px;background:linear-gradient(90deg,#353535 0px,#505050 16px,#424242 32px,#555 67px,#676767 82px,#545454 143px,#595959 147px,#676767 149px,#939393 153px,#a1a1a1 156px,#a1a1a1 165px,#8f8f8f 184px,#868686 227px,#757575 273px,#4b4b4b 300px,#4c4c4c 332px,#646464 348px,#737373 358px,#898989 369px,#838383 378px,#6a6a6a 390px,#6d6d6d 401px,#7c7c7c 416px,#767676 431px,#565656 445px,#222 464px,#0c0c0c 488px,#0a0a0a 513px)"></i>
<i style="top:313px;height:4px;background:linear-gradient(90deg,#363636 0px,#515151 16px,#424242 31px,#545454 66px,#676767 82px,#565656 141px,#5e5e5e 144px,#7b7b7b 147px,#999 150px,#a2a2a2 153px,#9f9f9f 163px,#8f8f8f 181px,#868686 226px,#757575 273px,#4b4b4b 300px,#4c4c4c 332px,#646464 348px,#737373 358px,#888 369px,#828282 378px,#6a6a6a 390px,#6d6d6d 401px,#7c7c7c 416px,#767676 431px,#565656 445px,#222 464px,#0c0c0c 488px,#0a0a0a 513px)"></i>
<i style="top:317px;height:4px;background:linear-gradient(90deg,#363636 0px,#515151 16px,#424242 31px,#555 66px,#686868 82px,#585858 138px,#646464 141px,#979797 146px,#a2a2a2 149px,#9f9f9f 159px,#8f8f8f 177px,#868686 226px,#757575 273px,#4b4b4b 300px,#4b4b4b 332px,#646464 348px,#737373 358px,#888 369px,#828282 378px,#696969 390px,#6d6d6d 401px,#7c7c7c 416px,#767676 431px,#565656 445px,#222 464px,#0b0b0b 488px,#0a0a0a 513px)"></i>
<i style="top:321px;height:4px;background:linear-gradient(90deg,#363636 0px,#515151 15px,#4c4c4c 22px,#424242 31px,#555 66px,#686868 82px,#5a5a5a 134px,#646464 137px,#969696 142px,#a1a1a1 145px,#a1a1a1 154px,#8f8f8f 173px,#868686 226px,#757575 273px,#4b4b4b 300px,#4b4b4b 332px,#646464 348px,#727272 358px,#878787 369px,#818181 378px,#696969 390px,#6d6d6d 401px,#7b7b7b 416px,#767676 431px,#565656 445px,#222 464px,#0b0b0b 488px,#0a0a0a 513px)"></i>
<i style="top:325px;height:4px;background:linear-gradient(90deg,#363636 0px,#525252 15px,#4c4c4c 22px,#424242 31px,#565656 66px,#686868 83px,#5b5b5b 130px,#636363 133px,#7f7f7f 136px,#9a9a9a 139px,#a3a3a3 143px,#9d9d9d 154px,#8f8f8f 171px,#878787 225px,#747474 273px,#4b4b4b 300px,#4b4b4b 332px,#646464 348px,#727272 358px,#878787 369px,#818181 378px,#696969 390px,#6c6c6c 401px,#7b7b7b 416px,#767676 431px,#565656 445px,#222 464px,#0b0b0b 488px,#0a0a0a 513px)"></i>
<i style="top:329px;height:4px;background:linear-gradient(90deg,#373737 0px,#535353 15px,#4d4d4d 22px,#424242 31px,#575757 66px,#696969 83px,#5e5e5e 127px,#6a6a6a 130px,#999 135px,#a2a2a2 138px,#9f9f9f 148px,#8f8f8f 166px,#878787 225px,#747474 273px,#4a4a4a 300px,#4b4b4b 332px,#646464 348px,#727272 358px,#868686 369px,#818181 378px,#696969 390px,#6c6c6c 401px,#7b7b7b 416px,#767676 431px,#565656 445px,#222 464px,#0b0b0b 488px,#0a0a0a 513px)"></i>
<i style="top:333px;height:4px;background:linear-gradient(90deg,#373737 0px,#535353 15px,#4d4d4d 22px,#424242 31px,#575757 66px,#696969 83px,#5f5f5f 123px,#696969 126px,#979797 131px,#a2a2a2 134px,#a0a0a0 144px,#909090 162px,#878787 225px,#747474 273px,#4a4a4a 300px,#4b4b4b 332px,#646464 348px,#727272 358px,#868686 369px,#808080 378px,#696969 390px,#6c6c6c 401px,#7b7b7b 416px,#767676 431px,#565656 445px,#222 464px,#0b0b0b 488px,#0a0a0a 513px)"></i>
<i style="top:337px;height:4px;background:linear-gradient(90deg,#373737 0px,#545454 15px,#4d4d4d 22px,#424242 31px,#585858 66px,#696969 83px,#606060 119px,#696969 122px,#969696 127px,#a2a2a2 130px,#a1a1a1 139px,#909090 158px,#878787 225px,#747474 273px,#4a4a4a 300px,#4b4b4b 332px,#636363 347px,#717171 358px,#868686 369px,#808080 378px,#696969 390px,#6c6c6c 401px,#7b7b7b 416px,#767676 431px,#565656 445px,#222 464px,#0b0b0b 488px,#0a0a0a 513px)"></i>
<i style="top:341px;height:4px;background:linear-gradient(90deg,#383838 0px,#555 15px,#4d4d4d 22px,#424242 31px,#585858 66px,#696969 83px,#626262 116px,#6f6f6f 119px,#959595 123px,#a2a2a2 126px,#a0a0a0 136px,#909090 155px,#878787 225px,#737373 273px,#4a4a4a 300px,#4a4a4a 332px,#636363 347px,#717171 358px,#858585 369px,#7f7f7f 378px,#686868 390px,#6c6c6c 401px,#7b7b7b 416px,#767676 431px,#565656 445px,#222 464px,#0b0b0b 488px,#0a0a0a 513px)"></i>
<i style="top:345px;height:4px;background:linear-gradient(90deg,#383838 0px,#555 15px,#4e4e4e 22px,#434343 30px,#585858 65px,#6a6a6a 83px,#636363 112px,#6f6f6f 115px,#9b9b9b 120px,#a4a4a4 124px,#9c9c9c 136px,#8f8f8f 153px,#878787 225px,#737373 273px,#4a4a4a 300px,#4a4a4a 332px,#636363 347px,#717171 358px,#858585 369px,#7f7f7f 378px,#686868 390px,#6c6c6c 401px,#7a7a7a 416px,#767676 431px,#565656 445px,#222 464px,#0b0b0b 488px,#0a0a0a 513px)"></i>
<i style="top:349px;height:4px;background:linear-gradient(90deg,#393939 0px,#565656 15px,#4e4e4e 22px,#434343 30px,#595959 65px,#6a6a6a 83px,#646464 108px,#6f6f6f 111px,#9b9b9b 116px,#a4a4a4 119px,#a1a1a1 129px,#909090 147px,#868686 225px,#737373 273px,#4a4a4a 300px,#4a4a4a 332px,#636363 347px,#707070 358px,#848484 369px,#7f7f7f 378px,#686868 390px,#6b6b6b 401px,#7a7a7a 416px,#757575 431px,#565656 445px,#222 464px,#0b0b0b 488px,#0a0a0a 513px)"></i>
<i style="top:353px;height:4px;background:linear-gradient(90deg,#3a3a3a 0px,#565656 15px,#4f4f4f 22px,#444 31px,#5b5b5b 66px,#6b6b6b 83px,#676767 105px,#777 108px,#9b9b9b 112px,#a4a4a4 115px,#a2a2a2 125px,#919191 142px,#868686 225px,#737373 273px,#494949 300px,#4a4a4a 332px,#636363 347px,#707070 358px,#848484 369px,#7e7e7e 378px,#686868 390px,#6b6b6b 401px,#7a7a7a 416px,#757575 431px,#565656 445px,#222 464px,#0b0b0b 488px,#0a0a0a 513px)"></i>
<i style="top:357px;height:4px;background:linear-gradient(90deg,#3b3b3b 0px,#575757 15px,#454545 31px,#5c5c5c 66px,#6b6b6b 83px,#696969 101px,#777 104px,#9c9c9c 108px,#a6a6a6 111px,#a1a1a1 123px,#919191 138px,#868686 225px,#727272 273px,#494949 300px,#4a4a4a 332px,#636363 347px,#707070 358px,#838383 369px,#7e7e7e 378px,#686868 390px,#6b6b6b 401px,#7a7a7a 416px,#757575 431px,#565656 445px,#222 464px,#0b0b0b 488px,#0a0a0a 513px)"></i>
<i style="top:361px;height:4px;background:linear-gradient(90deg,#3c3c3c 0px,#575757 15px,#474747 31px,#5e5e5e 67px,#6c6c6c 83px,#6a6a6a 97px,#777 100px,#9d9d9d 104px,#a7a7a7 107px,#a2a2a2 120px,#919191 135px,#868686 225px,#727272 273px,#494949 300px,#4a4a4a 332px,#636363 347px,#707070 358px,#838383 369px,#7d7d7d 378px,#676767 390px,#6b6b6b 401px,#7a7a7a 416px,#757575 431px,#565656 445px,#222 464px,#0b0b0b 488px,#0a0a0a 513px)"></i>
<i style="top:365px;height:4px;background:linear-gradient(90deg,#3d3d3d 0px,#585858 15px,#484848 31px,#5f5f5f 67px,#6c6c6c 83px,#6e6e6e 94px,#777 96px,#9e9e9e 100px,#a9a9a9 103px,#a4a4a4 116px,#909090 134px,#868686 225px,#727272 273px,#484848 301px,#4a4a4a 332px,#626262 347px,#6f6f6f 358px,#828282 369px,#7d7d7d 378px,#676767 390px,#6b6b6b 401px,#7a7a7a 416px,#757575 431px,#565656 445px,#222 464px,#0b0b0b 488px,#0a0a0a 513px)"></i>
<i style="top:369px;height:4px;background:linear-gradient(90deg,#3e3e3e 0px,#585858 15px,#494949 31px,#616161 68px,#6d6d6d 83px,#6f6f6f 90px,#777 92px,#a5a5a5 97px,#ababab 100px,#a5a5a5 114px,#909090 133px,#868686 225px,#727272 273px,#484848 301px,#494949 332px,#626262 347px,#6f6f6f 358px,#828282 369px,#7d7d7d 378px,#676767 390px,#6b6b6b 401px,#7a7a7a 416px,#757575 431px,#565656 445px,#222 464px,#0a0a0a 488px,#0a0a0a 513px)"></i>
<i style="top:373px;height:4px;background:linear-gradient(90deg,#404040 0px,#595959 15px,#4a4a4a 31px,#616161 68px,#727272 87px,#7f7f7f 89px,#a6a6a6 93px,#adadad 96px,#a9a9a9 111px,#909090 132px,#868686 225px,#717171 273px,#484848 301px,#494949 332px,#626262 347px,#6f6f6f 358px,#818181 369px,#7c7c7c 378px,#676767 390px,#6a6a6a 401px,#797979 416px,#757575 431px,#565656 445px,#222 464px,#0a0a0a 488px,#0a0a0a 513px)"></i>
<i style="top:377px;height:4px;background:linear-gradient(90deg,#414141 0px,#595959 15px,#4c4c4c 31px,#626262 68px,#727272 83px,#7d7d7d 85px,#a5a5a5 89px,#aeaeae 92px,#adadad 109px,#909090 131px,#868686 225px,#717171 273px,#484848 301px,#494949 332px,#626262 347px,#6f6f6f 358px,#818181 369px,#7c7c7c 378px,#676767 390px,#6a6a6a 401px,#797979 416px,#757575 431px,#565656 445px,#222 464px,#0a0a0a 488px,#0a0a0a 513px)"></i>
<i style="top:381px;height:4px;background:linear-gradient(90deg,#424242 0px,#5a5a5a 15px,#4d4d4d 32px,#656565 70px,#717171 79px,#848484 82px,#a3a3a3 85px,#adadad 87px,#b3b3b3 106px,#919191 129px,#868686 225px,#707070 273px,#484848 301px,#494949 332px,#626262 347px,#6e6e6e 358px,#818181 369px,#7c7c7c 378px,#676767 390px,#6a6a6a 401px,#797979 416px,#757575 431px,#565656 445px,#222 464px,#0a0a0a 488px,#0a0a0a 513px)"></i>
<i style="top:385px;height:4px;background:linear-gradient(90deg,#434343 0px,#5a5a5a 15px,#4e4e4e 32px,#666 70px,#717171 76px,#808080 78px,#a0a0a0 81px,#acacac 83px,#b9b9b9 104px,#949494 126px,#8e8e8e 140px,#868686 224px,#707070 273px,#484848 301px,#494949 332px,#626262 347px,#6e6e6e 358px,#818181 369px,#7c7c7c 378px,#666 390px,#6a6a6a 401px,#797979 416px,#757575 431px,#565656 445px,#222 464px,#0a0a0a 488px,#0a0a0a 513px)"></i>
<i style="top:389px;height:4px;background:linear-gradient(90deg,#444 0px,#5b5b5b 16px,#4f4f4f 31px,#666 69px,#707070 73px,#818181 75px,#a3a3a3 78px,#acacac 80px,#bbb 95px,#bfbfbf 103px,#afafaf 111px,#9a9a9a 122px,#8f8f8f 134px,#868686 224px,#707070 273px,#484848 301px,#494949 332px,#626262 347px,#6e6e6e 358px,#808080 369px,#7b7b7b 378px,#666 390px,#6a6a6a 401px,#797979 416px,#757575 431px,#565656 445px,#222 464px,#0a0a0a 488px,#0a0a0a 513px)"></i>
<i style="top:393px;height:4px;background:linear-gradient(90deg,#454545 0px,#5c5c5c 16px,#515151 32px,#666 67px,#717171 70px,#a0a0a0 75px,#acacac 78px,#bdbdbd 91px,#c6c6c6 99px,#bebebe 106px,#a0a0a0 118px,#8f8f8f 132px,#858585 225px,#6f6f6f 273px,#484848 301px,#494949 332px,#616161 347px,#6e6e6e 358px,#808080 369px,#7b7b7b 378px,#666 390px,#6a6a6a 401px,#797979 416px,#757575 431px,#565656 445px,#222 464px,#0a0a0a 488px,#0a0a0a 513px)"></i>
<i style="top:397px;height:4px;background:linear-gradient(90deg,#474747 0px,#5c5c5c 16px,#525252 32px,#666 64px,#737373 67px,#9c9c9c 72px,#b1b1b1 80px,#ccc 95px,#c7c7c7 103px,#a0a0a0 118px,#8f8f8f 132px,#858585 225px,#707070 272px,#484848 301px,#494949 332px,#616161 347px,#6e6e6e 358px,#808080 369px,#7b7b7b 378px,#666 390px,#696969 401px,#787878 416px,#747474 431px,#565656 445px,#222 464px,#0a0a0a 488px,#0a0a0a 513px)"></i>
<i style="top:401px;height:4px;background:linear-gradient(90deg,#484848 0px,#5d5d5d 16px,#535353 32px,#636363 60px,#6f6f6f 63px,#979797 68px,#ccc 89px,#d2d2d2 96px,#c7c7c7 104px,#a2a2a2 117px,#8f8f8f 132px,#858585 225px,#707070 272px,#484848 301px,#494949 332px,#616161 347px,#6d6d6d 358px,#7f7f7f 369px,#7b7b7b 378px,#666 390px,#696969 401px,#787878 416px,#747474 431px,#565656 445px,#212121 464px,#0a0a0a 488px,#0a0a0a 513px)"></i>
<i style="top:405px;height:4px;background:linear-gradient(90deg,#494949 0px,#5d5d5d 16px,#545454 32px,#646464 57px,#737373 60px,#949494 64px,#9d9d9d 68px,#a6a6a6 74px,#c6c6c6 82px,#d7d7d7 91px,#d3d3d3 99px,#bcbcbc 108px,#a2a2a2 117px,#8f8f8f 132px,#858585 225px,#6f6f6f 272px,#474747 301px,#494949 332px,#616161 347px,#6d6d6d 358px,#7f7f7f 369px,#7a7a7a 378px,#666 390px,#696969 401px,#787878 416px,#747474 431px,#555 445px,#212121 464px,#0a0a0a 488px,#0a0a0a 513px)"></i>
<i style="top:409px;height:4px;background:linear-gradient(90deg,#4a4a4a 0px,#5e5e5e 16px,#555 32px,#626262 53px,#707070 56px,#929292 60px,#9c9c9c 63px,#a1a1a1 72px,#b3b3b3 76px,#cbcbcb 81px,#dcdcdc 90px,#d6d6d6 98px,#c0c0c0 107px,#a2a2a2 117px,#8f8f8f 132px,#848484 225px,#6f6f6f 272px,#474747 301px,#4a4a4a 333px,#616161 347px,#6d6d6d 358px,#7f7f7f 369px,#7a7a7a 378px,#656565 390px,#696969 401px,#787878 416px,#747474 431px,#555 445px,#212121 464px,#0a0a0a 488px,#0a0a0a 513px)"></i>
<i style="top:413px;height:4px;background:linear-gradient(90deg,#4b4b4b 0px,#5e5e5e 16px,#575757 33px,#616161 49px,#6d6d6d 52px,#909090 56px,#9b9b9b 59px,#9f9f9f 71px,#b0b0b0 75px,#cfcfcf 80px,#dedede 87px,#ddd 94px,#c7c7c7 105px,#a4a4a4 116px,#8f8f8f 131px,#848484 225px,#6e6e6e 272px,#474747 301px,#4a4a4a 333px,#616161 347px,#6d6d6d 358px,#7f7f7f 370px,#787878 379px,#656565 390px,#696969 401px,#787878 416px,#747474 431px,#555 445px,#212121 464px,#0a0a0a 488px,#0a0a0a 513px)"></i>
<i style="top:417px;height:4px;background:linear-gradient(90deg,#4c4c4c 0px,#5f5f5f 16px,#585858 33px,#626262 46px,#727272 49px,#949494 53px,#9c9c9c 57px,#9e9e9e 70px,#a7a7a7 73px,#d0d0d0 79px,#ddd 83px,#e2e2e2 91px,#cdcdcd 103px,#a2a2a2 117px,#8f8f8f 132px,#848484 225px,#6e6e6e 272px,#474747 301px,#4a4a4a 333px,#606060 347px,#6d6d6d 358px,#7f7f7f 370px,#787878 379px,#656565 390px,#696969 401px,#787878 416px,#747474 431px,#555 445px,#212121 464px,#0a0a0a 488px,#0a0a0a 513px)"></i>
<i style="top:421px;height:4px;background:linear-gradient(90deg,#4e4e4e 0px,#5f5f5f 17px,#5a5a5a 33px,#606060 42px,#6f6f6f 45px,#929292 49px,#9b9b9b 52px,#9e9e9e 70px,#a8a8a8 73px,#d5d5d5 79px,#e0e0e0 83px,#e2e2e2 92px,#cbcbcb 104px,#a4a4a4 116px,#8f8f8f 131px,#848484 225px,#6f6f6f 271px,#474747 301px,#4a4a4a 333px,#606060 347px,#6e6e6e 359px,#7e7e7e 370px,#787878 379px,#656565 390px,#686868 401px,#787878 416px,#747474 431px,#555 445px,#212121 464px,#0a0a0a 488px,#0a0a0a 513px)"></i>
<i style="top:425px;height:4px;background:linear-gradient(90deg,#4f4f4f 0px,#606060 17px,#5b5b5b 33px,#616161 39px,#757575 42px,#8f8f8f 45px,#9a9a9a 48px,#9c9c9c 69px,#a4a4a4 72px,#c2c2c2 76px,#d8d8d8 79px,#e2e2e2 83px,#e2e2e2 92px,#cbcbcb 104px,#a4a4a4 116px,#8f8f8f 131px,#848484 225px,#6e6e6e 271px,#474747 301px,#4a4a4a 333px,#606060 347px,#6e6e6e 359px,#7e7e7e 370px,#787878 379px,#656565 390px,#686868 401px,#777 416px,#747474 431px,#555 445px,#212121 464px,#0a0a0a 488px,#0a0a0a 513px)"></i>
<i style="top:429px;height:4px;background:linear-gradient(90deg,#505050 0px,#606060 17px,#5d5d5d 33px,#646464 36px,#7b7b7b 39px,#939393 42px,#9b9b9b 46px,#9a9a9a 68px,#a4a4a4 72px,#c3c3c3 76px,#dadada 79px,#e4e4e4 83px,#e0e0e0 93px,#c8c8c8 105px,#a5a5a5 116px,#8f8f8f 131px,#848484 225px,#6e6e6e 271px,#474747 301px,#4a4a4a 333px,#606060 347px,#6e6e6e 359px,#7e7e7e 370px,#777 379px,#656565 390px,#686868 401px,#777 416px,#747474 431px,#555 445px,#212121 464px,#0a0a0a 488px,#0a0a0a 513px)"></i>
<i style="top:433px;height:4px;background:linear-gradient(90deg,#515151 0px,#616161 17px,#5d5d5d 30px,#676767 33px,#919191 38px,#9a9a9a 41px,#999 67px,#a0a0a0 71px,#b2b2b2 74px,#d5d5d5 78px,#e2e2e2 81px,#e2e2e2 91px,#cbcbcb 104px,#a3a3a3 117px,#8f8f8f 132px,#838383 225px,#6d6d6d 271px,#474747 301px,#4a4a4a 333px,#606060 347px,#6e6e6e 359px,#7d7d7d 370px,#777 379px,#646464 390px,#686868 401px,#777 416px,#747474 431px,#555 445px,#212121 464px,#0a0a0a 488px,#0a0a0a 513px)"></i>
<i style="top:437px;height:4px;background:linear-gradient(90deg,#525252 0px,#616161 18px,#606060 27px,#6c6c6c 30px,#8f8f8f 34px,#999 37px,#979797 66px,#a0a0a0 71px,#b3b3b3 74px,#d6d6d6 78px,#e2e2e2 81px,#e2e2e2 91px,#cbcbcb 104px,#a3a3a3 117px,#8f8f8f 131px,#838383 225px,#6e6e6e 270px,#474747 301px,#4a4a4a 333px,#606060 347px,#6d6d6d 359px,#7d7d7d 370px,#777 379px,#646464 390px,#686868 401px,#777 416px,#747474 431px,#555 445px,#212121 464px,#0a0a0a 488px,#0a0a0a 513px)"></i>
<i style="top:441px;height:4px;background:linear-gradient(90deg,#535353 0px,#626262 18px,#636363 24px,#737373 27px,#939393 31px,#9a9a9a 35px,#959595 64px,#9c9c9c 70px,#ababab 73px,#d6d6d6 78px,#e2e2e2 81px,#e1e1e1 91px,#cbcbcb 104px,#a3a3a3 117px,#8f8f8f 131px,#838383 225px,#6e6e6e 270px,#464646 302px,#4a4a4a 333px,#5f5f5f 347px,#6d6d6d 359px,#7d7d7d 370px,#777 379px,#646464 390px,#686868 401px,#777 416px,#737373 431px,#555 445px,#212121 464px,#0a0a0a 488px,#0a0a0a 513px)"></i>
<i style="top:445px;height:4px;background:linear-gradient(90deg,#555 0px,#676767 21px,#7a7a7a 24px,#919191 27px,#999 30px,#939393 63px,#9c9c9c 70px,#ababab 73px,#d6d6d6 78px,#e2e2e2 81px,#dfdfdf 92px,#cbcbcb 104px,#a3a3a3 117px,#8f8f8f 131px,#838383 225px,#6d6d6d 270px,#464646 302px,#4a4a4a 333px,#5f5f5f 347px,#6d6d6d 359px,#7c7c7c 370px,#767676 379px,#646464 390px,#676767 401px,#777 416px,#737373 431px,#555 445px,#212121 464px,#0a0a0a 488px,#0a0a0a 513px)"></i>
<i style="top:449px;height:4px;background:linear-gradient(90deg,#565656 0px,#676767 17px,#787878 20px,#909090 23px,#999 26px,#929292 61px,#9c9c9c 70px,#ababab 73px,#d6d6d6 78px,#e1e1e1 81px,#dfdfdf 92px,#cbcbcb 104px,#a3a3a3 117px,#8f8f8f 131px,#838383 225px,#6e6e6e 269px,#464646 302px,#4a4a4a 333px,#5f5f5f 347px,#6d6d6d 359px,#7c7c7c 370px,#767676 379px,#646464 390px,#676767 401px,#777 416px,#737373 431px,#555 445px,#212121 464px,#0a0a0a 488px,#0a0a0a 513px)"></i>
<i style="top:453px;height:4px;background:linear-gradient(90deg,#575757 0px,#656565 13px,#767676 16px,#939393 20px,#999 24px,#909090 57px,#979797 68px,#a4a4a4 72px,#d5d5d5 78px,#e1e1e1 81px,#dedede 92px,#ccc 104px,#a3a3a3 117px,#8f8f8f 131px,#838383 225px,#6d6d6d 269px,#464646 302px,#4a4a4a 333px,#5f5f5f 347px,#6c6c6c 359px,#7c7c7c 370px,#767676 379px,#646464 390px,#676767 401px,#767676 416px,#737373 431px,#545454 445px,#202020 464px,#0a0a0a 488px,#0a0a0a 513px)"></i>
<i style="top:457px;height:4px;background:linear-gradient(90deg,#585858 0px,#626262 9px,#727272 12px,#929292 16px,#999 20px,#8f8f8f 53px,#969696 67px,#9f9f9f 71px,#b2b2b2 74px,#d5d5d5 78px,#e0e0e0 81px,#dcdcdc 93px,#ccc 104px,#a3a3a3 117px,#8f8f8f 131px,#838383 225px,#6d6d6d 269px,#464646 302px,#4a4a4a 333px,#5f5f5f 347px,#6c6c6c 359px,#7c7c7c 370px,#767676 379px,#636363 390px,#676767 401px,#767676 416px,#737373 431px,#545454 445px,#202020 464px,#0a0a0a 488px,#0a0a0a 513px)"></i>
<i style="top:461px;height:4px;background:linear-gradient(90deg,#595959 0px,#5f5f5f 5px,#6e6e6e 8px,#909090 12px,#989898 15px,#8e8e8e 50px,#949494 66px,#9f9f9f 71px,#b2b2b2 74px,#d5d5d5 78px,#e0e0e0 81px,#dcdcdc 93px,#ccc 104px,#a4a4a4 117px,#8f8f8f 131px,#828282 225px,#6c6c6c 269px,#464646 302px,#4a4a4a 333px,#5f5f5f 347px,#6c6c6c 359px,#7b7b7b 370px,#767676 379px,#636363 390px,#676767 401px,#767676 416px,#737373 431px,#545454 445px,#202020 464px,#0a0a0a 488px,#0a0a0a 513px)"></i>
<i style="top:465px;height:4px;background:linear-gradient(90deg,#5b5b5b 0px,#646464 3px,#8d8d8d 8px,#979797 11px,#8d8d8d 47px,#949494 66px,#9f9f9f 71px,#b2b2b2 74px,#d4d4d4 78px,#dfdfdf 81px,#dadada 94px,#ccc 104px,#a4a4a4 117px,#8f8f8f 131px,#828282 225px,#6d6d6d 268px,#464646 302px,#4a4a4a 333px,#5e5e5e 347px,#6c6c6c 359px,#7b7b7b 370px,#757575 379px,#636363 390px,#676767 401px,#767676 416px,#737373 431px,#545454 445px,#202020 464px,#0a0a0a 488px,#0a0a0a 513px)"></i>
<i style="top:469px;height:4px;background:linear-gradient(90deg,#6a6a6a 0px,#919191 5px,#989898 9px,#8c8c8c 41px,#929292 65px,#9f9f9f 71px,#b2b2b2 74px,#d4d4d4 78px,#dfdfdf 81px,#d9d9d9 95px,#ccc 104px,#a4a4a4 117px,#8f8f8f 131px,#828282 225px,#6d6d6d 268px,#464646 302px,#4a4a4a 333px,#5e5e5e 347px,#6c6c6c 359px,#7b7b7b 370px,#757575 379px,#636363 390px,#666 401px,#767676 416px,#737373 431px,#545454 445px,#202020 464px,#0a0a0a 488px,#0a0a0a 513px)"></i>
<i style="top:473px;height:4px;background:linear-gradient(90deg,#8d8d8d 0px,#979797 4px,#8a8a8a 38px,#929292 65px,#9e9e9e 71px,#b2b2b2 74px,#d4d4d4 78px,#dedede 81px,#d7d7d7 96px,#c9c9c9 105px,#a4a4a4 117px,#8f8f8f 131px,#818181 226px,#6c6c6c 268px,#464646 302px,#4a4a4a 333px,#5f5f5f 348px,#6d6d6d 360px,#7a7a7a 370px,#757575 379px,#636363 390px,#666 401px,#767676 416px,#737373 431px,#545454 445px,#202020 464px,#0a0a0a 488px,#0a0a0a 513px)"></i>
<i style="top:477px;height:4px;background:linear-gradient(90deg,#979797 0px,#898989 34px,#919191 65px,#9e9e9e 71px,#b2b2b2 74px,#d3d3d3 78px,#dedede 81px,#d5d5d5 98px,#c9c9c9 105px,#a4a4a4 117px,#8f8f8f 131px,#818181 226px,#6c6c6c 268px,#464646 302px,#4a4a4a 333px,#5f5f5f 348px,#6d6d6d 360px,#7a7a7a 370px,#757575 379px,#636363 390px,#666 401px,#757575 416px,#737373 431px,#545454 445px,#202020 464px,#0a0a0a 488px,#0a0a0a 513px)"></i>
<i style="top:481px;height:4px;background:linear-gradient(90deg,#969696 0px,#888 29px,#909090 64px,#9e9e9e 71px,#b1b1b1 74px,#d3d3d3 78px,#ddd 81px,#d4d4d4 99px,#c7c7c7 106px,#a4a4a4 117px,#8f8f8f 131px,#818181 226px,#6c6c6c 267px,#505050 292px,#464646 303px,#4a4a4a 333px,#5e5e5e 348px,#6d6d6d 360px,#7a7a7a 370px,#747474 379px,#626262 390px,#666 401px,#757575 417px,#737373 431px,#545454 445px,#202020 464px,#0a0a0a 488px,#0a0a0a 513px)"></i>
<i style="top:485px;height:4px;background:linear-gradient(90deg,#929292 0px,#878787 29px,#8f8f8f 64px,#9e9e9e 71px,#b1b1b1 74px,#d2d2d2 78px,#ddd 81px,#d2d2d2 101px,#c0c0c0 108px,#a4a4a4 117px,#8f8f8f 131px,#818181 226px,#6c6c6c 267px,#505050 292px,#454545 303px,#4a4a4a 333px,#5e5e5e 348px,#6e6e6e 361px,#7a7a7a 371px,#727272 380px,#626262 391px,#676767 402px,#757575 417px,#737373 431px,#545454 445px,#202020 464px,#0a0a0a 488px,#0a0a0a 513px)"></i>
<i style="top:489px;height:7px;background:linear-gradient(90deg,#8d8d8d 0px,#878787 31px,#8f8f8f 64px,#9e9e9e 71px,#b1b1b1 74px,#d2d2d2 78px,#dcdcdc 81px,#d0d0d0 102px,#a3a3a3 118px,#8f8f8f 132px,#818181 226px,#6c6c6c 267px,#505050 292px,#454545 303px,#4a4a4a 333px,#5e5e5e 348px,#6e6e6e 361px,#797979 371px,#727272 380px,#626262 391px,#676767 402px,#757575 417px,#727272 431px,#545454 445px,#202020 464px,#0a0a0a 488px,#0a0a0a 513px)"></i>
</div></div>
<div style="position:absolute;left:1748px;top:47px;width:39px;height:993px;background:linear-gradient(0deg,#000080 -0.78%,#0000ff 11.87%,#0080ff 24.51%,#00ffff 37.16%,#80ff80 49.80%,#ffff00 62.45%,#ff8000 75.09%,#ff0000 87.74%,#800000 100.38%);border-right:1px solid #333;border-left:1px solid #777;border-top:1px solid #555;border-bottom:1px solid #555;box-sizing:border-box"></div>
<div style="position:absolute;left:1780px;top:946.5px;width:7px;height:1.6px;background:#333"></div>
<div style="position:absolute;left:1780px;top:846.0px;width:7px;height:1.6px;background:#333"></div>
<div style="position:absolute;left:1780px;top:745.5px;width:7px;height:1.6px;background:#333"></div>
<div style="position:absolute;left:1780px;top:645.1px;width:7px;height:1.6px;background:#333"></div>
<div style="position:absolute;left:1780px;top:544.6px;width:7px;height:1.6px;background:#333"></div>
<div style="position:absolute;left:1780px;top:444.2px;width:7px;height:1.6px;background:#333"></div>
<div style="position:absolute;left:1780px;top:343.8px;width:7px;height:1.6px;background:#333"></div>
<div style="position:absolute;left:1780px;top:243.3px;width:7px;height:1.6px;background:#333"></div>
<div style="position:absolute;left:1780px;top:142.8px;width:7px;height:1.6px;background:#333"></div>
<svg width="1850" height="1142" viewBox="0 0 1850 1142">
<defs>
<clipPath id="ca"><rect x="131" y="48" width="514" height="486"/></clipPath>
<clipPath id="cb"><rect x="673" y="49" width="516" height="487"/></clipPath>
<clipPath id="cc"><rect x="1218" y="48" width="514" height="490"/></clipPath>
<clipPath id="cd"><rect x="130" y="554" width="514" height="487"/></clipPath>
<clipPath id="ce"><rect x="672" y="554" width="515" height="489"/></clipPath>
<clipPath id="cf"><rect x="1216" y="555" width="514" height="488"/></clipPath>
</defs>
<line x1="206.4" y1="3.9" x2="206.4" y2="539" stroke="#fff" stroke-width="3.8" stroke-dasharray="10.8 11.7" clip-path="url(#ca)"/>
<line x1="748.6" y1="3.9" x2="748.6" y2="541" stroke="#fff" stroke-width="3.8" stroke-dasharray="10.8 11.7" clip-path="url(#cb)"/>
<line x1="1293.8" y1="2.8" x2="1293.8" y2="543" stroke="#fff" stroke-width="3.8" stroke-dasharray="10.8 11.7" clip-path="url(#cc)"/>
<line x1="205.1" y1="507.4" x2="205.1" y2="1046" stroke="#fff" stroke-width="3.8" stroke-dasharray="10.8 11.7" clip-path="url(#cd)"/>
<line x1="748.6" y1="507.4" x2="748.6" y2="1048" stroke="#fff" stroke-width="3.8" stroke-dasharray="10.8 11.7" clip-path="url(#ce)"/>
<line x1="1291.7" y1="507.4" x2="1291.7" y2="1048" stroke="#fff" stroke-width="3.8" stroke-dasharray="10.8 11.7" clip-path="url(#cf)"/>
<line x1="-33.7" y1="691.9" x2="724.8" y2="-117.9" stroke="#fff" stroke-width="3.4" stroke-dasharray="17 14.7" clip-path="url(#ca)"/>
<line x1="509.8" y1="691.9" x2="1268.3" y2="-117.9" stroke="#fff" stroke-width="3.4" stroke-dasharray="17 14.7" clip-path="url(#cb)"/>
<line x1="1057.2" y1="695.2" x2="1810.7" y2="-119.2" stroke="#fff" stroke-width="3.4" stroke-dasharray="17 14.7" clip-path="url(#cc)"/>
<line x1="-32.6" y1="1199.6" x2="722.8" y2="387.0" stroke="#fff" stroke-width="3.4" stroke-dasharray="17 14.7" clip-path="url(#cd)"/>
<line x1="510.4" y1="1199.6" x2="1265.8" y2="387.0" stroke="#fff" stroke-width="3.4" stroke-dasharray="17 14.7" clip-path="url(#ce)"/>
<line x1="1053.4" y1="1199.6" x2="1808.8" y2="387.0" stroke="#fff" stroke-width="3.4" stroke-dasharray="17 14.7" clip-path="url(#cf)"/>
<line x1="379.7" y1="162.0" x2="455.7" y2="169.9" stroke="#ff1470" stroke-width="3.6" stroke-linecap="round"/><polygon points="477.6,172.2 452.9,177.7 454.6,161.8" fill="#ff1470" stroke="#ff1470" stroke-width="1" stroke-linejoin="round"/>
<line x1="506.5" y1="329.3" x2="456.1" y2="304.0" stroke="#ff8c1a" stroke-width="3.6" stroke-linecap="round"/><polygon points="436.4,294.2 461.4,297.8 454.3,312.1" fill="#ff8c1a" stroke="#ff8c1a" stroke-width="1" stroke-linejoin="round"/>
<line x1="541.4" y1="521.6" x2="553.2" y2="608.8" stroke="#ff8c1a" stroke-width="3.6" stroke-linecap="round"/><polygon points="556.2,630.6 545.0,607.9 560.9,605.7" fill="#ff8c1a" stroke="#ff8c1a" stroke-width="1" stroke-linejoin="round"/>
<line x1="604.7" y1="678.7" x2="604.5" y2="613.9" stroke="#ff1470" stroke-width="3.6" stroke-linecap="round"/><polygon points="604.4,591.9 612.5,615.9 596.5,615.9" fill="#ff1470" stroke="#ff1470" stroke-width="1" stroke-linejoin="round"/>
<line x1="1549.9" y1="435.2" x2="1491.8" y2="437.5" stroke="#fff" stroke-width="3.6" stroke-linecap="round"/><polygon points="1467.8,438.5 1493.5,429.5 1494.1,445.4" fill="#fff" stroke="#fff" stroke-width="1" stroke-linejoin="round"/>
<line x1="1557.6" y1="496.8" x2="1528.0" y2="498.8" stroke="#fff" stroke-width="3.6" stroke-linecap="round"/><polygon points="1504.1,500.4 1529.5,490.7 1530.6,506.6" fill="#fff" stroke="#fff" stroke-width="1" stroke-linejoin="round"/>
<line x1="1499.8" y1="900.0" x2="1553.0" y2="898.3" stroke="#000" stroke-width="3.6" stroke-linecap="round"/><polygon points="1576.0,897.6 1551.2,905.9 1550.8,890.9" fill="#000" stroke="#000" stroke-width="1" stroke-linejoin="round"/>
<line x1="1521.5" y1="989.8" x2="1595.7" y2="989.6" stroke="#000" stroke-width="3.6" stroke-linecap="round"/><polygon points="1618.7,989.5 1593.7,997.1 1593.7,982.1" fill="#000" stroke="#000" stroke-width="1" stroke-linejoin="round"/>
<text x="287.3" y="30.5" font-size="43.00" fill="#000" textLength="185.2" lengthAdjust="spacingAndGlyphs">Reflection</text>
<text x="801.8" y="30.6" font-size="43.00" fill="#000" textLength="250.7" lengthAdjust="spacingAndGlyphs">Transmission</text>
<text x="1391.3" y="30.3" font-size="43.00" fill="#000" textLength="201.2" lengthAdjust="spacingAndGlyphs">Absorption</text>
<text x="63.0" y="57.0" font-size="44.20" fill="#000">1.5</text>
<text x="61.9" y="160.3" font-size="43.34" fill="#000">1.3</text>
<text x="65.5" y="262.6" font-size="42.07" fill="#000">1.1</text>
<text x="63.9" y="353.7" font-size="43.91" fill="#000">0.9</text>
<text x="63.7" y="451.7" font-size="42.20" fill="#000">0.7</text>
<text x="66.6" y="540.1" font-size="43.91" fill="#000">0.5</text>
<text x="61.9" y="584.6" font-size="43.91" fill="#000">1.5</text>
<text x="61.9" y="681.0" font-size="44.11" fill="#000">1.3</text>
<text x="63.4" y="781.2" font-size="42.07" fill="#000">1.1</text>
<text x="62.1" y="868.9" font-size="43.20" fill="#000">0.9</text>
<text x="62.1" y="966.0" font-size="43.34" fill="#000">0.7</text>
<text x="64.8" y="1057.1" font-size="43.34" fill="#000">0.5</text>
<text x="170.8" y="1089.7" font-size="41.94" fill="#000">1</text>
<text x="298.6" y="1091.2" font-size="42.20" fill="#000">1.5</text>
<text x="468.1" y="1091.0" font-size="41.94" fill="#000">2</text>
<text x="605.5" y="1091.2" font-size="42.20" fill="#000">2.5</text>
<text x="710.2" y="1086.9" font-size="41.01" fill="#000">1</text>
<text x="839.0" y="1087.1" font-size="40.87" fill="#000">1.5</text>
<text x="1011.1" y="1089.0" font-size="38.76" fill="#000">2</text>
<text x="1146.8" y="1086.9" font-size="42.02" fill="#000">2.5</text>
<text x="1253.8" y="1083.4" font-size="39.81" fill="#000">1</text>
<text x="1374.2" y="1085.7" font-size="43.33" fill="#000">1.5</text>
<text x="1563.0" y="1086.9" font-size="40.57" fill="#000">2</text>
<text x="1699.2" y="1085.2" font-size="45.48" fill="#000">2.5</text>
<text x="1798.0" y="70.3" font-size="44.25" fill="#000">1</text>
<text x="1790.9" y="260.0" font-size="43.91" fill="#000">0.8</text>
<text x="1791.0" y="462.8" font-size="42.82" fill="#000">0.6</text>
<text x="1789.0" y="662.4" font-size="41.26" fill="#000">0.4</text>
<text x="1792.3" y="864.0" font-size="41.26" fill="#000">0.2</text>
<text x="1796.5" y="1057.4" font-size="43.22" fill="#000">0</text>
<text x="137.0" y="94.0" font-size="48.25" fill="#fff" font-weight="bold" textLength="57.2" lengthAdjust="spacingAndGlyphs">(a)</text>
<text x="676.7" y="96.3" font-size="47.08" fill="#000" font-weight="bold" textLength="60.1" lengthAdjust="spacingAndGlyphs">(b)</text>
<text x="1221.4" y="90.8" font-size="47.07" fill="#fff" font-weight="bold" textLength="58.4" lengthAdjust="spacingAndGlyphs">(c)</text>
<text x="132.1" y="602.3" font-size="47.08" fill="#fff" font-weight="bold" textLength="59.5" lengthAdjust="spacingAndGlyphs">(d)</text>
<text x="675.4" y="603.7" font-size="46.43" fill="#000" font-weight="bold" textLength="57.5" lengthAdjust="spacingAndGlyphs">(e)</text>
<text x="1220.1" y="607.5" font-size="46.77" fill="#fff" font-weight="bold" textLength="46.3" lengthAdjust="spacingAndGlyphs">(f)</text>
<text x="236.6" y="175.0" font-size="37.70" fill="#ff1470" textLength="139.6" lengthAdjust="spacingAndGlyphs">ED-SLR</text>
<text x="502.0" y="743.0" font-size="38.48" fill="#ff1470" textLength="139.7" lengthAdjust="spacingAndGlyphs">ED-SLR</text>
<text x="455.1" y="370.4" font-size="36.30" fill="#ff8c1a" textLength="158.9" lengthAdjust="spacingAndGlyphs">Resonant</text>
<text x="455.1" y="418.3" font-size="33.35" fill="#ff8c1a" textLength="109.5" lengthAdjust="spacingAndGlyphs">Lattice</text>
<text x="455.1" y="465.0" font-size="31.94" fill="#ff8c1a" textLength="110.4" lengthAdjust="spacingAndGlyphs">Kerker</text>
<text x="457.1" y="511.2" font-size="33.95" fill="#ff8c1a" textLength="89.7" lengthAdjust="spacingAndGlyphs">effect</text>
<text x="1564.9" y="451.0" font-size="37.70" fill="#fff" textLength="80.7" lengthAdjust="spacingAndGlyphs">EDR</text>
<text x="1563.7" y="510.7" font-size="38.65" fill="#fff" textLength="88.5" lengthAdjust="spacingAndGlyphs">MDR</text>
<text x="1409.7" y="915.1" font-size="37.99" fill="#000" textLength="82.2" lengthAdjust="spacingAndGlyphs">EDR</text>
<text x="1414.8" y="1009.4" font-size="36.94" fill="#000" textLength="88.2" lengthAdjust="spacingAndGlyphs">MDR</text>
<text x="242.2" y="1132.0" font-size="41.00" fill="#000" textLength="317.4" lengthAdjust="spacingAndGlyphs">Wavelength <tspan font-family="Liberation Serif">(μ</tspan>m<tspan font-family="Liberation Serif">)</tspan></text>
<text x="804.0" y="1132.0" font-size="41.00" fill="#000" textLength="317.0" lengthAdjust="spacingAndGlyphs">Wavelength <tspan font-family="Liberation Serif">(μ</tspan>m<tspan font-family="Liberation Serif">)</tspan></text>
<text x="1348.4" y="1132.0" font-size="41.00" fill="#000" textLength="318.2" lengthAdjust="spacingAndGlyphs">Wavelength <tspan font-family="Liberation Serif">(μ</tspan>m<tspan font-family="Liberation Serif">)</tspan></text>
<text x="856.9" y="92.8" font-size="41.24" fill="#000" textLength="138.3" lengthAdjust="spacingAndGlyphs"><tspan font-style="italic">m</tspan> = 0.5</text>
<text x="848.9" y="606.5" font-size="42.63" fill="#000" textLength="137.4" lengthAdjust="spacingAndGlyphs"><tspan font-style="italic">m</tspan> = 1.0</text>
<text transform="translate(31,590.7) rotate(-90)" font-size="41"><tspan font-family="Liberation Serif">Λ</tspan><tspan font-size="26" dx="-3.5" dy="16.5">y</tspan><tspan dx="3.5" dy="-16.5" font-family="Liberation Serif"> (μ</tspan>m<tspan font-family="Liberation Serif">)</tspan></text>

</svg></body></html>
